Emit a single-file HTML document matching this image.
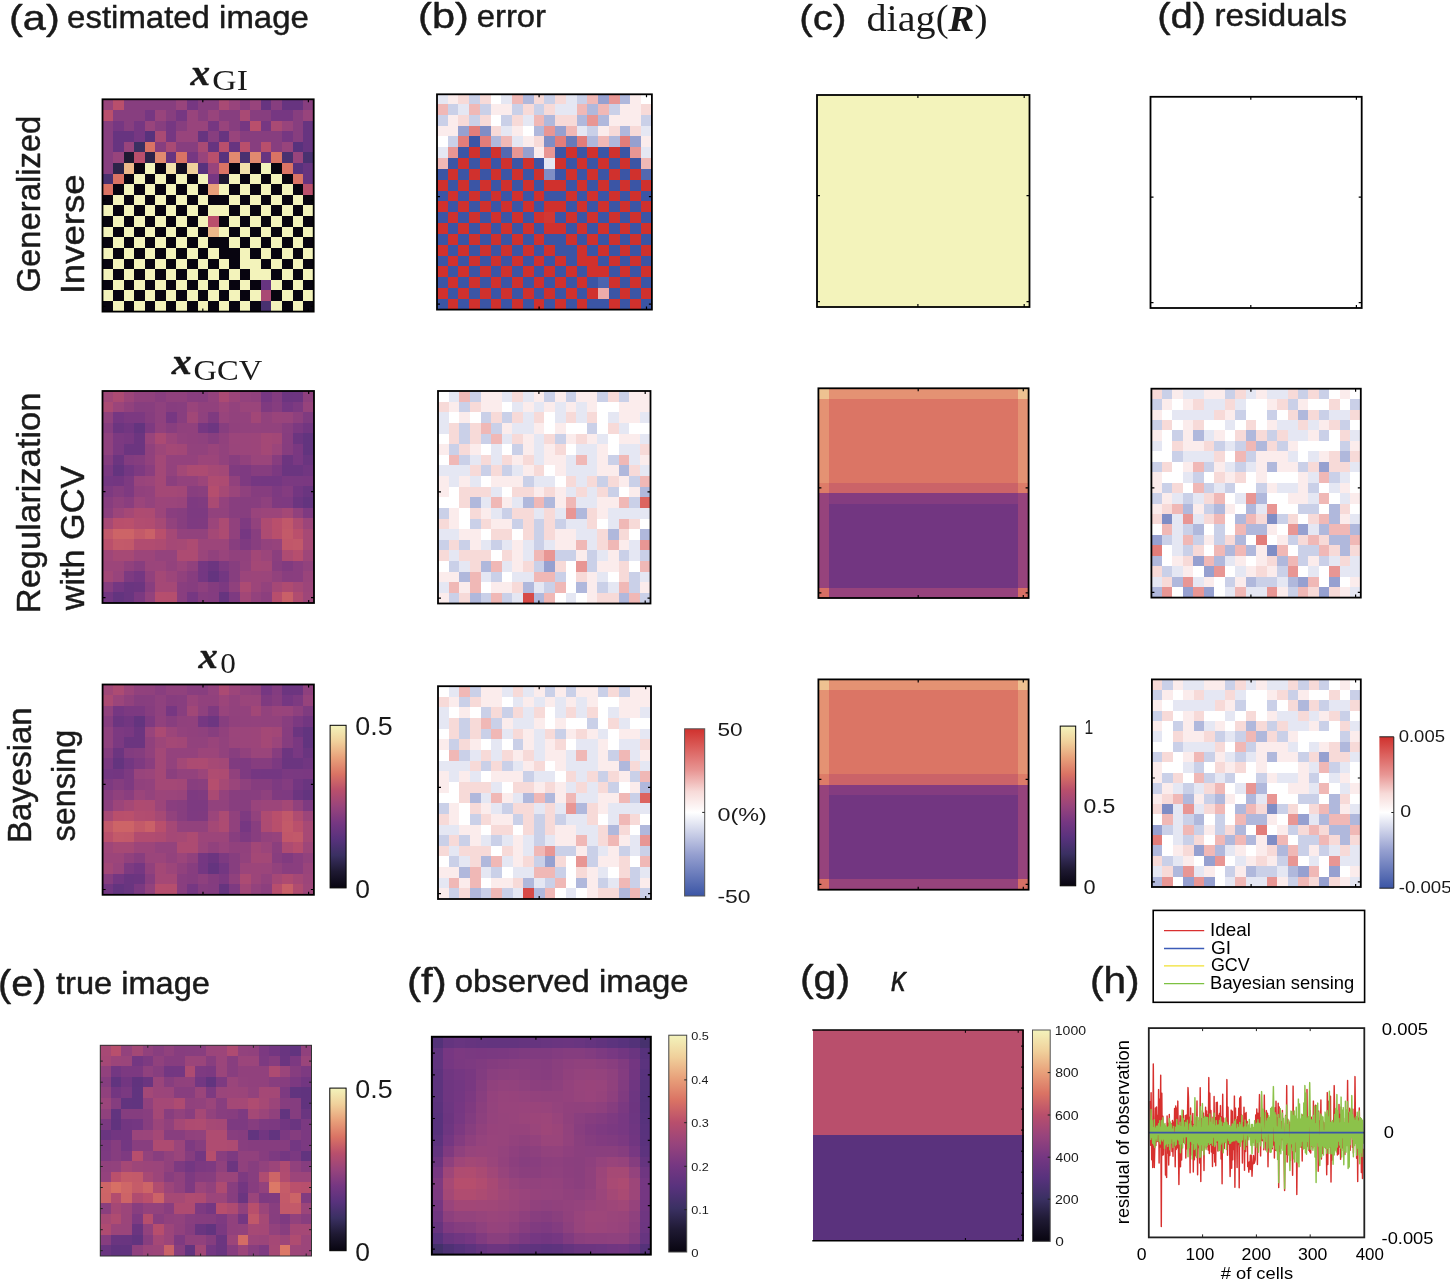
<!DOCTYPE html>
<html lang="en"><head><meta charset="utf-8"><title>Figure</title>
<style>html,body{margin:0;padding:0;background:#fff}svg{display:block}</style></head><body>
<svg width="1450" height="1285" viewBox="0 0 1450 1285">
<rect width="1450" height="1285" fill="#fff"/>
<text transform="translate(9.01 29.80) scale(1.1519 1.0000)" font-family="&quot;Liberation Sans&quot;,Arial,Helvetica,sans-serif" font-size="36.00" stroke="#1a1a1a" stroke-width="0.45" stroke-linejoin="round" fill="#1a1a1a">(a)</text>
<text transform="translate(67.11 28.40) scale(1.0299 1.0000)" font-family="&quot;Liberation Sans&quot;,Arial,Helvetica,sans-serif" font-size="32.00" stroke="#1a1a1a" stroke-width="0.45" stroke-linejoin="round" fill="#1a1a1a">estimated image</text>
<text transform="translate(418.11 27.60) scale(1.1519 1.0000)" font-family="&quot;Liberation Sans&quot;,Arial,Helvetica,sans-serif" font-size="36.00" stroke="#1a1a1a" stroke-width="0.45" stroke-linejoin="round" fill="#1a1a1a">(b)</text>
<text transform="translate(476.72 26.80) scale(1.0258 1.0000)" font-family="&quot;Liberation Sans&quot;,Arial,Helvetica,sans-serif" font-size="32.00" stroke="#1a1a1a" stroke-width="0.45" stroke-linejoin="round" fill="#1a1a1a">error</text>
<text transform="translate(799.27 29.60) scale(1.1227 1.0000)" font-family="&quot;Liberation Sans&quot;,Arial,Helvetica,sans-serif" font-size="36.00" stroke="#1a1a1a" stroke-width="0.45" stroke-linejoin="round" fill="#1a1a1a">(c)</text>
<text transform="translate(866.55 30.70) scale(1.0834 1.0000)" font-family="&quot;Liberation Serif&quot;,&quot;Times New Roman&quot;,serif" font-size="37.00" fill="#1a1a1a">diag</text>
<text transform="translate(935.63 30.70) scale(1.0462 1.0000)" font-family="&quot;Liberation Serif&quot;,&quot;Times New Roman&quot;,serif" font-size="37.00" fill="#1a1a1a">(</text>
<text transform="translate(948.30 30.70) scale(1.0739 1.0000)" font-family="&quot;Liberation Serif&quot;,&quot;Times New Roman&quot;,serif" font-size="36.50" font-weight="bold" font-style="italic" fill="#1a1a1a">R</text>
<text transform="translate(974.57 30.70) scale(1.0632 1.0000)" font-family="&quot;Liberation Serif&quot;,&quot;Times New Roman&quot;,serif" font-size="37.00" fill="#1a1a1a">)</text>
<text transform="translate(1157.19 28.00) scale(1.1139 1.0000)" font-family="&quot;Liberation Sans&quot;,Arial,Helvetica,sans-serif" font-size="36.00" stroke="#1a1a1a" stroke-width="0.45" stroke-linejoin="round" fill="#1a1a1a">(d)</text>
<text transform="translate(1214.53 25.80) scale(1.0341 1.0000)" font-family="&quot;Liberation Sans&quot;,Arial,Helvetica,sans-serif" font-size="32.00" stroke="#1a1a1a" stroke-width="0.45" stroke-linejoin="round" fill="#1a1a1a">residuals</text>
<text transform="translate(-1.98 995.50) scale(1.1013 1.0000)" font-family="&quot;Liberation Sans&quot;,Arial,Helvetica,sans-serif" font-size="36.00" stroke="#1a1a1a" stroke-width="0.45" stroke-linejoin="round" fill="#1a1a1a">(e)</text>
<text transform="translate(55.99 994.00) scale(1.0187 1.0000)" font-family="&quot;Liberation Sans&quot;,Arial,Helvetica,sans-serif" font-size="32.00" stroke="#1a1a1a" stroke-width="0.45" stroke-linejoin="round" fill="#1a1a1a">true image</text>
<text transform="translate(407.08 993.60) scale(1.1661 1.0000)" font-family="&quot;Liberation Sans&quot;,Arial,Helvetica,sans-serif" font-size="36.00" stroke="#1a1a1a" stroke-width="0.45" stroke-linejoin="round" fill="#1a1a1a">(f)</text>
<text transform="translate(454.72 992.00) scale(1.0273 1.0000)" font-family="&quot;Liberation Sans&quot;,Arial,Helvetica,sans-serif" font-size="32.00" stroke="#1a1a1a" stroke-width="0.45" stroke-linejoin="round" fill="#1a1a1a">observed image</text>
<text transform="translate(799.90 990.50) scale(1.1092 1.0000)" font-family="&quot;Liberation Sans&quot;,Arial,Helvetica,sans-serif" font-size="37.00" stroke="#1a1a1a" stroke-width="0.45" stroke-linejoin="round" fill="#1a1a1a">(g)</text>
<text transform="translate(890.88 991.00) scale(0.8438 1.0000)" font-family="&quot;Liberation Sans&quot;,Arial,Helvetica,sans-serif" font-size="35.00" font-style="italic" stroke="#1a1a1a" stroke-width="0.45" stroke-linejoin="round" fill="#1a1a1a">κ</text>
<text transform="translate(1089.93 992.70) scale(1.0969 1.0000)" font-family="&quot;Liberation Sans&quot;,Arial,Helvetica,sans-serif" font-size="37.00" stroke="#1a1a1a" stroke-width="0.45" stroke-linejoin="round" fill="#1a1a1a">(h)</text>
<text transform="translate(190.55 85.00) scale(1.1086 1.0000)" font-family="&quot;Liberation Serif&quot;,&quot;Times New Roman&quot;,serif" font-size="35.50" font-weight="bold" font-style="italic" stroke="#1a1a1a" stroke-width="0.30" stroke-linejoin="round" fill="#1a1a1a">x</text>
<text transform="translate(212.27 90.00) scale(1.1443 1.0000)" font-family="&quot;Liberation Serif&quot;,&quot;Times New Roman&quot;,serif" font-size="29.50" fill="#1a1a1a">GI</text>
<text transform="translate(171.77 374.10) scale(1.1314 1.0000)" font-family="&quot;Liberation Serif&quot;,&quot;Times New Roman&quot;,serif" font-size="35.50" font-weight="bold" font-style="italic" stroke="#1a1a1a" stroke-width="0.30" stroke-linejoin="round" fill="#1a1a1a">x</text>
<text transform="translate(193.52 379.60) scale(1.1045 1.0000)" font-family="&quot;Liberation Serif&quot;,&quot;Times New Roman&quot;,serif" font-size="29.50" fill="#1a1a1a">GCV</text>
<text transform="translate(198.55 667.80) scale(1.0914 1.0000)" font-family="&quot;Liberation Serif&quot;,&quot;Times New Roman&quot;,serif" font-size="35.50" font-weight="bold" font-style="italic" stroke="#1a1a1a" stroke-width="0.30" stroke-linejoin="round" fill="#1a1a1a">x</text>
<text transform="translate(220.24 673.00) scale(1.0588 1.0000)" font-family="&quot;Liberation Serif&quot;,&quot;Times New Roman&quot;,serif" font-size="29.50" fill="#1a1a1a">0</text>
<text transform="translate(40.40 292.50) rotate(-90) scale(1.0000 1.0000)" font-family="&quot;Liberation Sans&quot;,Arial,Helvetica,sans-serif" font-size="32.80" stroke="#1a1a1a" stroke-width="0.45" stroke-linejoin="round" fill="#1a1a1a">Generalized</text>
<text transform="translate(83.70 294.35) rotate(-90) scale(1.1165 1.0000)" font-family="&quot;Liberation Sans&quot;,Arial,Helvetica,sans-serif" font-size="32.80" stroke="#1a1a1a" stroke-width="0.45" stroke-linejoin="round" fill="#1a1a1a">Inverse</text>
<text transform="translate(40.40 613.30) rotate(-90) scale(1.0533 1.0000)" font-family="&quot;Liberation Sans&quot;,Arial,Helvetica,sans-serif" font-size="32.80" stroke="#1a1a1a" stroke-width="0.45" stroke-linejoin="round" fill="#1a1a1a">Regularization</text>
<text transform="translate(83.70 610.20) rotate(-90) scale(1.0430 1.0000)" font-family="&quot;Liberation Sans&quot;,Arial,Helvetica,sans-serif" font-size="32.80" stroke="#1a1a1a" stroke-width="0.45" stroke-linejoin="round" fill="#1a1a1a">with GCV</text>
<text transform="translate(31.30 842.96) rotate(-90) scale(1.0050 1.0000)" font-family="&quot;Liberation Sans&quot;,Arial,Helvetica,sans-serif" font-size="32.80" stroke="#1a1a1a" stroke-width="0.45" stroke-linejoin="round" fill="#1a1a1a">Bayesian</text>
<text transform="translate(74.80 841.59) rotate(-90) scale(0.9895 1.0000)" font-family="&quot;Liberation Sans&quot;,Arial,Helvetica,sans-serif" font-size="32.80" stroke="#1a1a1a" stroke-width="0.45" stroke-linejoin="round" fill="#1a1a1a">sensing</text>
<g shape-rendering="crispEdges">
<rect x="102.50" y="99.30" width="10.86" height="10.91" fill="#98447c"/>
<rect x="113.06" y="99.30" width="10.86" height="10.91" fill="#b94f6c"/>
<rect x="123.62" y="99.30" width="53.10" height="10.91" fill="#873e7f"/>
<rect x="176.42" y="99.30" width="10.86" height="10.91" fill="#98447c"/>
<rect x="186.98" y="99.30" width="10.86" height="10.91" fill="#763782"/>
<rect x="197.54" y="99.30" width="21.42" height="10.91" fill="#873e7f"/>
<rect x="218.66" y="99.30" width="10.86" height="10.91" fill="#a94a74"/>
<rect x="229.22" y="99.30" width="10.86" height="10.91" fill="#98447c"/>
<rect x="239.78" y="99.30" width="10.86" height="10.91" fill="#873e7f"/>
<rect x="250.34" y="99.30" width="10.86" height="10.91" fill="#98447c"/>
<rect x="260.90" y="99.30" width="10.86" height="10.91" fill="#673480"/>
<rect x="271.46" y="99.30" width="10.86" height="10.91" fill="#873e7f"/>
<rect x="282.02" y="99.30" width="21.42" height="10.91" fill="#673480"/>
<rect x="303.14" y="99.30" width="10.86" height="10.91" fill="#873e7f"/>
<rect x="102.50" y="109.91" width="10.86" height="10.92" fill="#b94f6c"/>
<rect x="113.06" y="109.91" width="31.98" height="10.92" fill="#873e7f"/>
<rect x="144.74" y="109.91" width="10.86" height="10.92" fill="#763782"/>
<rect x="155.30" y="109.91" width="10.86" height="10.92" fill="#98447c"/>
<rect x="165.86" y="109.91" width="10.86" height="10.92" fill="#873e7f"/>
<rect x="176.42" y="109.91" width="10.86" height="10.92" fill="#763782"/>
<rect x="186.98" y="109.91" width="10.86" height="10.92" fill="#98447c"/>
<rect x="197.54" y="109.91" width="10.86" height="10.92" fill="#873e7f"/>
<rect x="208.10" y="109.91" width="10.86" height="10.92" fill="#98447c"/>
<rect x="218.66" y="109.91" width="21.42" height="10.92" fill="#873e7f"/>
<rect x="239.78" y="109.91" width="10.86" height="10.92" fill="#a94a74"/>
<rect x="250.34" y="109.91" width="21.42" height="10.92" fill="#873e7f"/>
<rect x="271.46" y="109.91" width="21.42" height="10.92" fill="#763782"/>
<rect x="292.58" y="109.91" width="10.86" height="10.92" fill="#873e7f"/>
<rect x="303.14" y="109.91" width="10.86" height="10.92" fill="#98447c"/>
<rect x="102.50" y="120.53" width="10.86" height="10.91" fill="#873e7f"/>
<rect x="113.06" y="120.53" width="10.86" height="10.91" fill="#763782"/>
<rect x="123.62" y="120.53" width="10.86" height="10.91" fill="#873e7f"/>
<rect x="134.18" y="120.53" width="10.86" height="10.91" fill="#763782"/>
<rect x="144.74" y="120.53" width="10.86" height="10.91" fill="#98447c"/>
<rect x="155.30" y="120.53" width="10.86" height="10.91" fill="#873e7f"/>
<rect x="165.86" y="120.53" width="10.86" height="10.91" fill="#763782"/>
<rect x="176.42" y="120.53" width="10.86" height="10.91" fill="#873e7f"/>
<rect x="186.98" y="120.53" width="21.42" height="10.91" fill="#98447c"/>
<rect x="208.10" y="120.53" width="10.86" height="10.91" fill="#763782"/>
<rect x="218.66" y="120.53" width="10.86" height="10.91" fill="#98447c"/>
<rect x="229.22" y="120.53" width="10.86" height="10.91" fill="#873e7f"/>
<rect x="239.78" y="120.53" width="10.86" height="10.91" fill="#763782"/>
<rect x="250.34" y="120.53" width="10.86" height="10.91" fill="#b94f6c"/>
<rect x="260.90" y="120.53" width="10.86" height="10.91" fill="#763782"/>
<rect x="271.46" y="120.53" width="10.86" height="10.91" fill="#a94a74"/>
<rect x="282.02" y="120.53" width="10.86" height="10.91" fill="#98447c"/>
<rect x="292.58" y="120.53" width="10.86" height="10.91" fill="#873e7f"/>
<rect x="303.14" y="120.53" width="10.86" height="10.91" fill="#673480"/>
<rect x="102.50" y="131.14" width="10.86" height="10.92" fill="#873e7f"/>
<rect x="113.06" y="131.14" width="21.42" height="10.92" fill="#673480"/>
<rect x="134.18" y="131.14" width="10.86" height="10.92" fill="#763782"/>
<rect x="144.74" y="131.14" width="10.86" height="10.92" fill="#58327d"/>
<rect x="155.30" y="131.14" width="10.86" height="10.92" fill="#a94a74"/>
<rect x="165.86" y="131.14" width="10.86" height="10.92" fill="#763782"/>
<rect x="176.42" y="131.14" width="21.42" height="10.92" fill="#98447c"/>
<rect x="197.54" y="131.14" width="10.86" height="10.92" fill="#673480"/>
<rect x="208.10" y="131.14" width="10.86" height="10.92" fill="#873e7f"/>
<rect x="218.66" y="131.14" width="10.86" height="10.92" fill="#673480"/>
<rect x="229.22" y="131.14" width="10.86" height="10.92" fill="#98447c"/>
<rect x="239.78" y="131.14" width="42.54" height="10.92" fill="#873e7f"/>
<rect x="282.02" y="131.14" width="10.86" height="10.92" fill="#763782"/>
<rect x="292.58" y="131.14" width="10.86" height="10.92" fill="#873e7f"/>
<rect x="303.14" y="131.14" width="10.86" height="10.92" fill="#673480"/>
<rect x="102.50" y="141.76" width="10.86" height="10.92" fill="#873e7f"/>
<rect x="113.06" y="141.76" width="10.86" height="10.92" fill="#673480"/>
<rect x="123.62" y="141.76" width="10.86" height="10.92" fill="#98447c"/>
<rect x="134.18" y="141.76" width="10.86" height="10.92" fill="#3a3062"/>
<rect x="144.74" y="141.76" width="10.86" height="10.92" fill="#da7364"/>
<rect x="155.30" y="141.76" width="10.86" height="10.92" fill="#873e7f"/>
<rect x="165.86" y="141.76" width="10.86" height="10.92" fill="#a94a74"/>
<rect x="176.42" y="141.76" width="21.42" height="10.92" fill="#873e7f"/>
<rect x="197.54" y="141.76" width="10.86" height="10.92" fill="#a94a74"/>
<rect x="208.10" y="141.76" width="10.86" height="10.92" fill="#673480"/>
<rect x="218.66" y="141.76" width="10.86" height="10.92" fill="#b94f6c"/>
<rect x="229.22" y="141.76" width="10.86" height="10.92" fill="#673480"/>
<rect x="239.78" y="141.76" width="10.86" height="10.92" fill="#b94f6c"/>
<rect x="250.34" y="141.76" width="10.86" height="10.92" fill="#873e7f"/>
<rect x="260.90" y="141.76" width="10.86" height="10.92" fill="#b94f6c"/>
<rect x="271.46" y="141.76" width="10.86" height="10.92" fill="#873e7f"/>
<rect x="282.02" y="141.76" width="10.86" height="10.92" fill="#98447c"/>
<rect x="292.58" y="141.76" width="10.86" height="10.92" fill="#58327d"/>
<rect x="303.14" y="141.76" width="10.86" height="10.92" fill="#673480"/>
<rect x="102.50" y="152.38" width="10.86" height="10.92" fill="#873e7f"/>
<rect x="113.06" y="152.38" width="10.86" height="10.92" fill="#98447c"/>
<rect x="123.62" y="152.38" width="10.86" height="10.92" fill="#1e1932"/>
<rect x="134.18" y="152.38" width="10.86" height="10.92" fill="#b94f6c"/>
<rect x="144.74" y="152.38" width="10.86" height="10.92" fill="#2c244a"/>
<rect x="155.30" y="152.38" width="10.86" height="10.92" fill="#e18a6f"/>
<rect x="165.86" y="152.38" width="10.86" height="10.92" fill="#673480"/>
<rect x="176.42" y="152.38" width="10.86" height="10.92" fill="#da7364"/>
<rect x="186.98" y="152.38" width="10.86" height="10.92" fill="#763782"/>
<rect x="197.54" y="152.38" width="10.86" height="10.92" fill="#98447c"/>
<rect x="208.10" y="152.38" width="10.86" height="10.92" fill="#b94f6c"/>
<rect x="218.66" y="152.38" width="10.86" height="10.92" fill="#58327d"/>
<rect x="229.22" y="152.38" width="10.86" height="10.92" fill="#e18a6f"/>
<rect x="239.78" y="152.38" width="10.86" height="10.92" fill="#493170"/>
<rect x="250.34" y="152.38" width="10.86" height="10.92" fill="#e18a6f"/>
<rect x="260.90" y="152.38" width="10.86" height="10.92" fill="#673480"/>
<rect x="271.46" y="152.38" width="10.86" height="10.92" fill="#da7364"/>
<rect x="282.02" y="152.38" width="10.86" height="10.92" fill="#493170"/>
<rect x="292.58" y="152.38" width="10.86" height="10.92" fill="#98447c"/>
<rect x="303.14" y="152.38" width="10.86" height="10.92" fill="#493170"/>
<rect x="102.50" y="162.99" width="10.86" height="10.92" fill="#873e7f"/>
<rect x="113.06" y="162.99" width="10.86" height="10.92" fill="#2c244a"/>
<rect x="123.62" y="162.99" width="10.86" height="10.92" fill="#ecb88a"/>
<rect x="134.18" y="162.99" width="10.86" height="10.92" fill="#080510"/>
<rect x="144.74" y="162.99" width="10.86" height="10.92" fill="#f3f3bb"/>
<rect x="155.30" y="162.99" width="10.86" height="10.92" fill="#080510"/>
<rect x="165.86" y="162.99" width="10.86" height="10.92" fill="#f2e1ab"/>
<rect x="176.42" y="162.99" width="10.86" height="10.92" fill="#130f21"/>
<rect x="186.98" y="162.99" width="10.86" height="10.92" fill="#f0d09b"/>
<rect x="197.54" y="162.99" width="10.86" height="10.92" fill="#58327d"/>
<rect x="208.10" y="162.99" width="10.86" height="10.92" fill="#98447c"/>
<rect x="218.66" y="162.99" width="10.86" height="10.92" fill="#da7364"/>
<rect x="229.22" y="162.99" width="10.86" height="10.92" fill="#080510"/>
<rect x="239.78" y="162.99" width="10.86" height="10.92" fill="#f2e1ab"/>
<rect x="250.34" y="162.99" width="10.86" height="10.92" fill="#080510"/>
<rect x="260.90" y="162.99" width="10.86" height="10.92" fill="#f3f3bb"/>
<rect x="271.46" y="162.99" width="10.86" height="10.92" fill="#080510"/>
<rect x="282.02" y="162.99" width="10.86" height="10.92" fill="#da7364"/>
<rect x="292.58" y="162.99" width="10.86" height="10.92" fill="#58327d"/>
<rect x="303.14" y="162.99" width="10.86" height="10.92" fill="#673480"/>
<rect x="102.50" y="173.61" width="10.86" height="10.91" fill="#493170"/>
<rect x="113.06" y="173.61" width="10.86" height="10.91" fill="#da7364"/>
<rect x="123.62" y="173.61" width="10.86" height="10.91" fill="#080510"/>
<rect x="134.18" y="173.61" width="10.86" height="10.91" fill="#f3f3bb"/>
<rect x="144.74" y="173.61" width="10.86" height="10.91" fill="#080510"/>
<rect x="155.30" y="173.61" width="10.86" height="10.91" fill="#f3f3bb"/>
<rect x="165.86" y="173.61" width="10.86" height="10.91" fill="#080510"/>
<rect x="176.42" y="173.61" width="10.86" height="10.91" fill="#f3f3bb"/>
<rect x="186.98" y="173.61" width="10.86" height="10.91" fill="#080510"/>
<rect x="197.54" y="173.61" width="10.86" height="10.91" fill="#f3f3bb"/>
<rect x="208.10" y="173.61" width="10.86" height="10.91" fill="#763782"/>
<rect x="218.66" y="173.61" width="10.86" height="10.91" fill="#1e1932"/>
<rect x="229.22" y="173.61" width="10.86" height="10.91" fill="#f3f3bb"/>
<rect x="239.78" y="173.61" width="10.86" height="10.91" fill="#080510"/>
<rect x="250.34" y="173.61" width="10.86" height="10.91" fill="#f3f3bb"/>
<rect x="260.90" y="173.61" width="10.86" height="10.91" fill="#080510"/>
<rect x="271.46" y="173.61" width="10.86" height="10.91" fill="#f3f3bb"/>
<rect x="282.02" y="173.61" width="10.86" height="10.91" fill="#080510"/>
<rect x="292.58" y="173.61" width="10.86" height="10.91" fill="#da7364"/>
<rect x="303.14" y="173.61" width="10.86" height="10.91" fill="#673480"/>
<rect x="102.50" y="184.22" width="10.86" height="10.91" fill="#da7364"/>
<rect x="113.06" y="184.22" width="10.86" height="10.91" fill="#080510"/>
<rect x="123.62" y="184.22" width="10.86" height="10.91" fill="#f3f3bb"/>
<rect x="134.18" y="184.22" width="10.86" height="10.91" fill="#080510"/>
<rect x="144.74" y="184.22" width="10.86" height="10.91" fill="#f3f3bb"/>
<rect x="155.30" y="184.22" width="10.86" height="10.91" fill="#080510"/>
<rect x="165.86" y="184.22" width="10.86" height="10.91" fill="#f3f3bb"/>
<rect x="176.42" y="184.22" width="10.86" height="10.91" fill="#080510"/>
<rect x="186.98" y="184.22" width="10.86" height="10.91" fill="#f3f3bb"/>
<rect x="197.54" y="184.22" width="10.86" height="10.91" fill="#080510"/>
<rect x="208.10" y="184.22" width="10.86" height="10.91" fill="#e8a07a"/>
<rect x="218.66" y="184.22" width="10.86" height="10.91" fill="#f3f3bb"/>
<rect x="229.22" y="184.22" width="10.86" height="10.91" fill="#080510"/>
<rect x="239.78" y="184.22" width="10.86" height="10.91" fill="#f3f3bb"/>
<rect x="250.34" y="184.22" width="10.86" height="10.91" fill="#080510"/>
<rect x="260.90" y="184.22" width="10.86" height="10.91" fill="#f3f3bb"/>
<rect x="271.46" y="184.22" width="10.86" height="10.91" fill="#080510"/>
<rect x="282.02" y="184.22" width="10.86" height="10.91" fill="#f3f3bb"/>
<rect x="292.58" y="184.22" width="10.86" height="10.91" fill="#080510"/>
<rect x="303.14" y="184.22" width="10.86" height="10.91" fill="#b94f6c"/>
<rect x="102.50" y="194.83" width="10.86" height="10.92" fill="#080510"/>
<rect x="113.06" y="194.83" width="10.86" height="10.92" fill="#f3f3bb"/>
<rect x="123.62" y="194.83" width="10.86" height="10.92" fill="#080510"/>
<rect x="134.18" y="194.83" width="10.86" height="10.92" fill="#f3f3bb"/>
<rect x="144.74" y="194.83" width="10.86" height="10.92" fill="#080510"/>
<rect x="155.30" y="194.83" width="10.86" height="10.92" fill="#f3f3bb"/>
<rect x="165.86" y="194.83" width="10.86" height="10.92" fill="#080510"/>
<rect x="176.42" y="194.83" width="10.86" height="10.92" fill="#f3f3bb"/>
<rect x="186.98" y="194.83" width="10.86" height="10.92" fill="#080510"/>
<rect x="197.54" y="194.83" width="10.86" height="10.92" fill="#f3f3bb"/>
<rect x="208.10" y="194.83" width="21.42" height="10.92" fill="#080510"/>
<rect x="229.22" y="194.83" width="10.86" height="10.92" fill="#f3f3bb"/>
<rect x="239.78" y="194.83" width="10.86" height="10.92" fill="#080510"/>
<rect x="250.34" y="194.83" width="10.86" height="10.92" fill="#f3f3bb"/>
<rect x="260.90" y="194.83" width="10.86" height="10.92" fill="#080510"/>
<rect x="271.46" y="194.83" width="10.86" height="10.92" fill="#f3f3bb"/>
<rect x="282.02" y="194.83" width="10.86" height="10.92" fill="#080510"/>
<rect x="292.58" y="194.83" width="10.86" height="10.92" fill="#f3f3bb"/>
<rect x="303.14" y="194.83" width="10.86" height="10.92" fill="#080510"/>
<rect x="102.50" y="205.45" width="10.86" height="10.92" fill="#f3f3bb"/>
<rect x="113.06" y="205.45" width="10.86" height="10.92" fill="#080510"/>
<rect x="123.62" y="205.45" width="10.86" height="10.92" fill="#f3f3bb"/>
<rect x="134.18" y="205.45" width="10.86" height="10.92" fill="#080510"/>
<rect x="144.74" y="205.45" width="10.86" height="10.92" fill="#f3f3bb"/>
<rect x="155.30" y="205.45" width="10.86" height="10.92" fill="#080510"/>
<rect x="165.86" y="205.45" width="10.86" height="10.92" fill="#f3f3bb"/>
<rect x="176.42" y="205.45" width="10.86" height="10.92" fill="#080510"/>
<rect x="186.98" y="205.45" width="10.86" height="10.92" fill="#f3f3bb"/>
<rect x="197.54" y="205.45" width="10.86" height="10.92" fill="#080510"/>
<rect x="208.10" y="205.45" width="21.42" height="10.92" fill="#f3f3bb"/>
<rect x="229.22" y="205.45" width="10.86" height="10.92" fill="#080510"/>
<rect x="239.78" y="205.45" width="10.86" height="10.92" fill="#f3f3bb"/>
<rect x="250.34" y="205.45" width="10.86" height="10.92" fill="#080510"/>
<rect x="260.90" y="205.45" width="10.86" height="10.92" fill="#f3f3bb"/>
<rect x="271.46" y="205.45" width="10.86" height="10.92" fill="#080510"/>
<rect x="282.02" y="205.45" width="10.86" height="10.92" fill="#f3f3bb"/>
<rect x="292.58" y="205.45" width="10.86" height="10.92" fill="#080510"/>
<rect x="303.14" y="205.45" width="10.86" height="10.92" fill="#f3f3bb"/>
<rect x="102.50" y="216.06" width="10.86" height="10.92" fill="#080510"/>
<rect x="113.06" y="216.06" width="10.86" height="10.92" fill="#f3f3bb"/>
<rect x="123.62" y="216.06" width="10.86" height="10.92" fill="#080510"/>
<rect x="134.18" y="216.06" width="10.86" height="10.92" fill="#f3f3bb"/>
<rect x="144.74" y="216.06" width="10.86" height="10.92" fill="#080510"/>
<rect x="155.30" y="216.06" width="10.86" height="10.92" fill="#f3f3bb"/>
<rect x="165.86" y="216.06" width="10.86" height="10.92" fill="#080510"/>
<rect x="176.42" y="216.06" width="10.86" height="10.92" fill="#f3f3bb"/>
<rect x="186.98" y="216.06" width="10.86" height="10.92" fill="#080510"/>
<rect x="197.54" y="216.06" width="10.86" height="10.92" fill="#f3f3bb"/>
<rect x="208.10" y="216.06" width="10.86" height="10.92" fill="#b94f6c"/>
<rect x="218.66" y="216.06" width="10.86" height="10.92" fill="#080510"/>
<rect x="229.22" y="216.06" width="10.86" height="10.92" fill="#f3f3bb"/>
<rect x="239.78" y="216.06" width="10.86" height="10.92" fill="#080510"/>
<rect x="250.34" y="216.06" width="10.86" height="10.92" fill="#f3f3bb"/>
<rect x="260.90" y="216.06" width="10.86" height="10.92" fill="#080510"/>
<rect x="271.46" y="216.06" width="10.86" height="10.92" fill="#f3f3bb"/>
<rect x="282.02" y="216.06" width="10.86" height="10.92" fill="#080510"/>
<rect x="292.58" y="216.06" width="10.86" height="10.92" fill="#f3f3bb"/>
<rect x="303.14" y="216.06" width="10.86" height="10.92" fill="#080510"/>
<rect x="102.50" y="226.68" width="10.86" height="10.92" fill="#f3f3bb"/>
<rect x="113.06" y="226.68" width="10.86" height="10.92" fill="#080510"/>
<rect x="123.62" y="226.68" width="10.86" height="10.92" fill="#f3f3bb"/>
<rect x="134.18" y="226.68" width="10.86" height="10.92" fill="#080510"/>
<rect x="144.74" y="226.68" width="10.86" height="10.92" fill="#f3f3bb"/>
<rect x="155.30" y="226.68" width="10.86" height="10.92" fill="#080510"/>
<rect x="165.86" y="226.68" width="10.86" height="10.92" fill="#f3f3bb"/>
<rect x="176.42" y="226.68" width="10.86" height="10.92" fill="#080510"/>
<rect x="186.98" y="226.68" width="10.86" height="10.92" fill="#f3f3bb"/>
<rect x="197.54" y="226.68" width="10.86" height="10.92" fill="#080510"/>
<rect x="208.10" y="226.68" width="10.86" height="10.92" fill="#ecb88a"/>
<rect x="218.66" y="226.68" width="10.86" height="10.92" fill="#f3f3bb"/>
<rect x="229.22" y="226.68" width="10.86" height="10.92" fill="#080510"/>
<rect x="239.78" y="226.68" width="10.86" height="10.92" fill="#f3f3bb"/>
<rect x="250.34" y="226.68" width="10.86" height="10.92" fill="#080510"/>
<rect x="260.90" y="226.68" width="10.86" height="10.92" fill="#f3f3bb"/>
<rect x="271.46" y="226.68" width="10.86" height="10.92" fill="#080510"/>
<rect x="282.02" y="226.68" width="10.86" height="10.92" fill="#f3f3bb"/>
<rect x="292.58" y="226.68" width="10.86" height="10.92" fill="#080510"/>
<rect x="303.14" y="226.68" width="10.86" height="10.92" fill="#f3f3bb"/>
<rect x="102.50" y="237.30" width="10.86" height="10.92" fill="#080510"/>
<rect x="113.06" y="237.30" width="10.86" height="10.92" fill="#f3f3bb"/>
<rect x="123.62" y="237.30" width="10.86" height="10.92" fill="#080510"/>
<rect x="134.18" y="237.30" width="10.86" height="10.92" fill="#f3f3bb"/>
<rect x="144.74" y="237.30" width="10.86" height="10.92" fill="#080510"/>
<rect x="155.30" y="237.30" width="10.86" height="10.92" fill="#f3f3bb"/>
<rect x="165.86" y="237.30" width="10.86" height="10.92" fill="#080510"/>
<rect x="176.42" y="237.30" width="10.86" height="10.92" fill="#f3f3bb"/>
<rect x="186.98" y="237.30" width="10.86" height="10.92" fill="#080510"/>
<rect x="197.54" y="237.30" width="10.86" height="10.92" fill="#f3f3bb"/>
<rect x="208.10" y="237.30" width="21.42" height="10.92" fill="#080510"/>
<rect x="229.22" y="237.30" width="10.86" height="10.92" fill="#f3f3bb"/>
<rect x="239.78" y="237.30" width="10.86" height="10.92" fill="#080510"/>
<rect x="250.34" y="237.30" width="10.86" height="10.92" fill="#f3f3bb"/>
<rect x="260.90" y="237.30" width="10.86" height="10.92" fill="#080510"/>
<rect x="271.46" y="237.30" width="10.86" height="10.92" fill="#f3f3bb"/>
<rect x="282.02" y="237.30" width="10.86" height="10.92" fill="#080510"/>
<rect x="292.58" y="237.30" width="10.86" height="10.92" fill="#f3f3bb"/>
<rect x="303.14" y="237.30" width="10.86" height="10.92" fill="#080510"/>
<rect x="102.50" y="247.91" width="10.86" height="10.91" fill="#f3f3bb"/>
<rect x="113.06" y="247.91" width="10.86" height="10.91" fill="#080510"/>
<rect x="123.62" y="247.91" width="10.86" height="10.91" fill="#f3f3bb"/>
<rect x="134.18" y="247.91" width="10.86" height="10.91" fill="#080510"/>
<rect x="144.74" y="247.91" width="10.86" height="10.91" fill="#f3f3bb"/>
<rect x="155.30" y="247.91" width="10.86" height="10.91" fill="#080510"/>
<rect x="165.86" y="247.91" width="10.86" height="10.91" fill="#f3f3bb"/>
<rect x="176.42" y="247.91" width="10.86" height="10.91" fill="#080510"/>
<rect x="186.98" y="247.91" width="10.86" height="10.91" fill="#f3f3bb"/>
<rect x="197.54" y="247.91" width="10.86" height="10.91" fill="#080510"/>
<rect x="208.10" y="247.91" width="10.86" height="10.91" fill="#f3f3bb"/>
<rect x="218.66" y="247.91" width="21.42" height="10.91" fill="#080510"/>
<rect x="239.78" y="247.91" width="10.86" height="10.91" fill="#f3f3bb"/>
<rect x="250.34" y="247.91" width="10.86" height="10.91" fill="#080510"/>
<rect x="260.90" y="247.91" width="10.86" height="10.91" fill="#f3f3bb"/>
<rect x="271.46" y="247.91" width="10.86" height="10.91" fill="#080510"/>
<rect x="282.02" y="247.91" width="10.86" height="10.91" fill="#f3f3bb"/>
<rect x="292.58" y="247.91" width="10.86" height="10.91" fill="#080510"/>
<rect x="303.14" y="247.91" width="10.86" height="10.91" fill="#f3f3bb"/>
<rect x="102.50" y="258.52" width="10.86" height="10.92" fill="#080510"/>
<rect x="113.06" y="258.52" width="10.86" height="10.92" fill="#f3f3bb"/>
<rect x="123.62" y="258.52" width="10.86" height="10.92" fill="#080510"/>
<rect x="134.18" y="258.52" width="10.86" height="10.92" fill="#f3f3bb"/>
<rect x="144.74" y="258.52" width="10.86" height="10.92" fill="#080510"/>
<rect x="155.30" y="258.52" width="10.86" height="10.92" fill="#f3f3bb"/>
<rect x="165.86" y="258.52" width="10.86" height="10.92" fill="#080510"/>
<rect x="176.42" y="258.52" width="10.86" height="10.92" fill="#f3f3bb"/>
<rect x="186.98" y="258.52" width="10.86" height="10.92" fill="#080510"/>
<rect x="197.54" y="258.52" width="10.86" height="10.92" fill="#f3f3bb"/>
<rect x="208.10" y="258.52" width="10.86" height="10.92" fill="#080510"/>
<rect x="218.66" y="258.52" width="10.86" height="10.92" fill="#f3f3bb"/>
<rect x="229.22" y="258.52" width="10.86" height="10.92" fill="#080510"/>
<rect x="239.78" y="258.52" width="21.42" height="10.92" fill="#f3f3bb"/>
<rect x="260.90" y="258.52" width="10.86" height="10.92" fill="#080510"/>
<rect x="271.46" y="258.52" width="10.86" height="10.92" fill="#f3f3bb"/>
<rect x="282.02" y="258.52" width="10.86" height="10.92" fill="#080510"/>
<rect x="292.58" y="258.52" width="10.86" height="10.92" fill="#f3f3bb"/>
<rect x="303.14" y="258.52" width="10.86" height="10.92" fill="#080510"/>
<rect x="102.50" y="269.14" width="10.86" height="10.92" fill="#f3f3bb"/>
<rect x="113.06" y="269.14" width="10.86" height="10.92" fill="#080510"/>
<rect x="123.62" y="269.14" width="10.86" height="10.92" fill="#f3f3bb"/>
<rect x="134.18" y="269.14" width="10.86" height="10.92" fill="#080510"/>
<rect x="144.74" y="269.14" width="10.86" height="10.92" fill="#f3f3bb"/>
<rect x="155.30" y="269.14" width="10.86" height="10.92" fill="#080510"/>
<rect x="165.86" y="269.14" width="10.86" height="10.92" fill="#f3f3bb"/>
<rect x="176.42" y="269.14" width="10.86" height="10.92" fill="#080510"/>
<rect x="186.98" y="269.14" width="10.86" height="10.92" fill="#f3f3bb"/>
<rect x="197.54" y="269.14" width="10.86" height="10.92" fill="#080510"/>
<rect x="208.10" y="269.14" width="10.86" height="10.92" fill="#f3f3bb"/>
<rect x="218.66" y="269.14" width="10.86" height="10.92" fill="#080510"/>
<rect x="229.22" y="269.14" width="10.86" height="10.92" fill="#f3f3bb"/>
<rect x="239.78" y="269.14" width="10.86" height="10.92" fill="#080510"/>
<rect x="250.34" y="269.14" width="21.42" height="10.92" fill="#f3f3bb"/>
<rect x="271.46" y="269.14" width="10.86" height="10.92" fill="#080510"/>
<rect x="282.02" y="269.14" width="10.86" height="10.92" fill="#f3f3bb"/>
<rect x="292.58" y="269.14" width="10.86" height="10.92" fill="#080510"/>
<rect x="303.14" y="269.14" width="10.86" height="10.92" fill="#f3f3bb"/>
<rect x="102.50" y="279.75" width="10.86" height="10.92" fill="#080510"/>
<rect x="113.06" y="279.75" width="10.86" height="10.92" fill="#f3f3bb"/>
<rect x="123.62" y="279.75" width="10.86" height="10.92" fill="#080510"/>
<rect x="134.18" y="279.75" width="10.86" height="10.92" fill="#f3f3bb"/>
<rect x="144.74" y="279.75" width="10.86" height="10.92" fill="#080510"/>
<rect x="155.30" y="279.75" width="10.86" height="10.92" fill="#f3f3bb"/>
<rect x="165.86" y="279.75" width="10.86" height="10.92" fill="#080510"/>
<rect x="176.42" y="279.75" width="10.86" height="10.92" fill="#f3f3bb"/>
<rect x="186.98" y="279.75" width="10.86" height="10.92" fill="#080510"/>
<rect x="197.54" y="279.75" width="10.86" height="10.92" fill="#f3f3bb"/>
<rect x="208.10" y="279.75" width="10.86" height="10.92" fill="#080510"/>
<rect x="218.66" y="279.75" width="10.86" height="10.92" fill="#f3f3bb"/>
<rect x="229.22" y="279.75" width="10.86" height="10.92" fill="#080510"/>
<rect x="239.78" y="279.75" width="10.86" height="10.92" fill="#f3f3bb"/>
<rect x="250.34" y="279.75" width="10.86" height="10.92" fill="#080510"/>
<rect x="260.90" y="279.75" width="10.86" height="10.92" fill="#673480"/>
<rect x="271.46" y="279.75" width="10.86" height="10.92" fill="#f3f3bb"/>
<rect x="282.02" y="279.75" width="10.86" height="10.92" fill="#080510"/>
<rect x="292.58" y="279.75" width="10.86" height="10.92" fill="#f3f3bb"/>
<rect x="303.14" y="279.75" width="10.86" height="10.92" fill="#080510"/>
<rect x="102.50" y="290.37" width="10.86" height="10.92" fill="#f3f3bb"/>
<rect x="113.06" y="290.37" width="10.86" height="10.92" fill="#080510"/>
<rect x="123.62" y="290.37" width="10.86" height="10.92" fill="#f3f3bb"/>
<rect x="134.18" y="290.37" width="10.86" height="10.92" fill="#080510"/>
<rect x="144.74" y="290.37" width="10.86" height="10.92" fill="#f3f3bb"/>
<rect x="155.30" y="290.37" width="10.86" height="10.92" fill="#080510"/>
<rect x="165.86" y="290.37" width="10.86" height="10.92" fill="#f3f3bb"/>
<rect x="176.42" y="290.37" width="10.86" height="10.92" fill="#080510"/>
<rect x="186.98" y="290.37" width="10.86" height="10.92" fill="#f3f3bb"/>
<rect x="197.54" y="290.37" width="10.86" height="10.92" fill="#080510"/>
<rect x="208.10" y="290.37" width="10.86" height="10.92" fill="#f3f3bb"/>
<rect x="218.66" y="290.37" width="10.86" height="10.92" fill="#080510"/>
<rect x="229.22" y="290.37" width="10.86" height="10.92" fill="#f3f3bb"/>
<rect x="239.78" y="290.37" width="10.86" height="10.92" fill="#080510"/>
<rect x="250.34" y="290.37" width="10.86" height="10.92" fill="#f3f3bb"/>
<rect x="260.90" y="290.37" width="10.86" height="10.92" fill="#a94a74"/>
<rect x="271.46" y="290.37" width="10.86" height="10.92" fill="#080510"/>
<rect x="282.02" y="290.37" width="10.86" height="10.92" fill="#f3f3bb"/>
<rect x="292.58" y="290.37" width="10.86" height="10.92" fill="#080510"/>
<rect x="303.14" y="290.37" width="10.86" height="10.92" fill="#f3f3bb"/>
<rect x="102.50" y="300.99" width="10.86" height="10.92" fill="#080510"/>
<rect x="113.06" y="300.99" width="10.86" height="10.92" fill="#f3f3bb"/>
<rect x="123.62" y="300.99" width="10.86" height="10.92" fill="#080510"/>
<rect x="134.18" y="300.99" width="10.86" height="10.92" fill="#f3f3bb"/>
<rect x="144.74" y="300.99" width="10.86" height="10.92" fill="#080510"/>
<rect x="155.30" y="300.99" width="10.86" height="10.92" fill="#f3f3bb"/>
<rect x="165.86" y="300.99" width="10.86" height="10.92" fill="#080510"/>
<rect x="176.42" y="300.99" width="10.86" height="10.92" fill="#f3f3bb"/>
<rect x="186.98" y="300.99" width="10.86" height="10.92" fill="#080510"/>
<rect x="197.54" y="300.99" width="10.86" height="10.92" fill="#f3f3bb"/>
<rect x="208.10" y="300.99" width="10.86" height="10.92" fill="#080510"/>
<rect x="218.66" y="300.99" width="10.86" height="10.92" fill="#f3f3bb"/>
<rect x="229.22" y="300.99" width="10.86" height="10.92" fill="#080510"/>
<rect x="239.78" y="300.99" width="10.86" height="10.92" fill="#f3f3bb"/>
<rect x="250.34" y="300.99" width="10.86" height="10.92" fill="#080510"/>
<rect x="260.90" y="300.99" width="10.86" height="10.92" fill="#493170"/>
<rect x="271.46" y="300.99" width="10.86" height="10.92" fill="#f3f3bb"/>
<rect x="282.02" y="300.99" width="10.86" height="10.92" fill="#080510"/>
<rect x="292.58" y="300.99" width="10.86" height="10.92" fill="#f3f3bb"/>
<rect x="303.14" y="300.99" width="10.86" height="10.92" fill="#080510"/>
</g>
<rect x="102.50" y="99.30" width="211.20" height="212.30" fill="none" stroke="#000" stroke-width="1.80"/>
<g shape-rendering="crispEdges">
<rect x="437.00" y="94.30" width="11.05" height="10.02" fill="#e5e7f3"/>
<rect x="447.75" y="94.30" width="11.05" height="10.02" fill="#fbecec"/>
<rect x="458.49" y="94.30" width="11.05" height="10.02" fill="#f7dad8"/>
<rect x="469.24" y="94.30" width="11.05" height="10.02" fill="#cad0e8"/>
<rect x="479.98" y="94.30" width="11.05" height="10.02" fill="#f7dad8"/>
<rect x="490.73" y="94.30" width="11.05" height="10.02" fill="#ffffff"/>
<rect x="501.47" y="94.30" width="11.05" height="10.02" fill="#e5e7f3"/>
<rect x="512.22" y="94.30" width="11.05" height="10.02" fill="#f0b8b6"/>
<rect x="522.96" y="94.30" width="11.05" height="10.02" fill="#b0b8dc"/>
<rect x="533.71" y="94.30" width="11.05" height="10.02" fill="#f7dad8"/>
<rect x="544.45" y="94.30" width="11.04" height="10.02" fill="#cad0e8"/>
<rect x="555.19" y="94.30" width="11.05" height="10.02" fill="#f7dad8"/>
<rect x="565.94" y="94.30" width="11.04" height="10.02" fill="#e5e7f3"/>
<rect x="576.68" y="94.30" width="11.05" height="10.02" fill="#cad0e8"/>
<rect x="587.43" y="94.30" width="11.05" height="10.02" fill="#f0b8b6"/>
<rect x="598.17" y="94.30" width="11.05" height="10.02" fill="#96a0d0"/>
<rect x="608.92" y="94.30" width="11.05" height="10.02" fill="#e89694"/>
<rect x="619.66" y="94.30" width="11.05" height="10.02" fill="#b0b8dc"/>
<rect x="630.41" y="94.30" width="11.05" height="10.02" fill="#fbecec"/>
<rect x="641.15" y="94.30" width="11.05" height="10.02" fill="#ffffff"/>
<rect x="437.00" y="104.02" width="11.05" height="11.12" fill="#f0b8b6"/>
<rect x="447.75" y="104.02" width="11.05" height="11.12" fill="#cad0e8"/>
<rect x="458.49" y="104.02" width="11.05" height="11.12" fill="#e5e7f3"/>
<rect x="469.24" y="104.02" width="11.05" height="11.12" fill="#f0b8b6"/>
<rect x="479.98" y="104.02" width="11.05" height="11.12" fill="#cad0e8"/>
<rect x="490.73" y="104.02" width="21.79" height="11.12" fill="#fbecec"/>
<rect x="512.22" y="104.02" width="11.05" height="11.12" fill="#cad0e8"/>
<rect x="522.96" y="104.02" width="11.05" height="11.12" fill="#f7dad8"/>
<rect x="533.71" y="104.02" width="11.05" height="11.12" fill="#cad0e8"/>
<rect x="544.45" y="104.02" width="11.04" height="11.12" fill="#f7dad8"/>
<rect x="555.19" y="104.02" width="21.79" height="11.12" fill="#e5e7f3"/>
<rect x="576.68" y="104.02" width="11.05" height="11.12" fill="#f0b8b6"/>
<rect x="587.43" y="104.02" width="11.05" height="11.12" fill="#b0b8dc"/>
<rect x="598.17" y="104.02" width="11.05" height="11.12" fill="#f0b8b6"/>
<rect x="608.92" y="104.02" width="11.05" height="11.12" fill="#cad0e8"/>
<rect x="619.66" y="104.02" width="21.79" height="11.12" fill="#fbecec"/>
<rect x="641.15" y="104.02" width="11.05" height="11.12" fill="#f7dad8"/>
<rect x="437.00" y="114.84" width="11.05" height="11.12" fill="#cad0e8"/>
<rect x="447.75" y="114.84" width="11.05" height="11.12" fill="#fbecec"/>
<rect x="458.49" y="114.84" width="11.05" height="11.12" fill="#f7dad8"/>
<rect x="469.24" y="114.84" width="11.05" height="11.12" fill="#cad0e8"/>
<rect x="479.98" y="114.84" width="11.05" height="11.12" fill="#f7dad8"/>
<rect x="490.73" y="114.84" width="11.05" height="11.12" fill="#ffffff"/>
<rect x="501.47" y="114.84" width="11.05" height="11.12" fill="#cad0e8"/>
<rect x="512.22" y="114.84" width="11.05" height="11.12" fill="#f7dad8"/>
<rect x="522.96" y="114.84" width="11.05" height="11.12" fill="#e5e7f3"/>
<rect x="533.71" y="114.84" width="11.05" height="11.12" fill="#f0b8b6"/>
<rect x="544.45" y="114.84" width="11.04" height="11.12" fill="#b0b8dc"/>
<rect x="555.19" y="114.84" width="21.79" height="11.12" fill="#f7dad8"/>
<rect x="576.68" y="114.84" width="11.05" height="11.12" fill="#b0b8dc"/>
<rect x="587.43" y="114.84" width="11.05" height="11.12" fill="#e89694"/>
<rect x="598.17" y="114.84" width="11.05" height="11.12" fill="#b0b8dc"/>
<rect x="608.92" y="114.84" width="32.54" height="11.12" fill="#fbecec"/>
<rect x="641.15" y="114.84" width="11.05" height="11.12" fill="#cad0e8"/>
<rect x="437.00" y="125.66" width="21.79" height="11.12" fill="#fbecec"/>
<rect x="458.49" y="125.66" width="11.05" height="11.12" fill="#96a0d0"/>
<rect x="469.24" y="125.66" width="11.05" height="11.12" fill="#e27d7a"/>
<rect x="479.98" y="125.66" width="11.05" height="11.12" fill="#7f8dc5"/>
<rect x="490.73" y="125.66" width="11.05" height="11.12" fill="#f7dad8"/>
<rect x="501.47" y="125.66" width="11.05" height="11.12" fill="#e5e7f3"/>
<rect x="512.22" y="125.66" width="11.05" height="11.12" fill="#fbecec"/>
<rect x="522.96" y="125.66" width="11.05" height="11.12" fill="#ffffff"/>
<rect x="533.71" y="125.66" width="11.05" height="11.12" fill="#b0b8dc"/>
<rect x="544.45" y="125.66" width="11.04" height="11.12" fill="#e89694"/>
<rect x="555.19" y="125.66" width="11.05" height="11.12" fill="#96a0d0"/>
<rect x="565.94" y="125.66" width="11.04" height="11.12" fill="#f0b8b6"/>
<rect x="576.68" y="125.66" width="11.05" height="11.12" fill="#e5e7f3"/>
<rect x="587.43" y="125.66" width="11.05" height="11.12" fill="#cad0e8"/>
<rect x="598.17" y="125.66" width="11.05" height="11.12" fill="#fbecec"/>
<rect x="608.92" y="125.66" width="11.05" height="11.12" fill="#f7dad8"/>
<rect x="619.66" y="125.66" width="11.05" height="11.12" fill="#b0b8dc"/>
<rect x="630.41" y="125.66" width="11.05" height="11.12" fill="#f7dad8"/>
<rect x="641.15" y="125.66" width="11.05" height="11.12" fill="#e5e7f3"/>
<rect x="437.00" y="136.48" width="11.05" height="11.12" fill="#ffffff"/>
<rect x="447.75" y="136.48" width="11.05" height="11.12" fill="#cad0e8"/>
<rect x="458.49" y="136.48" width="11.05" height="11.12" fill="#e27d7a"/>
<rect x="469.24" y="136.48" width="11.05" height="11.12" fill="#3b55a5"/>
<rect x="479.98" y="136.48" width="11.05" height="11.12" fill="#e27d7a"/>
<rect x="490.73" y="136.48" width="11.05" height="11.12" fill="#b0b8dc"/>
<rect x="501.47" y="136.48" width="11.05" height="11.12" fill="#f0b8b6"/>
<rect x="512.22" y="136.48" width="11.05" height="11.12" fill="#e5e7f3"/>
<rect x="522.96" y="136.48" width="11.05" height="11.12" fill="#fbecec"/>
<rect x="533.71" y="136.48" width="11.05" height="11.12" fill="#f7dad8"/>
<rect x="544.45" y="136.48" width="11.04" height="11.12" fill="#7f8dc5"/>
<rect x="555.19" y="136.48" width="11.05" height="11.12" fill="#e27d7a"/>
<rect x="565.94" y="136.48" width="11.04" height="11.12" fill="#687aba"/>
<rect x="576.68" y="136.48" width="11.05" height="11.12" fill="#e27d7a"/>
<rect x="587.43" y="136.48" width="11.05" height="11.12" fill="#b0b8dc"/>
<rect x="598.17" y="136.48" width="11.05" height="11.12" fill="#f0b8b6"/>
<rect x="608.92" y="136.48" width="11.05" height="11.12" fill="#b0b8dc"/>
<rect x="619.66" y="136.48" width="11.05" height="11.12" fill="#e27d7a"/>
<rect x="630.41" y="136.48" width="11.05" height="11.12" fill="#96a0d0"/>
<rect x="641.15" y="136.48" width="11.05" height="11.12" fill="#fbecec"/>
<rect x="437.00" y="147.30" width="11.05" height="11.12" fill="#e5e7f3"/>
<rect x="447.75" y="147.30" width="11.05" height="11.12" fill="#e89694"/>
<rect x="458.49" y="147.30" width="11.05" height="11.12" fill="#3b55a5"/>
<rect x="469.24" y="147.30" width="11.05" height="11.12" fill="#d0312d"/>
<rect x="479.98" y="147.30" width="11.05" height="11.12" fill="#3b55a5"/>
<rect x="490.73" y="147.30" width="11.05" height="11.12" fill="#d0312d"/>
<rect x="501.47" y="147.30" width="11.05" height="11.12" fill="#5268b0"/>
<rect x="512.22" y="147.30" width="11.05" height="11.12" fill="#e89694"/>
<rect x="522.96" y="147.30" width="11.05" height="11.12" fill="#96a0d0"/>
<rect x="533.71" y="147.30" width="11.05" height="11.12" fill="#fbecec"/>
<rect x="544.45" y="147.30" width="11.04" height="11.12" fill="#e89694"/>
<rect x="555.19" y="147.30" width="11.05" height="11.12" fill="#3b55a5"/>
<rect x="565.94" y="147.30" width="11.04" height="11.12" fill="#d0312d"/>
<rect x="576.68" y="147.30" width="11.05" height="11.12" fill="#3b55a5"/>
<rect x="587.43" y="147.30" width="11.05" height="11.12" fill="#d0312d"/>
<rect x="598.17" y="147.30" width="11.05" height="11.12" fill="#3b55a5"/>
<rect x="608.92" y="147.30" width="11.05" height="11.12" fill="#d0312d"/>
<rect x="619.66" y="147.30" width="11.05" height="11.12" fill="#3b55a5"/>
<rect x="630.41" y="147.30" width="11.05" height="11.12" fill="#e89694"/>
<rect x="641.15" y="147.30" width="11.05" height="11.12" fill="#e5e7f3"/>
<rect x="437.00" y="158.12" width="11.05" height="11.12" fill="#f0b8b6"/>
<rect x="447.75" y="158.12" width="11.05" height="11.12" fill="#3b55a5"/>
<rect x="458.49" y="158.12" width="11.05" height="11.12" fill="#d0312d"/>
<rect x="469.24" y="158.12" width="11.05" height="11.12" fill="#3b55a5"/>
<rect x="479.98" y="158.12" width="11.05" height="11.12" fill="#d0312d"/>
<rect x="490.73" y="158.12" width="11.05" height="11.12" fill="#3b55a5"/>
<rect x="501.47" y="158.12" width="11.05" height="11.12" fill="#d0312d"/>
<rect x="512.22" y="158.12" width="11.05" height="11.12" fill="#3b55a5"/>
<rect x="522.96" y="158.12" width="11.05" height="11.12" fill="#d0312d"/>
<rect x="533.71" y="158.12" width="11.05" height="11.12" fill="#3b55a5"/>
<rect x="544.45" y="158.12" width="11.04" height="11.12" fill="#e5e7f3"/>
<rect x="555.19" y="158.12" width="11.05" height="11.12" fill="#d0312d"/>
<rect x="565.94" y="158.12" width="11.04" height="11.12" fill="#3b55a5"/>
<rect x="576.68" y="158.12" width="11.05" height="11.12" fill="#d0312d"/>
<rect x="587.43" y="158.12" width="11.05" height="11.12" fill="#3b55a5"/>
<rect x="598.17" y="158.12" width="11.05" height="11.12" fill="#d0312d"/>
<rect x="608.92" y="158.12" width="11.05" height="11.12" fill="#3b55a5"/>
<rect x="619.66" y="158.12" width="11.05" height="11.12" fill="#d0312d"/>
<rect x="630.41" y="158.12" width="11.05" height="11.12" fill="#3b55a5"/>
<rect x="641.15" y="158.12" width="11.05" height="11.12" fill="#f0b8b6"/>
<rect x="437.00" y="168.94" width="11.05" height="11.12" fill="#3b55a5"/>
<rect x="447.75" y="168.94" width="11.05" height="11.12" fill="#d0312d"/>
<rect x="458.49" y="168.94" width="11.05" height="11.12" fill="#3b55a5"/>
<rect x="469.24" y="168.94" width="11.05" height="11.12" fill="#d0312d"/>
<rect x="479.98" y="168.94" width="11.05" height="11.12" fill="#3b55a5"/>
<rect x="490.73" y="168.94" width="11.05" height="11.12" fill="#d0312d"/>
<rect x="501.47" y="168.94" width="11.05" height="11.12" fill="#3b55a5"/>
<rect x="512.22" y="168.94" width="11.05" height="11.12" fill="#d0312d"/>
<rect x="522.96" y="168.94" width="11.05" height="11.12" fill="#3b55a5"/>
<rect x="533.71" y="168.94" width="11.05" height="11.12" fill="#d0312d"/>
<rect x="544.45" y="168.94" width="11.04" height="11.12" fill="#7f8dc5"/>
<rect x="555.19" y="168.94" width="11.05" height="11.12" fill="#3b55a5"/>
<rect x="565.94" y="168.94" width="11.04" height="11.12" fill="#d0312d"/>
<rect x="576.68" y="168.94" width="11.05" height="11.12" fill="#3b55a5"/>
<rect x="587.43" y="168.94" width="11.05" height="11.12" fill="#d0312d"/>
<rect x="598.17" y="168.94" width="11.05" height="11.12" fill="#3b55a5"/>
<rect x="608.92" y="168.94" width="11.05" height="11.12" fill="#d0312d"/>
<rect x="619.66" y="168.94" width="11.05" height="11.12" fill="#3b55a5"/>
<rect x="630.41" y="168.94" width="11.05" height="11.12" fill="#d0312d"/>
<rect x="641.15" y="168.94" width="11.05" height="11.12" fill="#5268b0"/>
<rect x="437.00" y="179.76" width="11.05" height="11.12" fill="#d0312d"/>
<rect x="447.75" y="179.76" width="11.05" height="11.12" fill="#3b55a5"/>
<rect x="458.49" y="179.76" width="11.05" height="11.12" fill="#d0312d"/>
<rect x="469.24" y="179.76" width="11.05" height="11.12" fill="#3b55a5"/>
<rect x="479.98" y="179.76" width="11.05" height="11.12" fill="#d0312d"/>
<rect x="490.73" y="179.76" width="11.05" height="11.12" fill="#3b55a5"/>
<rect x="501.47" y="179.76" width="11.05" height="11.12" fill="#d0312d"/>
<rect x="512.22" y="179.76" width="11.05" height="11.12" fill="#3b55a5"/>
<rect x="522.96" y="179.76" width="11.05" height="11.12" fill="#d0312d"/>
<rect x="533.71" y="179.76" width="11.05" height="11.12" fill="#3b55a5"/>
<rect x="544.45" y="179.76" width="21.79" height="11.12" fill="#d0312d"/>
<rect x="565.94" y="179.76" width="11.04" height="11.12" fill="#3b55a5"/>
<rect x="576.68" y="179.76" width="11.05" height="11.12" fill="#d0312d"/>
<rect x="587.43" y="179.76" width="11.05" height="11.12" fill="#3b55a5"/>
<rect x="598.17" y="179.76" width="11.05" height="11.12" fill="#d0312d"/>
<rect x="608.92" y="179.76" width="11.05" height="11.12" fill="#3b55a5"/>
<rect x="619.66" y="179.76" width="11.05" height="11.12" fill="#d0312d"/>
<rect x="630.41" y="179.76" width="11.05" height="11.12" fill="#3b55a5"/>
<rect x="641.15" y="179.76" width="11.05" height="11.12" fill="#d0312d"/>
<rect x="437.00" y="190.58" width="11.05" height="11.12" fill="#3b55a5"/>
<rect x="447.75" y="190.58" width="11.05" height="11.12" fill="#d0312d"/>
<rect x="458.49" y="190.58" width="11.05" height="11.12" fill="#3b55a5"/>
<rect x="469.24" y="190.58" width="11.05" height="11.12" fill="#d0312d"/>
<rect x="479.98" y="190.58" width="11.05" height="11.12" fill="#3b55a5"/>
<rect x="490.73" y="190.58" width="11.05" height="11.12" fill="#d0312d"/>
<rect x="501.47" y="190.58" width="11.05" height="11.12" fill="#3b55a5"/>
<rect x="512.22" y="190.58" width="11.05" height="11.12" fill="#d0312d"/>
<rect x="522.96" y="190.58" width="11.05" height="11.12" fill="#3b55a5"/>
<rect x="533.71" y="190.58" width="11.05" height="11.12" fill="#d0312d"/>
<rect x="544.45" y="190.58" width="21.79" height="11.12" fill="#3b55a5"/>
<rect x="565.94" y="190.58" width="11.04" height="11.12" fill="#d0312d"/>
<rect x="576.68" y="190.58" width="11.05" height="11.12" fill="#3b55a5"/>
<rect x="587.43" y="190.58" width="11.05" height="11.12" fill="#d0312d"/>
<rect x="598.17" y="190.58" width="11.05" height="11.12" fill="#3b55a5"/>
<rect x="608.92" y="190.58" width="11.05" height="11.12" fill="#d0312d"/>
<rect x="619.66" y="190.58" width="11.05" height="11.12" fill="#3b55a5"/>
<rect x="630.41" y="190.58" width="11.05" height="11.12" fill="#d0312d"/>
<rect x="641.15" y="190.58" width="11.05" height="11.12" fill="#3b55a5"/>
<rect x="437.00" y="201.40" width="11.05" height="11.12" fill="#d0312d"/>
<rect x="447.75" y="201.40" width="11.05" height="11.12" fill="#3b55a5"/>
<rect x="458.49" y="201.40" width="11.05" height="11.12" fill="#d0312d"/>
<rect x="469.24" y="201.40" width="11.05" height="11.12" fill="#3b55a5"/>
<rect x="479.98" y="201.40" width="11.05" height="11.12" fill="#d0312d"/>
<rect x="490.73" y="201.40" width="11.05" height="11.12" fill="#3b55a5"/>
<rect x="501.47" y="201.40" width="11.05" height="11.12" fill="#d0312d"/>
<rect x="512.22" y="201.40" width="11.05" height="11.12" fill="#3b55a5"/>
<rect x="522.96" y="201.40" width="11.05" height="11.12" fill="#d0312d"/>
<rect x="533.71" y="201.40" width="11.05" height="11.12" fill="#3b55a5"/>
<rect x="544.45" y="201.40" width="21.79" height="11.12" fill="#d0312d"/>
<rect x="565.94" y="201.40" width="11.04" height="11.12" fill="#3b55a5"/>
<rect x="576.68" y="201.40" width="11.05" height="11.12" fill="#d0312d"/>
<rect x="587.43" y="201.40" width="11.05" height="11.12" fill="#3b55a5"/>
<rect x="598.17" y="201.40" width="11.05" height="11.12" fill="#d0312d"/>
<rect x="608.92" y="201.40" width="11.05" height="11.12" fill="#3b55a5"/>
<rect x="619.66" y="201.40" width="11.05" height="11.12" fill="#d0312d"/>
<rect x="630.41" y="201.40" width="11.05" height="11.12" fill="#3b55a5"/>
<rect x="641.15" y="201.40" width="11.05" height="11.12" fill="#d0312d"/>
<rect x="437.00" y="212.22" width="11.05" height="11.12" fill="#3b55a5"/>
<rect x="447.75" y="212.22" width="11.05" height="11.12" fill="#d0312d"/>
<rect x="458.49" y="212.22" width="11.05" height="11.12" fill="#3b55a5"/>
<rect x="469.24" y="212.22" width="11.05" height="11.12" fill="#d0312d"/>
<rect x="479.98" y="212.22" width="11.05" height="11.12" fill="#3b55a5"/>
<rect x="490.73" y="212.22" width="11.05" height="11.12" fill="#d0312d"/>
<rect x="501.47" y="212.22" width="11.05" height="11.12" fill="#3b55a5"/>
<rect x="512.22" y="212.22" width="11.05" height="11.12" fill="#d0312d"/>
<rect x="522.96" y="212.22" width="11.05" height="11.12" fill="#3b55a5"/>
<rect x="533.71" y="212.22" width="11.05" height="11.12" fill="#d0312d"/>
<rect x="544.45" y="212.22" width="11.04" height="11.12" fill="#d13733"/>
<rect x="555.19" y="212.22" width="11.05" height="11.12" fill="#3b55a5"/>
<rect x="565.94" y="212.22" width="11.04" height="11.12" fill="#d0312d"/>
<rect x="576.68" y="212.22" width="11.05" height="11.12" fill="#3b55a5"/>
<rect x="587.43" y="212.22" width="11.05" height="11.12" fill="#d0312d"/>
<rect x="598.17" y="212.22" width="11.05" height="11.12" fill="#3b55a5"/>
<rect x="608.92" y="212.22" width="11.05" height="11.12" fill="#d0312d"/>
<rect x="619.66" y="212.22" width="11.05" height="11.12" fill="#3b55a5"/>
<rect x="630.41" y="212.22" width="11.05" height="11.12" fill="#d0312d"/>
<rect x="641.15" y="212.22" width="11.05" height="11.12" fill="#3b55a5"/>
<rect x="437.00" y="223.04" width="11.05" height="11.12" fill="#d0312d"/>
<rect x="447.75" y="223.04" width="11.05" height="11.12" fill="#3b55a5"/>
<rect x="458.49" y="223.04" width="11.05" height="11.12" fill="#d0312d"/>
<rect x="469.24" y="223.04" width="11.05" height="11.12" fill="#3b55a5"/>
<rect x="479.98" y="223.04" width="11.05" height="11.12" fill="#d0312d"/>
<rect x="490.73" y="223.04" width="11.05" height="11.12" fill="#3b55a5"/>
<rect x="501.47" y="223.04" width="11.05" height="11.12" fill="#d0312d"/>
<rect x="512.22" y="223.04" width="11.05" height="11.12" fill="#3b55a5"/>
<rect x="522.96" y="223.04" width="11.05" height="11.12" fill="#d0312d"/>
<rect x="533.71" y="223.04" width="11.05" height="11.12" fill="#3b55a5"/>
<rect x="544.45" y="223.04" width="21.79" height="11.12" fill="#d0312d"/>
<rect x="565.94" y="223.04" width="11.04" height="11.12" fill="#3b55a5"/>
<rect x="576.68" y="223.04" width="11.05" height="11.12" fill="#d0312d"/>
<rect x="587.43" y="223.04" width="11.05" height="11.12" fill="#3b55a5"/>
<rect x="598.17" y="223.04" width="11.05" height="11.12" fill="#d0312d"/>
<rect x="608.92" y="223.04" width="11.05" height="11.12" fill="#3b55a5"/>
<rect x="619.66" y="223.04" width="11.05" height="11.12" fill="#d0312d"/>
<rect x="630.41" y="223.04" width="11.05" height="11.12" fill="#3b55a5"/>
<rect x="641.15" y="223.04" width="11.05" height="11.12" fill="#d0312d"/>
<rect x="437.00" y="233.86" width="11.05" height="11.12" fill="#3b55a5"/>
<rect x="447.75" y="233.86" width="11.05" height="11.12" fill="#d0312d"/>
<rect x="458.49" y="233.86" width="11.05" height="11.12" fill="#3b55a5"/>
<rect x="469.24" y="233.86" width="11.05" height="11.12" fill="#d0312d"/>
<rect x="479.98" y="233.86" width="11.05" height="11.12" fill="#3b55a5"/>
<rect x="490.73" y="233.86" width="11.05" height="11.12" fill="#d0312d"/>
<rect x="501.47" y="233.86" width="11.05" height="11.12" fill="#3b55a5"/>
<rect x="512.22" y="233.86" width="11.05" height="11.12" fill="#d0312d"/>
<rect x="522.96" y="233.86" width="11.05" height="11.12" fill="#3b55a5"/>
<rect x="533.71" y="233.86" width="11.05" height="11.12" fill="#d0312d"/>
<rect x="544.45" y="233.86" width="21.79" height="11.12" fill="#3b55a5"/>
<rect x="565.94" y="233.86" width="11.04" height="11.12" fill="#d0312d"/>
<rect x="576.68" y="233.86" width="11.05" height="11.12" fill="#3b55a5"/>
<rect x="587.43" y="233.86" width="11.05" height="11.12" fill="#d0312d"/>
<rect x="598.17" y="233.86" width="11.05" height="11.12" fill="#3b55a5"/>
<rect x="608.92" y="233.86" width="11.05" height="11.12" fill="#d0312d"/>
<rect x="619.66" y="233.86" width="11.05" height="11.12" fill="#3b55a5"/>
<rect x="630.41" y="233.86" width="11.05" height="11.12" fill="#d0312d"/>
<rect x="641.15" y="233.86" width="11.05" height="11.12" fill="#3b55a5"/>
<rect x="437.00" y="244.68" width="11.05" height="11.12" fill="#d0312d"/>
<rect x="447.75" y="244.68" width="11.05" height="11.12" fill="#3b55a5"/>
<rect x="458.49" y="244.68" width="11.05" height="11.12" fill="#d0312d"/>
<rect x="469.24" y="244.68" width="11.05" height="11.12" fill="#3b55a5"/>
<rect x="479.98" y="244.68" width="11.05" height="11.12" fill="#d0312d"/>
<rect x="490.73" y="244.68" width="11.05" height="11.12" fill="#3b55a5"/>
<rect x="501.47" y="244.68" width="11.05" height="11.12" fill="#d0312d"/>
<rect x="512.22" y="244.68" width="11.05" height="11.12" fill="#3b55a5"/>
<rect x="522.96" y="244.68" width="11.05" height="11.12" fill="#d0312d"/>
<rect x="533.71" y="244.68" width="11.05" height="11.12" fill="#3b55a5"/>
<rect x="544.45" y="244.68" width="11.04" height="11.12" fill="#d0312d"/>
<rect x="555.19" y="244.68" width="21.79" height="11.12" fill="#3b55a5"/>
<rect x="576.68" y="244.68" width="11.05" height="11.12" fill="#d0312d"/>
<rect x="587.43" y="244.68" width="11.05" height="11.12" fill="#3b55a5"/>
<rect x="598.17" y="244.68" width="11.05" height="11.12" fill="#d0312d"/>
<rect x="608.92" y="244.68" width="11.05" height="11.12" fill="#3b55a5"/>
<rect x="619.66" y="244.68" width="11.05" height="11.12" fill="#d0312d"/>
<rect x="630.41" y="244.68" width="11.05" height="11.12" fill="#3b55a5"/>
<rect x="641.15" y="244.68" width="11.05" height="11.12" fill="#d0312d"/>
<rect x="437.00" y="255.50" width="11.05" height="11.12" fill="#3b55a5"/>
<rect x="447.75" y="255.50" width="11.05" height="11.12" fill="#d0312d"/>
<rect x="458.49" y="255.50" width="11.05" height="11.12" fill="#3b55a5"/>
<rect x="469.24" y="255.50" width="11.05" height="11.12" fill="#d0312d"/>
<rect x="479.98" y="255.50" width="11.05" height="11.12" fill="#3b55a5"/>
<rect x="490.73" y="255.50" width="11.05" height="11.12" fill="#d0312d"/>
<rect x="501.47" y="255.50" width="11.05" height="11.12" fill="#3b55a5"/>
<rect x="512.22" y="255.50" width="11.05" height="11.12" fill="#d0312d"/>
<rect x="522.96" y="255.50" width="11.05" height="11.12" fill="#3b55a5"/>
<rect x="533.71" y="255.50" width="11.05" height="11.12" fill="#d0312d"/>
<rect x="544.45" y="255.50" width="11.04" height="11.12" fill="#3b55a5"/>
<rect x="555.19" y="255.50" width="11.05" height="11.12" fill="#d0312d"/>
<rect x="565.94" y="255.50" width="11.04" height="11.12" fill="#3b55a5"/>
<rect x="576.68" y="255.50" width="21.79" height="11.12" fill="#d0312d"/>
<rect x="598.17" y="255.50" width="11.05" height="11.12" fill="#3b55a5"/>
<rect x="608.92" y="255.50" width="11.05" height="11.12" fill="#d0312d"/>
<rect x="619.66" y="255.50" width="11.05" height="11.12" fill="#3b55a5"/>
<rect x="630.41" y="255.50" width="11.05" height="11.12" fill="#d0312d"/>
<rect x="641.15" y="255.50" width="11.05" height="11.12" fill="#3b55a5"/>
<rect x="437.00" y="266.32" width="11.05" height="11.12" fill="#d0312d"/>
<rect x="447.75" y="266.32" width="11.05" height="11.12" fill="#3b55a5"/>
<rect x="458.49" y="266.32" width="11.05" height="11.12" fill="#d0312d"/>
<rect x="469.24" y="266.32" width="11.05" height="11.12" fill="#3b55a5"/>
<rect x="479.98" y="266.32" width="11.05" height="11.12" fill="#d0312d"/>
<rect x="490.73" y="266.32" width="11.05" height="11.12" fill="#3b55a5"/>
<rect x="501.47" y="266.32" width="11.05" height="11.12" fill="#d0312d"/>
<rect x="512.22" y="266.32" width="11.05" height="11.12" fill="#3b55a5"/>
<rect x="522.96" y="266.32" width="11.05" height="11.12" fill="#d0312d"/>
<rect x="533.71" y="266.32" width="11.05" height="11.12" fill="#3b55a5"/>
<rect x="544.45" y="266.32" width="11.04" height="11.12" fill="#d0312d"/>
<rect x="555.19" y="266.32" width="11.05" height="11.12" fill="#3b55a5"/>
<rect x="565.94" y="266.32" width="11.04" height="11.12" fill="#d0312d"/>
<rect x="576.68" y="266.32" width="11.05" height="11.12" fill="#3b55a5"/>
<rect x="587.43" y="266.32" width="21.79" height="11.12" fill="#d0312d"/>
<rect x="608.92" y="266.32" width="11.05" height="11.12" fill="#3b55a5"/>
<rect x="619.66" y="266.32" width="11.05" height="11.12" fill="#d0312d"/>
<rect x="630.41" y="266.32" width="11.05" height="11.12" fill="#3b55a5"/>
<rect x="641.15" y="266.32" width="11.05" height="11.12" fill="#d0312d"/>
<rect x="437.00" y="277.14" width="11.05" height="11.12" fill="#3b55a5"/>
<rect x="447.75" y="277.14" width="11.05" height="11.12" fill="#d0312d"/>
<rect x="458.49" y="277.14" width="11.05" height="11.12" fill="#3b55a5"/>
<rect x="469.24" y="277.14" width="11.05" height="11.12" fill="#d0312d"/>
<rect x="479.98" y="277.14" width="11.05" height="11.12" fill="#3b55a5"/>
<rect x="490.73" y="277.14" width="11.05" height="11.12" fill="#d0312d"/>
<rect x="501.47" y="277.14" width="11.05" height="11.12" fill="#3b55a5"/>
<rect x="512.22" y="277.14" width="11.05" height="11.12" fill="#d0312d"/>
<rect x="522.96" y="277.14" width="11.05" height="11.12" fill="#3b55a5"/>
<rect x="533.71" y="277.14" width="11.05" height="11.12" fill="#d0312d"/>
<rect x="544.45" y="277.14" width="11.04" height="11.12" fill="#3b55a5"/>
<rect x="555.19" y="277.14" width="11.05" height="11.12" fill="#d0312d"/>
<rect x="565.94" y="277.14" width="11.04" height="11.12" fill="#3b55a5"/>
<rect x="576.68" y="277.14" width="11.05" height="11.12" fill="#d0312d"/>
<rect x="587.43" y="277.14" width="11.05" height="11.12" fill="#3b55a5"/>
<rect x="598.17" y="277.14" width="11.05" height="11.12" fill="#4d64ae"/>
<rect x="608.92" y="277.14" width="11.05" height="11.12" fill="#d0312d"/>
<rect x="619.66" y="277.14" width="11.05" height="11.12" fill="#3b55a5"/>
<rect x="630.41" y="277.14" width="11.05" height="11.12" fill="#d0312d"/>
<rect x="641.15" y="277.14" width="11.05" height="11.12" fill="#3b55a5"/>
<rect x="437.00" y="287.96" width="11.05" height="11.12" fill="#d0312d"/>
<rect x="447.75" y="287.96" width="11.05" height="11.12" fill="#3b55a5"/>
<rect x="458.49" y="287.96" width="11.05" height="11.12" fill="#d0312d"/>
<rect x="469.24" y="287.96" width="11.05" height="11.12" fill="#3b55a5"/>
<rect x="479.98" y="287.96" width="11.05" height="11.12" fill="#d0312d"/>
<rect x="490.73" y="287.96" width="11.05" height="11.12" fill="#3b55a5"/>
<rect x="501.47" y="287.96" width="11.05" height="11.12" fill="#d0312d"/>
<rect x="512.22" y="287.96" width="11.05" height="11.12" fill="#3b55a5"/>
<rect x="522.96" y="287.96" width="11.05" height="11.12" fill="#d0312d"/>
<rect x="533.71" y="287.96" width="11.05" height="11.12" fill="#3b55a5"/>
<rect x="544.45" y="287.96" width="11.04" height="11.12" fill="#d0312d"/>
<rect x="555.19" y="287.96" width="11.05" height="11.12" fill="#3b55a5"/>
<rect x="565.94" y="287.96" width="11.04" height="11.12" fill="#d0312d"/>
<rect x="576.68" y="287.96" width="11.05" height="11.12" fill="#3b55a5"/>
<rect x="587.43" y="287.96" width="11.05" height="11.12" fill="#d0312d"/>
<rect x="598.17" y="287.96" width="11.05" height="11.12" fill="#edacaa"/>
<rect x="608.92" y="287.96" width="11.05" height="11.12" fill="#3b55a5"/>
<rect x="619.66" y="287.96" width="11.05" height="11.12" fill="#d0312d"/>
<rect x="630.41" y="287.96" width="11.05" height="11.12" fill="#3b55a5"/>
<rect x="641.15" y="287.96" width="11.05" height="11.12" fill="#d0312d"/>
<rect x="437.00" y="298.78" width="11.05" height="11.12" fill="#3b55a5"/>
<rect x="447.75" y="298.78" width="11.05" height="11.12" fill="#d0312d"/>
<rect x="458.49" y="298.78" width="11.05" height="11.12" fill="#3b55a5"/>
<rect x="469.24" y="298.78" width="11.05" height="11.12" fill="#d0312d"/>
<rect x="479.98" y="298.78" width="11.05" height="11.12" fill="#3b55a5"/>
<rect x="490.73" y="298.78" width="11.05" height="11.12" fill="#d0312d"/>
<rect x="501.47" y="298.78" width="11.05" height="11.12" fill="#3b55a5"/>
<rect x="512.22" y="298.78" width="11.05" height="11.12" fill="#d0312d"/>
<rect x="522.96" y="298.78" width="11.05" height="11.12" fill="#3b55a5"/>
<rect x="533.71" y="298.78" width="11.05" height="11.12" fill="#d0312d"/>
<rect x="544.45" y="298.78" width="11.04" height="11.12" fill="#3b55a5"/>
<rect x="555.19" y="298.78" width="11.05" height="11.12" fill="#d0312d"/>
<rect x="565.94" y="298.78" width="11.04" height="11.12" fill="#3b55a5"/>
<rect x="576.68" y="298.78" width="11.05" height="11.12" fill="#d0312d"/>
<rect x="587.43" y="298.78" width="21.79" height="11.12" fill="#3b55a5"/>
<rect x="608.92" y="298.78" width="11.05" height="11.12" fill="#d0312d"/>
<rect x="619.66" y="298.78" width="11.05" height="11.12" fill="#3b55a5"/>
<rect x="630.41" y="298.78" width="11.05" height="11.12" fill="#d0312d"/>
<rect x="641.15" y="298.78" width="11.05" height="11.12" fill="#3b55a5"/>
</g>
<rect x="437.00" y="94.30" width="214.90" height="215.30" fill="none" stroke="#000" stroke-width="1.80"/>
<g shape-rendering="crispEdges">
<rect x="817.00" y="95.00" width="212.80" height="212.30" fill="#f3f3bb"/>
</g>
<rect x="817.00" y="95.00" width="212.50" height="212.00" fill="none" stroke="#000" stroke-width="1.80"/>
<g shape-rendering="crispEdges">
<rect x="1150.50" y="96.80" width="211.50" height="211.50" fill="#ffffff"/>
</g>
<rect x="1150.50" y="96.80" width="211.20" height="211.20" fill="none" stroke="#000" stroke-width="1.80"/>
<g shape-rendering="crispEdges">
<rect x="102.50" y="391.00" width="10.88" height="10.90" fill="#a04778"/>
<rect x="113.08" y="391.00" width="10.88" height="10.90" fill="#ac4b73"/>
<rect x="123.65" y="391.00" width="10.87" height="10.90" fill="#9c457a"/>
<rect x="134.22" y="391.00" width="10.88" height="10.90" fill="#91417d"/>
<rect x="144.80" y="391.00" width="10.87" height="10.90" fill="#90417d"/>
<rect x="155.38" y="391.00" width="10.87" height="10.90" fill="#893e7f"/>
<rect x="165.95" y="391.00" width="21.45" height="10.90" fill="#90417d"/>
<rect x="187.10" y="391.00" width="10.88" height="10.90" fill="#893e7f"/>
<rect x="197.68" y="391.00" width="10.87" height="10.90" fill="#883e7f"/>
<rect x="208.25" y="391.00" width="10.87" height="10.90" fill="#93427d"/>
<rect x="218.82" y="391.00" width="10.87" height="10.90" fill="#ab4a73"/>
<rect x="229.40" y="391.00" width="10.88" height="10.90" fill="#9c457a"/>
<rect x="239.97" y="391.00" width="10.87" height="10.90" fill="#93427d"/>
<rect x="250.55" y="391.00" width="10.88" height="10.90" fill="#90417d"/>
<rect x="261.12" y="391.00" width="10.87" height="10.90" fill="#763782"/>
<rect x="271.70" y="391.00" width="10.87" height="10.90" fill="#833c80"/>
<rect x="282.27" y="391.00" width="10.88" height="10.90" fill="#6c3580"/>
<rect x="292.85" y="391.00" width="10.87" height="10.90" fill="#6d3580"/>
<rect x="303.42" y="391.00" width="10.88" height="10.90" fill="#8e407e"/>
<rect x="102.50" y="401.60" width="10.88" height="10.90" fill="#ab4a73"/>
<rect x="113.08" y="401.60" width="10.88" height="10.90" fill="#9b457b"/>
<rect x="123.65" y="401.60" width="10.87" height="10.90" fill="#91417d"/>
<rect x="134.22" y="401.60" width="10.88" height="10.90" fill="#873e7f"/>
<rect x="144.80" y="401.60" width="10.87" height="10.90" fill="#883e7f"/>
<rect x="155.38" y="401.60" width="10.87" height="10.90" fill="#8f417e"/>
<rect x="165.95" y="401.60" width="10.87" height="10.90" fill="#873d7f"/>
<rect x="176.52" y="401.60" width="10.88" height="10.90" fill="#883e7f"/>
<rect x="187.10" y="401.60" width="10.88" height="10.90" fill="#99447b"/>
<rect x="197.68" y="401.60" width="21.45" height="10.90" fill="#91417d"/>
<rect x="218.82" y="401.60" width="10.87" height="10.90" fill="#9c457a"/>
<rect x="229.40" y="401.60" width="10.88" height="10.90" fill="#93427d"/>
<rect x="239.97" y="401.60" width="21.45" height="10.90" fill="#9a457b"/>
<rect x="261.12" y="401.60" width="10.87" height="10.90" fill="#7f3a80"/>
<rect x="271.70" y="401.60" width="10.87" height="10.90" fill="#863d7f"/>
<rect x="282.27" y="401.60" width="10.88" height="10.90" fill="#753782"/>
<rect x="292.85" y="401.60" width="10.87" height="10.90" fill="#7d3a81"/>
<rect x="303.42" y="401.60" width="10.88" height="10.90" fill="#96437c"/>
<rect x="102.50" y="412.20" width="10.88" height="10.90" fill="#90417d"/>
<rect x="113.08" y="412.20" width="10.88" height="10.90" fill="#763782"/>
<rect x="123.65" y="412.20" width="21.45" height="10.90" fill="#7c3981"/>
<rect x="144.80" y="412.20" width="10.87" height="10.90" fill="#863d7f"/>
<rect x="155.38" y="412.20" width="10.87" height="10.90" fill="#8f417e"/>
<rect x="165.95" y="412.20" width="10.87" height="10.90" fill="#773782"/>
<rect x="176.52" y="412.20" width="10.88" height="10.90" fill="#883e7f"/>
<rect x="187.10" y="412.20" width="10.88" height="10.90" fill="#a14777"/>
<rect x="197.68" y="412.20" width="10.87" height="10.90" fill="#8f417e"/>
<rect x="208.25" y="412.20" width="10.87" height="10.90" fill="#7f3a80"/>
<rect x="218.82" y="412.20" width="10.87" height="10.90" fill="#98447c"/>
<rect x="229.40" y="412.20" width="10.88" height="10.90" fill="#92427d"/>
<rect x="239.97" y="412.20" width="10.87" height="10.90" fill="#93427d"/>
<rect x="250.55" y="412.20" width="10.88" height="10.90" fill="#a24777"/>
<rect x="261.12" y="412.20" width="10.87" height="10.90" fill="#92427d"/>
<rect x="271.70" y="412.20" width="10.87" height="10.90" fill="#99447b"/>
<rect x="282.27" y="412.20" width="10.88" height="10.90" fill="#98447c"/>
<rect x="292.85" y="412.20" width="10.87" height="10.90" fill="#8e407e"/>
<rect x="303.42" y="412.20" width="10.88" height="10.90" fill="#7f3b80"/>
<rect x="102.50" y="422.80" width="10.88" height="10.90" fill="#863d7f"/>
<rect x="113.08" y="422.80" width="10.88" height="10.90" fill="#6c3580"/>
<rect x="123.65" y="422.80" width="10.87" height="10.90" fill="#723681"/>
<rect x="134.22" y="422.80" width="10.88" height="10.90" fill="#64347f"/>
<rect x="144.80" y="422.80" width="10.87" height="10.90" fill="#7e3a81"/>
<rect x="155.38" y="422.80" width="10.87" height="10.90" fill="#91417d"/>
<rect x="165.95" y="422.80" width="10.87" height="10.90" fill="#883e7f"/>
<rect x="176.52" y="422.80" width="10.88" height="10.90" fill="#90417d"/>
<rect x="187.10" y="422.80" width="10.88" height="10.90" fill="#91417d"/>
<rect x="197.68" y="422.80" width="10.87" height="10.90" fill="#763782"/>
<rect x="208.25" y="422.80" width="10.87" height="10.90" fill="#6d3681"/>
<rect x="218.82" y="422.80" width="10.87" height="10.90" fill="#873e7f"/>
<rect x="229.40" y="422.80" width="10.88" height="10.90" fill="#91417d"/>
<rect x="239.97" y="422.80" width="10.87" height="10.90" fill="#92427d"/>
<rect x="250.55" y="422.80" width="10.88" height="10.90" fill="#93427d"/>
<rect x="261.12" y="422.80" width="21.45" height="10.90" fill="#92427d"/>
<rect x="282.27" y="422.80" width="10.88" height="10.90" fill="#883e7f"/>
<rect x="292.85" y="422.80" width="10.87" height="10.90" fill="#7c3981"/>
<rect x="303.42" y="422.80" width="10.88" height="10.90" fill="#723681"/>
<rect x="102.50" y="433.40" width="10.88" height="10.90" fill="#8f417e"/>
<rect x="113.08" y="433.40" width="10.88" height="10.90" fill="#7c3981"/>
<rect x="123.65" y="433.40" width="10.87" height="10.90" fill="#793881"/>
<rect x="134.22" y="433.40" width="10.88" height="10.90" fill="#6c3580"/>
<rect x="144.80" y="433.40" width="10.87" height="10.90" fill="#98447c"/>
<rect x="155.38" y="433.40" width="10.87" height="10.90" fill="#ab4a73"/>
<rect x="165.95" y="433.40" width="10.87" height="10.90" fill="#9c457a"/>
<rect x="176.52" y="433.40" width="10.88" height="10.90" fill="#93427d"/>
<rect x="187.10" y="433.40" width="10.88" height="10.90" fill="#91417d"/>
<rect x="197.68" y="433.40" width="10.87" height="10.90" fill="#8f417e"/>
<rect x="208.25" y="433.40" width="10.87" height="10.90" fill="#873e7f"/>
<rect x="218.82" y="433.40" width="10.87" height="10.90" fill="#91417d"/>
<rect x="229.40" y="433.40" width="21.45" height="10.90" fill="#9b457b"/>
<rect x="250.55" y="433.40" width="10.88" height="10.90" fill="#9c457a"/>
<rect x="261.12" y="433.40" width="10.87" height="10.90" fill="#a44876"/>
<rect x="271.70" y="433.40" width="10.87" height="10.90" fill="#a24777"/>
<rect x="282.27" y="433.40" width="10.88" height="10.90" fill="#873d7f"/>
<rect x="292.85" y="433.40" width="10.87" height="10.90" fill="#6c3580"/>
<rect x="303.42" y="433.40" width="10.88" height="10.90" fill="#62347f"/>
<rect x="102.50" y="444.00" width="10.88" height="10.90" fill="#8f417e"/>
<rect x="113.08" y="444.00" width="10.88" height="10.90" fill="#7b3981"/>
<rect x="123.65" y="444.00" width="21.45" height="10.90" fill="#6c3580"/>
<rect x="144.80" y="444.00" width="10.87" height="10.90" fill="#90417d"/>
<rect x="155.38" y="444.00" width="10.87" height="10.90" fill="#9d4679"/>
<rect x="165.95" y="444.00" width="10.87" height="10.90" fill="#a44876"/>
<rect x="176.52" y="444.00" width="10.88" height="10.90" fill="#a24777"/>
<rect x="187.10" y="444.00" width="21.45" height="10.90" fill="#92427d"/>
<rect x="208.25" y="444.00" width="10.87" height="10.90" fill="#99447b"/>
<rect x="218.82" y="444.00" width="10.87" height="10.90" fill="#92427d"/>
<rect x="229.40" y="444.00" width="10.88" height="10.90" fill="#9a457b"/>
<rect x="239.97" y="444.00" width="10.87" height="10.90" fill="#9b457b"/>
<rect x="250.55" y="444.00" width="10.88" height="10.90" fill="#9c457a"/>
<rect x="261.12" y="444.00" width="10.87" height="10.90" fill="#a44876"/>
<rect x="271.70" y="444.00" width="10.87" height="10.90" fill="#9b457b"/>
<rect x="282.27" y="444.00" width="10.88" height="10.90" fill="#863d7f"/>
<rect x="292.85" y="444.00" width="10.87" height="10.90" fill="#7a3881"/>
<rect x="303.42" y="444.00" width="10.88" height="10.90" fill="#62347f"/>
<rect x="102.50" y="454.60" width="10.88" height="10.90" fill="#843c7f"/>
<rect x="113.08" y="454.60" width="10.88" height="10.90" fill="#6c3580"/>
<rect x="123.65" y="454.60" width="10.87" height="10.90" fill="#823c80"/>
<rect x="134.22" y="454.60" width="10.88" height="10.90" fill="#853d7f"/>
<rect x="144.80" y="454.60" width="10.87" height="10.90" fill="#91417d"/>
<rect x="155.38" y="454.60" width="10.87" height="10.90" fill="#a34877"/>
<rect x="165.95" y="454.60" width="32.03" height="10.90" fill="#94427d"/>
<rect x="197.68" y="454.60" width="21.45" height="10.90" fill="#9c457a"/>
<rect x="218.82" y="454.60" width="10.87" height="10.90" fill="#92427d"/>
<rect x="229.40" y="454.60" width="10.88" height="10.90" fill="#883e7f"/>
<rect x="239.97" y="454.60" width="10.87" height="10.90" fill="#91417d"/>
<rect x="250.55" y="454.60" width="21.45" height="10.90" fill="#9a457b"/>
<rect x="271.70" y="454.60" width="10.87" height="10.90" fill="#873d7f"/>
<rect x="282.27" y="454.60" width="10.88" height="10.90" fill="#6d3580"/>
<rect x="292.85" y="454.60" width="10.87" height="10.90" fill="#793882"/>
<rect x="303.42" y="454.60" width="10.88" height="10.90" fill="#6a3580"/>
<rect x="102.50" y="465.20" width="10.88" height="10.90" fill="#7a3881"/>
<rect x="113.08" y="465.20" width="10.88" height="10.90" fill="#64347f"/>
<rect x="123.65" y="465.20" width="10.87" height="10.90" fill="#733782"/>
<rect x="134.22" y="465.20" width="10.88" height="10.90" fill="#7e3a81"/>
<rect x="144.80" y="465.20" width="10.87" height="10.90" fill="#8a3e7f"/>
<rect x="155.38" y="465.20" width="10.87" height="10.90" fill="#a34877"/>
<rect x="165.95" y="465.20" width="10.87" height="10.90" fill="#93427d"/>
<rect x="176.52" y="465.20" width="10.88" height="10.90" fill="#a34877"/>
<rect x="187.10" y="465.20" width="10.88" height="10.90" fill="#ac4b72"/>
<rect x="197.68" y="465.20" width="10.87" height="10.90" fill="#ad4b72"/>
<rect x="208.25" y="465.20" width="10.87" height="10.90" fill="#a64975"/>
<rect x="218.82" y="465.20" width="10.87" height="10.90" fill="#a34877"/>
<rect x="229.40" y="465.20" width="10.88" height="10.90" fill="#803b80"/>
<rect x="239.97" y="465.20" width="10.87" height="10.90" fill="#7e3a81"/>
<rect x="250.55" y="465.20" width="21.45" height="10.90" fill="#863d7f"/>
<rect x="271.70" y="465.20" width="10.87" height="10.90" fill="#7c3981"/>
<rect x="282.27" y="465.20" width="21.45" height="10.90" fill="#6b3580"/>
<rect x="303.42" y="465.20" width="10.88" height="10.90" fill="#713681"/>
<rect x="102.50" y="475.80" width="10.88" height="10.90" fill="#733782"/>
<rect x="113.08" y="475.80" width="10.88" height="10.90" fill="#733681"/>
<rect x="123.65" y="475.80" width="10.87" height="10.90" fill="#7d3a81"/>
<rect x="134.22" y="475.80" width="10.88" height="10.90" fill="#98447c"/>
<rect x="144.80" y="475.80" width="10.87" height="10.90" fill="#9b457b"/>
<rect x="155.38" y="475.80" width="10.87" height="10.90" fill="#a44876"/>
<rect x="165.95" y="475.80" width="10.87" height="10.90" fill="#8b3f7e"/>
<rect x="176.52" y="475.80" width="21.45" height="10.90" fill="#93427d"/>
<rect x="197.68" y="475.80" width="10.87" height="10.90" fill="#9c457a"/>
<rect x="208.25" y="475.80" width="10.87" height="10.90" fill="#af4c71"/>
<rect x="218.82" y="475.80" width="10.87" height="10.90" fill="#ad4b72"/>
<rect x="229.40" y="475.80" width="10.88" height="10.90" fill="#91417d"/>
<rect x="239.97" y="475.80" width="10.87" height="10.90" fill="#7e3a81"/>
<rect x="250.55" y="475.80" width="10.88" height="10.90" fill="#753782"/>
<rect x="261.12" y="475.80" width="21.45" height="10.90" fill="#743782"/>
<rect x="282.27" y="475.80" width="10.88" height="10.90" fill="#7b3981"/>
<rect x="292.85" y="475.80" width="10.87" height="10.90" fill="#7a3981"/>
<rect x="303.42" y="475.80" width="10.88" height="10.90" fill="#7a3881"/>
<rect x="102.50" y="486.40" width="10.88" height="10.90" fill="#7d3a81"/>
<rect x="113.08" y="486.40" width="10.88" height="10.90" fill="#853d7f"/>
<rect x="123.65" y="486.40" width="10.87" height="10.90" fill="#7e3a81"/>
<rect x="134.22" y="486.40" width="10.88" height="10.90" fill="#91417d"/>
<rect x="144.80" y="486.40" width="10.87" height="10.90" fill="#93427d"/>
<rect x="155.38" y="486.40" width="21.45" height="10.90" fill="#a44876"/>
<rect x="176.52" y="486.40" width="10.88" height="10.90" fill="#a24777"/>
<rect x="187.10" y="486.40" width="10.88" height="10.90" fill="#883e7f"/>
<rect x="197.68" y="486.40" width="10.87" height="10.90" fill="#8a3f7e"/>
<rect x="208.25" y="486.40" width="10.87" height="10.90" fill="#b54e6e"/>
<rect x="218.82" y="486.40" width="10.87" height="10.90" fill="#a64975"/>
<rect x="229.40" y="486.40" width="10.88" height="10.90" fill="#9a457b"/>
<rect x="239.97" y="486.40" width="10.87" height="10.90" fill="#8f417e"/>
<rect x="250.55" y="486.40" width="21.45" height="10.90" fill="#863d7f"/>
<rect x="271.70" y="486.40" width="10.87" height="10.90" fill="#7d3a81"/>
<rect x="282.27" y="486.40" width="10.88" height="10.90" fill="#843c80"/>
<rect x="292.85" y="486.40" width="10.87" height="10.90" fill="#733681"/>
<rect x="303.42" y="486.40" width="10.88" height="10.90" fill="#6a3580"/>
<rect x="102.50" y="497.00" width="10.88" height="10.90" fill="#873d7f"/>
<rect x="113.08" y="497.00" width="10.88" height="10.90" fill="#90417d"/>
<rect x="123.65" y="497.00" width="10.87" height="10.90" fill="#8a3e7f"/>
<rect x="134.22" y="497.00" width="10.88" height="10.90" fill="#9b457b"/>
<rect x="144.80" y="497.00" width="10.87" height="10.90" fill="#94437d"/>
<rect x="155.38" y="497.00" width="10.87" height="10.90" fill="#9c457a"/>
<rect x="165.95" y="497.00" width="10.87" height="10.90" fill="#9b457b"/>
<rect x="176.52" y="497.00" width="10.88" height="10.90" fill="#99447b"/>
<rect x="187.10" y="497.00" width="10.88" height="10.90" fill="#7e3a81"/>
<rect x="197.68" y="497.00" width="10.87" height="10.90" fill="#803b80"/>
<rect x="208.25" y="497.00" width="10.87" height="10.90" fill="#aa4a73"/>
<rect x="218.82" y="497.00" width="10.87" height="10.90" fill="#94427d"/>
<rect x="229.40" y="497.00" width="10.88" height="10.90" fill="#883e7f"/>
<rect x="239.97" y="497.00" width="10.87" height="10.90" fill="#873e7f"/>
<rect x="250.55" y="497.00" width="10.88" height="10.90" fill="#883e7f"/>
<rect x="261.12" y="497.00" width="10.87" height="10.90" fill="#8f417e"/>
<rect x="271.70" y="497.00" width="10.87" height="10.90" fill="#7f3a80"/>
<rect x="282.27" y="497.00" width="10.88" height="10.90" fill="#7e3a81"/>
<rect x="292.85" y="497.00" width="10.87" height="10.90" fill="#6c3580"/>
<rect x="303.42" y="497.00" width="10.88" height="10.90" fill="#63347f"/>
<rect x="102.50" y="507.60" width="10.88" height="10.90" fill="#8b3f7e"/>
<rect x="113.08" y="507.60" width="10.88" height="10.90" fill="#9c457a"/>
<rect x="123.65" y="507.60" width="10.87" height="10.90" fill="#a54876"/>
<rect x="134.22" y="507.60" width="10.88" height="10.90" fill="#ae4b71"/>
<rect x="144.80" y="507.60" width="10.87" height="10.90" fill="#ad4b72"/>
<rect x="155.38" y="507.60" width="10.87" height="10.90" fill="#9c457a"/>
<rect x="165.95" y="507.60" width="10.87" height="10.90" fill="#8a3e7f"/>
<rect x="176.52" y="507.60" width="10.88" height="10.90" fill="#873e7f"/>
<rect x="187.10" y="507.60" width="21.45" height="10.90" fill="#7d3a81"/>
<rect x="208.25" y="507.60" width="21.45" height="10.90" fill="#92427d"/>
<rect x="229.40" y="507.60" width="10.88" height="10.90" fill="#883e7f"/>
<rect x="239.97" y="507.60" width="10.87" height="10.90" fill="#873e7f"/>
<rect x="250.55" y="507.60" width="10.88" height="10.90" fill="#99447c"/>
<rect x="261.12" y="507.60" width="21.45" height="10.90" fill="#9c457a"/>
<rect x="282.27" y="507.60" width="10.88" height="10.90" fill="#a44876"/>
<rect x="292.85" y="507.60" width="10.87" height="10.90" fill="#91417d"/>
<rect x="303.42" y="507.60" width="10.88" height="10.90" fill="#7e3a81"/>
<rect x="102.50" y="518.20" width="10.88" height="10.90" fill="#a74975"/>
<rect x="113.08" y="518.20" width="10.88" height="10.90" fill="#b94f6c"/>
<rect x="123.65" y="518.20" width="10.87" height="10.90" fill="#ba506c"/>
<rect x="134.22" y="518.20" width="10.88" height="10.90" fill="#b24d70"/>
<rect x="144.80" y="518.20" width="10.87" height="10.90" fill="#b14c70"/>
<rect x="155.38" y="518.20" width="10.87" height="10.90" fill="#a64975"/>
<rect x="165.95" y="518.20" width="10.87" height="10.90" fill="#92427d"/>
<rect x="176.52" y="518.20" width="10.88" height="10.90" fill="#873e7f"/>
<rect x="187.10" y="518.20" width="10.88" height="10.90" fill="#7e3a81"/>
<rect x="197.68" y="518.20" width="10.87" height="10.90" fill="#7f3a80"/>
<rect x="208.25" y="518.20" width="10.87" height="10.90" fill="#9b457b"/>
<rect x="218.82" y="518.20" width="10.87" height="10.90" fill="#ac4b73"/>
<rect x="229.40" y="518.20" width="10.88" height="10.90" fill="#91417d"/>
<rect x="239.97" y="518.20" width="10.87" height="10.90" fill="#7e3a81"/>
<rect x="250.55" y="518.20" width="10.88" height="10.90" fill="#92427d"/>
<rect x="261.12" y="518.20" width="10.87" height="10.90" fill="#ae4b71"/>
<rect x="271.70" y="518.20" width="10.87" height="10.90" fill="#b94f6c"/>
<rect x="282.27" y="518.20" width="10.88" height="10.90" fill="#c1586a"/>
<rect x="292.85" y="518.20" width="10.87" height="10.90" fill="#af4c71"/>
<rect x="303.42" y="518.20" width="10.88" height="10.90" fill="#9c457a"/>
<rect x="102.50" y="528.80" width="10.88" height="10.90" fill="#c2596a"/>
<rect x="113.08" y="528.80" width="21.45" height="10.90" fill="#cd6467"/>
<rect x="134.22" y="528.80" width="10.88" height="10.90" fill="#c35a69"/>
<rect x="144.80" y="528.80" width="10.87" height="10.90" fill="#ca6168"/>
<rect x="155.38" y="528.80" width="10.87" height="10.90" fill="#b94f6c"/>
<rect x="165.95" y="528.80" width="10.87" height="10.90" fill="#a54876"/>
<rect x="176.52" y="528.80" width="10.88" height="10.90" fill="#93427d"/>
<rect x="187.10" y="528.80" width="21.45" height="10.90" fill="#92427d"/>
<rect x="208.25" y="528.80" width="10.87" height="10.90" fill="#a44876"/>
<rect x="218.82" y="528.80" width="10.87" height="10.90" fill="#ad4b72"/>
<rect x="229.40" y="528.80" width="10.88" height="10.90" fill="#91417d"/>
<rect x="239.97" y="528.80" width="10.87" height="10.90" fill="#763782"/>
<rect x="250.55" y="528.80" width="10.88" height="10.90" fill="#883e7f"/>
<rect x="261.12" y="528.80" width="10.87" height="10.90" fill="#ad4b72"/>
<rect x="271.70" y="528.80" width="10.87" height="10.90" fill="#b84f6c"/>
<rect x="282.27" y="528.80" width="10.88" height="10.90" fill="#c35a69"/>
<rect x="292.85" y="528.80" width="10.87" height="10.90" fill="#ba506c"/>
<rect x="303.42" y="528.80" width="10.88" height="10.90" fill="#a74975"/>
<rect x="102.50" y="539.40" width="10.88" height="10.90" fill="#ba506c"/>
<rect x="113.08" y="539.40" width="10.88" height="10.90" fill="#c35a6a"/>
<rect x="123.65" y="539.40" width="10.87" height="10.90" fill="#c2596a"/>
<rect x="134.22" y="539.40" width="21.45" height="10.90" fill="#b14c70"/>
<rect x="155.38" y="539.40" width="10.87" height="10.90" fill="#ae4b71"/>
<rect x="165.95" y="539.40" width="10.87" height="10.90" fill="#a54876"/>
<rect x="176.52" y="539.40" width="10.88" height="10.90" fill="#a64975"/>
<rect x="187.10" y="539.40" width="10.88" height="10.90" fill="#ad4b72"/>
<rect x="197.68" y="539.40" width="32.02" height="10.90" fill="#9c457a"/>
<rect x="229.40" y="539.40" width="10.88" height="10.90" fill="#883e7f"/>
<rect x="239.97" y="539.40" width="10.87" height="10.90" fill="#7e3a81"/>
<rect x="250.55" y="539.40" width="10.88" height="10.90" fill="#883e7f"/>
<rect x="261.12" y="539.40" width="10.87" height="10.90" fill="#93427d"/>
<rect x="271.70" y="539.40" width="10.87" height="10.90" fill="#96437c"/>
<rect x="282.27" y="539.40" width="10.88" height="10.90" fill="#c1576a"/>
<rect x="292.85" y="539.40" width="10.87" height="10.90" fill="#c2596a"/>
<rect x="303.42" y="539.40" width="10.88" height="10.90" fill="#a74975"/>
<rect x="102.50" y="550.00" width="10.88" height="10.90" fill="#9f4679"/>
<rect x="113.08" y="550.00" width="21.45" height="10.90" fill="#a64975"/>
<rect x="134.22" y="550.00" width="21.45" height="10.90" fill="#9c457a"/>
<rect x="155.38" y="550.00" width="21.45" height="10.90" fill="#94437d"/>
<rect x="176.52" y="550.00" width="21.45" height="10.90" fill="#ad4b72"/>
<rect x="197.68" y="550.00" width="10.87" height="10.90" fill="#9a457b"/>
<rect x="208.25" y="550.00" width="10.87" height="10.90" fill="#91417d"/>
<rect x="218.82" y="550.00" width="10.87" height="10.90" fill="#99447c"/>
<rect x="229.40" y="550.00" width="21.45" height="10.90" fill="#91417d"/>
<rect x="250.55" y="550.00" width="10.88" height="10.90" fill="#a24777"/>
<rect x="261.12" y="550.00" width="10.87" height="10.90" fill="#9b457b"/>
<rect x="271.70" y="550.00" width="10.87" height="10.90" fill="#8b3f7e"/>
<rect x="282.27" y="550.00" width="10.88" height="10.90" fill="#ad4b72"/>
<rect x="292.85" y="550.00" width="10.87" height="10.90" fill="#b64e6e"/>
<rect x="303.42" y="550.00" width="10.88" height="10.90" fill="#9e4679"/>
<rect x="102.50" y="560.60" width="21.45" height="10.90" fill="#9c457a"/>
<rect x="123.65" y="560.60" width="10.87" height="10.90" fill="#91417d"/>
<rect x="134.22" y="560.60" width="10.88" height="10.90" fill="#883e7f"/>
<rect x="144.80" y="560.60" width="10.87" height="10.90" fill="#9a457b"/>
<rect x="155.38" y="560.60" width="10.87" height="10.90" fill="#9b457b"/>
<rect x="165.95" y="560.60" width="10.87" height="10.90" fill="#93427d"/>
<rect x="176.52" y="560.60" width="10.88" height="10.90" fill="#9b457b"/>
<rect x="187.10" y="560.60" width="10.88" height="10.90" fill="#91417d"/>
<rect x="197.68" y="560.60" width="10.87" height="10.90" fill="#753782"/>
<rect x="208.25" y="560.60" width="10.87" height="10.90" fill="#6c3580"/>
<rect x="218.82" y="560.60" width="10.87" height="10.90" fill="#7d3a81"/>
<rect x="229.40" y="560.60" width="10.88" height="10.90" fill="#873e7f"/>
<rect x="239.97" y="560.60" width="10.87" height="10.90" fill="#92427d"/>
<rect x="250.55" y="560.60" width="10.88" height="10.90" fill="#a44876"/>
<rect x="261.12" y="560.60" width="10.87" height="10.90" fill="#a34877"/>
<rect x="271.70" y="560.60" width="10.87" height="10.90" fill="#883e7f"/>
<rect x="282.27" y="560.60" width="10.88" height="10.90" fill="#813b80"/>
<rect x="292.85" y="560.60" width="10.87" height="10.90" fill="#8a3e7f"/>
<rect x="303.42" y="560.60" width="10.88" height="10.90" fill="#92427d"/>
<rect x="102.50" y="571.20" width="10.88" height="10.90" fill="#a24777"/>
<rect x="113.08" y="571.20" width="10.88" height="10.90" fill="#98447c"/>
<rect x="123.65" y="571.20" width="10.87" height="10.90" fill="#7d3a81"/>
<rect x="134.22" y="571.20" width="10.88" height="10.90" fill="#753782"/>
<rect x="144.80" y="571.20" width="10.87" height="10.90" fill="#91417d"/>
<rect x="155.38" y="571.20" width="10.87" height="10.90" fill="#a44876"/>
<rect x="165.95" y="571.20" width="10.87" height="10.90" fill="#9c457a"/>
<rect x="176.52" y="571.20" width="10.88" height="10.90" fill="#91417d"/>
<rect x="187.10" y="571.20" width="10.88" height="10.90" fill="#873d7f"/>
<rect x="197.68" y="571.20" width="10.87" height="10.90" fill="#743782"/>
<rect x="208.25" y="571.20" width="10.87" height="10.90" fill="#64347f"/>
<rect x="218.82" y="571.20" width="10.87" height="10.90" fill="#733782"/>
<rect x="229.40" y="571.20" width="10.88" height="10.90" fill="#873e7f"/>
<rect x="239.97" y="571.20" width="10.87" height="10.90" fill="#9b457b"/>
<rect x="250.55" y="571.20" width="10.88" height="10.90" fill="#9c457a"/>
<rect x="261.12" y="571.20" width="10.87" height="10.90" fill="#9b457b"/>
<rect x="271.70" y="571.20" width="10.87" height="10.90" fill="#92427d"/>
<rect x="282.27" y="571.20" width="10.88" height="10.90" fill="#893e7f"/>
<rect x="292.85" y="571.20" width="10.87" height="10.90" fill="#8a3e7f"/>
<rect x="303.42" y="571.20" width="10.88" height="10.90" fill="#99447b"/>
<rect x="102.50" y="581.80" width="10.88" height="10.90" fill="#863d7f"/>
<rect x="113.08" y="581.80" width="10.88" height="10.90" fill="#743782"/>
<rect x="123.65" y="581.80" width="10.87" height="10.90" fill="#6a3580"/>
<rect x="134.22" y="581.80" width="10.88" height="10.90" fill="#6c3580"/>
<rect x="144.80" y="581.80" width="10.87" height="10.90" fill="#883e7f"/>
<rect x="155.38" y="581.80" width="21.45" height="10.90" fill="#a54876"/>
<rect x="176.52" y="581.80" width="10.88" height="10.90" fill="#893e7f"/>
<rect x="187.10" y="581.80" width="10.88" height="10.90" fill="#863d7f"/>
<rect x="197.68" y="581.80" width="10.87" height="10.90" fill="#8e407e"/>
<rect x="208.25" y="581.80" width="10.87" height="10.90" fill="#843c7f"/>
<rect x="218.82" y="581.80" width="10.87" height="10.90" fill="#7c3981"/>
<rect x="229.40" y="581.80" width="10.88" height="10.90" fill="#90417d"/>
<rect x="239.97" y="581.80" width="10.87" height="10.90" fill="#ac4b73"/>
<rect x="250.55" y="581.80" width="10.88" height="10.90" fill="#9c457a"/>
<rect x="261.12" y="581.80" width="10.87" height="10.90" fill="#93427d"/>
<rect x="271.70" y="581.80" width="10.87" height="10.90" fill="#a54876"/>
<rect x="282.27" y="581.80" width="10.88" height="10.90" fill="#ae4b71"/>
<rect x="292.85" y="581.80" width="10.87" height="10.90" fill="#a54876"/>
<rect x="303.42" y="581.80" width="10.88" height="10.90" fill="#9c457a"/>
<rect x="102.50" y="592.40" width="10.88" height="10.90" fill="#723681"/>
<rect x="113.08" y="592.40" width="10.88" height="10.90" fill="#63347f"/>
<rect x="123.65" y="592.40" width="10.87" height="10.90" fill="#693580"/>
<rect x="134.22" y="592.40" width="10.88" height="10.90" fill="#7b3981"/>
<rect x="144.80" y="592.40" width="10.87" height="10.90" fill="#92427d"/>
<rect x="155.38" y="592.40" width="10.87" height="10.90" fill="#b64e6e"/>
<rect x="165.95" y="592.40" width="10.87" height="10.90" fill="#b54e6e"/>
<rect x="176.52" y="592.40" width="10.88" height="10.90" fill="#893e7f"/>
<rect x="187.10" y="592.40" width="10.88" height="10.90" fill="#763782"/>
<rect x="197.68" y="592.40" width="10.87" height="10.90" fill="#863d7f"/>
<rect x="208.25" y="592.40" width="10.87" height="10.90" fill="#843c80"/>
<rect x="218.82" y="592.40" width="10.87" height="10.90" fill="#66347f"/>
<rect x="229.40" y="592.40" width="10.88" height="10.90" fill="#7e3a81"/>
<rect x="239.97" y="592.40" width="10.87" height="10.90" fill="#a24777"/>
<rect x="250.55" y="592.40" width="10.88" height="10.90" fill="#93427d"/>
<rect x="261.12" y="592.40" width="10.87" height="10.90" fill="#8c3f7e"/>
<rect x="271.70" y="592.40" width="10.87" height="10.90" fill="#b74e6d"/>
<rect x="282.27" y="592.40" width="10.88" height="10.90" fill="#c96068"/>
<rect x="292.85" y="592.40" width="10.87" height="10.90" fill="#b04c70"/>
<rect x="303.42" y="592.40" width="10.88" height="10.90" fill="#9e4679"/>
</g>
<rect x="102.50" y="391.00" width="211.50" height="212.00" fill="none" stroke="#000" stroke-width="1.80"/>
<g shape-rendering="crispEdges">
<rect x="438.00" y="391.00" width="10.93" height="10.93" fill="#ffffff"/>
<rect x="448.62" y="391.00" width="10.93" height="10.93" fill="#e5e7f3"/>
<rect x="459.25" y="391.00" width="10.93" height="10.93" fill="#f0b8b6"/>
<rect x="469.88" y="391.00" width="10.93" height="10.93" fill="#cad0e8"/>
<rect x="480.50" y="391.00" width="21.55" height="10.93" fill="#fbecec"/>
<rect x="501.75" y="391.00" width="10.93" height="10.93" fill="#e5e7f3"/>
<rect x="512.38" y="391.00" width="10.93" height="10.93" fill="#f7dad8"/>
<rect x="523.00" y="391.00" width="10.93" height="10.93" fill="#e5e7f3"/>
<rect x="533.62" y="391.00" width="10.93" height="10.93" fill="#fbecec"/>
<rect x="544.25" y="391.00" width="10.93" height="10.93" fill="#cad0e8"/>
<rect x="554.88" y="391.00" width="10.93" height="10.93" fill="#fbecec"/>
<rect x="565.50" y="391.00" width="10.93" height="10.93" fill="#cad0e8"/>
<rect x="576.12" y="391.00" width="21.55" height="10.93" fill="#fbecec"/>
<rect x="597.38" y="391.00" width="10.93" height="10.93" fill="#cad0e8"/>
<rect x="608.00" y="391.00" width="10.93" height="10.93" fill="#f7dad8"/>
<rect x="618.62" y="391.00" width="10.93" height="10.93" fill="#cad0e8"/>
<rect x="629.25" y="391.00" width="21.55" height="10.93" fill="#fbecec"/>
<rect x="438.00" y="401.62" width="10.93" height="10.93" fill="#f7dad8"/>
<rect x="448.62" y="401.62" width="10.93" height="10.93" fill="#fbecec"/>
<rect x="459.25" y="401.62" width="10.93" height="10.93" fill="#cad0e8"/>
<rect x="469.88" y="401.62" width="10.93" height="10.93" fill="#f7dad8"/>
<rect x="480.50" y="401.62" width="21.55" height="10.93" fill="#fbecec"/>
<rect x="501.75" y="401.62" width="10.93" height="10.93" fill="#ffffff"/>
<rect x="512.38" y="401.62" width="10.93" height="10.93" fill="#e5e7f3"/>
<rect x="523.00" y="401.62" width="10.93" height="10.93" fill="#fbecec"/>
<rect x="533.62" y="401.62" width="10.93" height="10.93" fill="#e5e7f3"/>
<rect x="544.25" y="401.62" width="10.93" height="10.93" fill="#fbecec"/>
<rect x="554.88" y="401.62" width="10.93" height="10.93" fill="#e5e7f3"/>
<rect x="565.50" y="401.62" width="10.93" height="10.93" fill="#fbecec"/>
<rect x="576.12" y="401.62" width="10.93" height="10.93" fill="#e5e7f3"/>
<rect x="586.75" y="401.62" width="10.93" height="10.93" fill="#fbecec"/>
<rect x="597.38" y="401.62" width="21.55" height="10.93" fill="#ffffff"/>
<rect x="618.62" y="401.62" width="32.17" height="10.93" fill="#fbecec"/>
<rect x="438.00" y="412.25" width="10.93" height="10.93" fill="#e5e7f3"/>
<rect x="448.62" y="412.25" width="10.93" height="10.93" fill="#ffffff"/>
<rect x="459.25" y="412.25" width="10.93" height="10.93" fill="#fbecec"/>
<rect x="469.88" y="412.25" width="10.93" height="10.93" fill="#ffffff"/>
<rect x="480.50" y="412.25" width="10.93" height="10.93" fill="#cad0e8"/>
<rect x="491.12" y="412.25" width="10.93" height="10.93" fill="#f7dad8"/>
<rect x="501.75" y="412.25" width="10.93" height="10.93" fill="#cad0e8"/>
<rect x="512.38" y="412.25" width="10.93" height="10.93" fill="#f7dad8"/>
<rect x="523.00" y="412.25" width="10.93" height="10.93" fill="#e5e7f3"/>
<rect x="533.62" y="412.25" width="10.93" height="10.93" fill="#f7dad8"/>
<rect x="544.25" y="412.25" width="10.93" height="10.93" fill="#ffffff"/>
<rect x="554.88" y="412.25" width="10.93" height="10.93" fill="#e5e7f3"/>
<rect x="565.50" y="412.25" width="10.93" height="10.93" fill="#f7dad8"/>
<rect x="576.12" y="412.25" width="10.93" height="10.93" fill="#e5e7f3"/>
<rect x="586.75" y="412.25" width="10.93" height="10.93" fill="#f7dad8"/>
<rect x="597.38" y="412.25" width="10.93" height="10.93" fill="#ffffff"/>
<rect x="608.00" y="412.25" width="10.93" height="10.93" fill="#e5e7f3"/>
<rect x="618.62" y="412.25" width="21.55" height="10.93" fill="#fbecec"/>
<rect x="639.88" y="412.25" width="10.93" height="10.93" fill="#e5e7f3"/>
<rect x="438.00" y="422.88" width="10.93" height="10.93" fill="#e5e7f3"/>
<rect x="448.62" y="422.88" width="10.93" height="10.93" fill="#f7dad8"/>
<rect x="459.25" y="422.88" width="10.93" height="10.93" fill="#cad0e8"/>
<rect x="469.88" y="422.88" width="10.93" height="10.93" fill="#f7dad8"/>
<rect x="480.50" y="422.88" width="10.93" height="10.93" fill="#f0b8b6"/>
<rect x="491.12" y="422.88" width="10.93" height="10.93" fill="#cad0e8"/>
<rect x="501.75" y="422.88" width="10.93" height="10.93" fill="#fbecec"/>
<rect x="512.38" y="422.88" width="21.55" height="10.93" fill="#e5e7f3"/>
<rect x="533.62" y="422.88" width="10.93" height="10.93" fill="#fbecec"/>
<rect x="544.25" y="422.88" width="10.93" height="10.93" fill="#ffffff"/>
<rect x="554.88" y="422.88" width="10.93" height="10.93" fill="#fbecec"/>
<rect x="565.50" y="422.88" width="21.55" height="10.93" fill="#ffffff"/>
<rect x="586.75" y="422.88" width="10.93" height="10.93" fill="#cad0e8"/>
<rect x="597.38" y="422.88" width="10.93" height="10.93" fill="#ffffff"/>
<rect x="608.00" y="422.88" width="10.93" height="10.93" fill="#f7dad8"/>
<rect x="618.62" y="422.88" width="10.93" height="10.93" fill="#e5e7f3"/>
<rect x="629.25" y="422.88" width="21.55" height="10.93" fill="#ffffff"/>
<rect x="438.00" y="433.50" width="10.93" height="10.93" fill="#ffffff"/>
<rect x="448.62" y="433.50" width="10.93" height="10.93" fill="#f7dad8"/>
<rect x="459.25" y="433.50" width="10.93" height="10.93" fill="#cad0e8"/>
<rect x="469.88" y="433.50" width="10.93" height="10.93" fill="#f7dad8"/>
<rect x="480.50" y="433.50" width="10.93" height="10.93" fill="#cad0e8"/>
<rect x="491.12" y="433.50" width="10.93" height="10.93" fill="#f0b8b6"/>
<rect x="501.75" y="433.50" width="10.93" height="10.93" fill="#e5e7f3"/>
<rect x="512.38" y="433.50" width="10.93" height="10.93" fill="#f7dad8"/>
<rect x="523.00" y="433.50" width="10.93" height="10.93" fill="#fbecec"/>
<rect x="533.62" y="433.50" width="10.93" height="10.93" fill="#e5e7f3"/>
<rect x="544.25" y="433.50" width="10.93" height="10.93" fill="#f7dad8"/>
<rect x="554.88" y="433.50" width="10.93" height="10.93" fill="#cad0e8"/>
<rect x="565.50" y="433.50" width="10.93" height="10.93" fill="#fbecec"/>
<rect x="576.12" y="433.50" width="10.93" height="10.93" fill="#f7dad8"/>
<rect x="586.75" y="433.50" width="10.93" height="10.93" fill="#fbecec"/>
<rect x="597.38" y="433.50" width="10.93" height="10.93" fill="#e5e7f3"/>
<rect x="608.00" y="433.50" width="10.93" height="10.93" fill="#ffffff"/>
<rect x="618.62" y="433.50" width="21.55" height="10.93" fill="#fbecec"/>
<rect x="639.88" y="433.50" width="10.93" height="10.93" fill="#e5e7f3"/>
<rect x="438.00" y="444.12" width="10.93" height="10.93" fill="#fbecec"/>
<rect x="448.62" y="444.12" width="10.93" height="10.93" fill="#cad0e8"/>
<rect x="459.25" y="444.12" width="10.93" height="10.93" fill="#f7dad8"/>
<rect x="469.88" y="444.12" width="10.93" height="10.93" fill="#fbecec"/>
<rect x="480.50" y="444.12" width="10.93" height="10.93" fill="#ffffff"/>
<rect x="491.12" y="444.12" width="10.93" height="10.93" fill="#e5e7f3"/>
<rect x="501.75" y="444.12" width="10.93" height="10.93" fill="#ffffff"/>
<rect x="512.38" y="444.12" width="10.93" height="10.93" fill="#cad0e8"/>
<rect x="523.00" y="444.12" width="10.93" height="10.93" fill="#fbecec"/>
<rect x="533.62" y="444.12" width="10.93" height="10.93" fill="#e5e7f3"/>
<rect x="544.25" y="444.12" width="10.93" height="10.93" fill="#fbecec"/>
<rect x="554.88" y="444.12" width="10.93" height="10.93" fill="#f7dad8"/>
<rect x="565.50" y="444.12" width="10.93" height="10.93" fill="#ffffff"/>
<rect x="576.12" y="444.12" width="21.55" height="10.93" fill="#e5e7f3"/>
<rect x="597.38" y="444.12" width="10.93" height="10.93" fill="#fbecec"/>
<rect x="608.00" y="444.12" width="10.93" height="10.93" fill="#ffffff"/>
<rect x="618.62" y="444.12" width="21.55" height="10.93" fill="#e5e7f3"/>
<rect x="639.88" y="444.12" width="10.93" height="10.93" fill="#f7dad8"/>
<rect x="438.00" y="454.75" width="10.93" height="10.93" fill="#ffffff"/>
<rect x="448.62" y="454.75" width="10.93" height="10.93" fill="#f0b8b6"/>
<rect x="459.25" y="454.75" width="10.93" height="10.93" fill="#cad0e8"/>
<rect x="469.88" y="454.75" width="10.93" height="10.93" fill="#e5e7f3"/>
<rect x="480.50" y="454.75" width="10.93" height="10.93" fill="#f7dad8"/>
<rect x="491.12" y="454.75" width="10.93" height="10.93" fill="#e5e7f3"/>
<rect x="501.75" y="454.75" width="10.93" height="10.93" fill="#f7dad8"/>
<rect x="512.38" y="454.75" width="10.93" height="10.93" fill="#fbecec"/>
<rect x="523.00" y="454.75" width="10.93" height="10.93" fill="#f7dad8"/>
<rect x="533.62" y="454.75" width="10.93" height="10.93" fill="#e5e7f3"/>
<rect x="544.25" y="454.75" width="21.55" height="10.93" fill="#fbecec"/>
<rect x="565.50" y="454.75" width="10.93" height="10.93" fill="#e5e7f3"/>
<rect x="576.12" y="454.75" width="10.93" height="10.93" fill="#f0b8b6"/>
<rect x="586.75" y="454.75" width="10.93" height="10.93" fill="#e5e7f3"/>
<rect x="597.38" y="454.75" width="10.93" height="10.93" fill="#fbecec"/>
<rect x="608.00" y="454.75" width="10.93" height="10.93" fill="#cad0e8"/>
<rect x="618.62" y="454.75" width="10.93" height="10.93" fill="#f0b8b6"/>
<rect x="629.25" y="454.75" width="10.93" height="10.93" fill="#e5e7f3"/>
<rect x="639.88" y="454.75" width="10.93" height="10.93" fill="#fbecec"/>
<rect x="438.00" y="465.38" width="32.17" height="10.93" fill="#e5e7f3"/>
<rect x="469.88" y="465.38" width="10.93" height="10.93" fill="#f7dad8"/>
<rect x="480.50" y="465.38" width="10.93" height="10.93" fill="#cad0e8"/>
<rect x="491.12" y="465.38" width="10.93" height="10.93" fill="#f7dad8"/>
<rect x="501.75" y="465.38" width="10.93" height="10.93" fill="#cad0e8"/>
<rect x="512.38" y="465.38" width="10.93" height="10.93" fill="#e5e7f3"/>
<rect x="523.00" y="465.38" width="10.93" height="10.93" fill="#fbecec"/>
<rect x="533.62" y="465.38" width="10.93" height="10.93" fill="#f7dad8"/>
<rect x="544.25" y="465.38" width="10.93" height="10.93" fill="#ffffff"/>
<rect x="554.88" y="465.38" width="10.93" height="10.93" fill="#fbecec"/>
<rect x="565.50" y="465.38" width="32.17" height="10.93" fill="#e5e7f3"/>
<rect x="597.38" y="465.38" width="21.55" height="10.93" fill="#fbecec"/>
<rect x="618.62" y="465.38" width="10.93" height="10.93" fill="#b0b8dc"/>
<rect x="629.25" y="465.38" width="10.93" height="10.93" fill="#f7dad8"/>
<rect x="639.88" y="465.38" width="10.93" height="10.93" fill="#e5e7f3"/>
<rect x="438.00" y="476.00" width="10.93" height="10.93" fill="#fbecec"/>
<rect x="448.62" y="476.00" width="10.93" height="10.93" fill="#e5e7f3"/>
<rect x="459.25" y="476.00" width="10.93" height="10.93" fill="#fbecec"/>
<rect x="469.88" y="476.00" width="10.93" height="10.93" fill="#e5e7f3"/>
<rect x="480.50" y="476.00" width="10.93" height="10.93" fill="#ffffff"/>
<rect x="491.12" y="476.00" width="32.17" height="10.93" fill="#fbecec"/>
<rect x="523.00" y="476.00" width="10.93" height="10.93" fill="#cad0e8"/>
<rect x="533.62" y="476.00" width="21.55" height="10.93" fill="#e5e7f3"/>
<rect x="554.88" y="476.00" width="10.93" height="10.93" fill="#ffffff"/>
<rect x="565.50" y="476.00" width="10.93" height="10.93" fill="#f7dad8"/>
<rect x="576.12" y="476.00" width="10.93" height="10.93" fill="#e5e7f3"/>
<rect x="586.75" y="476.00" width="10.93" height="10.93" fill="#f7dad8"/>
<rect x="597.38" y="476.00" width="10.93" height="10.93" fill="#cad0e8"/>
<rect x="608.00" y="476.00" width="10.93" height="10.93" fill="#f7dad8"/>
<rect x="618.62" y="476.00" width="10.93" height="10.93" fill="#fbecec"/>
<rect x="629.25" y="476.00" width="10.93" height="10.93" fill="#cad0e8"/>
<rect x="639.88" y="476.00" width="10.93" height="10.93" fill="#f0b8b6"/>
<rect x="438.00" y="486.62" width="10.93" height="10.93" fill="#fbecec"/>
<rect x="448.62" y="486.62" width="10.93" height="10.93" fill="#ffffff"/>
<rect x="459.25" y="486.62" width="32.17" height="10.93" fill="#f7dad8"/>
<rect x="491.12" y="486.62" width="10.93" height="10.93" fill="#e5e7f3"/>
<rect x="501.75" y="486.62" width="10.93" height="10.93" fill="#ffffff"/>
<rect x="512.38" y="486.62" width="21.55" height="10.93" fill="#f7dad8"/>
<rect x="533.62" y="486.62" width="10.93" height="10.93" fill="#fbecec"/>
<rect x="544.25" y="486.62" width="10.93" height="10.93" fill="#f7dad8"/>
<rect x="554.88" y="486.62" width="10.93" height="10.93" fill="#fbecec"/>
<rect x="565.50" y="486.62" width="10.93" height="10.93" fill="#e5e7f3"/>
<rect x="576.12" y="486.62" width="10.93" height="10.93" fill="#f7dad8"/>
<rect x="586.75" y="486.62" width="10.93" height="10.93" fill="#e5e7f3"/>
<rect x="597.38" y="486.62" width="10.93" height="10.93" fill="#f7dad8"/>
<rect x="608.00" y="486.62" width="10.93" height="10.93" fill="#cad0e8"/>
<rect x="618.62" y="486.62" width="10.93" height="10.93" fill="#ffffff"/>
<rect x="629.25" y="486.62" width="10.93" height="10.93" fill="#fbecec"/>
<rect x="639.88" y="486.62" width="10.93" height="10.93" fill="#b0b8dc"/>
<rect x="438.00" y="497.25" width="21.55" height="10.93" fill="#ffffff"/>
<rect x="459.25" y="497.25" width="10.93" height="10.93" fill="#f7dad8"/>
<rect x="469.88" y="497.25" width="10.93" height="10.93" fill="#b0b8dc"/>
<rect x="480.50" y="497.25" width="10.93" height="10.93" fill="#e5e7f3"/>
<rect x="491.12" y="497.25" width="10.93" height="10.93" fill="#f0b8b6"/>
<rect x="501.75" y="497.25" width="10.93" height="10.93" fill="#fbecec"/>
<rect x="512.38" y="497.25" width="10.93" height="10.93" fill="#e5e7f3"/>
<rect x="523.00" y="497.25" width="10.93" height="10.93" fill="#b0b8dc"/>
<rect x="533.62" y="497.25" width="10.93" height="10.93" fill="#f0b8b6"/>
<rect x="544.25" y="497.25" width="10.93" height="10.93" fill="#b0b8dc"/>
<rect x="554.88" y="497.25" width="10.93" height="10.93" fill="#fbecec"/>
<rect x="565.50" y="497.25" width="10.93" height="10.93" fill="#f0b8b6"/>
<rect x="576.12" y="497.25" width="21.55" height="10.93" fill="#e5e7f3"/>
<rect x="597.38" y="497.25" width="21.55" height="10.93" fill="#fbecec"/>
<rect x="618.62" y="497.25" width="10.93" height="10.93" fill="#f0b8b6"/>
<rect x="629.25" y="497.25" width="10.93" height="10.93" fill="#cad0e8"/>
<rect x="639.88" y="497.25" width="10.93" height="10.93" fill="#dc6460"/>
<rect x="438.00" y="507.88" width="10.93" height="10.93" fill="#cad0e8"/>
<rect x="448.62" y="507.88" width="10.93" height="10.93" fill="#fbecec"/>
<rect x="459.25" y="507.88" width="10.93" height="10.93" fill="#ffffff"/>
<rect x="469.88" y="507.88" width="10.93" height="10.93" fill="#f7dad8"/>
<rect x="480.50" y="507.88" width="10.93" height="10.93" fill="#fbecec"/>
<rect x="491.12" y="507.88" width="10.93" height="10.93" fill="#e5e7f3"/>
<rect x="501.75" y="507.88" width="10.93" height="10.93" fill="#cad0e8"/>
<rect x="512.38" y="507.88" width="21.55" height="10.93" fill="#f7dad8"/>
<rect x="533.62" y="507.88" width="10.93" height="10.93" fill="#e5e7f3"/>
<rect x="544.25" y="507.88" width="10.93" height="10.93" fill="#f7dad8"/>
<rect x="554.88" y="507.88" width="10.93" height="10.93" fill="#e5e7f3"/>
<rect x="565.50" y="507.88" width="10.93" height="10.93" fill="#e89694"/>
<rect x="576.12" y="507.88" width="10.93" height="10.93" fill="#b0b8dc"/>
<rect x="586.75" y="507.88" width="10.93" height="10.93" fill="#f7dad8"/>
<rect x="597.38" y="507.88" width="10.93" height="10.93" fill="#fbecec"/>
<rect x="608.00" y="507.88" width="42.80" height="10.93" fill="#e5e7f3"/>
<rect x="438.00" y="518.50" width="10.93" height="10.93" fill="#f7dad8"/>
<rect x="448.62" y="518.50" width="10.93" height="10.93" fill="#fbecec"/>
<rect x="459.25" y="518.50" width="10.93" height="10.93" fill="#ffffff"/>
<rect x="469.88" y="518.50" width="10.93" height="10.93" fill="#cad0e8"/>
<rect x="480.50" y="518.50" width="10.93" height="10.93" fill="#f7dad8"/>
<rect x="491.12" y="518.50" width="21.55" height="10.93" fill="#fbecec"/>
<rect x="512.38" y="518.50" width="10.93" height="10.93" fill="#cad0e8"/>
<rect x="523.00" y="518.50" width="10.93" height="10.93" fill="#f7dad8"/>
<rect x="533.62" y="518.50" width="10.93" height="10.93" fill="#cad0e8"/>
<rect x="544.25" y="518.50" width="10.93" height="10.93" fill="#f7dad8"/>
<rect x="554.88" y="518.50" width="10.93" height="10.93" fill="#cad0e8"/>
<rect x="565.50" y="518.50" width="21.55" height="10.93" fill="#e5e7f3"/>
<rect x="586.75" y="518.50" width="10.93" height="10.93" fill="#f7dad8"/>
<rect x="597.38" y="518.50" width="10.93" height="10.93" fill="#ffffff"/>
<rect x="608.00" y="518.50" width="10.93" height="10.93" fill="#e5e7f3"/>
<rect x="618.62" y="518.50" width="10.93" height="10.93" fill="#f0b8b6"/>
<rect x="629.25" y="518.50" width="10.93" height="10.93" fill="#f7dad8"/>
<rect x="639.88" y="518.50" width="10.93" height="10.93" fill="#ffffff"/>
<rect x="438.00" y="529.12" width="21.55" height="10.93" fill="#e5e7f3"/>
<rect x="459.25" y="529.12" width="21.55" height="10.93" fill="#fbecec"/>
<rect x="480.50" y="529.12" width="10.93" height="10.93" fill="#ffffff"/>
<rect x="491.12" y="529.12" width="21.55" height="10.93" fill="#f7dad8"/>
<rect x="512.38" y="529.12" width="10.93" height="10.93" fill="#ffffff"/>
<rect x="523.00" y="529.12" width="10.93" height="10.93" fill="#f7dad8"/>
<rect x="533.62" y="529.12" width="10.93" height="10.93" fill="#cad0e8"/>
<rect x="544.25" y="529.12" width="10.93" height="10.93" fill="#f7dad8"/>
<rect x="554.88" y="529.12" width="21.55" height="10.93" fill="#fbecec"/>
<rect x="576.12" y="529.12" width="21.55" height="10.93" fill="#e5e7f3"/>
<rect x="597.38" y="529.12" width="10.93" height="10.93" fill="#f7dad8"/>
<rect x="608.00" y="529.12" width="10.93" height="10.93" fill="#b0b8dc"/>
<rect x="618.62" y="529.12" width="10.93" height="10.93" fill="#f7dad8"/>
<rect x="629.25" y="529.12" width="10.93" height="10.93" fill="#ffffff"/>
<rect x="639.88" y="529.12" width="10.93" height="10.93" fill="#b0b8dc"/>
<rect x="438.00" y="539.75" width="10.93" height="10.93" fill="#cad0e8"/>
<rect x="448.62" y="539.75" width="10.93" height="10.93" fill="#f7dad8"/>
<rect x="459.25" y="539.75" width="10.93" height="10.93" fill="#cad0e8"/>
<rect x="469.88" y="539.75" width="10.93" height="10.93" fill="#fbecec"/>
<rect x="480.50" y="539.75" width="10.93" height="10.93" fill="#e5e7f3"/>
<rect x="491.12" y="539.75" width="10.93" height="10.93" fill="#cad0e8"/>
<rect x="501.75" y="539.75" width="10.93" height="10.93" fill="#e5e7f3"/>
<rect x="512.38" y="539.75" width="10.93" height="10.93" fill="#fbecec"/>
<rect x="523.00" y="539.75" width="10.93" height="10.93" fill="#e5e7f3"/>
<rect x="533.62" y="539.75" width="10.93" height="10.93" fill="#cad0e8"/>
<rect x="544.25" y="539.75" width="10.93" height="10.93" fill="#e5e7f3"/>
<rect x="554.88" y="539.75" width="21.55" height="10.93" fill="#fbecec"/>
<rect x="576.12" y="539.75" width="10.93" height="10.93" fill="#f0b8b6"/>
<rect x="586.75" y="539.75" width="10.93" height="10.93" fill="#e5e7f3"/>
<rect x="597.38" y="539.75" width="10.93" height="10.93" fill="#f7dad8"/>
<rect x="608.00" y="539.75" width="10.93" height="10.93" fill="#f0b8b6"/>
<rect x="618.62" y="539.75" width="10.93" height="10.93" fill="#fbecec"/>
<rect x="629.25" y="539.75" width="10.93" height="10.93" fill="#e5e7f3"/>
<rect x="639.88" y="539.75" width="10.93" height="10.93" fill="#e89694"/>
<rect x="438.00" y="550.38" width="10.93" height="10.93" fill="#f7dad8"/>
<rect x="448.62" y="550.38" width="10.93" height="10.93" fill="#e5e7f3"/>
<rect x="459.25" y="550.38" width="32.17" height="10.93" fill="#f7dad8"/>
<rect x="491.12" y="550.38" width="10.93" height="10.93" fill="#ffffff"/>
<rect x="501.75" y="550.38" width="10.93" height="10.93" fill="#f7dad8"/>
<rect x="512.38" y="550.38" width="10.93" height="10.93" fill="#fbecec"/>
<rect x="523.00" y="550.38" width="10.93" height="10.93" fill="#e5e7f3"/>
<rect x="533.62" y="550.38" width="10.93" height="10.93" fill="#f0b8b6"/>
<rect x="544.25" y="550.38" width="10.93" height="10.93" fill="#e89694"/>
<rect x="554.88" y="550.38" width="21.55" height="10.93" fill="#cad0e8"/>
<rect x="576.12" y="550.38" width="10.93" height="10.93" fill="#fbecec"/>
<rect x="586.75" y="550.38" width="10.93" height="10.93" fill="#cad0e8"/>
<rect x="597.38" y="550.38" width="10.93" height="10.93" fill="#e5e7f3"/>
<rect x="608.00" y="550.38" width="10.93" height="10.93" fill="#fbecec"/>
<rect x="618.62" y="550.38" width="10.93" height="10.93" fill="#cad0e8"/>
<rect x="629.25" y="550.38" width="10.93" height="10.93" fill="#e5e7f3"/>
<rect x="639.88" y="550.38" width="10.93" height="10.93" fill="#cad0e8"/>
<rect x="438.00" y="561.00" width="10.93" height="10.93" fill="#ffffff"/>
<rect x="448.62" y="561.00" width="10.93" height="10.93" fill="#cad0e8"/>
<rect x="459.25" y="561.00" width="10.93" height="10.93" fill="#e5e7f3"/>
<rect x="469.88" y="561.00" width="10.93" height="10.93" fill="#f7dad8"/>
<rect x="480.50" y="561.00" width="10.93" height="10.93" fill="#b0b8dc"/>
<rect x="491.12" y="561.00" width="10.93" height="10.93" fill="#f0b8b6"/>
<rect x="501.75" y="561.00" width="10.93" height="10.93" fill="#e5e7f3"/>
<rect x="512.38" y="561.00" width="10.93" height="10.93" fill="#fbecec"/>
<rect x="523.00" y="561.00" width="10.93" height="10.93" fill="#f7dad8"/>
<rect x="533.62" y="561.00" width="10.93" height="10.93" fill="#cad0e8"/>
<rect x="544.25" y="561.00" width="10.93" height="10.93" fill="#96a0d0"/>
<rect x="554.88" y="561.00" width="10.93" height="10.93" fill="#f7dad8"/>
<rect x="565.50" y="561.00" width="10.93" height="10.93" fill="#ffffff"/>
<rect x="576.12" y="561.00" width="10.93" height="10.93" fill="#e89694"/>
<rect x="586.75" y="561.00" width="10.93" height="10.93" fill="#cad0e8"/>
<rect x="597.38" y="561.00" width="21.55" height="10.93" fill="#fbecec"/>
<rect x="618.62" y="561.00" width="10.93" height="10.93" fill="#f7dad8"/>
<rect x="629.25" y="561.00" width="10.93" height="10.93" fill="#ffffff"/>
<rect x="639.88" y="561.00" width="10.93" height="10.93" fill="#f0b8b6"/>
<rect x="438.00" y="571.62" width="21.55" height="10.93" fill="#fbecec"/>
<rect x="459.25" y="571.62" width="10.93" height="10.93" fill="#b0b8dc"/>
<rect x="469.88" y="571.62" width="10.93" height="10.93" fill="#f0b8b6"/>
<rect x="480.50" y="571.62" width="10.93" height="10.93" fill="#e5e7f3"/>
<rect x="491.12" y="571.62" width="10.93" height="10.93" fill="#cad0e8"/>
<rect x="501.75" y="571.62" width="10.93" height="10.93" fill="#ffffff"/>
<rect x="512.38" y="571.62" width="21.55" height="10.93" fill="#e5e7f3"/>
<rect x="533.62" y="571.62" width="21.55" height="10.93" fill="#f0b8b6"/>
<rect x="554.88" y="571.62" width="10.93" height="10.93" fill="#cad0e8"/>
<rect x="565.50" y="571.62" width="10.93" height="10.93" fill="#ffffff"/>
<rect x="576.12" y="571.62" width="10.93" height="10.93" fill="#f7dad8"/>
<rect x="586.75" y="571.62" width="10.93" height="10.93" fill="#fbecec"/>
<rect x="597.38" y="571.62" width="10.93" height="10.93" fill="#e5e7f3"/>
<rect x="608.00" y="571.62" width="10.93" height="10.93" fill="#ffffff"/>
<rect x="618.62" y="571.62" width="10.93" height="10.93" fill="#f7dad8"/>
<rect x="629.25" y="571.62" width="10.93" height="10.93" fill="#cad0e8"/>
<rect x="639.88" y="571.62" width="10.93" height="10.93" fill="#e5e7f3"/>
<rect x="438.00" y="582.25" width="10.93" height="10.93" fill="#e5e7f3"/>
<rect x="448.62" y="582.25" width="10.93" height="10.93" fill="#f0b8b6"/>
<rect x="459.25" y="582.25" width="10.93" height="10.93" fill="#fbecec"/>
<rect x="469.88" y="582.25" width="10.93" height="10.93" fill="#f0b8b6"/>
<rect x="480.50" y="582.25" width="10.93" height="10.93" fill="#ffffff"/>
<rect x="491.12" y="582.25" width="21.55" height="10.93" fill="#fbecec"/>
<rect x="512.38" y="582.25" width="10.93" height="10.93" fill="#f7dad8"/>
<rect x="523.00" y="582.25" width="10.93" height="10.93" fill="#b0b8dc"/>
<rect x="533.62" y="582.25" width="10.93" height="10.93" fill="#e5e7f3"/>
<rect x="544.25" y="582.25" width="10.93" height="10.93" fill="#cad0e8"/>
<rect x="554.88" y="582.25" width="10.93" height="10.93" fill="#f0b8b6"/>
<rect x="565.50" y="582.25" width="10.93" height="10.93" fill="#ffffff"/>
<rect x="576.12" y="582.25" width="10.93" height="10.93" fill="#b0b8dc"/>
<rect x="586.75" y="582.25" width="10.93" height="10.93" fill="#fbecec"/>
<rect x="597.38" y="582.25" width="10.93" height="10.93" fill="#cad0e8"/>
<rect x="608.00" y="582.25" width="10.93" height="10.93" fill="#e5e7f3"/>
<rect x="618.62" y="582.25" width="10.93" height="10.93" fill="#f0b8b6"/>
<rect x="629.25" y="582.25" width="10.93" height="10.93" fill="#cad0e8"/>
<rect x="639.88" y="582.25" width="10.93" height="10.93" fill="#fbecec"/>
<rect x="438.00" y="592.88" width="10.93" height="10.93" fill="#fbecec"/>
<rect x="448.62" y="592.88" width="10.93" height="10.93" fill="#cad0e8"/>
<rect x="459.25" y="592.88" width="10.93" height="10.93" fill="#f7dad8"/>
<rect x="469.88" y="592.88" width="10.93" height="10.93" fill="#b0b8dc"/>
<rect x="480.50" y="592.88" width="10.93" height="10.93" fill="#cad0e8"/>
<rect x="491.12" y="592.88" width="10.93" height="10.93" fill="#f0b8b6"/>
<rect x="501.75" y="592.88" width="10.93" height="10.93" fill="#cad0e8"/>
<rect x="512.38" y="592.88" width="10.93" height="10.93" fill="#e5e7f3"/>
<rect x="523.00" y="592.88" width="10.93" height="10.93" fill="#d64a47"/>
<rect x="533.62" y="592.88" width="10.93" height="10.93" fill="#b0b8dc"/>
<rect x="544.25" y="592.88" width="10.93" height="10.93" fill="#f0b8b6"/>
<rect x="554.88" y="592.88" width="10.93" height="10.93" fill="#ffffff"/>
<rect x="565.50" y="592.88" width="10.93" height="10.93" fill="#e5e7f3"/>
<rect x="576.12" y="592.88" width="10.93" height="10.93" fill="#ffffff"/>
<rect x="586.75" y="592.88" width="10.93" height="10.93" fill="#fbecec"/>
<rect x="597.38" y="592.88" width="21.55" height="10.93" fill="#f7dad8"/>
<rect x="618.62" y="592.88" width="10.93" height="10.93" fill="#b0b8dc"/>
<rect x="629.25" y="592.88" width="10.93" height="10.93" fill="#f0b8b6"/>
<rect x="639.88" y="592.88" width="10.93" height="10.93" fill="#cad0e8"/>
</g>
<rect x="438.00" y="391.00" width="212.50" height="212.50" fill="none" stroke="#000" stroke-width="1.80"/>
<g shape-rendering="crispEdges">
<rect x="1151.40" y="388.70" width="10.77" height="10.74" fill="#f7dad8"/>
<rect x="1161.87" y="388.70" width="10.77" height="10.74" fill="#cad0e8"/>
<rect x="1172.34" y="388.70" width="10.77" height="10.74" fill="#fbecec"/>
<rect x="1182.81" y="388.70" width="21.24" height="10.74" fill="#e5e7f3"/>
<rect x="1203.75" y="388.70" width="21.24" height="10.74" fill="#fbecec"/>
<rect x="1224.69" y="388.70" width="10.77" height="10.74" fill="#cad0e8"/>
<rect x="1235.16" y="388.70" width="10.77" height="10.74" fill="#f7dad8"/>
<rect x="1245.63" y="388.70" width="10.77" height="10.74" fill="#e5e7f3"/>
<rect x="1256.10" y="388.70" width="10.77" height="10.74" fill="#fbecec"/>
<rect x="1266.57" y="388.70" width="21.24" height="10.74" fill="#e5e7f3"/>
<rect x="1287.51" y="388.70" width="10.77" height="10.74" fill="#f7dad8"/>
<rect x="1297.98" y="388.70" width="10.77" height="10.74" fill="#cad0e8"/>
<rect x="1308.45" y="388.70" width="10.77" height="10.74" fill="#f7dad8"/>
<rect x="1318.92" y="388.70" width="10.77" height="10.74" fill="#cad0e8"/>
<rect x="1329.39" y="388.70" width="10.77" height="10.74" fill="#ffffff"/>
<rect x="1339.86" y="388.70" width="10.77" height="10.74" fill="#fbecec"/>
<rect x="1350.33" y="388.70" width="10.77" height="10.74" fill="#ffffff"/>
<rect x="1151.40" y="399.14" width="10.77" height="10.74" fill="#cad0e8"/>
<rect x="1161.87" y="399.14" width="10.77" height="10.74" fill="#fbecec"/>
<rect x="1172.34" y="399.14" width="10.77" height="10.74" fill="#ffffff"/>
<rect x="1182.81" y="399.14" width="10.77" height="10.74" fill="#fbecec"/>
<rect x="1193.28" y="399.14" width="10.77" height="10.74" fill="#f7dad8"/>
<rect x="1203.75" y="399.14" width="21.24" height="10.74" fill="#e5e7f3"/>
<rect x="1224.69" y="399.14" width="10.77" height="10.74" fill="#f7dad8"/>
<rect x="1235.16" y="399.14" width="10.77" height="10.74" fill="#e5e7f3"/>
<rect x="1245.63" y="399.14" width="21.24" height="10.74" fill="#ffffff"/>
<rect x="1266.57" y="399.14" width="10.77" height="10.74" fill="#fbecec"/>
<rect x="1277.04" y="399.14" width="10.77" height="10.74" fill="#f7dad8"/>
<rect x="1287.51" y="399.14" width="10.77" height="10.74" fill="#cad0e8"/>
<rect x="1297.98" y="399.14" width="10.77" height="10.74" fill="#fbecec"/>
<rect x="1308.45" y="399.14" width="21.24" height="10.74" fill="#ffffff"/>
<rect x="1329.39" y="399.14" width="10.77" height="10.74" fill="#f7dad8"/>
<rect x="1339.86" y="399.14" width="10.77" height="10.74" fill="#ffffff"/>
<rect x="1350.33" y="399.14" width="10.77" height="10.74" fill="#cad0e8"/>
<rect x="1151.40" y="409.59" width="10.77" height="10.74" fill="#fbecec"/>
<rect x="1161.87" y="409.59" width="10.77" height="10.74" fill="#ffffff"/>
<rect x="1172.34" y="409.59" width="42.18" height="10.74" fill="#e5e7f3"/>
<rect x="1214.22" y="409.59" width="10.77" height="10.74" fill="#f7dad8"/>
<rect x="1224.69" y="409.59" width="10.77" height="10.74" fill="#fbecec"/>
<rect x="1235.16" y="409.59" width="10.77" height="10.74" fill="#cad0e8"/>
<rect x="1245.63" y="409.59" width="21.24" height="10.74" fill="#ffffff"/>
<rect x="1266.57" y="409.59" width="10.77" height="10.74" fill="#cad0e8"/>
<rect x="1277.04" y="409.59" width="10.77" height="10.74" fill="#ffffff"/>
<rect x="1287.51" y="409.59" width="10.77" height="10.74" fill="#f7dad8"/>
<rect x="1297.98" y="409.59" width="10.77" height="10.74" fill="#b0b8dc"/>
<rect x="1308.45" y="409.59" width="10.77" height="10.74" fill="#f7dad8"/>
<rect x="1318.92" y="409.59" width="10.77" height="10.74" fill="#cad0e8"/>
<rect x="1329.39" y="409.59" width="21.24" height="10.74" fill="#e5e7f3"/>
<rect x="1350.33" y="409.59" width="10.77" height="10.74" fill="#f7dad8"/>
<rect x="1151.40" y="420.03" width="10.77" height="10.75" fill="#cad0e8"/>
<rect x="1161.87" y="420.03" width="10.77" height="10.75" fill="#f7dad8"/>
<rect x="1172.34" y="420.03" width="10.77" height="10.75" fill="#ffffff"/>
<rect x="1182.81" y="420.03" width="10.77" height="10.75" fill="#fbecec"/>
<rect x="1193.28" y="420.03" width="10.77" height="10.75" fill="#f7dad8"/>
<rect x="1203.75" y="420.03" width="21.24" height="10.75" fill="#ffffff"/>
<rect x="1224.69" y="420.03" width="10.77" height="10.75" fill="#e5e7f3"/>
<rect x="1235.16" y="420.03" width="10.77" height="10.75" fill="#ffffff"/>
<rect x="1245.63" y="420.03" width="10.77" height="10.75" fill="#f7dad8"/>
<rect x="1256.10" y="420.03" width="10.77" height="10.75" fill="#ffffff"/>
<rect x="1266.57" y="420.03" width="10.77" height="10.75" fill="#fbecec"/>
<rect x="1277.04" y="420.03" width="21.24" height="10.75" fill="#e5e7f3"/>
<rect x="1297.98" y="420.03" width="10.77" height="10.75" fill="#f7dad8"/>
<rect x="1308.45" y="420.03" width="10.77" height="10.75" fill="#e5e7f3"/>
<rect x="1318.92" y="420.03" width="10.77" height="10.75" fill="#fbecec"/>
<rect x="1329.39" y="420.03" width="10.77" height="10.75" fill="#f7dad8"/>
<rect x="1339.86" y="420.03" width="10.77" height="10.75" fill="#cad0e8"/>
<rect x="1350.33" y="420.03" width="10.77" height="10.75" fill="#ffffff"/>
<rect x="1151.40" y="430.48" width="10.77" height="10.74" fill="#fbecec"/>
<rect x="1161.87" y="430.48" width="10.77" height="10.74" fill="#ffffff"/>
<rect x="1172.34" y="430.48" width="10.77" height="10.74" fill="#cad0e8"/>
<rect x="1182.81" y="430.48" width="10.77" height="10.74" fill="#fbecec"/>
<rect x="1193.28" y="430.48" width="10.77" height="10.74" fill="#b0b8dc"/>
<rect x="1203.75" y="430.48" width="10.77" height="10.74" fill="#e5e7f3"/>
<rect x="1214.22" y="430.48" width="10.77" height="10.74" fill="#fbecec"/>
<rect x="1224.69" y="430.48" width="10.77" height="10.74" fill="#ffffff"/>
<rect x="1235.16" y="430.48" width="10.77" height="10.74" fill="#f7dad8"/>
<rect x="1245.63" y="430.48" width="10.77" height="10.74" fill="#b0b8dc"/>
<rect x="1256.10" y="430.48" width="10.77" height="10.74" fill="#f7dad8"/>
<rect x="1266.57" y="430.48" width="10.77" height="10.74" fill="#cad0e8"/>
<rect x="1277.04" y="430.48" width="10.77" height="10.74" fill="#f7dad8"/>
<rect x="1287.51" y="430.48" width="21.24" height="10.74" fill="#e5e7f3"/>
<rect x="1308.45" y="430.48" width="10.77" height="10.74" fill="#fbecec"/>
<rect x="1318.92" y="430.48" width="10.77" height="10.74" fill="#cad0e8"/>
<rect x="1329.39" y="430.48" width="10.77" height="10.74" fill="#ffffff"/>
<rect x="1339.86" y="430.48" width="10.77" height="10.74" fill="#f7dad8"/>
<rect x="1350.33" y="430.48" width="10.77" height="10.74" fill="#e5e7f3"/>
<rect x="1151.40" y="440.93" width="10.77" height="10.74" fill="#e5e7f3"/>
<rect x="1161.87" y="440.93" width="10.77" height="10.74" fill="#ffffff"/>
<rect x="1172.34" y="440.93" width="10.77" height="10.74" fill="#f7dad8"/>
<rect x="1182.81" y="440.93" width="21.24" height="10.74" fill="#fbecec"/>
<rect x="1203.75" y="440.93" width="10.77" height="10.74" fill="#f7dad8"/>
<rect x="1214.22" y="440.93" width="10.77" height="10.74" fill="#cad0e8"/>
<rect x="1224.69" y="440.93" width="10.77" height="10.74" fill="#e5e7f3"/>
<rect x="1235.16" y="440.93" width="10.77" height="10.74" fill="#cad0e8"/>
<rect x="1245.63" y="440.93" width="10.77" height="10.74" fill="#f0b8b6"/>
<rect x="1256.10" y="440.93" width="10.77" height="10.74" fill="#b0b8dc"/>
<rect x="1266.57" y="440.93" width="10.77" height="10.74" fill="#f7dad8"/>
<rect x="1277.04" y="440.93" width="10.77" height="10.74" fill="#cad0e8"/>
<rect x="1287.51" y="440.93" width="10.77" height="10.74" fill="#fbecec"/>
<rect x="1297.98" y="440.93" width="42.18" height="10.74" fill="#ffffff"/>
<rect x="1339.86" y="440.93" width="10.77" height="10.74" fill="#cad0e8"/>
<rect x="1350.33" y="440.93" width="10.77" height="10.74" fill="#fbecec"/>
<rect x="1151.40" y="451.37" width="21.24" height="10.74" fill="#ffffff"/>
<rect x="1172.34" y="451.37" width="10.77" height="10.74" fill="#cad0e8"/>
<rect x="1182.81" y="451.37" width="31.71" height="10.74" fill="#e5e7f3"/>
<rect x="1214.22" y="451.37" width="10.77" height="10.74" fill="#f7dad8"/>
<rect x="1224.69" y="451.37" width="10.77" height="10.74" fill="#ffffff"/>
<rect x="1235.16" y="451.37" width="10.77" height="10.74" fill="#f0b8b6"/>
<rect x="1245.63" y="451.37" width="10.77" height="10.74" fill="#cad0e8"/>
<rect x="1256.10" y="451.37" width="31.71" height="10.74" fill="#fbecec"/>
<rect x="1287.51" y="451.37" width="10.77" height="10.74" fill="#e5e7f3"/>
<rect x="1297.98" y="451.37" width="10.77" height="10.74" fill="#ffffff"/>
<rect x="1308.45" y="451.37" width="10.77" height="10.74" fill="#e5e7f3"/>
<rect x="1318.92" y="451.37" width="10.77" height="10.74" fill="#fbecec"/>
<rect x="1329.39" y="451.37" width="10.77" height="10.74" fill="#f7dad8"/>
<rect x="1339.86" y="451.37" width="10.77" height="10.74" fill="#b0b8dc"/>
<rect x="1350.33" y="451.37" width="10.77" height="10.74" fill="#f7dad8"/>
<rect x="1151.40" y="461.81" width="10.77" height="10.74" fill="#cad0e8"/>
<rect x="1161.87" y="461.81" width="10.77" height="10.74" fill="#f7dad8"/>
<rect x="1172.34" y="461.81" width="10.77" height="10.74" fill="#ffffff"/>
<rect x="1182.81" y="461.81" width="10.77" height="10.74" fill="#fbecec"/>
<rect x="1193.28" y="461.81" width="10.77" height="10.74" fill="#f0b8b6"/>
<rect x="1203.75" y="461.81" width="10.77" height="10.74" fill="#cad0e8"/>
<rect x="1214.22" y="461.81" width="10.77" height="10.74" fill="#fbecec"/>
<rect x="1224.69" y="461.81" width="10.77" height="10.74" fill="#e5e7f3"/>
<rect x="1235.16" y="461.81" width="10.77" height="10.74" fill="#cad0e8"/>
<rect x="1245.63" y="461.81" width="10.77" height="10.74" fill="#e5e7f3"/>
<rect x="1256.10" y="461.81" width="10.77" height="10.74" fill="#fbecec"/>
<rect x="1266.57" y="461.81" width="10.77" height="10.74" fill="#b0b8dc"/>
<rect x="1277.04" y="461.81" width="21.24" height="10.74" fill="#fbecec"/>
<rect x="1297.98" y="461.81" width="10.77" height="10.74" fill="#cad0e8"/>
<rect x="1308.45" y="461.81" width="10.77" height="10.74" fill="#f7dad8"/>
<rect x="1318.92" y="461.81" width="10.77" height="10.74" fill="#96a0d0"/>
<rect x="1329.39" y="461.81" width="21.24" height="10.74" fill="#f7dad8"/>
<rect x="1350.33" y="461.81" width="10.77" height="10.74" fill="#e5e7f3"/>
<rect x="1151.40" y="472.26" width="10.77" height="10.75" fill="#fbecec"/>
<rect x="1161.87" y="472.26" width="21.24" height="10.75" fill="#ffffff"/>
<rect x="1182.81" y="472.26" width="10.77" height="10.75" fill="#e5e7f3"/>
<rect x="1193.28" y="472.26" width="10.77" height="10.75" fill="#cad0e8"/>
<rect x="1203.75" y="472.26" width="10.77" height="10.75" fill="#ffffff"/>
<rect x="1214.22" y="472.26" width="10.77" height="10.75" fill="#f7dad8"/>
<rect x="1224.69" y="472.26" width="10.77" height="10.75" fill="#fbecec"/>
<rect x="1235.16" y="472.26" width="10.77" height="10.75" fill="#f7dad8"/>
<rect x="1245.63" y="472.26" width="10.77" height="10.75" fill="#ffffff"/>
<rect x="1256.10" y="472.26" width="10.77" height="10.75" fill="#fbecec"/>
<rect x="1266.57" y="472.26" width="31.71" height="10.75" fill="#ffffff"/>
<rect x="1297.98" y="472.26" width="10.77" height="10.75" fill="#fbecec"/>
<rect x="1308.45" y="472.26" width="10.77" height="10.75" fill="#e5e7f3"/>
<rect x="1318.92" y="472.26" width="10.77" height="10.75" fill="#f0b8b6"/>
<rect x="1329.39" y="472.26" width="10.77" height="10.75" fill="#cad0e8"/>
<rect x="1339.86" y="472.26" width="10.77" height="10.75" fill="#e5e7f3"/>
<rect x="1350.33" y="472.26" width="10.77" height="10.75" fill="#ffffff"/>
<rect x="1151.40" y="482.71" width="10.77" height="10.74" fill="#fbecec"/>
<rect x="1161.87" y="482.71" width="10.77" height="10.74" fill="#cad0e8"/>
<rect x="1172.34" y="482.71" width="10.77" height="10.74" fill="#f7dad8"/>
<rect x="1182.81" y="482.71" width="10.77" height="10.74" fill="#ffffff"/>
<rect x="1193.28" y="482.71" width="10.77" height="10.74" fill="#f0b8b6"/>
<rect x="1203.75" y="482.71" width="10.77" height="10.74" fill="#cad0e8"/>
<rect x="1214.22" y="482.71" width="10.77" height="10.74" fill="#e5e7f3"/>
<rect x="1224.69" y="482.71" width="10.77" height="10.74" fill="#cad0e8"/>
<rect x="1235.16" y="482.71" width="21.24" height="10.74" fill="#ffffff"/>
<rect x="1256.10" y="482.71" width="10.77" height="10.74" fill="#cad0e8"/>
<rect x="1266.57" y="482.71" width="10.77" height="10.74" fill="#fbecec"/>
<rect x="1277.04" y="482.71" width="21.24" height="10.74" fill="#e5e7f3"/>
<rect x="1297.98" y="482.71" width="10.77" height="10.74" fill="#fbecec"/>
<rect x="1308.45" y="482.71" width="10.77" height="10.74" fill="#cad0e8"/>
<rect x="1318.92" y="482.71" width="10.77" height="10.74" fill="#ffffff"/>
<rect x="1329.39" y="482.71" width="10.77" height="10.74" fill="#e5e7f3"/>
<rect x="1339.86" y="482.71" width="10.77" height="10.74" fill="#fbecec"/>
<rect x="1350.33" y="482.71" width="10.77" height="10.74" fill="#ffffff"/>
<rect x="1151.40" y="493.15" width="10.77" height="10.75" fill="#cad0e8"/>
<rect x="1161.87" y="493.15" width="10.77" height="10.75" fill="#fbecec"/>
<rect x="1172.34" y="493.15" width="10.77" height="10.75" fill="#e5e7f3"/>
<rect x="1182.81" y="493.15" width="10.77" height="10.75" fill="#cad0e8"/>
<rect x="1193.28" y="493.15" width="10.77" height="10.75" fill="#e5e7f3"/>
<rect x="1203.75" y="493.15" width="10.77" height="10.75" fill="#f7dad8"/>
<rect x="1214.22" y="493.15" width="10.77" height="10.75" fill="#f0b8b6"/>
<rect x="1224.69" y="493.15" width="10.77" height="10.75" fill="#ffffff"/>
<rect x="1235.16" y="493.15" width="10.77" height="10.75" fill="#e5e7f3"/>
<rect x="1245.63" y="493.15" width="10.77" height="10.75" fill="#e89694"/>
<rect x="1256.10" y="493.15" width="10.77" height="10.75" fill="#b0b8dc"/>
<rect x="1266.57" y="493.15" width="21.24" height="10.75" fill="#ffffff"/>
<rect x="1287.51" y="493.15" width="21.24" height="10.75" fill="#fbecec"/>
<rect x="1308.45" y="493.15" width="10.77" height="10.75" fill="#e5e7f3"/>
<rect x="1318.92" y="493.15" width="10.77" height="10.75" fill="#f0b8b6"/>
<rect x="1329.39" y="493.15" width="10.77" height="10.75" fill="#ffffff"/>
<rect x="1339.86" y="493.15" width="10.77" height="10.75" fill="#e5e7f3"/>
<rect x="1350.33" y="493.15" width="10.77" height="10.75" fill="#fbecec"/>
<rect x="1151.40" y="503.60" width="10.77" height="10.74" fill="#fbecec"/>
<rect x="1161.87" y="503.60" width="10.77" height="10.74" fill="#f7dad8"/>
<rect x="1172.34" y="503.60" width="10.77" height="10.74" fill="#f0b8b6"/>
<rect x="1182.81" y="503.60" width="10.77" height="10.74" fill="#b0b8dc"/>
<rect x="1193.28" y="503.60" width="10.77" height="10.74" fill="#fbecec"/>
<rect x="1203.75" y="503.60" width="10.77" height="10.74" fill="#cad0e8"/>
<rect x="1214.22" y="503.60" width="10.77" height="10.74" fill="#b0b8dc"/>
<rect x="1224.69" y="503.60" width="10.77" height="10.74" fill="#fbecec"/>
<rect x="1235.16" y="503.60" width="10.77" height="10.74" fill="#ffffff"/>
<rect x="1245.63" y="503.60" width="10.77" height="10.74" fill="#b0b8dc"/>
<rect x="1256.10" y="503.60" width="10.77" height="10.74" fill="#e5e7f3"/>
<rect x="1266.57" y="503.60" width="10.77" height="10.74" fill="#e89694"/>
<rect x="1277.04" y="503.60" width="21.24" height="10.74" fill="#ffffff"/>
<rect x="1297.98" y="503.60" width="21.24" height="10.74" fill="#cad0e8"/>
<rect x="1318.92" y="503.60" width="10.77" height="10.74" fill="#ffffff"/>
<rect x="1329.39" y="503.60" width="10.77" height="10.74" fill="#b0b8dc"/>
<rect x="1339.86" y="503.60" width="10.77" height="10.74" fill="#f7dad8"/>
<rect x="1350.33" y="503.60" width="10.77" height="10.74" fill="#ffffff"/>
<rect x="1151.40" y="514.04" width="10.77" height="10.75" fill="#f7dad8"/>
<rect x="1161.87" y="514.04" width="10.77" height="10.75" fill="#7f8dc5"/>
<rect x="1172.34" y="514.04" width="10.77" height="10.75" fill="#e5e7f3"/>
<rect x="1182.81" y="514.04" width="10.77" height="10.75" fill="#e89694"/>
<rect x="1193.28" y="514.04" width="10.77" height="10.75" fill="#e5e7f3"/>
<rect x="1203.75" y="514.04" width="10.77" height="10.75" fill="#f7dad8"/>
<rect x="1214.22" y="514.04" width="10.77" height="10.75" fill="#f0b8b6"/>
<rect x="1224.69" y="514.04" width="10.77" height="10.75" fill="#ffffff"/>
<rect x="1235.16" y="514.04" width="10.77" height="10.75" fill="#b0b8dc"/>
<rect x="1245.63" y="514.04" width="10.77" height="10.75" fill="#f0b8b6"/>
<rect x="1256.10" y="514.04" width="10.77" height="10.75" fill="#f7dad8"/>
<rect x="1266.57" y="514.04" width="10.77" height="10.75" fill="#7f8dc5"/>
<rect x="1277.04" y="514.04" width="10.77" height="10.75" fill="#cad0e8"/>
<rect x="1287.51" y="514.04" width="10.77" height="10.75" fill="#f7dad8"/>
<rect x="1297.98" y="514.04" width="10.77" height="10.75" fill="#ffffff"/>
<rect x="1308.45" y="514.04" width="10.77" height="10.75" fill="#f7dad8"/>
<rect x="1318.92" y="514.04" width="10.77" height="10.75" fill="#f0b8b6"/>
<rect x="1329.39" y="514.04" width="10.77" height="10.75" fill="#b0b8dc"/>
<rect x="1339.86" y="514.04" width="10.77" height="10.75" fill="#fbecec"/>
<rect x="1350.33" y="514.04" width="10.77" height="10.75" fill="#e5e7f3"/>
<rect x="1151.40" y="524.49" width="10.77" height="10.75" fill="#ffffff"/>
<rect x="1161.87" y="524.49" width="10.77" height="10.75" fill="#f0b8b6"/>
<rect x="1172.34" y="524.49" width="10.77" height="10.75" fill="#e5e7f3"/>
<rect x="1182.81" y="524.49" width="10.77" height="10.75" fill="#cad0e8"/>
<rect x="1193.28" y="524.49" width="10.77" height="10.75" fill="#b0b8dc"/>
<rect x="1203.75" y="524.49" width="10.77" height="10.75" fill="#ffffff"/>
<rect x="1214.22" y="524.49" width="10.77" height="10.75" fill="#cad0e8"/>
<rect x="1224.69" y="524.49" width="10.77" height="10.75" fill="#ffffff"/>
<rect x="1235.16" y="524.49" width="10.77" height="10.75" fill="#f0b8b6"/>
<rect x="1245.63" y="524.49" width="21.24" height="10.75" fill="#b0b8dc"/>
<rect x="1266.57" y="524.49" width="10.77" height="10.75" fill="#fbecec"/>
<rect x="1277.04" y="524.49" width="10.77" height="10.75" fill="#ffffff"/>
<rect x="1287.51" y="524.49" width="10.77" height="10.75" fill="#e89694"/>
<rect x="1297.98" y="524.49" width="10.77" height="10.75" fill="#96a0d0"/>
<rect x="1308.45" y="524.49" width="10.77" height="10.75" fill="#e5e7f3"/>
<rect x="1318.92" y="524.49" width="10.77" height="10.75" fill="#b0b8dc"/>
<rect x="1329.39" y="524.49" width="21.24" height="10.75" fill="#f0b8b6"/>
<rect x="1350.33" y="524.49" width="10.77" height="10.75" fill="#b0b8dc"/>
<rect x="1151.40" y="534.93" width="10.77" height="10.74" fill="#96a0d0"/>
<rect x="1161.87" y="534.93" width="10.77" height="10.74" fill="#cad0e8"/>
<rect x="1172.34" y="534.93" width="10.77" height="10.74" fill="#e5e7f3"/>
<rect x="1182.81" y="534.93" width="10.77" height="10.74" fill="#f0b8b6"/>
<rect x="1193.28" y="534.93" width="10.77" height="10.74" fill="#cad0e8"/>
<rect x="1203.75" y="534.93" width="10.77" height="10.74" fill="#fbecec"/>
<rect x="1214.22" y="534.93" width="10.77" height="10.74" fill="#cad0e8"/>
<rect x="1224.69" y="534.93" width="10.77" height="10.74" fill="#f7dad8"/>
<rect x="1235.16" y="534.93" width="10.77" height="10.74" fill="#b0b8dc"/>
<rect x="1245.63" y="534.93" width="10.77" height="10.74" fill="#ffffff"/>
<rect x="1256.10" y="534.93" width="10.77" height="10.74" fill="#e27d7a"/>
<rect x="1266.57" y="534.93" width="10.77" height="10.74" fill="#ffffff"/>
<rect x="1277.04" y="534.93" width="10.77" height="10.74" fill="#fbecec"/>
<rect x="1287.51" y="534.93" width="10.77" height="10.74" fill="#cad0e8"/>
<rect x="1297.98" y="534.93" width="10.77" height="10.74" fill="#f7dad8"/>
<rect x="1308.45" y="534.93" width="10.77" height="10.74" fill="#f0b8b6"/>
<rect x="1318.92" y="534.93" width="10.77" height="10.74" fill="#f7dad8"/>
<rect x="1329.39" y="534.93" width="21.24" height="10.74" fill="#b0b8dc"/>
<rect x="1350.33" y="534.93" width="10.77" height="10.74" fill="#f0b8b6"/>
<rect x="1151.40" y="545.38" width="10.77" height="10.75" fill="#e27d7a"/>
<rect x="1161.87" y="545.38" width="10.77" height="10.75" fill="#ffffff"/>
<rect x="1172.34" y="545.38" width="10.77" height="10.75" fill="#e5e7f3"/>
<rect x="1182.81" y="545.38" width="10.77" height="10.75" fill="#cad0e8"/>
<rect x="1193.28" y="545.38" width="10.77" height="10.75" fill="#f7dad8"/>
<rect x="1203.75" y="545.38" width="10.77" height="10.75" fill="#ffffff"/>
<rect x="1214.22" y="545.38" width="10.77" height="10.75" fill="#f0b8b6"/>
<rect x="1224.69" y="545.38" width="10.77" height="10.75" fill="#b0b8dc"/>
<rect x="1235.16" y="545.38" width="10.77" height="10.75" fill="#f0b8b6"/>
<rect x="1245.63" y="545.38" width="10.77" height="10.75" fill="#b0b8dc"/>
<rect x="1256.10" y="545.38" width="10.77" height="10.75" fill="#fbecec"/>
<rect x="1266.57" y="545.38" width="10.77" height="10.75" fill="#7f8dc5"/>
<rect x="1277.04" y="545.38" width="10.77" height="10.75" fill="#f0b8b6"/>
<rect x="1287.51" y="545.38" width="10.77" height="10.75" fill="#ffffff"/>
<rect x="1297.98" y="545.38" width="21.24" height="10.75" fill="#cad0e8"/>
<rect x="1318.92" y="545.38" width="10.77" height="10.75" fill="#f0b8b6"/>
<rect x="1329.39" y="545.38" width="10.77" height="10.75" fill="#f7dad8"/>
<rect x="1339.86" y="545.38" width="10.77" height="10.75" fill="#b0b8dc"/>
<rect x="1350.33" y="545.38" width="10.77" height="10.75" fill="#f7dad8"/>
<rect x="1151.40" y="555.82" width="10.77" height="10.74" fill="#b0b8dc"/>
<rect x="1161.87" y="555.82" width="10.77" height="10.74" fill="#ffffff"/>
<rect x="1172.34" y="555.82" width="10.77" height="10.74" fill="#fbecec"/>
<rect x="1182.81" y="555.82" width="10.77" height="10.74" fill="#f7dad8"/>
<rect x="1193.28" y="555.82" width="10.77" height="10.74" fill="#96a0d0"/>
<rect x="1203.75" y="555.82" width="10.77" height="10.74" fill="#f0b8b6"/>
<rect x="1214.22" y="555.82" width="10.77" height="10.74" fill="#b0b8dc"/>
<rect x="1224.69" y="555.82" width="10.77" height="10.74" fill="#e5e7f3"/>
<rect x="1235.16" y="555.82" width="10.77" height="10.74" fill="#fbecec"/>
<rect x="1245.63" y="555.82" width="10.77" height="10.74" fill="#ffffff"/>
<rect x="1256.10" y="555.82" width="10.77" height="10.74" fill="#fbecec"/>
<rect x="1266.57" y="555.82" width="10.77" height="10.74" fill="#f7dad8"/>
<rect x="1277.04" y="555.82" width="10.77" height="10.74" fill="#b0b8dc"/>
<rect x="1287.51" y="555.82" width="10.77" height="10.74" fill="#f0b8b6"/>
<rect x="1297.98" y="555.82" width="10.77" height="10.74" fill="#cad0e8"/>
<rect x="1308.45" y="555.82" width="10.77" height="10.74" fill="#fbecec"/>
<rect x="1318.92" y="555.82" width="10.77" height="10.74" fill="#cad0e8"/>
<rect x="1329.39" y="555.82" width="10.77" height="10.74" fill="#e5e7f3"/>
<rect x="1339.86" y="555.82" width="10.77" height="10.74" fill="#f7dad8"/>
<rect x="1350.33" y="555.82" width="10.77" height="10.74" fill="#e5e7f3"/>
<rect x="1151.40" y="566.26" width="10.77" height="10.75" fill="#f7dad8"/>
<rect x="1161.87" y="566.26" width="10.77" height="10.75" fill="#cad0e8"/>
<rect x="1172.34" y="566.26" width="10.77" height="10.75" fill="#e5e7f3"/>
<rect x="1182.81" y="566.26" width="10.77" height="10.75" fill="#fbecec"/>
<rect x="1193.28" y="566.26" width="10.77" height="10.75" fill="#ffffff"/>
<rect x="1203.75" y="566.26" width="10.77" height="10.75" fill="#96a0d0"/>
<rect x="1214.22" y="566.26" width="10.77" height="10.75" fill="#e89694"/>
<rect x="1224.69" y="566.26" width="10.77" height="10.75" fill="#ffffff"/>
<rect x="1235.16" y="566.26" width="10.77" height="10.75" fill="#e5e7f3"/>
<rect x="1245.63" y="566.26" width="10.77" height="10.75" fill="#fbecec"/>
<rect x="1256.10" y="566.26" width="10.77" height="10.75" fill="#f7dad8"/>
<rect x="1266.57" y="566.26" width="10.77" height="10.75" fill="#fbecec"/>
<rect x="1277.04" y="566.26" width="10.77" height="10.75" fill="#cad0e8"/>
<rect x="1287.51" y="566.26" width="10.77" height="10.75" fill="#e89694"/>
<rect x="1297.98" y="566.26" width="10.77" height="10.75" fill="#ffffff"/>
<rect x="1308.45" y="566.26" width="10.77" height="10.75" fill="#e5e7f3"/>
<rect x="1318.92" y="566.26" width="10.77" height="10.75" fill="#ffffff"/>
<rect x="1329.39" y="566.26" width="10.77" height="10.75" fill="#e89694"/>
<rect x="1339.86" y="566.26" width="21.24" height="10.75" fill="#e5e7f3"/>
<rect x="1151.40" y="576.71" width="10.77" height="10.74" fill="#e5e7f3"/>
<rect x="1161.87" y="576.71" width="10.77" height="10.74" fill="#f7dad8"/>
<rect x="1172.34" y="576.71" width="10.77" height="10.74" fill="#b0b8dc"/>
<rect x="1182.81" y="576.71" width="10.77" height="10.74" fill="#e89694"/>
<rect x="1193.28" y="576.71" width="10.77" height="10.74" fill="#e5e7f3"/>
<rect x="1203.75" y="576.71" width="10.77" height="10.74" fill="#fbecec"/>
<rect x="1214.22" y="576.71" width="10.77" height="10.74" fill="#ffffff"/>
<rect x="1224.69" y="576.71" width="10.77" height="10.74" fill="#cad0e8"/>
<rect x="1235.16" y="576.71" width="10.77" height="10.74" fill="#fbecec"/>
<rect x="1245.63" y="576.71" width="10.77" height="10.74" fill="#b0b8dc"/>
<rect x="1256.10" y="576.71" width="21.24" height="10.74" fill="#cad0e8"/>
<rect x="1277.04" y="576.71" width="10.77" height="10.74" fill="#e5e7f3"/>
<rect x="1287.51" y="576.71" width="10.77" height="10.74" fill="#b0b8dc"/>
<rect x="1297.98" y="576.71" width="10.77" height="10.74" fill="#96a0d0"/>
<rect x="1308.45" y="576.71" width="10.77" height="10.74" fill="#f0b8b6"/>
<rect x="1318.92" y="576.71" width="10.77" height="10.74" fill="#ffffff"/>
<rect x="1329.39" y="576.71" width="10.77" height="10.74" fill="#96a0d0"/>
<rect x="1339.86" y="576.71" width="10.77" height="10.74" fill="#ffffff"/>
<rect x="1350.33" y="576.71" width="10.77" height="10.74" fill="#fbecec"/>
<rect x="1151.40" y="587.15" width="10.77" height="10.75" fill="#b0b8dc"/>
<rect x="1161.87" y="587.15" width="10.77" height="10.75" fill="#e89694"/>
<rect x="1172.34" y="587.15" width="10.77" height="10.75" fill="#ffffff"/>
<rect x="1182.81" y="587.15" width="10.77" height="10.75" fill="#96a0d0"/>
<rect x="1193.28" y="587.15" width="10.77" height="10.75" fill="#e89694"/>
<rect x="1203.75" y="587.15" width="10.77" height="10.75" fill="#96a0d0"/>
<rect x="1214.22" y="587.15" width="10.77" height="10.75" fill="#ffffff"/>
<rect x="1224.69" y="587.15" width="10.77" height="10.75" fill="#e5e7f3"/>
<rect x="1235.16" y="587.15" width="10.77" height="10.75" fill="#f0b8b6"/>
<rect x="1245.63" y="587.15" width="21.24" height="10.75" fill="#e5e7f3"/>
<rect x="1266.57" y="587.15" width="10.77" height="10.75" fill="#e89694"/>
<rect x="1277.04" y="587.15" width="10.77" height="10.75" fill="#fbecec"/>
<rect x="1287.51" y="587.15" width="10.77" height="10.75" fill="#cad0e8"/>
<rect x="1297.98" y="587.15" width="10.77" height="10.75" fill="#f0b8b6"/>
<rect x="1308.45" y="587.15" width="10.77" height="10.75" fill="#f7dad8"/>
<rect x="1318.92" y="587.15" width="10.77" height="10.75" fill="#96a0d0"/>
<rect x="1329.39" y="587.15" width="10.77" height="10.75" fill="#f7dad8"/>
<rect x="1339.86" y="587.15" width="10.77" height="10.75" fill="#fbecec"/>
<rect x="1350.33" y="587.15" width="10.77" height="10.75" fill="#e5e7f3"/>
</g>
<rect x="1151.40" y="388.70" width="209.40" height="208.90" fill="none" stroke="#000" stroke-width="1.80"/>
<g shape-rendering="crispEdges">
<rect x="102.60" y="684.50" width="10.86" height="10.81" fill="#a04778"/>
<rect x="113.16" y="684.50" width="10.86" height="10.81" fill="#ac4b73"/>
<rect x="123.73" y="684.50" width="10.86" height="10.81" fill="#9c457a"/>
<rect x="134.29" y="684.50" width="10.86" height="10.81" fill="#91417d"/>
<rect x="144.86" y="684.50" width="10.86" height="10.81" fill="#90417d"/>
<rect x="155.42" y="684.50" width="10.87" height="10.81" fill="#893e7f"/>
<rect x="165.99" y="684.50" width="21.43" height="10.81" fill="#90417d"/>
<rect x="187.12" y="684.50" width="10.86" height="10.81" fill="#893e7f"/>
<rect x="197.69" y="684.50" width="10.86" height="10.81" fill="#883e7f"/>
<rect x="208.25" y="684.50" width="10.86" height="10.81" fill="#93427d"/>
<rect x="218.81" y="684.50" width="10.86" height="10.81" fill="#ab4a73"/>
<rect x="229.38" y="684.50" width="10.86" height="10.81" fill="#9c457a"/>
<rect x="239.94" y="684.50" width="10.86" height="10.81" fill="#93427d"/>
<rect x="250.51" y="684.50" width="10.86" height="10.81" fill="#90417d"/>
<rect x="261.07" y="684.50" width="10.86" height="10.81" fill="#763782"/>
<rect x="271.64" y="684.50" width="10.86" height="10.81" fill="#833c80"/>
<rect x="282.20" y="684.50" width="10.86" height="10.81" fill="#6c3580"/>
<rect x="292.77" y="684.50" width="10.86" height="10.81" fill="#6d3580"/>
<rect x="303.33" y="684.50" width="10.86" height="10.81" fill="#8e407e"/>
<rect x="102.60" y="695.01" width="10.86" height="10.81" fill="#ab4a73"/>
<rect x="113.16" y="695.01" width="10.86" height="10.81" fill="#9b457b"/>
<rect x="123.73" y="695.01" width="10.86" height="10.81" fill="#91417d"/>
<rect x="134.29" y="695.01" width="10.86" height="10.81" fill="#873e7f"/>
<rect x="144.86" y="695.01" width="10.86" height="10.81" fill="#883e7f"/>
<rect x="155.42" y="695.01" width="10.87" height="10.81" fill="#8f417e"/>
<rect x="165.99" y="695.01" width="10.86" height="10.81" fill="#873d7f"/>
<rect x="176.56" y="695.01" width="10.86" height="10.81" fill="#883e7f"/>
<rect x="187.12" y="695.01" width="10.86" height="10.81" fill="#99447b"/>
<rect x="197.69" y="695.01" width="21.43" height="10.81" fill="#91417d"/>
<rect x="218.81" y="695.01" width="10.86" height="10.81" fill="#9c457a"/>
<rect x="229.38" y="695.01" width="10.86" height="10.81" fill="#93427d"/>
<rect x="239.94" y="695.01" width="21.43" height="10.81" fill="#9a457b"/>
<rect x="261.07" y="695.01" width="10.86" height="10.81" fill="#7f3a80"/>
<rect x="271.64" y="695.01" width="10.86" height="10.81" fill="#863d7f"/>
<rect x="282.20" y="695.01" width="10.86" height="10.81" fill="#753782"/>
<rect x="292.77" y="695.01" width="10.86" height="10.81" fill="#7d3a81"/>
<rect x="303.33" y="695.01" width="10.86" height="10.81" fill="#96437c"/>
<rect x="102.60" y="705.53" width="10.86" height="10.81" fill="#90417d"/>
<rect x="113.16" y="705.53" width="10.86" height="10.81" fill="#763782"/>
<rect x="123.73" y="705.53" width="21.43" height="10.81" fill="#7c3981"/>
<rect x="144.86" y="705.53" width="10.86" height="10.81" fill="#863d7f"/>
<rect x="155.42" y="705.53" width="10.87" height="10.81" fill="#8f417e"/>
<rect x="165.99" y="705.53" width="10.86" height="10.81" fill="#773782"/>
<rect x="176.56" y="705.53" width="10.86" height="10.81" fill="#883e7f"/>
<rect x="187.12" y="705.53" width="10.86" height="10.81" fill="#a14777"/>
<rect x="197.69" y="705.53" width="10.86" height="10.81" fill="#8f417e"/>
<rect x="208.25" y="705.53" width="10.86" height="10.81" fill="#7f3a80"/>
<rect x="218.81" y="705.53" width="10.86" height="10.81" fill="#98447c"/>
<rect x="229.38" y="705.53" width="10.86" height="10.81" fill="#92427d"/>
<rect x="239.94" y="705.53" width="10.86" height="10.81" fill="#93427d"/>
<rect x="250.51" y="705.53" width="10.86" height="10.81" fill="#a24777"/>
<rect x="261.07" y="705.53" width="10.86" height="10.81" fill="#92427d"/>
<rect x="271.64" y="705.53" width="10.86" height="10.81" fill="#99447b"/>
<rect x="282.20" y="705.53" width="10.86" height="10.81" fill="#98447c"/>
<rect x="292.77" y="705.53" width="10.86" height="10.81" fill="#8e407e"/>
<rect x="303.33" y="705.53" width="10.86" height="10.81" fill="#7f3b80"/>
<rect x="102.60" y="716.04" width="10.86" height="10.81" fill="#863d7f"/>
<rect x="113.16" y="716.04" width="10.86" height="10.81" fill="#6c3580"/>
<rect x="123.73" y="716.04" width="10.86" height="10.81" fill="#723681"/>
<rect x="134.29" y="716.04" width="10.86" height="10.81" fill="#64347f"/>
<rect x="144.86" y="716.04" width="10.86" height="10.81" fill="#7e3a81"/>
<rect x="155.42" y="716.04" width="10.87" height="10.81" fill="#91417d"/>
<rect x="165.99" y="716.04" width="10.86" height="10.81" fill="#883e7f"/>
<rect x="176.56" y="716.04" width="10.86" height="10.81" fill="#90417d"/>
<rect x="187.12" y="716.04" width="10.86" height="10.81" fill="#91417d"/>
<rect x="197.69" y="716.04" width="10.86" height="10.81" fill="#763782"/>
<rect x="208.25" y="716.04" width="10.86" height="10.81" fill="#6d3681"/>
<rect x="218.81" y="716.04" width="10.86" height="10.81" fill="#873e7f"/>
<rect x="229.38" y="716.04" width="10.86" height="10.81" fill="#91417d"/>
<rect x="239.94" y="716.04" width="10.86" height="10.81" fill="#92427d"/>
<rect x="250.51" y="716.04" width="10.86" height="10.81" fill="#93427d"/>
<rect x="261.07" y="716.04" width="21.43" height="10.81" fill="#92427d"/>
<rect x="282.20" y="716.04" width="10.86" height="10.81" fill="#883e7f"/>
<rect x="292.77" y="716.04" width="10.86" height="10.81" fill="#7c3981"/>
<rect x="303.33" y="716.04" width="10.86" height="10.81" fill="#723681"/>
<rect x="102.60" y="726.56" width="10.86" height="10.82" fill="#8f417e"/>
<rect x="113.16" y="726.56" width="10.86" height="10.82" fill="#7c3981"/>
<rect x="123.73" y="726.56" width="10.86" height="10.82" fill="#793881"/>
<rect x="134.29" y="726.56" width="10.86" height="10.82" fill="#6c3580"/>
<rect x="144.86" y="726.56" width="10.86" height="10.82" fill="#98447c"/>
<rect x="155.42" y="726.56" width="10.87" height="10.82" fill="#ab4a73"/>
<rect x="165.99" y="726.56" width="10.86" height="10.82" fill="#9c457a"/>
<rect x="176.56" y="726.56" width="10.86" height="10.82" fill="#93427d"/>
<rect x="187.12" y="726.56" width="10.86" height="10.82" fill="#91417d"/>
<rect x="197.69" y="726.56" width="10.86" height="10.82" fill="#8f417e"/>
<rect x="208.25" y="726.56" width="10.86" height="10.82" fill="#873e7f"/>
<rect x="218.81" y="726.56" width="10.86" height="10.82" fill="#91417d"/>
<rect x="229.38" y="726.56" width="21.43" height="10.82" fill="#9b457b"/>
<rect x="250.51" y="726.56" width="10.86" height="10.82" fill="#9c457a"/>
<rect x="261.07" y="726.56" width="10.86" height="10.82" fill="#a44876"/>
<rect x="271.64" y="726.56" width="10.86" height="10.82" fill="#a24777"/>
<rect x="282.20" y="726.56" width="10.86" height="10.82" fill="#873d7f"/>
<rect x="292.77" y="726.56" width="10.86" height="10.82" fill="#6c3580"/>
<rect x="303.33" y="726.56" width="10.86" height="10.82" fill="#62347f"/>
<rect x="102.60" y="737.08" width="10.86" height="10.81" fill="#8f417e"/>
<rect x="113.16" y="737.08" width="10.86" height="10.81" fill="#7b3981"/>
<rect x="123.73" y="737.08" width="21.43" height="10.81" fill="#6c3580"/>
<rect x="144.86" y="737.08" width="10.86" height="10.81" fill="#90417d"/>
<rect x="155.42" y="737.08" width="10.87" height="10.81" fill="#9d4679"/>
<rect x="165.99" y="737.08" width="10.86" height="10.81" fill="#a44876"/>
<rect x="176.56" y="737.08" width="10.86" height="10.81" fill="#a24777"/>
<rect x="187.12" y="737.08" width="21.43" height="10.81" fill="#92427d"/>
<rect x="208.25" y="737.08" width="10.86" height="10.81" fill="#99447b"/>
<rect x="218.81" y="737.08" width="10.86" height="10.81" fill="#92427d"/>
<rect x="229.38" y="737.08" width="10.86" height="10.81" fill="#9a457b"/>
<rect x="239.94" y="737.08" width="10.86" height="10.81" fill="#9b457b"/>
<rect x="250.51" y="737.08" width="10.86" height="10.81" fill="#9c457a"/>
<rect x="261.07" y="737.08" width="10.86" height="10.81" fill="#a44876"/>
<rect x="271.64" y="737.08" width="10.86" height="10.81" fill="#9b457b"/>
<rect x="282.20" y="737.08" width="10.86" height="10.81" fill="#863d7f"/>
<rect x="292.77" y="737.08" width="10.86" height="10.81" fill="#7a3881"/>
<rect x="303.33" y="737.08" width="10.86" height="10.81" fill="#62347f"/>
<rect x="102.60" y="747.59" width="10.86" height="10.81" fill="#843c7f"/>
<rect x="113.16" y="747.59" width="10.86" height="10.81" fill="#6c3580"/>
<rect x="123.73" y="747.59" width="10.86" height="10.81" fill="#823c80"/>
<rect x="134.29" y="747.59" width="10.86" height="10.81" fill="#853d7f"/>
<rect x="144.86" y="747.59" width="10.86" height="10.81" fill="#91417d"/>
<rect x="155.42" y="747.59" width="10.87" height="10.81" fill="#a34877"/>
<rect x="165.99" y="747.59" width="31.99" height="10.81" fill="#94427d"/>
<rect x="197.69" y="747.59" width="21.43" height="10.81" fill="#9c457a"/>
<rect x="218.81" y="747.59" width="10.86" height="10.81" fill="#92427d"/>
<rect x="229.38" y="747.59" width="10.86" height="10.81" fill="#883e7f"/>
<rect x="239.94" y="747.59" width="10.86" height="10.81" fill="#91417d"/>
<rect x="250.51" y="747.59" width="21.43" height="10.81" fill="#9a457b"/>
<rect x="271.64" y="747.59" width="10.86" height="10.81" fill="#873d7f"/>
<rect x="282.20" y="747.59" width="10.86" height="10.81" fill="#6d3580"/>
<rect x="292.77" y="747.59" width="10.86" height="10.81" fill="#793882"/>
<rect x="303.33" y="747.59" width="10.86" height="10.81" fill="#6a3580"/>
<rect x="102.60" y="758.11" width="10.86" height="10.81" fill="#7a3881"/>
<rect x="113.16" y="758.11" width="10.86" height="10.81" fill="#64347f"/>
<rect x="123.73" y="758.11" width="10.86" height="10.81" fill="#733782"/>
<rect x="134.29" y="758.11" width="10.86" height="10.81" fill="#7e3a81"/>
<rect x="144.86" y="758.11" width="10.86" height="10.81" fill="#8a3e7f"/>
<rect x="155.42" y="758.11" width="10.87" height="10.81" fill="#a34877"/>
<rect x="165.99" y="758.11" width="10.86" height="10.81" fill="#93427d"/>
<rect x="176.56" y="758.11" width="10.86" height="10.81" fill="#a34877"/>
<rect x="187.12" y="758.11" width="10.86" height="10.81" fill="#ac4b72"/>
<rect x="197.69" y="758.11" width="10.86" height="10.81" fill="#ad4b72"/>
<rect x="208.25" y="758.11" width="10.86" height="10.81" fill="#a64975"/>
<rect x="218.81" y="758.11" width="10.86" height="10.81" fill="#a34877"/>
<rect x="229.38" y="758.11" width="10.86" height="10.81" fill="#803b80"/>
<rect x="239.94" y="758.11" width="10.86" height="10.81" fill="#7e3a81"/>
<rect x="250.51" y="758.11" width="21.43" height="10.81" fill="#863d7f"/>
<rect x="271.64" y="758.11" width="10.86" height="10.81" fill="#7c3981"/>
<rect x="282.20" y="758.11" width="21.43" height="10.81" fill="#6b3580"/>
<rect x="303.33" y="758.11" width="10.86" height="10.81" fill="#713681"/>
<rect x="102.60" y="768.62" width="10.86" height="10.81" fill="#733782"/>
<rect x="113.16" y="768.62" width="10.86" height="10.81" fill="#733681"/>
<rect x="123.73" y="768.62" width="10.86" height="10.81" fill="#7d3a81"/>
<rect x="134.29" y="768.62" width="10.86" height="10.81" fill="#98447c"/>
<rect x="144.86" y="768.62" width="10.86" height="10.81" fill="#9b457b"/>
<rect x="155.42" y="768.62" width="10.87" height="10.81" fill="#a44876"/>
<rect x="165.99" y="768.62" width="10.86" height="10.81" fill="#8b3f7e"/>
<rect x="176.56" y="768.62" width="21.43" height="10.81" fill="#93427d"/>
<rect x="197.69" y="768.62" width="10.86" height="10.81" fill="#9c457a"/>
<rect x="208.25" y="768.62" width="10.86" height="10.81" fill="#af4c71"/>
<rect x="218.81" y="768.62" width="10.86" height="10.81" fill="#ad4b72"/>
<rect x="229.38" y="768.62" width="10.86" height="10.81" fill="#91417d"/>
<rect x="239.94" y="768.62" width="10.86" height="10.81" fill="#7e3a81"/>
<rect x="250.51" y="768.62" width="10.86" height="10.81" fill="#753782"/>
<rect x="261.07" y="768.62" width="21.43" height="10.81" fill="#743782"/>
<rect x="282.20" y="768.62" width="10.86" height="10.81" fill="#7b3981"/>
<rect x="292.77" y="768.62" width="10.86" height="10.81" fill="#7a3981"/>
<rect x="303.33" y="768.62" width="10.86" height="10.81" fill="#7a3881"/>
<rect x="102.60" y="779.13" width="10.86" height="10.81" fill="#7d3a81"/>
<rect x="113.16" y="779.13" width="10.86" height="10.81" fill="#853d7f"/>
<rect x="123.73" y="779.13" width="10.86" height="10.81" fill="#7e3a81"/>
<rect x="134.29" y="779.13" width="10.86" height="10.81" fill="#91417d"/>
<rect x="144.86" y="779.13" width="10.86" height="10.81" fill="#93427d"/>
<rect x="155.42" y="779.13" width="21.43" height="10.81" fill="#a44876"/>
<rect x="176.56" y="779.13" width="10.86" height="10.81" fill="#a24777"/>
<rect x="187.12" y="779.13" width="10.86" height="10.81" fill="#883e7f"/>
<rect x="197.69" y="779.13" width="10.86" height="10.81" fill="#8a3f7e"/>
<rect x="208.25" y="779.13" width="10.86" height="10.81" fill="#b54e6e"/>
<rect x="218.81" y="779.13" width="10.86" height="10.81" fill="#a64975"/>
<rect x="229.38" y="779.13" width="10.86" height="10.81" fill="#9a457b"/>
<rect x="239.94" y="779.13" width="10.86" height="10.81" fill="#8f417e"/>
<rect x="250.51" y="779.13" width="21.43" height="10.81" fill="#863d7f"/>
<rect x="271.64" y="779.13" width="10.86" height="10.81" fill="#7d3a81"/>
<rect x="282.20" y="779.13" width="10.86" height="10.81" fill="#843c80"/>
<rect x="292.77" y="779.13" width="10.86" height="10.81" fill="#733681"/>
<rect x="303.33" y="779.13" width="10.86" height="10.81" fill="#6a3580"/>
<rect x="102.60" y="789.65" width="10.86" height="10.81" fill="#873d7f"/>
<rect x="113.16" y="789.65" width="10.86" height="10.81" fill="#90417d"/>
<rect x="123.73" y="789.65" width="10.86" height="10.81" fill="#8a3e7f"/>
<rect x="134.29" y="789.65" width="10.86" height="10.81" fill="#9b457b"/>
<rect x="144.86" y="789.65" width="10.86" height="10.81" fill="#94437d"/>
<rect x="155.42" y="789.65" width="10.87" height="10.81" fill="#9c457a"/>
<rect x="165.99" y="789.65" width="10.86" height="10.81" fill="#9b457b"/>
<rect x="176.56" y="789.65" width="10.86" height="10.81" fill="#99447b"/>
<rect x="187.12" y="789.65" width="10.86" height="10.81" fill="#7e3a81"/>
<rect x="197.69" y="789.65" width="10.86" height="10.81" fill="#803b80"/>
<rect x="208.25" y="789.65" width="10.86" height="10.81" fill="#aa4a73"/>
<rect x="218.81" y="789.65" width="10.86" height="10.81" fill="#94427d"/>
<rect x="229.38" y="789.65" width="10.86" height="10.81" fill="#883e7f"/>
<rect x="239.94" y="789.65" width="10.86" height="10.81" fill="#873e7f"/>
<rect x="250.51" y="789.65" width="10.86" height="10.81" fill="#883e7f"/>
<rect x="261.07" y="789.65" width="10.86" height="10.81" fill="#8f417e"/>
<rect x="271.64" y="789.65" width="10.86" height="10.81" fill="#7f3a80"/>
<rect x="282.20" y="789.65" width="10.86" height="10.81" fill="#7e3a81"/>
<rect x="292.77" y="789.65" width="10.86" height="10.81" fill="#6c3580"/>
<rect x="303.33" y="789.65" width="10.86" height="10.81" fill="#63347f"/>
<rect x="102.60" y="800.16" width="10.86" height="10.81" fill="#8b3f7e"/>
<rect x="113.16" y="800.16" width="10.86" height="10.81" fill="#9c457a"/>
<rect x="123.73" y="800.16" width="10.86" height="10.81" fill="#a54876"/>
<rect x="134.29" y="800.16" width="10.86" height="10.81" fill="#ae4b71"/>
<rect x="144.86" y="800.16" width="10.86" height="10.81" fill="#ad4b72"/>
<rect x="155.42" y="800.16" width="10.87" height="10.81" fill="#9c457a"/>
<rect x="165.99" y="800.16" width="10.86" height="10.81" fill="#8a3e7f"/>
<rect x="176.56" y="800.16" width="10.86" height="10.81" fill="#873e7f"/>
<rect x="187.12" y="800.16" width="21.43" height="10.81" fill="#7d3a81"/>
<rect x="208.25" y="800.16" width="21.43" height="10.81" fill="#92427d"/>
<rect x="229.38" y="800.16" width="10.86" height="10.81" fill="#883e7f"/>
<rect x="239.94" y="800.16" width="10.86" height="10.81" fill="#873e7f"/>
<rect x="250.51" y="800.16" width="10.86" height="10.81" fill="#99447c"/>
<rect x="261.07" y="800.16" width="21.43" height="10.81" fill="#9c457a"/>
<rect x="282.20" y="800.16" width="10.86" height="10.81" fill="#a44876"/>
<rect x="292.77" y="800.16" width="10.86" height="10.81" fill="#91417d"/>
<rect x="303.33" y="800.16" width="10.86" height="10.81" fill="#7e3a81"/>
<rect x="102.60" y="810.68" width="10.86" height="10.81" fill="#a74975"/>
<rect x="113.16" y="810.68" width="10.86" height="10.81" fill="#b94f6c"/>
<rect x="123.73" y="810.68" width="10.86" height="10.81" fill="#ba506c"/>
<rect x="134.29" y="810.68" width="10.86" height="10.81" fill="#b24d70"/>
<rect x="144.86" y="810.68" width="10.86" height="10.81" fill="#b14c70"/>
<rect x="155.42" y="810.68" width="10.87" height="10.81" fill="#a64975"/>
<rect x="165.99" y="810.68" width="10.86" height="10.81" fill="#92427d"/>
<rect x="176.56" y="810.68" width="10.86" height="10.81" fill="#873e7f"/>
<rect x="187.12" y="810.68" width="10.86" height="10.81" fill="#7e3a81"/>
<rect x="197.69" y="810.68" width="10.86" height="10.81" fill="#7f3a80"/>
<rect x="208.25" y="810.68" width="10.86" height="10.81" fill="#9b457b"/>
<rect x="218.81" y="810.68" width="10.86" height="10.81" fill="#ac4b73"/>
<rect x="229.38" y="810.68" width="10.86" height="10.81" fill="#91417d"/>
<rect x="239.94" y="810.68" width="10.86" height="10.81" fill="#7e3a81"/>
<rect x="250.51" y="810.68" width="10.86" height="10.81" fill="#92427d"/>
<rect x="261.07" y="810.68" width="10.86" height="10.81" fill="#ae4b71"/>
<rect x="271.64" y="810.68" width="10.86" height="10.81" fill="#b94f6c"/>
<rect x="282.20" y="810.68" width="10.86" height="10.81" fill="#c1586a"/>
<rect x="292.77" y="810.68" width="10.86" height="10.81" fill="#af4c71"/>
<rect x="303.33" y="810.68" width="10.86" height="10.81" fill="#9c457a"/>
<rect x="102.60" y="821.19" width="10.86" height="10.81" fill="#c2596a"/>
<rect x="113.16" y="821.19" width="21.43" height="10.81" fill="#cd6467"/>
<rect x="134.29" y="821.19" width="10.86" height="10.81" fill="#c35a69"/>
<rect x="144.86" y="821.19" width="10.86" height="10.81" fill="#ca6168"/>
<rect x="155.42" y="821.19" width="10.87" height="10.81" fill="#b94f6c"/>
<rect x="165.99" y="821.19" width="10.86" height="10.81" fill="#a54876"/>
<rect x="176.56" y="821.19" width="10.86" height="10.81" fill="#93427d"/>
<rect x="187.12" y="821.19" width="21.43" height="10.81" fill="#92427d"/>
<rect x="208.25" y="821.19" width="10.86" height="10.81" fill="#a44876"/>
<rect x="218.81" y="821.19" width="10.86" height="10.81" fill="#ad4b72"/>
<rect x="229.38" y="821.19" width="10.86" height="10.81" fill="#91417d"/>
<rect x="239.94" y="821.19" width="10.86" height="10.81" fill="#763782"/>
<rect x="250.51" y="821.19" width="10.86" height="10.81" fill="#883e7f"/>
<rect x="261.07" y="821.19" width="10.86" height="10.81" fill="#ad4b72"/>
<rect x="271.64" y="821.19" width="10.86" height="10.81" fill="#b84f6c"/>
<rect x="282.20" y="821.19" width="10.86" height="10.81" fill="#c35a69"/>
<rect x="292.77" y="821.19" width="10.86" height="10.81" fill="#ba506c"/>
<rect x="303.33" y="821.19" width="10.86" height="10.81" fill="#a74975"/>
<rect x="102.60" y="831.71" width="10.86" height="10.81" fill="#ba506c"/>
<rect x="113.16" y="831.71" width="10.86" height="10.81" fill="#c35a6a"/>
<rect x="123.73" y="831.71" width="10.86" height="10.81" fill="#c2596a"/>
<rect x="134.29" y="831.71" width="21.43" height="10.81" fill="#b14c70"/>
<rect x="155.42" y="831.71" width="10.87" height="10.81" fill="#ae4b71"/>
<rect x="165.99" y="831.71" width="10.86" height="10.81" fill="#a54876"/>
<rect x="176.56" y="831.71" width="10.86" height="10.81" fill="#a64975"/>
<rect x="187.12" y="831.71" width="10.86" height="10.81" fill="#ad4b72"/>
<rect x="197.69" y="831.71" width="31.99" height="10.81" fill="#9c457a"/>
<rect x="229.38" y="831.71" width="10.86" height="10.81" fill="#883e7f"/>
<rect x="239.94" y="831.71" width="10.86" height="10.81" fill="#7e3a81"/>
<rect x="250.51" y="831.71" width="10.86" height="10.81" fill="#883e7f"/>
<rect x="261.07" y="831.71" width="10.86" height="10.81" fill="#93427d"/>
<rect x="271.64" y="831.71" width="10.86" height="10.81" fill="#96437c"/>
<rect x="282.20" y="831.71" width="10.86" height="10.81" fill="#c1576a"/>
<rect x="292.77" y="831.71" width="10.86" height="10.81" fill="#c2596a"/>
<rect x="303.33" y="831.71" width="10.86" height="10.81" fill="#a74975"/>
<rect x="102.60" y="842.22" width="10.86" height="10.82" fill="#9f4679"/>
<rect x="113.16" y="842.22" width="21.43" height="10.82" fill="#a64975"/>
<rect x="134.29" y="842.22" width="21.43" height="10.82" fill="#9c457a"/>
<rect x="155.42" y="842.22" width="21.43" height="10.82" fill="#94437d"/>
<rect x="176.56" y="842.22" width="21.43" height="10.82" fill="#ad4b72"/>
<rect x="197.69" y="842.22" width="10.86" height="10.82" fill="#9a457b"/>
<rect x="208.25" y="842.22" width="10.86" height="10.82" fill="#91417d"/>
<rect x="218.81" y="842.22" width="10.86" height="10.82" fill="#99447c"/>
<rect x="229.38" y="842.22" width="21.43" height="10.82" fill="#91417d"/>
<rect x="250.51" y="842.22" width="10.86" height="10.82" fill="#a24777"/>
<rect x="261.07" y="842.22" width="10.86" height="10.82" fill="#9b457b"/>
<rect x="271.64" y="842.22" width="10.86" height="10.82" fill="#8b3f7e"/>
<rect x="282.20" y="842.22" width="10.86" height="10.82" fill="#ad4b72"/>
<rect x="292.77" y="842.22" width="10.86" height="10.82" fill="#b64e6e"/>
<rect x="303.33" y="842.22" width="10.86" height="10.82" fill="#9e4679"/>
<rect x="102.60" y="852.74" width="21.43" height="10.81" fill="#9c457a"/>
<rect x="123.73" y="852.74" width="10.86" height="10.81" fill="#91417d"/>
<rect x="134.29" y="852.74" width="10.86" height="10.81" fill="#883e7f"/>
<rect x="144.86" y="852.74" width="10.86" height="10.81" fill="#9a457b"/>
<rect x="155.42" y="852.74" width="10.87" height="10.81" fill="#9b457b"/>
<rect x="165.99" y="852.74" width="10.86" height="10.81" fill="#93427d"/>
<rect x="176.56" y="852.74" width="10.86" height="10.81" fill="#9b457b"/>
<rect x="187.12" y="852.74" width="10.86" height="10.81" fill="#91417d"/>
<rect x="197.69" y="852.74" width="10.86" height="10.81" fill="#753782"/>
<rect x="208.25" y="852.74" width="10.86" height="10.81" fill="#6c3580"/>
<rect x="218.81" y="852.74" width="10.86" height="10.81" fill="#7d3a81"/>
<rect x="229.38" y="852.74" width="10.86" height="10.81" fill="#873e7f"/>
<rect x="239.94" y="852.74" width="10.86" height="10.81" fill="#92427d"/>
<rect x="250.51" y="852.74" width="10.86" height="10.81" fill="#a44876"/>
<rect x="261.07" y="852.74" width="10.86" height="10.81" fill="#a34877"/>
<rect x="271.64" y="852.74" width="10.86" height="10.81" fill="#883e7f"/>
<rect x="282.20" y="852.74" width="10.86" height="10.81" fill="#813b80"/>
<rect x="292.77" y="852.74" width="10.86" height="10.81" fill="#8a3e7f"/>
<rect x="303.33" y="852.74" width="10.86" height="10.81" fill="#92427d"/>
<rect x="102.60" y="863.25" width="10.86" height="10.82" fill="#a24777"/>
<rect x="113.16" y="863.25" width="10.86" height="10.82" fill="#98447c"/>
<rect x="123.73" y="863.25" width="10.86" height="10.82" fill="#7d3a81"/>
<rect x="134.29" y="863.25" width="10.86" height="10.82" fill="#753782"/>
<rect x="144.86" y="863.25" width="10.86" height="10.82" fill="#91417d"/>
<rect x="155.42" y="863.25" width="10.87" height="10.82" fill="#a44876"/>
<rect x="165.99" y="863.25" width="10.86" height="10.82" fill="#9c457a"/>
<rect x="176.56" y="863.25" width="10.86" height="10.82" fill="#91417d"/>
<rect x="187.12" y="863.25" width="10.86" height="10.82" fill="#873d7f"/>
<rect x="197.69" y="863.25" width="10.86" height="10.82" fill="#743782"/>
<rect x="208.25" y="863.25" width="10.86" height="10.82" fill="#64347f"/>
<rect x="218.81" y="863.25" width="10.86" height="10.82" fill="#733782"/>
<rect x="229.38" y="863.25" width="10.86" height="10.82" fill="#873e7f"/>
<rect x="239.94" y="863.25" width="10.86" height="10.82" fill="#9b457b"/>
<rect x="250.51" y="863.25" width="10.86" height="10.82" fill="#9c457a"/>
<rect x="261.07" y="863.25" width="10.86" height="10.82" fill="#9b457b"/>
<rect x="271.64" y="863.25" width="10.86" height="10.82" fill="#92427d"/>
<rect x="282.20" y="863.25" width="10.86" height="10.82" fill="#893e7f"/>
<rect x="292.77" y="863.25" width="10.86" height="10.82" fill="#8a3e7f"/>
<rect x="303.33" y="863.25" width="10.86" height="10.82" fill="#99447b"/>
<rect x="102.60" y="873.77" width="10.86" height="10.81" fill="#863d7f"/>
<rect x="113.16" y="873.77" width="10.86" height="10.81" fill="#743782"/>
<rect x="123.73" y="873.77" width="10.86" height="10.81" fill="#6a3580"/>
<rect x="134.29" y="873.77" width="10.86" height="10.81" fill="#6c3580"/>
<rect x="144.86" y="873.77" width="10.86" height="10.81" fill="#883e7f"/>
<rect x="155.42" y="873.77" width="21.43" height="10.81" fill="#a54876"/>
<rect x="176.56" y="873.77" width="10.86" height="10.81" fill="#893e7f"/>
<rect x="187.12" y="873.77" width="10.86" height="10.81" fill="#863d7f"/>
<rect x="197.69" y="873.77" width="10.86" height="10.81" fill="#8e407e"/>
<rect x="208.25" y="873.77" width="10.86" height="10.81" fill="#843c7f"/>
<rect x="218.81" y="873.77" width="10.86" height="10.81" fill="#7c3981"/>
<rect x="229.38" y="873.77" width="10.86" height="10.81" fill="#90417d"/>
<rect x="239.94" y="873.77" width="10.86" height="10.81" fill="#ac4b73"/>
<rect x="250.51" y="873.77" width="10.86" height="10.81" fill="#9c457a"/>
<rect x="261.07" y="873.77" width="10.86" height="10.81" fill="#93427d"/>
<rect x="271.64" y="873.77" width="10.86" height="10.81" fill="#a54876"/>
<rect x="282.20" y="873.77" width="10.86" height="10.81" fill="#ae4b71"/>
<rect x="292.77" y="873.77" width="10.86" height="10.81" fill="#a54876"/>
<rect x="303.33" y="873.77" width="10.86" height="10.81" fill="#9c457a"/>
<rect x="102.60" y="884.28" width="10.86" height="10.81" fill="#723681"/>
<rect x="113.16" y="884.28" width="10.86" height="10.81" fill="#63347f"/>
<rect x="123.73" y="884.28" width="10.86" height="10.81" fill="#693580"/>
<rect x="134.29" y="884.28" width="10.86" height="10.81" fill="#7b3981"/>
<rect x="144.86" y="884.28" width="10.86" height="10.81" fill="#92427d"/>
<rect x="155.42" y="884.28" width="10.87" height="10.81" fill="#b64e6e"/>
<rect x="165.99" y="884.28" width="10.86" height="10.81" fill="#b54e6e"/>
<rect x="176.56" y="884.28" width="10.86" height="10.81" fill="#893e7f"/>
<rect x="187.12" y="884.28" width="10.86" height="10.81" fill="#763782"/>
<rect x="197.69" y="884.28" width="10.86" height="10.81" fill="#863d7f"/>
<rect x="208.25" y="884.28" width="10.86" height="10.81" fill="#843c80"/>
<rect x="218.81" y="884.28" width="10.86" height="10.81" fill="#66347f"/>
<rect x="229.38" y="884.28" width="10.86" height="10.81" fill="#7e3a81"/>
<rect x="239.94" y="884.28" width="10.86" height="10.81" fill="#a24777"/>
<rect x="250.51" y="884.28" width="10.86" height="10.81" fill="#93427d"/>
<rect x="261.07" y="884.28" width="10.86" height="10.81" fill="#8c3f7e"/>
<rect x="271.64" y="884.28" width="10.86" height="10.81" fill="#b74e6d"/>
<rect x="282.20" y="884.28" width="10.86" height="10.81" fill="#c96068"/>
<rect x="292.77" y="884.28" width="10.86" height="10.81" fill="#b04c70"/>
<rect x="303.33" y="884.28" width="10.86" height="10.81" fill="#9e4679"/>
</g>
<rect x="102.60" y="684.50" width="211.30" height="210.30" fill="none" stroke="#000" stroke-width="1.80"/>
<g shape-rendering="crispEdges">
<rect x="438.00" y="686.20" width="10.95" height="10.94" fill="#ffffff"/>
<rect x="448.65" y="686.20" width="10.95" height="10.94" fill="#e5e7f3"/>
<rect x="459.30" y="686.20" width="10.95" height="10.94" fill="#f0b8b6"/>
<rect x="469.95" y="686.20" width="10.95" height="10.94" fill="#cad0e8"/>
<rect x="480.60" y="686.20" width="21.60" height="10.94" fill="#fbecec"/>
<rect x="501.90" y="686.20" width="10.95" height="10.94" fill="#e5e7f3"/>
<rect x="512.55" y="686.20" width="10.95" height="10.94" fill="#f7dad8"/>
<rect x="523.20" y="686.20" width="10.95" height="10.94" fill="#e5e7f3"/>
<rect x="533.85" y="686.20" width="10.95" height="10.94" fill="#fbecec"/>
<rect x="544.50" y="686.20" width="10.95" height="10.94" fill="#cad0e8"/>
<rect x="555.15" y="686.20" width="10.95" height="10.94" fill="#fbecec"/>
<rect x="565.80" y="686.20" width="10.95" height="10.94" fill="#cad0e8"/>
<rect x="576.45" y="686.20" width="21.60" height="10.94" fill="#fbecec"/>
<rect x="597.75" y="686.20" width="10.95" height="10.94" fill="#cad0e8"/>
<rect x="608.40" y="686.20" width="10.95" height="10.94" fill="#f7dad8"/>
<rect x="619.05" y="686.20" width="10.95" height="10.94" fill="#cad0e8"/>
<rect x="629.70" y="686.20" width="21.60" height="10.94" fill="#fbecec"/>
<rect x="438.00" y="696.84" width="10.95" height="10.94" fill="#f7dad8"/>
<rect x="448.65" y="696.84" width="10.95" height="10.94" fill="#fbecec"/>
<rect x="459.30" y="696.84" width="10.95" height="10.94" fill="#cad0e8"/>
<rect x="469.95" y="696.84" width="10.95" height="10.94" fill="#f7dad8"/>
<rect x="480.60" y="696.84" width="21.60" height="10.94" fill="#fbecec"/>
<rect x="501.90" y="696.84" width="10.95" height="10.94" fill="#ffffff"/>
<rect x="512.55" y="696.84" width="10.95" height="10.94" fill="#e5e7f3"/>
<rect x="523.20" y="696.84" width="10.95" height="10.94" fill="#fbecec"/>
<rect x="533.85" y="696.84" width="10.95" height="10.94" fill="#e5e7f3"/>
<rect x="544.50" y="696.84" width="10.95" height="10.94" fill="#fbecec"/>
<rect x="555.15" y="696.84" width="10.95" height="10.94" fill="#e5e7f3"/>
<rect x="565.80" y="696.84" width="10.95" height="10.94" fill="#fbecec"/>
<rect x="576.45" y="696.84" width="10.95" height="10.94" fill="#e5e7f3"/>
<rect x="587.10" y="696.84" width="10.95" height="10.94" fill="#fbecec"/>
<rect x="597.75" y="696.84" width="21.60" height="10.94" fill="#ffffff"/>
<rect x="619.05" y="696.84" width="32.25" height="10.94" fill="#fbecec"/>
<rect x="438.00" y="707.48" width="10.95" height="10.94" fill="#e5e7f3"/>
<rect x="448.65" y="707.48" width="10.95" height="10.94" fill="#ffffff"/>
<rect x="459.30" y="707.48" width="10.95" height="10.94" fill="#fbecec"/>
<rect x="469.95" y="707.48" width="10.95" height="10.94" fill="#ffffff"/>
<rect x="480.60" y="707.48" width="10.95" height="10.94" fill="#cad0e8"/>
<rect x="491.25" y="707.48" width="10.95" height="10.94" fill="#f7dad8"/>
<rect x="501.90" y="707.48" width="10.95" height="10.94" fill="#cad0e8"/>
<rect x="512.55" y="707.48" width="10.95" height="10.94" fill="#f7dad8"/>
<rect x="523.20" y="707.48" width="10.95" height="10.94" fill="#e5e7f3"/>
<rect x="533.85" y="707.48" width="10.95" height="10.94" fill="#f7dad8"/>
<rect x="544.50" y="707.48" width="10.95" height="10.94" fill="#ffffff"/>
<rect x="555.15" y="707.48" width="10.95" height="10.94" fill="#e5e7f3"/>
<rect x="565.80" y="707.48" width="10.95" height="10.94" fill="#f7dad8"/>
<rect x="576.45" y="707.48" width="10.95" height="10.94" fill="#e5e7f3"/>
<rect x="587.10" y="707.48" width="10.95" height="10.94" fill="#f7dad8"/>
<rect x="597.75" y="707.48" width="10.95" height="10.94" fill="#ffffff"/>
<rect x="608.40" y="707.48" width="10.95" height="10.94" fill="#e5e7f3"/>
<rect x="619.05" y="707.48" width="21.60" height="10.94" fill="#fbecec"/>
<rect x="640.35" y="707.48" width="10.95" height="10.94" fill="#e5e7f3"/>
<rect x="438.00" y="718.12" width="10.95" height="10.94" fill="#e5e7f3"/>
<rect x="448.65" y="718.12" width="10.95" height="10.94" fill="#f7dad8"/>
<rect x="459.30" y="718.12" width="10.95" height="10.94" fill="#cad0e8"/>
<rect x="469.95" y="718.12" width="10.95" height="10.94" fill="#f7dad8"/>
<rect x="480.60" y="718.12" width="10.95" height="10.94" fill="#f0b8b6"/>
<rect x="491.25" y="718.12" width="10.95" height="10.94" fill="#cad0e8"/>
<rect x="501.90" y="718.12" width="10.95" height="10.94" fill="#fbecec"/>
<rect x="512.55" y="718.12" width="21.60" height="10.94" fill="#e5e7f3"/>
<rect x="533.85" y="718.12" width="10.95" height="10.94" fill="#fbecec"/>
<rect x="544.50" y="718.12" width="10.95" height="10.94" fill="#ffffff"/>
<rect x="555.15" y="718.12" width="10.95" height="10.94" fill="#fbecec"/>
<rect x="565.80" y="718.12" width="21.60" height="10.94" fill="#ffffff"/>
<rect x="587.10" y="718.12" width="10.95" height="10.94" fill="#cad0e8"/>
<rect x="597.75" y="718.12" width="10.95" height="10.94" fill="#ffffff"/>
<rect x="608.40" y="718.12" width="10.95" height="10.94" fill="#f7dad8"/>
<rect x="619.05" y="718.12" width="10.95" height="10.94" fill="#e5e7f3"/>
<rect x="629.70" y="718.12" width="21.60" height="10.94" fill="#ffffff"/>
<rect x="438.00" y="728.76" width="10.95" height="10.94" fill="#ffffff"/>
<rect x="448.65" y="728.76" width="10.95" height="10.94" fill="#f7dad8"/>
<rect x="459.30" y="728.76" width="10.95" height="10.94" fill="#cad0e8"/>
<rect x="469.95" y="728.76" width="10.95" height="10.94" fill="#f7dad8"/>
<rect x="480.60" y="728.76" width="10.95" height="10.94" fill="#cad0e8"/>
<rect x="491.25" y="728.76" width="10.95" height="10.94" fill="#f0b8b6"/>
<rect x="501.90" y="728.76" width="10.95" height="10.94" fill="#e5e7f3"/>
<rect x="512.55" y="728.76" width="10.95" height="10.94" fill="#f7dad8"/>
<rect x="523.20" y="728.76" width="10.95" height="10.94" fill="#fbecec"/>
<rect x="533.85" y="728.76" width="10.95" height="10.94" fill="#e5e7f3"/>
<rect x="544.50" y="728.76" width="10.95" height="10.94" fill="#f7dad8"/>
<rect x="555.15" y="728.76" width="10.95" height="10.94" fill="#cad0e8"/>
<rect x="565.80" y="728.76" width="10.95" height="10.94" fill="#fbecec"/>
<rect x="576.45" y="728.76" width="10.95" height="10.94" fill="#f7dad8"/>
<rect x="587.10" y="728.76" width="10.95" height="10.94" fill="#fbecec"/>
<rect x="597.75" y="728.76" width="10.95" height="10.94" fill="#e5e7f3"/>
<rect x="608.40" y="728.76" width="10.95" height="10.94" fill="#ffffff"/>
<rect x="619.05" y="728.76" width="21.60" height="10.94" fill="#fbecec"/>
<rect x="640.35" y="728.76" width="10.95" height="10.94" fill="#e5e7f3"/>
<rect x="438.00" y="739.40" width="10.95" height="10.94" fill="#fbecec"/>
<rect x="448.65" y="739.40" width="10.95" height="10.94" fill="#cad0e8"/>
<rect x="459.30" y="739.40" width="10.95" height="10.94" fill="#f7dad8"/>
<rect x="469.95" y="739.40" width="10.95" height="10.94" fill="#fbecec"/>
<rect x="480.60" y="739.40" width="10.95" height="10.94" fill="#ffffff"/>
<rect x="491.25" y="739.40" width="10.95" height="10.94" fill="#e5e7f3"/>
<rect x="501.90" y="739.40" width="10.95" height="10.94" fill="#ffffff"/>
<rect x="512.55" y="739.40" width="10.95" height="10.94" fill="#cad0e8"/>
<rect x="523.20" y="739.40" width="10.95" height="10.94" fill="#fbecec"/>
<rect x="533.85" y="739.40" width="10.95" height="10.94" fill="#e5e7f3"/>
<rect x="544.50" y="739.40" width="10.95" height="10.94" fill="#fbecec"/>
<rect x="555.15" y="739.40" width="10.95" height="10.94" fill="#f7dad8"/>
<rect x="565.80" y="739.40" width="10.95" height="10.94" fill="#ffffff"/>
<rect x="576.45" y="739.40" width="21.60" height="10.94" fill="#e5e7f3"/>
<rect x="597.75" y="739.40" width="10.95" height="10.94" fill="#fbecec"/>
<rect x="608.40" y="739.40" width="10.95" height="10.94" fill="#ffffff"/>
<rect x="619.05" y="739.40" width="21.60" height="10.94" fill="#e5e7f3"/>
<rect x="640.35" y="739.40" width="10.95" height="10.94" fill="#f7dad8"/>
<rect x="438.00" y="750.04" width="10.95" height="10.94" fill="#ffffff"/>
<rect x="448.65" y="750.04" width="10.95" height="10.94" fill="#f0b8b6"/>
<rect x="459.30" y="750.04" width="10.95" height="10.94" fill="#cad0e8"/>
<rect x="469.95" y="750.04" width="10.95" height="10.94" fill="#e5e7f3"/>
<rect x="480.60" y="750.04" width="10.95" height="10.94" fill="#f7dad8"/>
<rect x="491.25" y="750.04" width="10.95" height="10.94" fill="#e5e7f3"/>
<rect x="501.90" y="750.04" width="10.95" height="10.94" fill="#f7dad8"/>
<rect x="512.55" y="750.04" width="10.95" height="10.94" fill="#fbecec"/>
<rect x="523.20" y="750.04" width="10.95" height="10.94" fill="#f7dad8"/>
<rect x="533.85" y="750.04" width="10.95" height="10.94" fill="#e5e7f3"/>
<rect x="544.50" y="750.04" width="21.60" height="10.94" fill="#fbecec"/>
<rect x="565.80" y="750.04" width="10.95" height="10.94" fill="#e5e7f3"/>
<rect x="576.45" y="750.04" width="10.95" height="10.94" fill="#f0b8b6"/>
<rect x="587.10" y="750.04" width="10.95" height="10.94" fill="#e5e7f3"/>
<rect x="597.75" y="750.04" width="10.95" height="10.94" fill="#fbecec"/>
<rect x="608.40" y="750.04" width="10.95" height="10.94" fill="#cad0e8"/>
<rect x="619.05" y="750.04" width="10.95" height="10.94" fill="#f0b8b6"/>
<rect x="629.70" y="750.04" width="10.95" height="10.94" fill="#e5e7f3"/>
<rect x="640.35" y="750.04" width="10.95" height="10.94" fill="#fbecec"/>
<rect x="438.00" y="760.68" width="32.25" height="10.94" fill="#e5e7f3"/>
<rect x="469.95" y="760.68" width="10.95" height="10.94" fill="#f7dad8"/>
<rect x="480.60" y="760.68" width="10.95" height="10.94" fill="#cad0e8"/>
<rect x="491.25" y="760.68" width="10.95" height="10.94" fill="#f7dad8"/>
<rect x="501.90" y="760.68" width="10.95" height="10.94" fill="#cad0e8"/>
<rect x="512.55" y="760.68" width="10.95" height="10.94" fill="#e5e7f3"/>
<rect x="523.20" y="760.68" width="10.95" height="10.94" fill="#fbecec"/>
<rect x="533.85" y="760.68" width="10.95" height="10.94" fill="#f7dad8"/>
<rect x="544.50" y="760.68" width="10.95" height="10.94" fill="#ffffff"/>
<rect x="555.15" y="760.68" width="10.95" height="10.94" fill="#fbecec"/>
<rect x="565.80" y="760.68" width="32.25" height="10.94" fill="#e5e7f3"/>
<rect x="597.75" y="760.68" width="21.60" height="10.94" fill="#fbecec"/>
<rect x="619.05" y="760.68" width="10.95" height="10.94" fill="#b0b8dc"/>
<rect x="629.70" y="760.68" width="10.95" height="10.94" fill="#f7dad8"/>
<rect x="640.35" y="760.68" width="10.95" height="10.94" fill="#e5e7f3"/>
<rect x="438.00" y="771.32" width="10.95" height="10.94" fill="#fbecec"/>
<rect x="448.65" y="771.32" width="10.95" height="10.94" fill="#e5e7f3"/>
<rect x="459.30" y="771.32" width="10.95" height="10.94" fill="#fbecec"/>
<rect x="469.95" y="771.32" width="10.95" height="10.94" fill="#e5e7f3"/>
<rect x="480.60" y="771.32" width="10.95" height="10.94" fill="#ffffff"/>
<rect x="491.25" y="771.32" width="32.25" height="10.94" fill="#fbecec"/>
<rect x="523.20" y="771.32" width="10.95" height="10.94" fill="#cad0e8"/>
<rect x="533.85" y="771.32" width="21.60" height="10.94" fill="#e5e7f3"/>
<rect x="555.15" y="771.32" width="10.95" height="10.94" fill="#ffffff"/>
<rect x="565.80" y="771.32" width="10.95" height="10.94" fill="#f7dad8"/>
<rect x="576.45" y="771.32" width="10.95" height="10.94" fill="#e5e7f3"/>
<rect x="587.10" y="771.32" width="10.95" height="10.94" fill="#f7dad8"/>
<rect x="597.75" y="771.32" width="10.95" height="10.94" fill="#cad0e8"/>
<rect x="608.40" y="771.32" width="10.95" height="10.94" fill="#f7dad8"/>
<rect x="619.05" y="771.32" width="10.95" height="10.94" fill="#fbecec"/>
<rect x="629.70" y="771.32" width="10.95" height="10.94" fill="#cad0e8"/>
<rect x="640.35" y="771.32" width="10.95" height="10.94" fill="#f0b8b6"/>
<rect x="438.00" y="781.96" width="10.95" height="10.94" fill="#fbecec"/>
<rect x="448.65" y="781.96" width="10.95" height="10.94" fill="#ffffff"/>
<rect x="459.30" y="781.96" width="32.25" height="10.94" fill="#f7dad8"/>
<rect x="491.25" y="781.96" width="10.95" height="10.94" fill="#e5e7f3"/>
<rect x="501.90" y="781.96" width="10.95" height="10.94" fill="#ffffff"/>
<rect x="512.55" y="781.96" width="21.60" height="10.94" fill="#f7dad8"/>
<rect x="533.85" y="781.96" width="10.95" height="10.94" fill="#fbecec"/>
<rect x="544.50" y="781.96" width="10.95" height="10.94" fill="#f7dad8"/>
<rect x="555.15" y="781.96" width="10.95" height="10.94" fill="#fbecec"/>
<rect x="565.80" y="781.96" width="10.95" height="10.94" fill="#e5e7f3"/>
<rect x="576.45" y="781.96" width="10.95" height="10.94" fill="#f7dad8"/>
<rect x="587.10" y="781.96" width="10.95" height="10.94" fill="#e5e7f3"/>
<rect x="597.75" y="781.96" width="10.95" height="10.94" fill="#f7dad8"/>
<rect x="608.40" y="781.96" width="10.95" height="10.94" fill="#cad0e8"/>
<rect x="619.05" y="781.96" width="10.95" height="10.94" fill="#ffffff"/>
<rect x="629.70" y="781.96" width="10.95" height="10.94" fill="#fbecec"/>
<rect x="640.35" y="781.96" width="10.95" height="10.94" fill="#b0b8dc"/>
<rect x="438.00" y="792.60" width="21.60" height="10.94" fill="#ffffff"/>
<rect x="459.30" y="792.60" width="10.95" height="10.94" fill="#f7dad8"/>
<rect x="469.95" y="792.60" width="10.95" height="10.94" fill="#b0b8dc"/>
<rect x="480.60" y="792.60" width="10.95" height="10.94" fill="#e5e7f3"/>
<rect x="491.25" y="792.60" width="10.95" height="10.94" fill="#f0b8b6"/>
<rect x="501.90" y="792.60" width="10.95" height="10.94" fill="#fbecec"/>
<rect x="512.55" y="792.60" width="10.95" height="10.94" fill="#e5e7f3"/>
<rect x="523.20" y="792.60" width="10.95" height="10.94" fill="#b0b8dc"/>
<rect x="533.85" y="792.60" width="10.95" height="10.94" fill="#f0b8b6"/>
<rect x="544.50" y="792.60" width="10.95" height="10.94" fill="#b0b8dc"/>
<rect x="555.15" y="792.60" width="10.95" height="10.94" fill="#fbecec"/>
<rect x="565.80" y="792.60" width="10.95" height="10.94" fill="#f0b8b6"/>
<rect x="576.45" y="792.60" width="21.60" height="10.94" fill="#e5e7f3"/>
<rect x="597.75" y="792.60" width="21.60" height="10.94" fill="#fbecec"/>
<rect x="619.05" y="792.60" width="10.95" height="10.94" fill="#f0b8b6"/>
<rect x="629.70" y="792.60" width="10.95" height="10.94" fill="#cad0e8"/>
<rect x="640.35" y="792.60" width="10.95" height="10.94" fill="#dc6460"/>
<rect x="438.00" y="803.24" width="10.95" height="10.94" fill="#cad0e8"/>
<rect x="448.65" y="803.24" width="10.95" height="10.94" fill="#fbecec"/>
<rect x="459.30" y="803.24" width="10.95" height="10.94" fill="#ffffff"/>
<rect x="469.95" y="803.24" width="10.95" height="10.94" fill="#f7dad8"/>
<rect x="480.60" y="803.24" width="10.95" height="10.94" fill="#fbecec"/>
<rect x="491.25" y="803.24" width="10.95" height="10.94" fill="#e5e7f3"/>
<rect x="501.90" y="803.24" width="10.95" height="10.94" fill="#cad0e8"/>
<rect x="512.55" y="803.24" width="21.60" height="10.94" fill="#f7dad8"/>
<rect x="533.85" y="803.24" width="10.95" height="10.94" fill="#e5e7f3"/>
<rect x="544.50" y="803.24" width="10.95" height="10.94" fill="#f7dad8"/>
<rect x="555.15" y="803.24" width="10.95" height="10.94" fill="#e5e7f3"/>
<rect x="565.80" y="803.24" width="10.95" height="10.94" fill="#e89694"/>
<rect x="576.45" y="803.24" width="10.95" height="10.94" fill="#b0b8dc"/>
<rect x="587.10" y="803.24" width="10.95" height="10.94" fill="#f7dad8"/>
<rect x="597.75" y="803.24" width="10.95" height="10.94" fill="#fbecec"/>
<rect x="608.40" y="803.24" width="42.90" height="10.94" fill="#e5e7f3"/>
<rect x="438.00" y="813.88" width="10.95" height="10.94" fill="#f7dad8"/>
<rect x="448.65" y="813.88" width="10.95" height="10.94" fill="#fbecec"/>
<rect x="459.30" y="813.88" width="10.95" height="10.94" fill="#ffffff"/>
<rect x="469.95" y="813.88" width="10.95" height="10.94" fill="#cad0e8"/>
<rect x="480.60" y="813.88" width="10.95" height="10.94" fill="#f7dad8"/>
<rect x="491.25" y="813.88" width="21.60" height="10.94" fill="#fbecec"/>
<rect x="512.55" y="813.88" width="10.95" height="10.94" fill="#cad0e8"/>
<rect x="523.20" y="813.88" width="10.95" height="10.94" fill="#f7dad8"/>
<rect x="533.85" y="813.88" width="10.95" height="10.94" fill="#cad0e8"/>
<rect x="544.50" y="813.88" width="10.95" height="10.94" fill="#f7dad8"/>
<rect x="555.15" y="813.88" width="10.95" height="10.94" fill="#cad0e8"/>
<rect x="565.80" y="813.88" width="21.60" height="10.94" fill="#e5e7f3"/>
<rect x="587.10" y="813.88" width="10.95" height="10.94" fill="#f7dad8"/>
<rect x="597.75" y="813.88" width="10.95" height="10.94" fill="#ffffff"/>
<rect x="608.40" y="813.88" width="10.95" height="10.94" fill="#e5e7f3"/>
<rect x="619.05" y="813.88" width="10.95" height="10.94" fill="#f0b8b6"/>
<rect x="629.70" y="813.88" width="10.95" height="10.94" fill="#f7dad8"/>
<rect x="640.35" y="813.88" width="10.95" height="10.94" fill="#ffffff"/>
<rect x="438.00" y="824.52" width="21.60" height="10.94" fill="#e5e7f3"/>
<rect x="459.30" y="824.52" width="21.60" height="10.94" fill="#fbecec"/>
<rect x="480.60" y="824.52" width="10.95" height="10.94" fill="#ffffff"/>
<rect x="491.25" y="824.52" width="21.60" height="10.94" fill="#f7dad8"/>
<rect x="512.55" y="824.52" width="10.95" height="10.94" fill="#ffffff"/>
<rect x="523.20" y="824.52" width="10.95" height="10.94" fill="#f7dad8"/>
<rect x="533.85" y="824.52" width="10.95" height="10.94" fill="#cad0e8"/>
<rect x="544.50" y="824.52" width="10.95" height="10.94" fill="#f7dad8"/>
<rect x="555.15" y="824.52" width="21.60" height="10.94" fill="#fbecec"/>
<rect x="576.45" y="824.52" width="21.60" height="10.94" fill="#e5e7f3"/>
<rect x="597.75" y="824.52" width="10.95" height="10.94" fill="#f7dad8"/>
<rect x="608.40" y="824.52" width="10.95" height="10.94" fill="#b0b8dc"/>
<rect x="619.05" y="824.52" width="10.95" height="10.94" fill="#f7dad8"/>
<rect x="629.70" y="824.52" width="10.95" height="10.94" fill="#ffffff"/>
<rect x="640.35" y="824.52" width="10.95" height="10.94" fill="#b0b8dc"/>
<rect x="438.00" y="835.16" width="10.95" height="10.94" fill="#cad0e8"/>
<rect x="448.65" y="835.16" width="10.95" height="10.94" fill="#f7dad8"/>
<rect x="459.30" y="835.16" width="10.95" height="10.94" fill="#cad0e8"/>
<rect x="469.95" y="835.16" width="10.95" height="10.94" fill="#fbecec"/>
<rect x="480.60" y="835.16" width="10.95" height="10.94" fill="#e5e7f3"/>
<rect x="491.25" y="835.16" width="10.95" height="10.94" fill="#cad0e8"/>
<rect x="501.90" y="835.16" width="10.95" height="10.94" fill="#e5e7f3"/>
<rect x="512.55" y="835.16" width="10.95" height="10.94" fill="#fbecec"/>
<rect x="523.20" y="835.16" width="10.95" height="10.94" fill="#e5e7f3"/>
<rect x="533.85" y="835.16" width="10.95" height="10.94" fill="#cad0e8"/>
<rect x="544.50" y="835.16" width="10.95" height="10.94" fill="#e5e7f3"/>
<rect x="555.15" y="835.16" width="21.60" height="10.94" fill="#fbecec"/>
<rect x="576.45" y="835.16" width="10.95" height="10.94" fill="#f0b8b6"/>
<rect x="587.10" y="835.16" width="10.95" height="10.94" fill="#e5e7f3"/>
<rect x="597.75" y="835.16" width="10.95" height="10.94" fill="#f7dad8"/>
<rect x="608.40" y="835.16" width="10.95" height="10.94" fill="#f0b8b6"/>
<rect x="619.05" y="835.16" width="10.95" height="10.94" fill="#fbecec"/>
<rect x="629.70" y="835.16" width="10.95" height="10.94" fill="#e5e7f3"/>
<rect x="640.35" y="835.16" width="10.95" height="10.94" fill="#e89694"/>
<rect x="438.00" y="845.80" width="10.95" height="10.94" fill="#f7dad8"/>
<rect x="448.65" y="845.80" width="10.95" height="10.94" fill="#e5e7f3"/>
<rect x="459.30" y="845.80" width="32.25" height="10.94" fill="#f7dad8"/>
<rect x="491.25" y="845.80" width="10.95" height="10.94" fill="#ffffff"/>
<rect x="501.90" y="845.80" width="10.95" height="10.94" fill="#f7dad8"/>
<rect x="512.55" y="845.80" width="10.95" height="10.94" fill="#fbecec"/>
<rect x="523.20" y="845.80" width="10.95" height="10.94" fill="#e5e7f3"/>
<rect x="533.85" y="845.80" width="10.95" height="10.94" fill="#f0b8b6"/>
<rect x="544.50" y="845.80" width="10.95" height="10.94" fill="#e89694"/>
<rect x="555.15" y="845.80" width="21.60" height="10.94" fill="#cad0e8"/>
<rect x="576.45" y="845.80" width="10.95" height="10.94" fill="#fbecec"/>
<rect x="587.10" y="845.80" width="10.95" height="10.94" fill="#cad0e8"/>
<rect x="597.75" y="845.80" width="10.95" height="10.94" fill="#e5e7f3"/>
<rect x="608.40" y="845.80" width="10.95" height="10.94" fill="#fbecec"/>
<rect x="619.05" y="845.80" width="10.95" height="10.94" fill="#cad0e8"/>
<rect x="629.70" y="845.80" width="10.95" height="10.94" fill="#e5e7f3"/>
<rect x="640.35" y="845.80" width="10.95" height="10.94" fill="#cad0e8"/>
<rect x="438.00" y="856.44" width="10.95" height="10.94" fill="#ffffff"/>
<rect x="448.65" y="856.44" width="10.95" height="10.94" fill="#cad0e8"/>
<rect x="459.30" y="856.44" width="10.95" height="10.94" fill="#e5e7f3"/>
<rect x="469.95" y="856.44" width="10.95" height="10.94" fill="#f7dad8"/>
<rect x="480.60" y="856.44" width="10.95" height="10.94" fill="#b0b8dc"/>
<rect x="491.25" y="856.44" width="10.95" height="10.94" fill="#f0b8b6"/>
<rect x="501.90" y="856.44" width="10.95" height="10.94" fill="#e5e7f3"/>
<rect x="512.55" y="856.44" width="10.95" height="10.94" fill="#fbecec"/>
<rect x="523.20" y="856.44" width="10.95" height="10.94" fill="#f7dad8"/>
<rect x="533.85" y="856.44" width="10.95" height="10.94" fill="#cad0e8"/>
<rect x="544.50" y="856.44" width="10.95" height="10.94" fill="#96a0d0"/>
<rect x="555.15" y="856.44" width="10.95" height="10.94" fill="#f7dad8"/>
<rect x="565.80" y="856.44" width="10.95" height="10.94" fill="#ffffff"/>
<rect x="576.45" y="856.44" width="10.95" height="10.94" fill="#e89694"/>
<rect x="587.10" y="856.44" width="10.95" height="10.94" fill="#cad0e8"/>
<rect x="597.75" y="856.44" width="21.60" height="10.94" fill="#fbecec"/>
<rect x="619.05" y="856.44" width="10.95" height="10.94" fill="#f7dad8"/>
<rect x="629.70" y="856.44" width="10.95" height="10.94" fill="#ffffff"/>
<rect x="640.35" y="856.44" width="10.95" height="10.94" fill="#f0b8b6"/>
<rect x="438.00" y="867.08" width="21.60" height="10.94" fill="#fbecec"/>
<rect x="459.30" y="867.08" width="10.95" height="10.94" fill="#b0b8dc"/>
<rect x="469.95" y="867.08" width="10.95" height="10.94" fill="#f0b8b6"/>
<rect x="480.60" y="867.08" width="10.95" height="10.94" fill="#e5e7f3"/>
<rect x="491.25" y="867.08" width="10.95" height="10.94" fill="#cad0e8"/>
<rect x="501.90" y="867.08" width="10.95" height="10.94" fill="#ffffff"/>
<rect x="512.55" y="867.08" width="21.60" height="10.94" fill="#e5e7f3"/>
<rect x="533.85" y="867.08" width="21.60" height="10.94" fill="#f0b8b6"/>
<rect x="555.15" y="867.08" width="10.95" height="10.94" fill="#cad0e8"/>
<rect x="565.80" y="867.08" width="10.95" height="10.94" fill="#ffffff"/>
<rect x="576.45" y="867.08" width="10.95" height="10.94" fill="#f7dad8"/>
<rect x="587.10" y="867.08" width="10.95" height="10.94" fill="#fbecec"/>
<rect x="597.75" y="867.08" width="10.95" height="10.94" fill="#e5e7f3"/>
<rect x="608.40" y="867.08" width="10.95" height="10.94" fill="#ffffff"/>
<rect x="619.05" y="867.08" width="10.95" height="10.94" fill="#f7dad8"/>
<rect x="629.70" y="867.08" width="10.95" height="10.94" fill="#cad0e8"/>
<rect x="640.35" y="867.08" width="10.95" height="10.94" fill="#e5e7f3"/>
<rect x="438.00" y="877.72" width="10.95" height="10.94" fill="#e5e7f3"/>
<rect x="448.65" y="877.72" width="10.95" height="10.94" fill="#f0b8b6"/>
<rect x="459.30" y="877.72" width="10.95" height="10.94" fill="#fbecec"/>
<rect x="469.95" y="877.72" width="10.95" height="10.94" fill="#f0b8b6"/>
<rect x="480.60" y="877.72" width="10.95" height="10.94" fill="#ffffff"/>
<rect x="491.25" y="877.72" width="21.60" height="10.94" fill="#fbecec"/>
<rect x="512.55" y="877.72" width="10.95" height="10.94" fill="#f7dad8"/>
<rect x="523.20" y="877.72" width="10.95" height="10.94" fill="#b0b8dc"/>
<rect x="533.85" y="877.72" width="10.95" height="10.94" fill="#e5e7f3"/>
<rect x="544.50" y="877.72" width="10.95" height="10.94" fill="#cad0e8"/>
<rect x="555.15" y="877.72" width="10.95" height="10.94" fill="#f0b8b6"/>
<rect x="565.80" y="877.72" width="10.95" height="10.94" fill="#ffffff"/>
<rect x="576.45" y="877.72" width="10.95" height="10.94" fill="#b0b8dc"/>
<rect x="587.10" y="877.72" width="10.95" height="10.94" fill="#fbecec"/>
<rect x="597.75" y="877.72" width="10.95" height="10.94" fill="#cad0e8"/>
<rect x="608.40" y="877.72" width="10.95" height="10.94" fill="#e5e7f3"/>
<rect x="619.05" y="877.72" width="10.95" height="10.94" fill="#f0b8b6"/>
<rect x="629.70" y="877.72" width="10.95" height="10.94" fill="#cad0e8"/>
<rect x="640.35" y="877.72" width="10.95" height="10.94" fill="#fbecec"/>
<rect x="438.00" y="888.36" width="10.95" height="10.94" fill="#fbecec"/>
<rect x="448.65" y="888.36" width="10.95" height="10.94" fill="#cad0e8"/>
<rect x="459.30" y="888.36" width="10.95" height="10.94" fill="#f7dad8"/>
<rect x="469.95" y="888.36" width="10.95" height="10.94" fill="#b0b8dc"/>
<rect x="480.60" y="888.36" width="10.95" height="10.94" fill="#cad0e8"/>
<rect x="491.25" y="888.36" width="10.95" height="10.94" fill="#f0b8b6"/>
<rect x="501.90" y="888.36" width="10.95" height="10.94" fill="#cad0e8"/>
<rect x="512.55" y="888.36" width="10.95" height="10.94" fill="#e5e7f3"/>
<rect x="523.20" y="888.36" width="10.95" height="10.94" fill="#d64a47"/>
<rect x="533.85" y="888.36" width="10.95" height="10.94" fill="#b0b8dc"/>
<rect x="544.50" y="888.36" width="10.95" height="10.94" fill="#f0b8b6"/>
<rect x="555.15" y="888.36" width="10.95" height="10.94" fill="#ffffff"/>
<rect x="565.80" y="888.36" width="10.95" height="10.94" fill="#e5e7f3"/>
<rect x="576.45" y="888.36" width="10.95" height="10.94" fill="#ffffff"/>
<rect x="587.10" y="888.36" width="10.95" height="10.94" fill="#fbecec"/>
<rect x="597.75" y="888.36" width="21.60" height="10.94" fill="#f7dad8"/>
<rect x="619.05" y="888.36" width="10.95" height="10.94" fill="#b0b8dc"/>
<rect x="629.70" y="888.36" width="10.95" height="10.94" fill="#f0b8b6"/>
<rect x="640.35" y="888.36" width="10.95" height="10.94" fill="#cad0e8"/>
</g>
<rect x="438.00" y="686.20" width="213.00" height="212.80" fill="none" stroke="#000" stroke-width="1.80"/>
<g shape-rendering="crispEdges">
<rect x="1151.90" y="679.40" width="10.74" height="10.68" fill="#f7dad8"/>
<rect x="1162.35" y="679.40" width="10.74" height="10.68" fill="#cad0e8"/>
<rect x="1172.79" y="679.40" width="10.75" height="10.68" fill="#fbecec"/>
<rect x="1183.24" y="679.40" width="21.19" height="10.68" fill="#e5e7f3"/>
<rect x="1204.12" y="679.40" width="21.19" height="10.68" fill="#fbecec"/>
<rect x="1225.02" y="679.40" width="10.74" height="10.68" fill="#cad0e8"/>
<rect x="1235.46" y="679.40" width="10.74" height="10.68" fill="#f7dad8"/>
<rect x="1245.90" y="679.40" width="10.74" height="10.68" fill="#e5e7f3"/>
<rect x="1256.35" y="679.40" width="10.75" height="10.68" fill="#fbecec"/>
<rect x="1266.80" y="679.40" width="21.19" height="10.68" fill="#e5e7f3"/>
<rect x="1287.68" y="679.40" width="10.75" height="10.68" fill="#f7dad8"/>
<rect x="1298.13" y="679.40" width="10.74" height="10.68" fill="#cad0e8"/>
<rect x="1308.58" y="679.40" width="10.74" height="10.68" fill="#f7dad8"/>
<rect x="1319.02" y="679.40" width="10.74" height="10.68" fill="#cad0e8"/>
<rect x="1329.46" y="679.40" width="10.74" height="10.68" fill="#ffffff"/>
<rect x="1339.91" y="679.40" width="10.75" height="10.68" fill="#fbecec"/>
<rect x="1350.36" y="679.40" width="10.74" height="10.68" fill="#ffffff"/>
<rect x="1151.90" y="689.78" width="10.74" height="10.68" fill="#cad0e8"/>
<rect x="1162.35" y="689.78" width="10.74" height="10.68" fill="#fbecec"/>
<rect x="1172.79" y="689.78" width="10.75" height="10.68" fill="#ffffff"/>
<rect x="1183.24" y="689.78" width="10.74" height="10.68" fill="#fbecec"/>
<rect x="1193.68" y="689.78" width="10.74" height="10.68" fill="#f7dad8"/>
<rect x="1204.12" y="689.78" width="21.19" height="10.68" fill="#e5e7f3"/>
<rect x="1225.02" y="689.78" width="10.74" height="10.68" fill="#f7dad8"/>
<rect x="1235.46" y="689.78" width="10.74" height="10.68" fill="#e5e7f3"/>
<rect x="1245.90" y="689.78" width="21.19" height="10.68" fill="#ffffff"/>
<rect x="1266.80" y="689.78" width="10.74" height="10.68" fill="#fbecec"/>
<rect x="1277.24" y="689.78" width="10.74" height="10.68" fill="#f7dad8"/>
<rect x="1287.68" y="689.78" width="10.75" height="10.68" fill="#cad0e8"/>
<rect x="1298.13" y="689.78" width="10.74" height="10.68" fill="#fbecec"/>
<rect x="1308.58" y="689.78" width="21.19" height="10.68" fill="#ffffff"/>
<rect x="1329.46" y="689.78" width="10.74" height="10.68" fill="#f7dad8"/>
<rect x="1339.91" y="689.78" width="10.75" height="10.68" fill="#ffffff"/>
<rect x="1350.36" y="689.78" width="10.74" height="10.68" fill="#cad0e8"/>
<rect x="1151.90" y="700.16" width="10.74" height="10.68" fill="#fbecec"/>
<rect x="1162.35" y="700.16" width="10.74" height="10.68" fill="#ffffff"/>
<rect x="1172.79" y="700.16" width="42.08" height="10.68" fill="#e5e7f3"/>
<rect x="1214.57" y="700.16" width="10.74" height="10.68" fill="#f7dad8"/>
<rect x="1225.02" y="700.16" width="10.74" height="10.68" fill="#fbecec"/>
<rect x="1235.46" y="700.16" width="10.74" height="10.68" fill="#cad0e8"/>
<rect x="1245.90" y="700.16" width="21.19" height="10.68" fill="#ffffff"/>
<rect x="1266.80" y="700.16" width="10.74" height="10.68" fill="#cad0e8"/>
<rect x="1277.24" y="700.16" width="10.74" height="10.68" fill="#ffffff"/>
<rect x="1287.68" y="700.16" width="10.75" height="10.68" fill="#f7dad8"/>
<rect x="1298.13" y="700.16" width="10.74" height="10.68" fill="#b0b8dc"/>
<rect x="1308.58" y="700.16" width="10.74" height="10.68" fill="#f7dad8"/>
<rect x="1319.02" y="700.16" width="10.74" height="10.68" fill="#cad0e8"/>
<rect x="1329.46" y="700.16" width="21.19" height="10.68" fill="#e5e7f3"/>
<rect x="1350.36" y="700.16" width="10.74" height="10.68" fill="#f7dad8"/>
<rect x="1151.90" y="710.54" width="10.74" height="10.68" fill="#cad0e8"/>
<rect x="1162.35" y="710.54" width="10.74" height="10.68" fill="#f7dad8"/>
<rect x="1172.79" y="710.54" width="10.75" height="10.68" fill="#ffffff"/>
<rect x="1183.24" y="710.54" width="10.74" height="10.68" fill="#fbecec"/>
<rect x="1193.68" y="710.54" width="10.74" height="10.68" fill="#f7dad8"/>
<rect x="1204.12" y="710.54" width="21.19" height="10.68" fill="#ffffff"/>
<rect x="1225.02" y="710.54" width="10.74" height="10.68" fill="#e5e7f3"/>
<rect x="1235.46" y="710.54" width="10.74" height="10.68" fill="#ffffff"/>
<rect x="1245.90" y="710.54" width="10.74" height="10.68" fill="#f7dad8"/>
<rect x="1256.35" y="710.54" width="10.75" height="10.68" fill="#ffffff"/>
<rect x="1266.80" y="710.54" width="10.74" height="10.68" fill="#fbecec"/>
<rect x="1277.24" y="710.54" width="21.19" height="10.68" fill="#e5e7f3"/>
<rect x="1298.13" y="710.54" width="10.74" height="10.68" fill="#f7dad8"/>
<rect x="1308.58" y="710.54" width="10.74" height="10.68" fill="#e5e7f3"/>
<rect x="1319.02" y="710.54" width="10.74" height="10.68" fill="#fbecec"/>
<rect x="1329.46" y="710.54" width="10.74" height="10.68" fill="#f7dad8"/>
<rect x="1339.91" y="710.54" width="10.75" height="10.68" fill="#cad0e8"/>
<rect x="1350.36" y="710.54" width="10.74" height="10.68" fill="#ffffff"/>
<rect x="1151.90" y="720.92" width="10.74" height="10.68" fill="#fbecec"/>
<rect x="1162.35" y="720.92" width="10.74" height="10.68" fill="#ffffff"/>
<rect x="1172.79" y="720.92" width="10.75" height="10.68" fill="#cad0e8"/>
<rect x="1183.24" y="720.92" width="10.74" height="10.68" fill="#fbecec"/>
<rect x="1193.68" y="720.92" width="10.74" height="10.68" fill="#b0b8dc"/>
<rect x="1204.12" y="720.92" width="10.75" height="10.68" fill="#e5e7f3"/>
<rect x="1214.57" y="720.92" width="10.74" height="10.68" fill="#fbecec"/>
<rect x="1225.02" y="720.92" width="10.74" height="10.68" fill="#ffffff"/>
<rect x="1235.46" y="720.92" width="10.74" height="10.68" fill="#f7dad8"/>
<rect x="1245.90" y="720.92" width="10.74" height="10.68" fill="#b0b8dc"/>
<rect x="1256.35" y="720.92" width="10.75" height="10.68" fill="#f7dad8"/>
<rect x="1266.80" y="720.92" width="10.74" height="10.68" fill="#cad0e8"/>
<rect x="1277.24" y="720.92" width="10.74" height="10.68" fill="#f7dad8"/>
<rect x="1287.68" y="720.92" width="21.19" height="10.68" fill="#e5e7f3"/>
<rect x="1308.58" y="720.92" width="10.74" height="10.68" fill="#fbecec"/>
<rect x="1319.02" y="720.92" width="10.74" height="10.68" fill="#cad0e8"/>
<rect x="1329.46" y="720.92" width="10.74" height="10.68" fill="#ffffff"/>
<rect x="1339.91" y="720.92" width="10.75" height="10.68" fill="#f7dad8"/>
<rect x="1350.36" y="720.92" width="10.74" height="10.68" fill="#e5e7f3"/>
<rect x="1151.90" y="731.30" width="10.74" height="10.68" fill="#e5e7f3"/>
<rect x="1162.35" y="731.30" width="10.74" height="10.68" fill="#ffffff"/>
<rect x="1172.79" y="731.30" width="10.75" height="10.68" fill="#f7dad8"/>
<rect x="1183.24" y="731.30" width="21.19" height="10.68" fill="#fbecec"/>
<rect x="1204.12" y="731.30" width="10.75" height="10.68" fill="#f7dad8"/>
<rect x="1214.57" y="731.30" width="10.74" height="10.68" fill="#cad0e8"/>
<rect x="1225.02" y="731.30" width="10.74" height="10.68" fill="#e5e7f3"/>
<rect x="1235.46" y="731.30" width="10.74" height="10.68" fill="#cad0e8"/>
<rect x="1245.90" y="731.30" width="10.74" height="10.68" fill="#f0b8b6"/>
<rect x="1256.35" y="731.30" width="10.75" height="10.68" fill="#b0b8dc"/>
<rect x="1266.80" y="731.30" width="10.74" height="10.68" fill="#f7dad8"/>
<rect x="1277.24" y="731.30" width="10.74" height="10.68" fill="#cad0e8"/>
<rect x="1287.68" y="731.30" width="10.75" height="10.68" fill="#fbecec"/>
<rect x="1298.13" y="731.30" width="42.08" height="10.68" fill="#ffffff"/>
<rect x="1339.91" y="731.30" width="10.75" height="10.68" fill="#cad0e8"/>
<rect x="1350.36" y="731.30" width="10.74" height="10.68" fill="#fbecec"/>
<rect x="1151.90" y="741.68" width="21.19" height="10.68" fill="#ffffff"/>
<rect x="1172.79" y="741.68" width="10.75" height="10.68" fill="#cad0e8"/>
<rect x="1183.24" y="741.68" width="31.64" height="10.68" fill="#e5e7f3"/>
<rect x="1214.57" y="741.68" width="10.74" height="10.68" fill="#f7dad8"/>
<rect x="1225.02" y="741.68" width="10.74" height="10.68" fill="#ffffff"/>
<rect x="1235.46" y="741.68" width="10.74" height="10.68" fill="#f0b8b6"/>
<rect x="1245.90" y="741.68" width="10.74" height="10.68" fill="#cad0e8"/>
<rect x="1256.35" y="741.68" width="31.64" height="10.68" fill="#fbecec"/>
<rect x="1287.68" y="741.68" width="10.75" height="10.68" fill="#e5e7f3"/>
<rect x="1298.13" y="741.68" width="10.74" height="10.68" fill="#ffffff"/>
<rect x="1308.58" y="741.68" width="10.74" height="10.68" fill="#e5e7f3"/>
<rect x="1319.02" y="741.68" width="10.74" height="10.68" fill="#fbecec"/>
<rect x="1329.46" y="741.68" width="10.74" height="10.68" fill="#f7dad8"/>
<rect x="1339.91" y="741.68" width="10.75" height="10.68" fill="#b0b8dc"/>
<rect x="1350.36" y="741.68" width="10.74" height="10.68" fill="#f7dad8"/>
<rect x="1151.90" y="752.06" width="10.74" height="10.68" fill="#cad0e8"/>
<rect x="1162.35" y="752.06" width="10.74" height="10.68" fill="#f7dad8"/>
<rect x="1172.79" y="752.06" width="10.75" height="10.68" fill="#ffffff"/>
<rect x="1183.24" y="752.06" width="10.74" height="10.68" fill="#fbecec"/>
<rect x="1193.68" y="752.06" width="10.74" height="10.68" fill="#f0b8b6"/>
<rect x="1204.12" y="752.06" width="10.75" height="10.68" fill="#cad0e8"/>
<rect x="1214.57" y="752.06" width="10.74" height="10.68" fill="#fbecec"/>
<rect x="1225.02" y="752.06" width="10.74" height="10.68" fill="#e5e7f3"/>
<rect x="1235.46" y="752.06" width="10.74" height="10.68" fill="#cad0e8"/>
<rect x="1245.90" y="752.06" width="10.74" height="10.68" fill="#e5e7f3"/>
<rect x="1256.35" y="752.06" width="10.75" height="10.68" fill="#fbecec"/>
<rect x="1266.80" y="752.06" width="10.74" height="10.68" fill="#b0b8dc"/>
<rect x="1277.24" y="752.06" width="21.19" height="10.68" fill="#fbecec"/>
<rect x="1298.13" y="752.06" width="10.74" height="10.68" fill="#cad0e8"/>
<rect x="1308.58" y="752.06" width="10.74" height="10.68" fill="#f7dad8"/>
<rect x="1319.02" y="752.06" width="10.74" height="10.68" fill="#96a0d0"/>
<rect x="1329.46" y="752.06" width="21.19" height="10.68" fill="#f7dad8"/>
<rect x="1350.36" y="752.06" width="10.74" height="10.68" fill="#e5e7f3"/>
<rect x="1151.90" y="762.44" width="10.74" height="10.68" fill="#fbecec"/>
<rect x="1162.35" y="762.44" width="21.19" height="10.68" fill="#ffffff"/>
<rect x="1183.24" y="762.44" width="10.74" height="10.68" fill="#e5e7f3"/>
<rect x="1193.68" y="762.44" width="10.74" height="10.68" fill="#cad0e8"/>
<rect x="1204.12" y="762.44" width="10.75" height="10.68" fill="#ffffff"/>
<rect x="1214.57" y="762.44" width="10.74" height="10.68" fill="#f7dad8"/>
<rect x="1225.02" y="762.44" width="10.74" height="10.68" fill="#fbecec"/>
<rect x="1235.46" y="762.44" width="10.74" height="10.68" fill="#f7dad8"/>
<rect x="1245.90" y="762.44" width="10.74" height="10.68" fill="#ffffff"/>
<rect x="1256.35" y="762.44" width="10.75" height="10.68" fill="#fbecec"/>
<rect x="1266.80" y="762.44" width="31.64" height="10.68" fill="#ffffff"/>
<rect x="1298.13" y="762.44" width="10.74" height="10.68" fill="#fbecec"/>
<rect x="1308.58" y="762.44" width="10.74" height="10.68" fill="#e5e7f3"/>
<rect x="1319.02" y="762.44" width="10.74" height="10.68" fill="#f0b8b6"/>
<rect x="1329.46" y="762.44" width="10.74" height="10.68" fill="#cad0e8"/>
<rect x="1339.91" y="762.44" width="10.75" height="10.68" fill="#e5e7f3"/>
<rect x="1350.36" y="762.44" width="10.74" height="10.68" fill="#ffffff"/>
<rect x="1151.90" y="772.82" width="10.74" height="10.68" fill="#fbecec"/>
<rect x="1162.35" y="772.82" width="10.74" height="10.68" fill="#cad0e8"/>
<rect x="1172.79" y="772.82" width="10.75" height="10.68" fill="#f7dad8"/>
<rect x="1183.24" y="772.82" width="10.74" height="10.68" fill="#ffffff"/>
<rect x="1193.68" y="772.82" width="10.74" height="10.68" fill="#f0b8b6"/>
<rect x="1204.12" y="772.82" width="10.75" height="10.68" fill="#cad0e8"/>
<rect x="1214.57" y="772.82" width="10.74" height="10.68" fill="#e5e7f3"/>
<rect x="1225.02" y="772.82" width="10.74" height="10.68" fill="#cad0e8"/>
<rect x="1235.46" y="772.82" width="21.19" height="10.68" fill="#ffffff"/>
<rect x="1256.35" y="772.82" width="10.75" height="10.68" fill="#cad0e8"/>
<rect x="1266.80" y="772.82" width="10.74" height="10.68" fill="#fbecec"/>
<rect x="1277.24" y="772.82" width="21.19" height="10.68" fill="#e5e7f3"/>
<rect x="1298.13" y="772.82" width="10.74" height="10.68" fill="#fbecec"/>
<rect x="1308.58" y="772.82" width="10.74" height="10.68" fill="#cad0e8"/>
<rect x="1319.02" y="772.82" width="10.74" height="10.68" fill="#ffffff"/>
<rect x="1329.46" y="772.82" width="10.74" height="10.68" fill="#e5e7f3"/>
<rect x="1339.91" y="772.82" width="10.75" height="10.68" fill="#fbecec"/>
<rect x="1350.36" y="772.82" width="10.74" height="10.68" fill="#ffffff"/>
<rect x="1151.90" y="783.20" width="10.74" height="10.68" fill="#cad0e8"/>
<rect x="1162.35" y="783.20" width="10.74" height="10.68" fill="#fbecec"/>
<rect x="1172.79" y="783.20" width="10.75" height="10.68" fill="#e5e7f3"/>
<rect x="1183.24" y="783.20" width="10.74" height="10.68" fill="#cad0e8"/>
<rect x="1193.68" y="783.20" width="10.74" height="10.68" fill="#e5e7f3"/>
<rect x="1204.12" y="783.20" width="10.75" height="10.68" fill="#f7dad8"/>
<rect x="1214.57" y="783.20" width="10.74" height="10.68" fill="#f0b8b6"/>
<rect x="1225.02" y="783.20" width="10.74" height="10.68" fill="#ffffff"/>
<rect x="1235.46" y="783.20" width="10.74" height="10.68" fill="#e5e7f3"/>
<rect x="1245.90" y="783.20" width="10.74" height="10.68" fill="#e89694"/>
<rect x="1256.35" y="783.20" width="10.75" height="10.68" fill="#b0b8dc"/>
<rect x="1266.80" y="783.20" width="21.19" height="10.68" fill="#ffffff"/>
<rect x="1287.68" y="783.20" width="21.19" height="10.68" fill="#fbecec"/>
<rect x="1308.58" y="783.20" width="10.74" height="10.68" fill="#e5e7f3"/>
<rect x="1319.02" y="783.20" width="10.74" height="10.68" fill="#f0b8b6"/>
<rect x="1329.46" y="783.20" width="10.74" height="10.68" fill="#ffffff"/>
<rect x="1339.91" y="783.20" width="10.75" height="10.68" fill="#e5e7f3"/>
<rect x="1350.36" y="783.20" width="10.74" height="10.68" fill="#fbecec"/>
<rect x="1151.90" y="793.58" width="10.74" height="10.68" fill="#fbecec"/>
<rect x="1162.35" y="793.58" width="10.74" height="10.68" fill="#f7dad8"/>
<rect x="1172.79" y="793.58" width="10.75" height="10.68" fill="#f0b8b6"/>
<rect x="1183.24" y="793.58" width="10.74" height="10.68" fill="#b0b8dc"/>
<rect x="1193.68" y="793.58" width="10.74" height="10.68" fill="#fbecec"/>
<rect x="1204.12" y="793.58" width="10.75" height="10.68" fill="#cad0e8"/>
<rect x="1214.57" y="793.58" width="10.74" height="10.68" fill="#b0b8dc"/>
<rect x="1225.02" y="793.58" width="10.74" height="10.68" fill="#fbecec"/>
<rect x="1235.46" y="793.58" width="10.74" height="10.68" fill="#ffffff"/>
<rect x="1245.90" y="793.58" width="10.74" height="10.68" fill="#b0b8dc"/>
<rect x="1256.35" y="793.58" width="10.75" height="10.68" fill="#e5e7f3"/>
<rect x="1266.80" y="793.58" width="10.74" height="10.68" fill="#e89694"/>
<rect x="1277.24" y="793.58" width="21.19" height="10.68" fill="#ffffff"/>
<rect x="1298.13" y="793.58" width="21.19" height="10.68" fill="#cad0e8"/>
<rect x="1319.02" y="793.58" width="10.74" height="10.68" fill="#ffffff"/>
<rect x="1329.46" y="793.58" width="10.74" height="10.68" fill="#b0b8dc"/>
<rect x="1339.91" y="793.58" width="10.75" height="10.68" fill="#f7dad8"/>
<rect x="1350.36" y="793.58" width="10.74" height="10.68" fill="#ffffff"/>
<rect x="1151.90" y="803.96" width="10.74" height="10.68" fill="#f7dad8"/>
<rect x="1162.35" y="803.96" width="10.74" height="10.68" fill="#7f8dc5"/>
<rect x="1172.79" y="803.96" width="10.75" height="10.68" fill="#e5e7f3"/>
<rect x="1183.24" y="803.96" width="10.74" height="10.68" fill="#e89694"/>
<rect x="1193.68" y="803.96" width="10.74" height="10.68" fill="#e5e7f3"/>
<rect x="1204.12" y="803.96" width="10.75" height="10.68" fill="#f7dad8"/>
<rect x="1214.57" y="803.96" width="10.74" height="10.68" fill="#f0b8b6"/>
<rect x="1225.02" y="803.96" width="10.74" height="10.68" fill="#ffffff"/>
<rect x="1235.46" y="803.96" width="10.74" height="10.68" fill="#b0b8dc"/>
<rect x="1245.90" y="803.96" width="10.74" height="10.68" fill="#f0b8b6"/>
<rect x="1256.35" y="803.96" width="10.75" height="10.68" fill="#f7dad8"/>
<rect x="1266.80" y="803.96" width="10.74" height="10.68" fill="#7f8dc5"/>
<rect x="1277.24" y="803.96" width="10.74" height="10.68" fill="#cad0e8"/>
<rect x="1287.68" y="803.96" width="10.75" height="10.68" fill="#f7dad8"/>
<rect x="1298.13" y="803.96" width="10.74" height="10.68" fill="#ffffff"/>
<rect x="1308.58" y="803.96" width="10.74" height="10.68" fill="#f7dad8"/>
<rect x="1319.02" y="803.96" width="10.74" height="10.68" fill="#f0b8b6"/>
<rect x="1329.46" y="803.96" width="10.74" height="10.68" fill="#b0b8dc"/>
<rect x="1339.91" y="803.96" width="10.75" height="10.68" fill="#fbecec"/>
<rect x="1350.36" y="803.96" width="10.74" height="10.68" fill="#e5e7f3"/>
<rect x="1151.90" y="814.34" width="10.74" height="10.68" fill="#ffffff"/>
<rect x="1162.35" y="814.34" width="10.74" height="10.68" fill="#f0b8b6"/>
<rect x="1172.79" y="814.34" width="10.75" height="10.68" fill="#e5e7f3"/>
<rect x="1183.24" y="814.34" width="10.74" height="10.68" fill="#cad0e8"/>
<rect x="1193.68" y="814.34" width="10.74" height="10.68" fill="#b0b8dc"/>
<rect x="1204.12" y="814.34" width="10.75" height="10.68" fill="#ffffff"/>
<rect x="1214.57" y="814.34" width="10.74" height="10.68" fill="#cad0e8"/>
<rect x="1225.02" y="814.34" width="10.74" height="10.68" fill="#ffffff"/>
<rect x="1235.46" y="814.34" width="10.74" height="10.68" fill="#f0b8b6"/>
<rect x="1245.90" y="814.34" width="21.19" height="10.68" fill="#b0b8dc"/>
<rect x="1266.80" y="814.34" width="10.74" height="10.68" fill="#fbecec"/>
<rect x="1277.24" y="814.34" width="10.74" height="10.68" fill="#ffffff"/>
<rect x="1287.68" y="814.34" width="10.75" height="10.68" fill="#e89694"/>
<rect x="1298.13" y="814.34" width="10.74" height="10.68" fill="#96a0d0"/>
<rect x="1308.58" y="814.34" width="10.74" height="10.68" fill="#e5e7f3"/>
<rect x="1319.02" y="814.34" width="10.74" height="10.68" fill="#b0b8dc"/>
<rect x="1329.46" y="814.34" width="21.19" height="10.68" fill="#f0b8b6"/>
<rect x="1350.36" y="814.34" width="10.74" height="10.68" fill="#b0b8dc"/>
<rect x="1151.90" y="824.72" width="10.74" height="10.68" fill="#96a0d0"/>
<rect x="1162.35" y="824.72" width="10.74" height="10.68" fill="#cad0e8"/>
<rect x="1172.79" y="824.72" width="10.75" height="10.68" fill="#e5e7f3"/>
<rect x="1183.24" y="824.72" width="10.74" height="10.68" fill="#f0b8b6"/>
<rect x="1193.68" y="824.72" width="10.74" height="10.68" fill="#cad0e8"/>
<rect x="1204.12" y="824.72" width="10.75" height="10.68" fill="#fbecec"/>
<rect x="1214.57" y="824.72" width="10.74" height="10.68" fill="#cad0e8"/>
<rect x="1225.02" y="824.72" width="10.74" height="10.68" fill="#f7dad8"/>
<rect x="1235.46" y="824.72" width="10.74" height="10.68" fill="#b0b8dc"/>
<rect x="1245.90" y="824.72" width="10.74" height="10.68" fill="#ffffff"/>
<rect x="1256.35" y="824.72" width="10.75" height="10.68" fill="#e27d7a"/>
<rect x="1266.80" y="824.72" width="10.74" height="10.68" fill="#ffffff"/>
<rect x="1277.24" y="824.72" width="10.74" height="10.68" fill="#fbecec"/>
<rect x="1287.68" y="824.72" width="10.75" height="10.68" fill="#cad0e8"/>
<rect x="1298.13" y="824.72" width="10.74" height="10.68" fill="#f7dad8"/>
<rect x="1308.58" y="824.72" width="10.74" height="10.68" fill="#f0b8b6"/>
<rect x="1319.02" y="824.72" width="10.74" height="10.68" fill="#f7dad8"/>
<rect x="1329.46" y="824.72" width="21.19" height="10.68" fill="#b0b8dc"/>
<rect x="1350.36" y="824.72" width="10.74" height="10.68" fill="#f0b8b6"/>
<rect x="1151.90" y="835.10" width="10.74" height="10.68" fill="#e27d7a"/>
<rect x="1162.35" y="835.10" width="10.74" height="10.68" fill="#ffffff"/>
<rect x="1172.79" y="835.10" width="10.75" height="10.68" fill="#e5e7f3"/>
<rect x="1183.24" y="835.10" width="10.74" height="10.68" fill="#cad0e8"/>
<rect x="1193.68" y="835.10" width="10.74" height="10.68" fill="#f7dad8"/>
<rect x="1204.12" y="835.10" width="10.75" height="10.68" fill="#ffffff"/>
<rect x="1214.57" y="835.10" width="10.74" height="10.68" fill="#f0b8b6"/>
<rect x="1225.02" y="835.10" width="10.74" height="10.68" fill="#b0b8dc"/>
<rect x="1235.46" y="835.10" width="10.74" height="10.68" fill="#f0b8b6"/>
<rect x="1245.90" y="835.10" width="10.74" height="10.68" fill="#b0b8dc"/>
<rect x="1256.35" y="835.10" width="10.75" height="10.68" fill="#fbecec"/>
<rect x="1266.80" y="835.10" width="10.74" height="10.68" fill="#7f8dc5"/>
<rect x="1277.24" y="835.10" width="10.74" height="10.68" fill="#f0b8b6"/>
<rect x="1287.68" y="835.10" width="10.75" height="10.68" fill="#ffffff"/>
<rect x="1298.13" y="835.10" width="21.19" height="10.68" fill="#cad0e8"/>
<rect x="1319.02" y="835.10" width="10.74" height="10.68" fill="#f0b8b6"/>
<rect x="1329.46" y="835.10" width="10.74" height="10.68" fill="#f7dad8"/>
<rect x="1339.91" y="835.10" width="10.75" height="10.68" fill="#b0b8dc"/>
<rect x="1350.36" y="835.10" width="10.74" height="10.68" fill="#f7dad8"/>
<rect x="1151.90" y="845.48" width="10.74" height="10.68" fill="#b0b8dc"/>
<rect x="1162.35" y="845.48" width="10.74" height="10.68" fill="#ffffff"/>
<rect x="1172.79" y="845.48" width="10.75" height="10.68" fill="#fbecec"/>
<rect x="1183.24" y="845.48" width="10.74" height="10.68" fill="#f7dad8"/>
<rect x="1193.68" y="845.48" width="10.74" height="10.68" fill="#96a0d0"/>
<rect x="1204.12" y="845.48" width="10.75" height="10.68" fill="#f0b8b6"/>
<rect x="1214.57" y="845.48" width="10.74" height="10.68" fill="#b0b8dc"/>
<rect x="1225.02" y="845.48" width="10.74" height="10.68" fill="#e5e7f3"/>
<rect x="1235.46" y="845.48" width="10.74" height="10.68" fill="#fbecec"/>
<rect x="1245.90" y="845.48" width="10.74" height="10.68" fill="#ffffff"/>
<rect x="1256.35" y="845.48" width="10.75" height="10.68" fill="#fbecec"/>
<rect x="1266.80" y="845.48" width="10.74" height="10.68" fill="#f7dad8"/>
<rect x="1277.24" y="845.48" width="10.74" height="10.68" fill="#b0b8dc"/>
<rect x="1287.68" y="845.48" width="10.75" height="10.68" fill="#f0b8b6"/>
<rect x="1298.13" y="845.48" width="10.74" height="10.68" fill="#cad0e8"/>
<rect x="1308.58" y="845.48" width="10.74" height="10.68" fill="#fbecec"/>
<rect x="1319.02" y="845.48" width="10.74" height="10.68" fill="#cad0e8"/>
<rect x="1329.46" y="845.48" width="10.74" height="10.68" fill="#e5e7f3"/>
<rect x="1339.91" y="845.48" width="10.75" height="10.68" fill="#f7dad8"/>
<rect x="1350.36" y="845.48" width="10.74" height="10.68" fill="#e5e7f3"/>
<rect x="1151.90" y="855.86" width="10.74" height="10.68" fill="#f7dad8"/>
<rect x="1162.35" y="855.86" width="10.74" height="10.68" fill="#cad0e8"/>
<rect x="1172.79" y="855.86" width="10.75" height="10.68" fill="#e5e7f3"/>
<rect x="1183.24" y="855.86" width="10.74" height="10.68" fill="#fbecec"/>
<rect x="1193.68" y="855.86" width="10.74" height="10.68" fill="#ffffff"/>
<rect x="1204.12" y="855.86" width="10.75" height="10.68" fill="#96a0d0"/>
<rect x="1214.57" y="855.86" width="10.74" height="10.68" fill="#e89694"/>
<rect x="1225.02" y="855.86" width="10.74" height="10.68" fill="#ffffff"/>
<rect x="1235.46" y="855.86" width="10.74" height="10.68" fill="#e5e7f3"/>
<rect x="1245.90" y="855.86" width="10.74" height="10.68" fill="#fbecec"/>
<rect x="1256.35" y="855.86" width="10.75" height="10.68" fill="#f7dad8"/>
<rect x="1266.80" y="855.86" width="10.74" height="10.68" fill="#fbecec"/>
<rect x="1277.24" y="855.86" width="10.74" height="10.68" fill="#cad0e8"/>
<rect x="1287.68" y="855.86" width="10.75" height="10.68" fill="#e89694"/>
<rect x="1298.13" y="855.86" width="10.74" height="10.68" fill="#ffffff"/>
<rect x="1308.58" y="855.86" width="10.74" height="10.68" fill="#e5e7f3"/>
<rect x="1319.02" y="855.86" width="10.74" height="10.68" fill="#ffffff"/>
<rect x="1329.46" y="855.86" width="10.74" height="10.68" fill="#e89694"/>
<rect x="1339.91" y="855.86" width="21.19" height="10.68" fill="#e5e7f3"/>
<rect x="1151.90" y="866.24" width="10.74" height="10.68" fill="#e5e7f3"/>
<rect x="1162.35" y="866.24" width="10.74" height="10.68" fill="#f7dad8"/>
<rect x="1172.79" y="866.24" width="10.75" height="10.68" fill="#b0b8dc"/>
<rect x="1183.24" y="866.24" width="10.74" height="10.68" fill="#e89694"/>
<rect x="1193.68" y="866.24" width="10.74" height="10.68" fill="#e5e7f3"/>
<rect x="1204.12" y="866.24" width="10.75" height="10.68" fill="#fbecec"/>
<rect x="1214.57" y="866.24" width="10.74" height="10.68" fill="#ffffff"/>
<rect x="1225.02" y="866.24" width="10.74" height="10.68" fill="#cad0e8"/>
<rect x="1235.46" y="866.24" width="10.74" height="10.68" fill="#fbecec"/>
<rect x="1245.90" y="866.24" width="10.74" height="10.68" fill="#b0b8dc"/>
<rect x="1256.35" y="866.24" width="21.19" height="10.68" fill="#cad0e8"/>
<rect x="1277.24" y="866.24" width="10.74" height="10.68" fill="#e5e7f3"/>
<rect x="1287.68" y="866.24" width="10.75" height="10.68" fill="#b0b8dc"/>
<rect x="1298.13" y="866.24" width="10.74" height="10.68" fill="#96a0d0"/>
<rect x="1308.58" y="866.24" width="10.74" height="10.68" fill="#f0b8b6"/>
<rect x="1319.02" y="866.24" width="10.74" height="10.68" fill="#ffffff"/>
<rect x="1329.46" y="866.24" width="10.74" height="10.68" fill="#96a0d0"/>
<rect x="1339.91" y="866.24" width="10.75" height="10.68" fill="#ffffff"/>
<rect x="1350.36" y="866.24" width="10.74" height="10.68" fill="#fbecec"/>
<rect x="1151.90" y="876.62" width="10.74" height="10.68" fill="#b0b8dc"/>
<rect x="1162.35" y="876.62" width="10.74" height="10.68" fill="#e89694"/>
<rect x="1172.79" y="876.62" width="10.75" height="10.68" fill="#ffffff"/>
<rect x="1183.24" y="876.62" width="10.74" height="10.68" fill="#96a0d0"/>
<rect x="1193.68" y="876.62" width="10.74" height="10.68" fill="#e89694"/>
<rect x="1204.12" y="876.62" width="10.75" height="10.68" fill="#96a0d0"/>
<rect x="1214.57" y="876.62" width="10.74" height="10.68" fill="#ffffff"/>
<rect x="1225.02" y="876.62" width="10.74" height="10.68" fill="#e5e7f3"/>
<rect x="1235.46" y="876.62" width="10.74" height="10.68" fill="#f0b8b6"/>
<rect x="1245.90" y="876.62" width="21.19" height="10.68" fill="#e5e7f3"/>
<rect x="1266.80" y="876.62" width="10.74" height="10.68" fill="#e89694"/>
<rect x="1277.24" y="876.62" width="10.74" height="10.68" fill="#fbecec"/>
<rect x="1287.68" y="876.62" width="10.75" height="10.68" fill="#cad0e8"/>
<rect x="1298.13" y="876.62" width="10.74" height="10.68" fill="#f0b8b6"/>
<rect x="1308.58" y="876.62" width="10.74" height="10.68" fill="#f7dad8"/>
<rect x="1319.02" y="876.62" width="10.74" height="10.68" fill="#96a0d0"/>
<rect x="1329.46" y="876.62" width="10.74" height="10.68" fill="#f7dad8"/>
<rect x="1339.91" y="876.62" width="10.75" height="10.68" fill="#fbecec"/>
<rect x="1350.36" y="876.62" width="10.74" height="10.68" fill="#e5e7f3"/>
</g>
<rect x="1151.90" y="679.40" width="208.90" height="207.60" fill="none" stroke="#000" stroke-width="1.80"/>
<g shape-rendering="crispEdges">
<rect x="100.30" y="1045.30" width="10.86" height="10.84" fill="#a74975"/>
<rect x="110.86" y="1045.30" width="10.86" height="10.84" fill="#b84f6d"/>
<rect x="121.42" y="1045.30" width="10.86" height="10.84" fill="#93427d"/>
<rect x="131.98" y="1045.30" width="10.86" height="10.84" fill="#a34876"/>
<rect x="142.54" y="1045.30" width="10.86" height="10.84" fill="#91417d"/>
<rect x="153.10" y="1045.30" width="10.86" height="10.84" fill="#883e7f"/>
<rect x="163.66" y="1045.30" width="10.86" height="10.84" fill="#90417d"/>
<rect x="174.22" y="1045.30" width="10.86" height="10.84" fill="#873d7f"/>
<rect x="184.78" y="1045.30" width="10.86" height="10.84" fill="#873e7f"/>
<rect x="195.34" y="1045.30" width="10.86" height="10.84" fill="#883e7f"/>
<rect x="205.90" y="1045.30" width="10.86" height="10.84" fill="#9b457b"/>
<rect x="216.46" y="1045.30" width="10.86" height="10.84" fill="#9c457a"/>
<rect x="227.02" y="1045.30" width="10.86" height="10.84" fill="#ae4b72"/>
<rect x="237.58" y="1045.30" width="10.86" height="10.84" fill="#92427d"/>
<rect x="248.14" y="1045.30" width="10.86" height="10.84" fill="#91417d"/>
<rect x="258.70" y="1045.30" width="10.86" height="10.84" fill="#7c3981"/>
<rect x="269.26" y="1045.30" width="10.86" height="10.84" fill="#733681"/>
<rect x="279.82" y="1045.30" width="10.86" height="10.84" fill="#693580"/>
<rect x="290.38" y="1045.30" width="10.86" height="10.84" fill="#62347f"/>
<rect x="300.94" y="1045.30" width="10.86" height="10.84" fill="#90417d"/>
<rect x="100.30" y="1055.84" width="10.86" height="10.83" fill="#a54876"/>
<rect x="110.86" y="1055.84" width="10.86" height="10.83" fill="#9c457a"/>
<rect x="121.42" y="1055.84" width="10.86" height="10.83" fill="#9a457b"/>
<rect x="131.98" y="1055.84" width="10.86" height="10.83" fill="#743782"/>
<rect x="142.54" y="1055.84" width="10.86" height="10.83" fill="#7d3a81"/>
<rect x="153.10" y="1055.84" width="10.86" height="10.83" fill="#90417d"/>
<rect x="163.66" y="1055.84" width="21.42" height="10.83" fill="#873d7f"/>
<rect x="184.78" y="1055.84" width="10.86" height="10.83" fill="#9b457a"/>
<rect x="195.34" y="1055.84" width="10.86" height="10.83" fill="#9a457b"/>
<rect x="205.90" y="1055.84" width="10.86" height="10.83" fill="#883e7f"/>
<rect x="216.46" y="1055.84" width="10.86" height="10.83" fill="#9b457b"/>
<rect x="227.02" y="1055.84" width="10.86" height="10.83" fill="#883e7f"/>
<rect x="237.58" y="1055.84" width="21.42" height="10.83" fill="#9b457b"/>
<rect x="258.70" y="1055.84" width="10.86" height="10.83" fill="#7d3a81"/>
<rect x="269.26" y="1055.84" width="10.86" height="10.83" fill="#863d7f"/>
<rect x="279.82" y="1055.84" width="10.86" height="10.83" fill="#6b3580"/>
<rect x="290.38" y="1055.84" width="10.86" height="10.83" fill="#7c3981"/>
<rect x="300.94" y="1055.84" width="10.86" height="10.83" fill="#9a457b"/>
<rect x="100.30" y="1066.37" width="10.86" height="10.84" fill="#91417d"/>
<rect x="110.86" y="1066.37" width="10.86" height="10.84" fill="#733782"/>
<rect x="121.42" y="1066.37" width="21.42" height="10.84" fill="#7c3981"/>
<rect x="142.54" y="1066.37" width="10.86" height="10.84" fill="#8f417e"/>
<rect x="153.10" y="1066.37" width="10.86" height="10.84" fill="#873e7f"/>
<rect x="163.66" y="1066.37" width="10.86" height="10.84" fill="#733782"/>
<rect x="174.22" y="1066.37" width="10.86" height="10.84" fill="#743782"/>
<rect x="184.78" y="1066.37" width="10.86" height="10.84" fill="#ad4b72"/>
<rect x="195.34" y="1066.37" width="10.86" height="10.84" fill="#7e3a81"/>
<rect x="205.90" y="1066.37" width="10.86" height="10.84" fill="#7c3981"/>
<rect x="216.46" y="1066.37" width="10.86" height="10.84" fill="#9a457b"/>
<rect x="227.02" y="1066.37" width="10.86" height="10.84" fill="#883e7f"/>
<rect x="237.58" y="1066.37" width="31.98" height="10.84" fill="#91417d"/>
<rect x="269.26" y="1066.37" width="10.86" height="10.84" fill="#ad4b72"/>
<rect x="279.82" y="1066.37" width="10.86" height="10.84" fill="#9a457b"/>
<rect x="290.38" y="1066.37" width="10.86" height="10.84" fill="#863d7f"/>
<rect x="300.94" y="1066.37" width="10.86" height="10.84" fill="#7d3a81"/>
<rect x="100.30" y="1076.90" width="10.86" height="10.84" fill="#863d7f"/>
<rect x="110.86" y="1076.90" width="10.86" height="10.84" fill="#61347f"/>
<rect x="121.42" y="1076.90" width="10.86" height="10.84" fill="#723681"/>
<rect x="131.98" y="1076.90" width="10.86" height="10.84" fill="#61337e"/>
<rect x="142.54" y="1076.90" width="10.86" height="10.84" fill="#6b3580"/>
<rect x="153.10" y="1076.90" width="10.86" height="10.84" fill="#9a457b"/>
<rect x="163.66" y="1076.90" width="10.86" height="10.84" fill="#873e7f"/>
<rect x="174.22" y="1076.90" width="10.86" height="10.84" fill="#90417d"/>
<rect x="184.78" y="1076.90" width="10.86" height="10.84" fill="#91417d"/>
<rect x="195.34" y="1076.90" width="10.86" height="10.84" fill="#733782"/>
<rect x="205.90" y="1076.90" width="10.86" height="10.84" fill="#62347f"/>
<rect x="216.46" y="1076.90" width="10.86" height="10.84" fill="#7d3a81"/>
<rect x="227.02" y="1076.90" width="10.86" height="10.84" fill="#9a457b"/>
<rect x="237.58" y="1076.90" width="10.86" height="10.84" fill="#92427d"/>
<rect x="248.14" y="1076.90" width="21.42" height="10.84" fill="#91417d"/>
<rect x="269.26" y="1076.90" width="10.86" height="10.84" fill="#883e7f"/>
<rect x="279.82" y="1076.90" width="10.86" height="10.84" fill="#873d7f"/>
<rect x="290.38" y="1076.90" width="10.86" height="10.84" fill="#7c3981"/>
<rect x="300.94" y="1076.90" width="10.86" height="10.84" fill="#723681"/>
<rect x="100.30" y="1087.44" width="10.86" height="10.83" fill="#90417d"/>
<rect x="110.86" y="1087.44" width="10.86" height="10.83" fill="#733681"/>
<rect x="121.42" y="1087.44" width="10.86" height="10.83" fill="#7a3981"/>
<rect x="131.98" y="1087.44" width="10.86" height="10.83" fill="#61347f"/>
<rect x="142.54" y="1087.44" width="10.86" height="10.83" fill="#a34877"/>
<rect x="153.10" y="1087.44" width="10.86" height="10.83" fill="#9c457a"/>
<rect x="163.66" y="1087.44" width="10.86" height="10.83" fill="#9b457b"/>
<rect x="174.22" y="1087.44" width="21.42" height="10.83" fill="#883e7f"/>
<rect x="195.34" y="1087.44" width="10.86" height="10.83" fill="#9a457b"/>
<rect x="205.90" y="1087.44" width="10.86" height="10.83" fill="#7d3a81"/>
<rect x="216.46" y="1087.44" width="10.86" height="10.83" fill="#9a457b"/>
<rect x="227.02" y="1087.44" width="10.86" height="10.83" fill="#9c457a"/>
<rect x="237.58" y="1087.44" width="10.86" height="10.83" fill="#9b457a"/>
<rect x="248.14" y="1087.44" width="10.86" height="10.83" fill="#92427d"/>
<rect x="258.70" y="1087.44" width="10.86" height="10.83" fill="#a54876"/>
<rect x="269.26" y="1087.44" width="10.86" height="10.83" fill="#a44876"/>
<rect x="279.82" y="1087.44" width="10.86" height="10.83" fill="#7d3a81"/>
<rect x="290.38" y="1087.44" width="10.86" height="10.83" fill="#61347f"/>
<rect x="300.94" y="1087.44" width="10.86" height="10.83" fill="#60337e"/>
<rect x="100.30" y="1097.97" width="10.86" height="10.84" fill="#9b457b"/>
<rect x="110.86" y="1097.97" width="10.86" height="10.84" fill="#853d7f"/>
<rect x="121.42" y="1097.97" width="10.86" height="10.84" fill="#62347f"/>
<rect x="131.98" y="1097.97" width="10.86" height="10.84" fill="#61347f"/>
<rect x="142.54" y="1097.97" width="10.86" height="10.84" fill="#91417d"/>
<rect x="153.10" y="1097.97" width="21.42" height="10.84" fill="#a54876"/>
<rect x="174.22" y="1097.97" width="10.86" height="10.84" fill="#ae4b71"/>
<rect x="184.78" y="1097.97" width="10.86" height="10.84" fill="#91417d"/>
<rect x="195.34" y="1097.97" width="10.86" height="10.84" fill="#92427d"/>
<rect x="205.90" y="1097.97" width="10.86" height="10.84" fill="#9a457b"/>
<rect x="216.46" y="1097.97" width="10.86" height="10.84" fill="#883e7f"/>
<rect x="227.02" y="1097.97" width="10.86" height="10.84" fill="#a44876"/>
<rect x="237.58" y="1097.97" width="10.86" height="10.84" fill="#a54876"/>
<rect x="248.14" y="1097.97" width="10.86" height="10.84" fill="#af4c71"/>
<rect x="258.70" y="1097.97" width="10.86" height="10.84" fill="#a64975"/>
<rect x="269.26" y="1097.97" width="10.86" height="10.84" fill="#9b457a"/>
<rect x="279.82" y="1097.97" width="10.86" height="10.84" fill="#863d7f"/>
<rect x="290.38" y="1097.97" width="10.86" height="10.84" fill="#853d7f"/>
<rect x="300.94" y="1097.97" width="10.86" height="10.84" fill="#61337e"/>
<rect x="100.30" y="1108.51" width="10.86" height="10.84" fill="#90417d"/>
<rect x="110.86" y="1108.51" width="10.86" height="10.84" fill="#62347f"/>
<rect x="121.42" y="1108.51" width="21.42" height="10.84" fill="#853d7f"/>
<rect x="142.54" y="1108.51" width="10.86" height="10.84" fill="#883e7f"/>
<rect x="153.10" y="1108.51" width="10.86" height="10.84" fill="#a44876"/>
<rect x="163.66" y="1108.51" width="10.86" height="10.84" fill="#883e7f"/>
<rect x="174.22" y="1108.51" width="10.86" height="10.84" fill="#92427d"/>
<rect x="184.78" y="1108.51" width="10.86" height="10.84" fill="#893e7f"/>
<rect x="195.34" y="1108.51" width="10.86" height="10.84" fill="#a54876"/>
<rect x="205.90" y="1108.51" width="10.86" height="10.84" fill="#92427d"/>
<rect x="216.46" y="1108.51" width="10.86" height="10.84" fill="#883e7f"/>
<rect x="227.02" y="1108.51" width="10.86" height="10.84" fill="#873d7f"/>
<rect x="237.58" y="1108.51" width="10.86" height="10.84" fill="#7e3a81"/>
<rect x="248.14" y="1108.51" width="10.86" height="10.84" fill="#a44876"/>
<rect x="258.70" y="1108.51" width="10.86" height="10.84" fill="#9b457a"/>
<rect x="269.26" y="1108.51" width="10.86" height="10.84" fill="#90417d"/>
<rect x="279.82" y="1108.51" width="10.86" height="10.84" fill="#62347f"/>
<rect x="290.38" y="1108.51" width="10.86" height="10.84" fill="#853d7f"/>
<rect x="300.94" y="1108.51" width="10.86" height="10.84" fill="#6a3580"/>
<rect x="100.30" y="1119.05" width="10.86" height="10.83" fill="#7b3981"/>
<rect x="110.86" y="1119.05" width="10.86" height="10.83" fill="#61337e"/>
<rect x="121.42" y="1119.05" width="10.86" height="10.83" fill="#723681"/>
<rect x="131.98" y="1119.05" width="10.86" height="10.83" fill="#743782"/>
<rect x="142.54" y="1119.05" width="10.86" height="10.83" fill="#873e7f"/>
<rect x="153.10" y="1119.05" width="10.86" height="10.83" fill="#9b457a"/>
<rect x="163.66" y="1119.05" width="10.86" height="10.83" fill="#91417d"/>
<rect x="174.22" y="1119.05" width="10.86" height="10.83" fill="#a54876"/>
<rect x="184.78" y="1119.05" width="10.86" height="10.83" fill="#ae4b71"/>
<rect x="195.34" y="1119.05" width="10.86" height="10.83" fill="#af4c71"/>
<rect x="205.90" y="1119.05" width="10.86" height="10.83" fill="#a64975"/>
<rect x="216.46" y="1119.05" width="10.86" height="10.83" fill="#a54876"/>
<rect x="227.02" y="1119.05" width="21.42" height="10.83" fill="#7d3a81"/>
<rect x="248.14" y="1119.05" width="10.86" height="10.83" fill="#863d7f"/>
<rect x="258.70" y="1119.05" width="10.86" height="10.83" fill="#7d3a81"/>
<rect x="269.26" y="1119.05" width="10.86" height="10.83" fill="#7c3981"/>
<rect x="279.82" y="1119.05" width="10.86" height="10.83" fill="#723681"/>
<rect x="290.38" y="1119.05" width="10.86" height="10.83" fill="#6a3580"/>
<rect x="300.94" y="1119.05" width="10.86" height="10.83" fill="#7b3981"/>
<rect x="100.30" y="1129.58" width="10.86" height="10.84" fill="#6a3580"/>
<rect x="110.86" y="1129.58" width="10.86" height="10.84" fill="#723681"/>
<rect x="121.42" y="1129.58" width="10.86" height="10.84" fill="#733681"/>
<rect x="131.98" y="1129.58" width="10.86" height="10.84" fill="#9a457b"/>
<rect x="142.54" y="1129.58" width="10.86" height="10.84" fill="#9b457b"/>
<rect x="153.10" y="1129.58" width="10.86" height="10.84" fill="#a54876"/>
<rect x="163.66" y="1129.58" width="21.42" height="10.84" fill="#883e7f"/>
<rect x="184.78" y="1129.58" width="10.86" height="10.84" fill="#91417d"/>
<rect x="195.34" y="1129.58" width="10.86" height="10.84" fill="#92427d"/>
<rect x="205.90" y="1129.58" width="21.42" height="10.84" fill="#af4c71"/>
<rect x="227.02" y="1129.58" width="10.86" height="10.84" fill="#883e7f"/>
<rect x="237.58" y="1129.58" width="10.86" height="10.84" fill="#863d7f"/>
<rect x="248.14" y="1129.58" width="10.86" height="10.84" fill="#62347f"/>
<rect x="258.70" y="1129.58" width="10.86" height="10.84" fill="#723681"/>
<rect x="269.26" y="1129.58" width="10.86" height="10.84" fill="#62347f"/>
<rect x="279.82" y="1129.58" width="10.86" height="10.84" fill="#7c3981"/>
<rect x="290.38" y="1129.58" width="10.86" height="10.84" fill="#853d7f"/>
<rect x="300.94" y="1129.58" width="10.86" height="10.84" fill="#7c3981"/>
<rect x="100.30" y="1140.12" width="10.86" height="10.84" fill="#7c3981"/>
<rect x="110.86" y="1140.12" width="10.86" height="10.84" fill="#863d7f"/>
<rect x="121.42" y="1140.12" width="10.86" height="10.84" fill="#733782"/>
<rect x="131.98" y="1140.12" width="21.42" height="10.84" fill="#883e7f"/>
<rect x="153.10" y="1140.12" width="21.42" height="10.84" fill="#ae4b71"/>
<rect x="174.22" y="1140.12" width="10.86" height="10.84" fill="#9b457b"/>
<rect x="184.78" y="1140.12" width="10.86" height="10.84" fill="#7e3a81"/>
<rect x="195.34" y="1140.12" width="10.86" height="10.84" fill="#873e7f"/>
<rect x="205.90" y="1140.12" width="21.42" height="10.84" fill="#af4c71"/>
<rect x="227.02" y="1140.12" width="10.86" height="10.84" fill="#ad4b72"/>
<rect x="237.58" y="1140.12" width="10.86" height="10.84" fill="#883e7f"/>
<rect x="248.14" y="1140.12" width="42.54" height="10.84" fill="#863d7f"/>
<rect x="290.38" y="1140.12" width="10.86" height="10.84" fill="#733782"/>
<rect x="300.94" y="1140.12" width="10.86" height="10.84" fill="#7b3981"/>
<rect x="100.30" y="1150.65" width="10.86" height="10.83" fill="#7d3a81"/>
<rect x="110.86" y="1150.65" width="10.86" height="10.83" fill="#863d7f"/>
<rect x="121.42" y="1150.65" width="10.86" height="10.83" fill="#7e3a81"/>
<rect x="131.98" y="1150.65" width="10.86" height="10.83" fill="#b74e6d"/>
<rect x="142.54" y="1150.65" width="10.86" height="10.83" fill="#92427d"/>
<rect x="153.10" y="1150.65" width="10.86" height="10.83" fill="#883e7f"/>
<rect x="163.66" y="1150.65" width="10.86" height="10.83" fill="#92427d"/>
<rect x="174.22" y="1150.65" width="10.86" height="10.83" fill="#9a457b"/>
<rect x="184.78" y="1150.65" width="10.86" height="10.83" fill="#863d7f"/>
<rect x="195.34" y="1150.65" width="10.86" height="10.83" fill="#743782"/>
<rect x="205.90" y="1150.65" width="10.86" height="10.83" fill="#b64e6d"/>
<rect x="216.46" y="1150.65" width="10.86" height="10.83" fill="#893e7f"/>
<rect x="227.02" y="1150.65" width="10.86" height="10.83" fill="#7d3a81"/>
<rect x="237.58" y="1150.65" width="21.42" height="10.83" fill="#91417d"/>
<rect x="258.70" y="1150.65" width="10.86" height="10.83" fill="#873d7f"/>
<rect x="269.26" y="1150.65" width="10.86" height="10.83" fill="#7d3a81"/>
<rect x="279.82" y="1150.65" width="10.86" height="10.83" fill="#743782"/>
<rect x="290.38" y="1150.65" width="10.86" height="10.83" fill="#7b3981"/>
<rect x="300.94" y="1150.65" width="10.86" height="10.83" fill="#62347f"/>
<rect x="100.30" y="1161.18" width="10.86" height="10.84" fill="#91417d"/>
<rect x="110.86" y="1161.18" width="10.86" height="10.84" fill="#92427d"/>
<rect x="121.42" y="1161.18" width="10.86" height="10.84" fill="#a54876"/>
<rect x="131.98" y="1161.18" width="10.86" height="10.84" fill="#9d4679"/>
<rect x="142.54" y="1161.18" width="10.86" height="10.84" fill="#9c457a"/>
<rect x="153.10" y="1161.18" width="10.86" height="10.84" fill="#9b457b"/>
<rect x="163.66" y="1161.18" width="10.86" height="10.84" fill="#91417d"/>
<rect x="174.22" y="1161.18" width="10.86" height="10.84" fill="#7d3a81"/>
<rect x="184.78" y="1161.18" width="10.86" height="10.84" fill="#733782"/>
<rect x="195.34" y="1161.18" width="10.86" height="10.84" fill="#7c3981"/>
<rect x="205.90" y="1161.18" width="10.86" height="10.84" fill="#7e3a81"/>
<rect x="216.46" y="1161.18" width="10.86" height="10.84" fill="#90417d"/>
<rect x="227.02" y="1161.18" width="10.86" height="10.84" fill="#6c3580"/>
<rect x="237.58" y="1161.18" width="10.86" height="10.84" fill="#90417d"/>
<rect x="248.14" y="1161.18" width="10.86" height="10.84" fill="#873e7f"/>
<rect x="258.70" y="1161.18" width="10.86" height="10.84" fill="#92427d"/>
<rect x="269.26" y="1161.18" width="10.86" height="10.84" fill="#9c457a"/>
<rect x="279.82" y="1161.18" width="10.86" height="10.84" fill="#ae4b71"/>
<rect x="290.38" y="1161.18" width="10.86" height="10.84" fill="#91417d"/>
<rect x="300.94" y="1161.18" width="10.86" height="10.84" fill="#863d7f"/>
<rect x="100.30" y="1171.72" width="10.86" height="10.83" fill="#94427d"/>
<rect x="110.86" y="1171.72" width="10.86" height="10.83" fill="#ba506c"/>
<rect x="121.42" y="1171.72" width="10.86" height="10.83" fill="#c45b69"/>
<rect x="131.98" y="1171.72" width="10.86" height="10.83" fill="#c35a6a"/>
<rect x="142.54" y="1171.72" width="10.86" height="10.83" fill="#a74975"/>
<rect x="153.10" y="1171.72" width="10.86" height="10.83" fill="#9c457a"/>
<rect x="163.66" y="1171.72" width="10.86" height="10.83" fill="#883e7f"/>
<rect x="174.22" y="1171.72" width="10.86" height="10.83" fill="#90417d"/>
<rect x="184.78" y="1171.72" width="10.86" height="10.83" fill="#7d3a81"/>
<rect x="195.34" y="1171.72" width="10.86" height="10.83" fill="#873d7f"/>
<rect x="205.90" y="1171.72" width="10.86" height="10.83" fill="#873e7f"/>
<rect x="216.46" y="1171.72" width="10.86" height="10.83" fill="#9b457a"/>
<rect x="227.02" y="1171.72" width="10.86" height="10.83" fill="#9a457b"/>
<rect x="237.58" y="1171.72" width="10.86" height="10.83" fill="#7d3a81"/>
<rect x="248.14" y="1171.72" width="10.86" height="10.83" fill="#873e7f"/>
<rect x="258.70" y="1171.72" width="10.86" height="10.83" fill="#af4c71"/>
<rect x="269.26" y="1171.72" width="10.86" height="10.83" fill="#cd6567"/>
<rect x="279.82" y="1171.72" width="10.86" height="10.83" fill="#b14c70"/>
<rect x="290.38" y="1171.72" width="21.42" height="10.83" fill="#9c457a"/>
<rect x="100.30" y="1182.25" width="10.86" height="10.84" fill="#cd6567"/>
<rect x="110.86" y="1182.25" width="10.86" height="10.84" fill="#d77065"/>
<rect x="121.42" y="1182.25" width="10.86" height="10.84" fill="#cf6767"/>
<rect x="131.98" y="1182.25" width="10.86" height="10.84" fill="#c55c69"/>
<rect x="142.54" y="1182.25" width="10.86" height="10.84" fill="#cd6567"/>
<rect x="153.10" y="1182.25" width="10.86" height="10.84" fill="#b04c70"/>
<rect x="163.66" y="1182.25" width="10.86" height="10.84" fill="#9c457a"/>
<rect x="174.22" y="1182.25" width="10.86" height="10.84" fill="#91417d"/>
<rect x="184.78" y="1182.25" width="10.86" height="10.84" fill="#7e3a81"/>
<rect x="195.34" y="1182.25" width="10.86" height="10.84" fill="#9b457b"/>
<rect x="205.90" y="1182.25" width="10.86" height="10.84" fill="#92427d"/>
<rect x="216.46" y="1182.25" width="10.86" height="10.84" fill="#ae4b71"/>
<rect x="227.02" y="1182.25" width="10.86" height="10.84" fill="#883e7f"/>
<rect x="237.58" y="1182.25" width="10.86" height="10.84" fill="#733681"/>
<rect x="248.14" y="1182.25" width="10.86" height="10.84" fill="#873d7f"/>
<rect x="258.70" y="1182.25" width="10.86" height="10.84" fill="#93427d"/>
<rect x="269.26" y="1182.25" width="10.86" height="10.84" fill="#dc7967"/>
<rect x="279.82" y="1182.25" width="10.86" height="10.84" fill="#c55c69"/>
<rect x="290.38" y="1182.25" width="10.86" height="10.84" fill="#ba506c"/>
<rect x="300.94" y="1182.25" width="10.86" height="10.84" fill="#b84f6d"/>
<rect x="100.30" y="1192.79" width="10.86" height="10.84" fill="#cc6467"/>
<rect x="110.86" y="1192.79" width="10.86" height="10.84" fill="#b24d6f"/>
<rect x="121.42" y="1192.79" width="10.86" height="10.84" fill="#cd6467"/>
<rect x="131.98" y="1192.79" width="10.86" height="10.84" fill="#b04c70"/>
<rect x="142.54" y="1192.79" width="10.86" height="10.84" fill="#ba506c"/>
<rect x="153.10" y="1192.79" width="10.86" height="10.84" fill="#cc6367"/>
<rect x="163.66" y="1192.79" width="21.42" height="10.84" fill="#a64975"/>
<rect x="184.78" y="1192.79" width="10.86" height="10.84" fill="#af4c71"/>
<rect x="195.34" y="1192.79" width="10.86" height="10.84" fill="#ae4b71"/>
<rect x="205.90" y="1192.79" width="10.86" height="10.84" fill="#9b457b"/>
<rect x="216.46" y="1192.79" width="10.86" height="10.84" fill="#9c457a"/>
<rect x="227.02" y="1192.79" width="10.86" height="10.84" fill="#873e7f"/>
<rect x="237.58" y="1192.79" width="10.86" height="10.84" fill="#6b3580"/>
<rect x="248.14" y="1192.79" width="10.86" height="10.84" fill="#9a457b"/>
<rect x="258.70" y="1192.79" width="10.86" height="10.84" fill="#7e3a81"/>
<rect x="269.26" y="1192.79" width="10.86" height="10.84" fill="#803b80"/>
<rect x="279.82" y="1192.79" width="10.86" height="10.84" fill="#c35a69"/>
<rect x="290.38" y="1192.79" width="10.86" height="10.84" fill="#cc6467"/>
<rect x="300.94" y="1192.79" width="10.86" height="10.84" fill="#813b80"/>
<rect x="100.30" y="1203.33" width="10.86" height="10.83" fill="#8a3f7e"/>
<rect x="110.86" y="1203.33" width="10.86" height="10.83" fill="#a54875"/>
<rect x="121.42" y="1203.33" width="10.86" height="10.83" fill="#9c457a"/>
<rect x="131.98" y="1203.33" width="10.86" height="10.83" fill="#883e7f"/>
<rect x="142.54" y="1203.33" width="10.86" height="10.83" fill="#93427d"/>
<rect x="153.10" y="1203.33" width="10.86" height="10.83" fill="#92427d"/>
<rect x="163.66" y="1203.33" width="10.86" height="10.83" fill="#893e7f"/>
<rect x="174.22" y="1203.33" width="21.42" height="10.83" fill="#ae4b71"/>
<rect x="195.34" y="1203.33" width="10.86" height="10.83" fill="#7e3a81"/>
<rect x="205.90" y="1203.33" width="10.86" height="10.83" fill="#753782"/>
<rect x="216.46" y="1203.33" width="10.86" height="10.83" fill="#b74e6d"/>
<rect x="227.02" y="1203.33" width="10.86" height="10.83" fill="#ae4b71"/>
<rect x="237.58" y="1203.33" width="10.86" height="10.83" fill="#91417d"/>
<rect x="248.14" y="1203.33" width="10.86" height="10.83" fill="#b84f6c"/>
<rect x="258.70" y="1203.33" width="10.86" height="10.83" fill="#9b457a"/>
<rect x="269.26" y="1203.33" width="10.86" height="10.83" fill="#883e7f"/>
<rect x="279.82" y="1203.33" width="10.86" height="10.83" fill="#c2596a"/>
<rect x="290.38" y="1203.33" width="10.86" height="10.83" fill="#c35a6a"/>
<rect x="300.94" y="1203.33" width="10.86" height="10.83" fill="#9b457a"/>
<rect x="100.30" y="1213.86" width="10.86" height="10.84" fill="#a64975"/>
<rect x="110.86" y="1213.86" width="10.86" height="10.84" fill="#af4c71"/>
<rect x="121.42" y="1213.86" width="10.86" height="10.84" fill="#9b457a"/>
<rect x="131.98" y="1213.86" width="10.86" height="10.84" fill="#7e3a81"/>
<rect x="142.54" y="1213.86" width="10.86" height="10.84" fill="#b64e6d"/>
<rect x="153.10" y="1213.86" width="10.86" height="10.84" fill="#893e7f"/>
<rect x="163.66" y="1213.86" width="10.86" height="10.84" fill="#91417d"/>
<rect x="174.22" y="1213.86" width="10.86" height="10.84" fill="#92427d"/>
<rect x="184.78" y="1213.86" width="10.86" height="10.84" fill="#883e7f"/>
<rect x="195.34" y="1213.86" width="10.86" height="10.84" fill="#863d7f"/>
<rect x="205.90" y="1213.86" width="10.86" height="10.84" fill="#853d7f"/>
<rect x="216.46" y="1213.86" width="10.86" height="10.84" fill="#7e3a81"/>
<rect x="227.02" y="1213.86" width="10.86" height="10.84" fill="#91417d"/>
<rect x="237.58" y="1213.86" width="10.86" height="10.84" fill="#753782"/>
<rect x="248.14" y="1213.86" width="10.86" height="10.84" fill="#c1586a"/>
<rect x="258.70" y="1213.86" width="10.86" height="10.84" fill="#a64975"/>
<rect x="269.26" y="1213.86" width="10.86" height="10.84" fill="#873e7f"/>
<rect x="279.82" y="1213.86" width="10.86" height="10.84" fill="#7e3a81"/>
<rect x="290.38" y="1213.86" width="10.86" height="10.84" fill="#92427d"/>
<rect x="300.94" y="1213.86" width="10.86" height="10.84" fill="#883e7f"/>
<rect x="100.30" y="1224.39" width="10.86" height="10.84" fill="#ae4b71"/>
<rect x="110.86" y="1224.39" width="10.86" height="10.84" fill="#9b457a"/>
<rect x="121.42" y="1224.39" width="10.86" height="10.84" fill="#9a457b"/>
<rect x="131.98" y="1224.39" width="10.86" height="10.84" fill="#6b3580"/>
<rect x="142.54" y="1224.39" width="10.86" height="10.84" fill="#92427d"/>
<rect x="153.10" y="1224.39" width="10.86" height="10.84" fill="#b74e6d"/>
<rect x="163.66" y="1224.39" width="10.86" height="10.84" fill="#9c457a"/>
<rect x="174.22" y="1224.39" width="10.86" height="10.84" fill="#91417d"/>
<rect x="184.78" y="1224.39" width="10.86" height="10.84" fill="#863d7f"/>
<rect x="195.34" y="1224.39" width="10.86" height="10.84" fill="#6a3580"/>
<rect x="205.90" y="1224.39" width="10.86" height="10.84" fill="#62347f"/>
<rect x="216.46" y="1224.39" width="10.86" height="10.84" fill="#7b3981"/>
<rect x="227.02" y="1224.39" width="10.86" height="10.84" fill="#91417d"/>
<rect x="237.58" y="1224.39" width="10.86" height="10.84" fill="#92427d"/>
<rect x="248.14" y="1224.39" width="10.86" height="10.84" fill="#a64975"/>
<rect x="258.70" y="1224.39" width="10.86" height="10.84" fill="#a54876"/>
<rect x="269.26" y="1224.39" width="10.86" height="10.84" fill="#92427d"/>
<rect x="279.82" y="1224.39" width="10.86" height="10.84" fill="#883e7f"/>
<rect x="290.38" y="1224.39" width="21.42" height="10.84" fill="#a54876"/>
<rect x="100.30" y="1234.93" width="10.86" height="10.83" fill="#863d7f"/>
<rect x="110.86" y="1234.93" width="10.86" height="10.83" fill="#6a3580"/>
<rect x="121.42" y="1234.93" width="10.86" height="10.83" fill="#693580"/>
<rect x="131.98" y="1234.93" width="10.86" height="10.83" fill="#62347f"/>
<rect x="142.54" y="1234.93" width="10.86" height="10.83" fill="#873e7f"/>
<rect x="153.10" y="1234.93" width="10.86" height="10.83" fill="#a54876"/>
<rect x="163.66" y="1234.93" width="10.86" height="10.83" fill="#9c457a"/>
<rect x="174.22" y="1234.93" width="10.86" height="10.83" fill="#7e3a81"/>
<rect x="184.78" y="1234.93" width="10.86" height="10.83" fill="#90417d"/>
<rect x="195.34" y="1234.93" width="10.86" height="10.83" fill="#91417d"/>
<rect x="205.90" y="1234.93" width="10.86" height="10.83" fill="#853d7f"/>
<rect x="216.46" y="1234.93" width="10.86" height="10.83" fill="#6b3580"/>
<rect x="227.02" y="1234.93" width="10.86" height="10.83" fill="#9b457a"/>
<rect x="237.58" y="1234.93" width="10.86" height="10.83" fill="#d46c65"/>
<rect x="248.14" y="1234.93" width="10.86" height="10.83" fill="#9d467a"/>
<rect x="258.70" y="1234.93" width="10.86" height="10.83" fill="#9b457a"/>
<rect x="269.26" y="1234.93" width="10.86" height="10.83" fill="#a54876"/>
<rect x="279.82" y="1234.93" width="10.86" height="10.83" fill="#9d4679"/>
<rect x="290.38" y="1234.93" width="10.86" height="10.83" fill="#af4c71"/>
<rect x="300.94" y="1234.93" width="10.86" height="10.83" fill="#9c457a"/>
<rect x="100.30" y="1245.46" width="10.86" height="10.84" fill="#6a3580"/>
<rect x="110.86" y="1245.46" width="10.86" height="10.84" fill="#60337e"/>
<rect x="121.42" y="1245.46" width="10.86" height="10.84" fill="#61337e"/>
<rect x="131.98" y="1245.46" width="10.86" height="10.84" fill="#8f407e"/>
<rect x="142.54" y="1245.46" width="10.86" height="10.84" fill="#9b457b"/>
<rect x="153.10" y="1245.46" width="10.86" height="10.84" fill="#9d4679"/>
<rect x="163.66" y="1245.46" width="10.86" height="10.84" fill="#ca6268"/>
<rect x="174.22" y="1245.46" width="10.86" height="10.84" fill="#873e7f"/>
<rect x="184.78" y="1245.46" width="10.86" height="10.84" fill="#63347f"/>
<rect x="195.34" y="1245.46" width="10.86" height="10.84" fill="#a24777"/>
<rect x="205.90" y="1245.46" width="10.86" height="10.84" fill="#743782"/>
<rect x="216.46" y="1245.46" width="10.86" height="10.84" fill="#6a3580"/>
<rect x="227.02" y="1245.46" width="10.86" height="10.84" fill="#873d7f"/>
<rect x="237.58" y="1245.46" width="10.86" height="10.84" fill="#9c457a"/>
<rect x="248.14" y="1245.46" width="10.86" height="10.84" fill="#883e7f"/>
<rect x="258.70" y="1245.46" width="10.86" height="10.84" fill="#7e3a81"/>
<rect x="269.26" y="1245.46" width="10.86" height="10.84" fill="#a64975"/>
<rect x="279.82" y="1245.46" width="10.86" height="10.84" fill="#dc7867"/>
<rect x="290.38" y="1245.46" width="10.86" height="10.84" fill="#9e4679"/>
<rect x="300.94" y="1245.46" width="10.86" height="10.84" fill="#9c457a"/>
</g>
<rect x="100.30" y="1045.30" width="211.20" height="210.70" fill="none" stroke="#333" stroke-width="1.00"/>
<g shape-rendering="crispEdges">
<rect x="431.90" y="1036.80" width="11.24" height="11.19" fill="#533279"/>
<rect x="442.84" y="1036.80" width="11.24" height="11.19" fill="#64347f"/>
<rect x="453.79" y="1036.80" width="11.24" height="11.19" fill="#683580"/>
<rect x="464.73" y="1036.80" width="11.24" height="11.19" fill="#66347f"/>
<rect x="475.68" y="1036.80" width="11.25" height="11.19" fill="#64347f"/>
<rect x="486.62" y="1036.80" width="33.13" height="11.19" fill="#63347f"/>
<rect x="519.46" y="1036.80" width="11.25" height="11.19" fill="#65347f"/>
<rect x="530.40" y="1036.80" width="11.24" height="11.19" fill="#66347f"/>
<rect x="541.35" y="1036.80" width="11.25" height="11.19" fill="#683580"/>
<rect x="552.29" y="1036.80" width="11.25" height="11.19" fill="#6a3580"/>
<rect x="563.24" y="1036.80" width="11.24" height="11.19" fill="#6b3580"/>
<rect x="574.18" y="1036.80" width="11.25" height="11.19" fill="#693580"/>
<rect x="585.13" y="1036.80" width="11.24" height="11.19" fill="#65347f"/>
<rect x="596.07" y="1036.80" width="11.25" height="11.19" fill="#61337e"/>
<rect x="607.02" y="1036.80" width="11.24" height="11.19" fill="#5c337e"/>
<rect x="617.96" y="1036.80" width="11.25" height="11.19" fill="#58327d"/>
<rect x="628.91" y="1036.80" width="11.25" height="11.19" fill="#533279"/>
<rect x="639.86" y="1036.80" width="11.24" height="11.19" fill="#47316e"/>
<rect x="431.90" y="1047.69" width="11.24" height="11.19" fill="#61347f"/>
<rect x="442.84" y="1047.69" width="11.24" height="11.19" fill="#773782"/>
<rect x="453.79" y="1047.69" width="11.24" height="11.19" fill="#7c3981"/>
<rect x="464.73" y="1047.69" width="11.24" height="11.19" fill="#7a3981"/>
<rect x="475.68" y="1047.69" width="11.25" height="11.19" fill="#7a3881"/>
<rect x="486.62" y="1047.69" width="11.24" height="11.19" fill="#7a3981"/>
<rect x="497.57" y="1047.69" width="11.25" height="11.19" fill="#7b3981"/>
<rect x="508.51" y="1047.69" width="11.24" height="11.19" fill="#7d3a81"/>
<rect x="519.46" y="1047.69" width="11.25" height="11.19" fill="#7f3b80"/>
<rect x="530.40" y="1047.69" width="22.19" height="11.19" fill="#803b80"/>
<rect x="552.29" y="1047.69" width="11.25" height="11.19" fill="#833c80"/>
<rect x="563.24" y="1047.69" width="22.19" height="11.19" fill="#853d7f"/>
<rect x="585.13" y="1047.69" width="11.24" height="11.19" fill="#823c80"/>
<rect x="596.07" y="1047.69" width="11.25" height="11.19" fill="#7d3a81"/>
<rect x="607.02" y="1047.69" width="11.24" height="11.19" fill="#783882"/>
<rect x="617.96" y="1047.69" width="11.25" height="11.19" fill="#723681"/>
<rect x="628.91" y="1047.69" width="11.25" height="11.19" fill="#6a3580"/>
<rect x="639.86" y="1047.69" width="11.24" height="11.19" fill="#57327c"/>
<rect x="431.90" y="1058.58" width="11.24" height="11.19" fill="#61347f"/>
<rect x="442.84" y="1058.58" width="11.24" height="11.19" fill="#763782"/>
<rect x="453.79" y="1058.58" width="11.24" height="11.19" fill="#7b3981"/>
<rect x="464.73" y="1058.58" width="11.24" height="11.19" fill="#7d3a81"/>
<rect x="475.68" y="1058.58" width="11.25" height="11.19" fill="#803b80"/>
<rect x="486.62" y="1058.58" width="11.24" height="11.19" fill="#843c7f"/>
<rect x="497.57" y="1058.58" width="11.25" height="11.19" fill="#863d7f"/>
<rect x="508.51" y="1058.58" width="11.24" height="11.19" fill="#883e7f"/>
<rect x="519.46" y="1058.58" width="11.25" height="11.19" fill="#893e7f"/>
<rect x="530.40" y="1058.58" width="11.24" height="11.19" fill="#873e7f"/>
<rect x="541.35" y="1058.58" width="11.25" height="11.19" fill="#863d7f"/>
<rect x="552.29" y="1058.58" width="11.25" height="11.19" fill="#8a3f7e"/>
<rect x="563.24" y="1058.58" width="11.24" height="11.19" fill="#8e407e"/>
<rect x="574.18" y="1058.58" width="22.19" height="11.19" fill="#90417d"/>
<rect x="596.07" y="1058.58" width="11.25" height="11.19" fill="#8d407e"/>
<rect x="607.02" y="1058.58" width="11.24" height="11.19" fill="#893e7f"/>
<rect x="617.96" y="1058.58" width="11.25" height="11.19" fill="#813b80"/>
<rect x="628.91" y="1058.58" width="11.25" height="11.19" fill="#733681"/>
<rect x="639.86" y="1058.58" width="11.24" height="11.19" fill="#5b337e"/>
<rect x="431.90" y="1069.47" width="11.24" height="11.19" fill="#5e337e"/>
<rect x="442.84" y="1069.47" width="11.24" height="11.19" fill="#703681"/>
<rect x="453.79" y="1069.47" width="11.24" height="11.19" fill="#753782"/>
<rect x="464.73" y="1069.47" width="11.24" height="11.19" fill="#793881"/>
<rect x="475.68" y="1069.47" width="11.25" height="11.19" fill="#823c80"/>
<rect x="486.62" y="1069.47" width="11.24" height="11.19" fill="#8a3f7f"/>
<rect x="497.57" y="1069.47" width="11.25" height="11.19" fill="#8c407e"/>
<rect x="508.51" y="1069.47" width="11.24" height="11.19" fill="#8d407e"/>
<rect x="519.46" y="1069.47" width="11.25" height="11.19" fill="#8b3f7e"/>
<rect x="530.40" y="1069.47" width="11.24" height="11.19" fill="#883e7f"/>
<rect x="541.35" y="1069.47" width="11.25" height="11.19" fill="#873d7f"/>
<rect x="552.29" y="1069.47" width="11.25" height="11.19" fill="#8b3f7e"/>
<rect x="563.24" y="1069.47" width="11.24" height="11.19" fill="#91417d"/>
<rect x="574.18" y="1069.47" width="11.25" height="11.19" fill="#94437d"/>
<rect x="585.13" y="1069.47" width="11.24" height="11.19" fill="#95437c"/>
<rect x="596.07" y="1069.47" width="11.25" height="11.19" fill="#94437d"/>
<rect x="607.02" y="1069.47" width="11.24" height="11.19" fill="#8f417e"/>
<rect x="617.96" y="1069.47" width="11.25" height="11.19" fill="#843c80"/>
<rect x="628.91" y="1069.47" width="11.25" height="11.19" fill="#723681"/>
<rect x="639.86" y="1069.47" width="11.24" height="11.19" fill="#58327d"/>
<rect x="431.90" y="1080.36" width="11.24" height="11.19" fill="#5d337e"/>
<rect x="442.84" y="1080.36" width="11.24" height="11.19" fill="#6f3681"/>
<rect x="453.79" y="1080.36" width="11.24" height="11.19" fill="#733782"/>
<rect x="464.73" y="1080.36" width="11.24" height="11.19" fill="#793881"/>
<rect x="475.68" y="1080.36" width="11.25" height="11.19" fill="#853d7f"/>
<rect x="486.62" y="1080.36" width="11.24" height="11.19" fill="#90417d"/>
<rect x="497.57" y="1080.36" width="11.25" height="11.19" fill="#93427d"/>
<rect x="508.51" y="1080.36" width="11.24" height="11.19" fill="#92427d"/>
<rect x="519.46" y="1080.36" width="11.25" height="11.19" fill="#8f417e"/>
<rect x="530.40" y="1080.36" width="11.24" height="11.19" fill="#8c3f7e"/>
<rect x="541.35" y="1080.36" width="11.25" height="11.19" fill="#8b3f7e"/>
<rect x="552.29" y="1080.36" width="11.25" height="11.19" fill="#8e407e"/>
<rect x="563.24" y="1080.36" width="11.24" height="11.19" fill="#94427d"/>
<rect x="574.18" y="1080.36" width="11.25" height="11.19" fill="#98447c"/>
<rect x="585.13" y="1080.36" width="11.24" height="11.19" fill="#99447b"/>
<rect x="596.07" y="1080.36" width="11.25" height="11.19" fill="#98447c"/>
<rect x="607.02" y="1080.36" width="11.24" height="11.19" fill="#90417d"/>
<rect x="617.96" y="1080.36" width="11.25" height="11.19" fill="#823c80"/>
<rect x="628.91" y="1080.36" width="11.25" height="11.19" fill="#6f3681"/>
<rect x="639.86" y="1080.36" width="11.24" height="11.19" fill="#55327a"/>
<rect x="431.90" y="1091.25" width="11.24" height="11.19" fill="#5d337e"/>
<rect x="442.84" y="1091.25" width="11.24" height="11.19" fill="#6f3681"/>
<rect x="453.79" y="1091.25" width="11.24" height="11.19" fill="#743782"/>
<rect x="464.73" y="1091.25" width="11.24" height="11.19" fill="#7c3981"/>
<rect x="475.68" y="1091.25" width="11.25" height="11.19" fill="#883e7f"/>
<rect x="486.62" y="1091.25" width="11.24" height="11.19" fill="#94427d"/>
<rect x="497.57" y="1091.25" width="11.25" height="11.19" fill="#97447c"/>
<rect x="508.51" y="1091.25" width="11.24" height="11.19" fill="#97437c"/>
<rect x="519.46" y="1091.25" width="11.25" height="11.19" fill="#95437d"/>
<rect x="530.40" y="1091.25" width="11.24" height="11.19" fill="#93427d"/>
<rect x="541.35" y="1091.25" width="22.19" height="11.19" fill="#92427d"/>
<rect x="563.24" y="1091.25" width="11.24" height="11.19" fill="#94427d"/>
<rect x="574.18" y="1091.25" width="11.25" height="11.19" fill="#97447c"/>
<rect x="585.13" y="1091.25" width="11.24" height="11.19" fill="#99447c"/>
<rect x="596.07" y="1091.25" width="11.25" height="11.19" fill="#96437c"/>
<rect x="607.02" y="1091.25" width="11.24" height="11.19" fill="#8e407e"/>
<rect x="617.96" y="1091.25" width="11.25" height="11.19" fill="#803b80"/>
<rect x="628.91" y="1091.25" width="11.25" height="11.19" fill="#6d3681"/>
<rect x="639.86" y="1091.25" width="11.24" height="11.19" fill="#54327a"/>
<rect x="431.90" y="1102.14" width="11.24" height="11.19" fill="#5b327d"/>
<rect x="442.84" y="1102.14" width="11.24" height="11.19" fill="#6d3681"/>
<rect x="453.79" y="1102.14" width="11.24" height="11.19" fill="#763782"/>
<rect x="464.73" y="1102.14" width="11.24" height="11.19" fill="#7f3a80"/>
<rect x="475.68" y="1102.14" width="11.25" height="11.19" fill="#8b3f7e"/>
<rect x="486.62" y="1102.14" width="11.24" height="11.19" fill="#94437d"/>
<rect x="497.57" y="1102.14" width="22.19" height="11.19" fill="#98447c"/>
<rect x="519.46" y="1102.14" width="11.25" height="11.19" fill="#99447c"/>
<rect x="530.40" y="1102.14" width="11.24" height="11.19" fill="#99447b"/>
<rect x="541.35" y="1102.14" width="11.25" height="11.19" fill="#98447c"/>
<rect x="552.29" y="1102.14" width="11.25" height="11.19" fill="#94437d"/>
<rect x="563.24" y="1102.14" width="11.24" height="11.19" fill="#91417d"/>
<rect x="574.18" y="1102.14" width="11.25" height="11.19" fill="#90417d"/>
<rect x="585.13" y="1102.14" width="11.24" height="11.19" fill="#91417d"/>
<rect x="596.07" y="1102.14" width="11.25" height="11.19" fill="#8e407e"/>
<rect x="607.02" y="1102.14" width="11.24" height="11.19" fill="#863d7f"/>
<rect x="617.96" y="1102.14" width="11.25" height="11.19" fill="#7b3981"/>
<rect x="628.91" y="1102.14" width="11.25" height="11.19" fill="#6d3580"/>
<rect x="639.86" y="1102.14" width="11.24" height="11.19" fill="#55327b"/>
<rect x="431.90" y="1113.03" width="11.24" height="11.19" fill="#58327d"/>
<rect x="442.84" y="1113.03" width="11.24" height="11.19" fill="#6c3580"/>
<rect x="453.79" y="1113.03" width="11.24" height="11.19" fill="#773882"/>
<rect x="464.73" y="1113.03" width="11.24" height="11.19" fill="#823c80"/>
<rect x="475.68" y="1113.03" width="11.25" height="11.19" fill="#8d407e"/>
<rect x="486.62" y="1113.03" width="11.24" height="11.19" fill="#95437d"/>
<rect x="497.57" y="1113.03" width="11.25" height="11.19" fill="#97447c"/>
<rect x="508.51" y="1113.03" width="11.24" height="11.19" fill="#98447c"/>
<rect x="519.46" y="1113.03" width="11.25" height="11.19" fill="#9a457b"/>
<rect x="530.40" y="1113.03" width="11.24" height="11.19" fill="#9c457a"/>
<rect x="541.35" y="1113.03" width="11.25" height="11.19" fill="#9d467a"/>
<rect x="552.29" y="1113.03" width="11.25" height="11.19" fill="#98447c"/>
<rect x="563.24" y="1113.03" width="11.24" height="11.19" fill="#90417d"/>
<rect x="574.18" y="1113.03" width="11.25" height="11.19" fill="#8a3f7f"/>
<rect x="585.13" y="1113.03" width="11.24" height="11.19" fill="#863d7f"/>
<rect x="596.07" y="1113.03" width="11.25" height="11.19" fill="#833c80"/>
<rect x="607.02" y="1113.03" width="11.24" height="11.19" fill="#7e3a81"/>
<rect x="617.96" y="1113.03" width="11.25" height="11.19" fill="#783882"/>
<rect x="628.91" y="1113.03" width="11.25" height="11.19" fill="#6d3681"/>
<rect x="639.86" y="1113.03" width="11.24" height="11.19" fill="#57327c"/>
<rect x="431.90" y="1123.92" width="11.24" height="11.19" fill="#58327d"/>
<rect x="442.84" y="1123.92" width="11.24" height="11.19" fill="#6e3681"/>
<rect x="453.79" y="1123.92" width="11.24" height="11.19" fill="#7c3981"/>
<rect x="464.73" y="1123.92" width="11.24" height="11.19" fill="#873e7f"/>
<rect x="475.68" y="1123.92" width="11.25" height="11.19" fill="#91417d"/>
<rect x="486.62" y="1123.92" width="11.24" height="11.19" fill="#97437c"/>
<rect x="497.57" y="1123.92" width="11.25" height="11.19" fill="#97447c"/>
<rect x="508.51" y="1123.92" width="22.19" height="11.19" fill="#96437c"/>
<rect x="530.40" y="1123.92" width="11.24" height="11.19" fill="#9a457b"/>
<rect x="541.35" y="1123.92" width="11.25" height="11.19" fill="#9e4679"/>
<rect x="552.29" y="1123.92" width="11.25" height="11.19" fill="#9b457a"/>
<rect x="563.24" y="1123.92" width="11.24" height="11.19" fill="#92427d"/>
<rect x="574.18" y="1123.92" width="11.25" height="11.19" fill="#883e7f"/>
<rect x="585.13" y="1123.92" width="11.24" height="11.19" fill="#823b80"/>
<rect x="596.07" y="1123.92" width="11.25" height="11.19" fill="#7e3a81"/>
<rect x="607.02" y="1123.92" width="11.24" height="11.19" fill="#7b3981"/>
<rect x="617.96" y="1123.92" width="11.25" height="11.19" fill="#783882"/>
<rect x="628.91" y="1123.92" width="11.25" height="11.19" fill="#6f3681"/>
<rect x="639.86" y="1123.92" width="11.24" height="11.19" fill="#59327d"/>
<rect x="431.90" y="1134.81" width="11.24" height="11.19" fill="#5c337e"/>
<rect x="442.84" y="1134.81" width="11.24" height="11.19" fill="#743782"/>
<rect x="453.79" y="1134.81" width="11.24" height="11.19" fill="#833c80"/>
<rect x="464.73" y="1134.81" width="11.24" height="11.19" fill="#8e407e"/>
<rect x="475.68" y="1134.81" width="11.25" height="11.19" fill="#95437d"/>
<rect x="486.62" y="1134.81" width="11.24" height="11.19" fill="#98447c"/>
<rect x="497.57" y="1134.81" width="11.25" height="11.19" fill="#97447c"/>
<rect x="508.51" y="1134.81" width="11.24" height="11.19" fill="#93427d"/>
<rect x="519.46" y="1134.81" width="11.25" height="11.19" fill="#90417d"/>
<rect x="530.40" y="1134.81" width="11.24" height="11.19" fill="#94427d"/>
<rect x="541.35" y="1134.81" width="22.19" height="11.19" fill="#9a457b"/>
<rect x="563.24" y="1134.81" width="11.24" height="11.19" fill="#93427d"/>
<rect x="574.18" y="1134.81" width="11.25" height="11.19" fill="#8a3f7e"/>
<rect x="585.13" y="1134.81" width="11.24" height="11.19" fill="#853d7f"/>
<rect x="596.07" y="1134.81" width="11.25" height="11.19" fill="#823b80"/>
<rect x="607.02" y="1134.81" width="11.24" height="11.19" fill="#803b80"/>
<rect x="617.96" y="1134.81" width="11.25" height="11.19" fill="#7c3981"/>
<rect x="628.91" y="1134.81" width="11.25" height="11.19" fill="#713681"/>
<rect x="639.86" y="1134.81" width="11.24" height="11.19" fill="#5a327d"/>
<rect x="431.90" y="1145.70" width="11.24" height="11.19" fill="#62347f"/>
<rect x="442.84" y="1145.70" width="11.24" height="11.19" fill="#7f3a80"/>
<rect x="453.79" y="1145.70" width="11.24" height="11.19" fill="#8f417e"/>
<rect x="464.73" y="1145.70" width="11.24" height="11.19" fill="#97447c"/>
<rect x="475.68" y="1145.70" width="11.25" height="11.19" fill="#99447b"/>
<rect x="486.62" y="1145.70" width="11.24" height="11.19" fill="#98447c"/>
<rect x="497.57" y="1145.70" width="11.25" height="11.19" fill="#94437d"/>
<rect x="508.51" y="1145.70" width="11.24" height="11.19" fill="#8f407e"/>
<rect x="519.46" y="1145.70" width="11.25" height="11.19" fill="#8a3f7e"/>
<rect x="530.40" y="1145.70" width="11.24" height="11.19" fill="#8d407e"/>
<rect x="541.35" y="1145.70" width="11.25" height="11.19" fill="#92427d"/>
<rect x="552.29" y="1145.70" width="11.25" height="11.19" fill="#93427d"/>
<rect x="563.24" y="1145.70" width="11.24" height="11.19" fill="#8f407e"/>
<rect x="574.18" y="1145.70" width="11.25" height="11.19" fill="#8b3f7e"/>
<rect x="585.13" y="1145.70" width="11.24" height="11.19" fill="#8a3f7f"/>
<rect x="596.07" y="1145.70" width="22.19" height="11.19" fill="#8a3f7e"/>
<rect x="617.96" y="1145.70" width="11.25" height="11.19" fill="#863d7f"/>
<rect x="628.91" y="1145.70" width="11.25" height="11.19" fill="#783882"/>
<rect x="639.86" y="1145.70" width="11.24" height="11.19" fill="#5d337e"/>
<rect x="431.90" y="1156.59" width="11.24" height="11.19" fill="#6c3580"/>
<rect x="442.84" y="1156.59" width="11.24" height="11.19" fill="#8e407e"/>
<rect x="453.79" y="1156.59" width="11.24" height="11.19" fill="#9f4679"/>
<rect x="464.73" y="1156.59" width="11.24" height="11.19" fill="#a34876"/>
<rect x="475.68" y="1156.59" width="11.25" height="11.19" fill="#a14778"/>
<rect x="486.62" y="1156.59" width="11.24" height="11.19" fill="#9a457b"/>
<rect x="497.57" y="1156.59" width="11.25" height="11.19" fill="#93427d"/>
<rect x="508.51" y="1156.59" width="11.24" height="11.19" fill="#8c3f7e"/>
<rect x="519.46" y="1156.59" width="11.25" height="11.19" fill="#873e7f"/>
<rect x="530.40" y="1156.59" width="11.24" height="11.19" fill="#893e7f"/>
<rect x="541.35" y="1156.59" width="11.25" height="11.19" fill="#8d407e"/>
<rect x="552.29" y="1156.59" width="11.25" height="11.19" fill="#8e407e"/>
<rect x="563.24" y="1156.59" width="11.24" height="11.19" fill="#8b3f7e"/>
<rect x="574.18" y="1156.59" width="11.25" height="11.19" fill="#8a3f7e"/>
<rect x="585.13" y="1156.59" width="11.24" height="11.19" fill="#8e407e"/>
<rect x="596.07" y="1156.59" width="11.25" height="11.19" fill="#95437d"/>
<rect x="607.02" y="1156.59" width="11.24" height="11.19" fill="#99447b"/>
<rect x="617.96" y="1156.59" width="11.25" height="11.19" fill="#96437c"/>
<rect x="628.91" y="1156.59" width="11.25" height="11.19" fill="#853d7f"/>
<rect x="639.86" y="1156.59" width="11.24" height="11.19" fill="#65347f"/>
<rect x="431.90" y="1167.48" width="11.24" height="11.19" fill="#773782"/>
<rect x="442.84" y="1167.48" width="11.24" height="11.19" fill="#9e4679"/>
<rect x="453.79" y="1167.48" width="11.24" height="11.19" fill="#af4c71"/>
<rect x="464.73" y="1167.48" width="11.24" height="11.19" fill="#b04c70"/>
<rect x="475.68" y="1167.48" width="11.25" height="11.19" fill="#aa4a73"/>
<rect x="486.62" y="1167.48" width="11.24" height="11.19" fill="#a14778"/>
<rect x="497.57" y="1167.48" width="11.25" height="11.19" fill="#97447c"/>
<rect x="508.51" y="1167.48" width="11.24" height="11.19" fill="#8f417e"/>
<rect x="519.46" y="1167.48" width="22.19" height="11.19" fill="#8b3f7e"/>
<rect x="541.35" y="1167.48" width="11.25" height="11.19" fill="#8f407e"/>
<rect x="552.29" y="1167.48" width="11.25" height="11.19" fill="#8f417e"/>
<rect x="563.24" y="1167.48" width="11.24" height="11.19" fill="#8c3f7e"/>
<rect x="574.18" y="1167.48" width="11.25" height="11.19" fill="#8a3f7e"/>
<rect x="585.13" y="1167.48" width="11.24" height="11.19" fill="#90417d"/>
<rect x="596.07" y="1167.48" width="11.25" height="11.19" fill="#9c457a"/>
<rect x="607.02" y="1167.48" width="22.19" height="11.19" fill="#a64975"/>
<rect x="628.91" y="1167.48" width="11.25" height="11.19" fill="#94437d"/>
<rect x="639.86" y="1167.48" width="11.24" height="11.19" fill="#6f3681"/>
<rect x="431.90" y="1178.37" width="11.24" height="11.19" fill="#7f3a80"/>
<rect x="442.84" y="1178.37" width="11.24" height="11.19" fill="#a74975"/>
<rect x="453.79" y="1178.37" width="22.19" height="11.19" fill="#b64e6d"/>
<rect x="475.68" y="1178.37" width="11.25" height="11.19" fill="#b14c70"/>
<rect x="486.62" y="1178.37" width="11.24" height="11.19" fill="#a84974"/>
<rect x="497.57" y="1178.37" width="11.25" height="11.19" fill="#9e4679"/>
<rect x="508.51" y="1178.37" width="11.24" height="11.19" fill="#97447c"/>
<rect x="519.46" y="1178.37" width="11.25" height="11.19" fill="#93427d"/>
<rect x="530.40" y="1178.37" width="11.24" height="11.19" fill="#92427d"/>
<rect x="541.35" y="1178.37" width="11.25" height="11.19" fill="#94427d"/>
<rect x="552.29" y="1178.37" width="11.25" height="11.19" fill="#93427d"/>
<rect x="563.24" y="1178.37" width="11.24" height="11.19" fill="#8e407e"/>
<rect x="574.18" y="1178.37" width="11.25" height="11.19" fill="#8b3f7e"/>
<rect x="585.13" y="1178.37" width="11.24" height="11.19" fill="#90417d"/>
<rect x="596.07" y="1178.37" width="11.25" height="11.19" fill="#9d467a"/>
<rect x="607.02" y="1178.37" width="11.24" height="11.19" fill="#a94a74"/>
<rect x="617.96" y="1178.37" width="11.25" height="11.19" fill="#ad4b72"/>
<rect x="628.91" y="1178.37" width="11.25" height="11.19" fill="#9d4679"/>
<rect x="639.86" y="1178.37" width="11.24" height="11.19" fill="#753782"/>
<rect x="431.90" y="1189.26" width="11.24" height="11.19" fill="#7d3a81"/>
<rect x="442.84" y="1189.26" width="11.24" height="11.19" fill="#a44876"/>
<rect x="453.79" y="1189.26" width="22.19" height="11.19" fill="#b04c70"/>
<rect x="475.68" y="1189.26" width="11.25" height="11.19" fill="#ac4b72"/>
<rect x="486.62" y="1189.26" width="11.24" height="11.19" fill="#a74975"/>
<rect x="497.57" y="1189.26" width="11.25" height="11.19" fill="#a14778"/>
<rect x="508.51" y="1189.26" width="11.24" height="11.19" fill="#9c457a"/>
<rect x="519.46" y="1189.26" width="11.25" height="11.19" fill="#99447c"/>
<rect x="530.40" y="1189.26" width="11.24" height="11.19" fill="#96437c"/>
<rect x="541.35" y="1189.26" width="11.25" height="11.19" fill="#95437d"/>
<rect x="552.29" y="1189.26" width="11.25" height="11.19" fill="#94437d"/>
<rect x="563.24" y="1189.26" width="11.24" height="11.19" fill="#91417d"/>
<rect x="574.18" y="1189.26" width="11.25" height="11.19" fill="#8f417e"/>
<rect x="585.13" y="1189.26" width="11.24" height="11.19" fill="#93427d"/>
<rect x="596.07" y="1189.26" width="11.25" height="11.19" fill="#9b457b"/>
<rect x="607.02" y="1189.26" width="11.24" height="11.19" fill="#a44876"/>
<rect x="617.96" y="1189.26" width="11.25" height="11.19" fill="#aa4a73"/>
<rect x="628.91" y="1189.26" width="11.25" height="11.19" fill="#9d4679"/>
<rect x="639.86" y="1189.26" width="11.24" height="11.19" fill="#753782"/>
<rect x="431.90" y="1200.15" width="11.24" height="11.19" fill="#763782"/>
<rect x="442.84" y="1200.15" width="11.24" height="11.19" fill="#99447c"/>
<rect x="453.79" y="1200.15" width="22.19" height="11.19" fill="#a24777"/>
<rect x="475.68" y="1200.15" width="11.25" height="11.19" fill="#a14778"/>
<rect x="486.62" y="1200.15" width="11.24" height="11.19" fill="#a04778"/>
<rect x="497.57" y="1200.15" width="11.25" height="11.19" fill="#9d4679"/>
<rect x="508.51" y="1200.15" width="11.24" height="11.19" fill="#9b457b"/>
<rect x="519.46" y="1200.15" width="11.25" height="11.19" fill="#97437c"/>
<rect x="530.40" y="1200.15" width="11.24" height="11.19" fill="#91417d"/>
<rect x="541.35" y="1200.15" width="11.25" height="11.19" fill="#8f417e"/>
<rect x="552.29" y="1200.15" width="11.25" height="11.19" fill="#91417d"/>
<rect x="563.24" y="1200.15" width="11.24" height="11.19" fill="#93427d"/>
<rect x="574.18" y="1200.15" width="11.25" height="11.19" fill="#95437d"/>
<rect x="585.13" y="1200.15" width="11.24" height="11.19" fill="#99447c"/>
<rect x="596.07" y="1200.15" width="11.25" height="11.19" fill="#9b457a"/>
<rect x="607.02" y="1200.15" width="11.24" height="11.19" fill="#9e4679"/>
<rect x="617.96" y="1200.15" width="11.25" height="11.19" fill="#a14778"/>
<rect x="628.91" y="1200.15" width="11.25" height="11.19" fill="#96437c"/>
<rect x="639.86" y="1200.15" width="11.24" height="11.19" fill="#723681"/>
<rect x="431.90" y="1211.04" width="11.24" height="11.19" fill="#703681"/>
<rect x="442.84" y="1211.04" width="11.24" height="11.19" fill="#8d407e"/>
<rect x="453.79" y="1211.04" width="22.19" height="11.19" fill="#94437d"/>
<rect x="475.68" y="1211.04" width="11.25" height="11.19" fill="#97447c"/>
<rect x="486.62" y="1211.04" width="11.24" height="11.19" fill="#9a457b"/>
<rect x="497.57" y="1211.04" width="11.25" height="11.19" fill="#99447c"/>
<rect x="508.51" y="1211.04" width="11.24" height="11.19" fill="#95437d"/>
<rect x="519.46" y="1211.04" width="11.25" height="11.19" fill="#8f407e"/>
<rect x="530.40" y="1211.04" width="11.24" height="11.19" fill="#883e7f"/>
<rect x="541.35" y="1211.04" width="11.25" height="11.19" fill="#863d7f"/>
<rect x="552.29" y="1211.04" width="11.25" height="11.19" fill="#8a3f7e"/>
<rect x="563.24" y="1211.04" width="11.24" height="11.19" fill="#91417d"/>
<rect x="574.18" y="1211.04" width="11.25" height="11.19" fill="#98447c"/>
<rect x="585.13" y="1211.04" width="22.19" height="11.19" fill="#9d467a"/>
<rect x="607.02" y="1211.04" width="11.24" height="11.19" fill="#9a457b"/>
<rect x="617.96" y="1211.04" width="11.25" height="11.19" fill="#99447b"/>
<rect x="628.91" y="1211.04" width="11.25" height="11.19" fill="#8f417e"/>
<rect x="639.86" y="1211.04" width="11.24" height="11.19" fill="#6f3681"/>
<rect x="431.90" y="1221.93" width="11.24" height="11.19" fill="#67347f"/>
<rect x="442.84" y="1221.93" width="11.24" height="11.19" fill="#7f3a80"/>
<rect x="453.79" y="1221.93" width="11.24" height="11.19" fill="#853d7f"/>
<rect x="464.73" y="1221.93" width="11.24" height="11.19" fill="#873e7f"/>
<rect x="475.68" y="1221.93" width="11.25" height="11.19" fill="#8f417e"/>
<rect x="486.62" y="1221.93" width="11.24" height="11.19" fill="#96437c"/>
<rect x="497.57" y="1221.93" width="11.25" height="11.19" fill="#95437d"/>
<rect x="508.51" y="1221.93" width="11.24" height="11.19" fill="#8f407e"/>
<rect x="519.46" y="1221.93" width="11.25" height="11.19" fill="#873d7f"/>
<rect x="530.40" y="1221.93" width="11.24" height="11.19" fill="#803b80"/>
<rect x="541.35" y="1221.93" width="11.25" height="11.19" fill="#7e3a81"/>
<rect x="552.29" y="1221.93" width="11.25" height="11.19" fill="#833c80"/>
<rect x="563.24" y="1221.93" width="11.24" height="11.19" fill="#8d407e"/>
<rect x="574.18" y="1221.93" width="11.25" height="11.19" fill="#97447c"/>
<rect x="585.13" y="1221.93" width="11.24" height="11.19" fill="#9c457a"/>
<rect x="596.07" y="1221.93" width="11.25" height="11.19" fill="#9b457b"/>
<rect x="607.02" y="1221.93" width="11.24" height="11.19" fill="#99447c"/>
<rect x="617.96" y="1221.93" width="11.25" height="11.19" fill="#97437c"/>
<rect x="628.91" y="1221.93" width="11.25" height="11.19" fill="#8c3f7e"/>
<rect x="639.86" y="1221.93" width="11.24" height="11.19" fill="#6d3681"/>
<rect x="431.90" y="1232.82" width="11.24" height="11.19" fill="#58327d"/>
<rect x="442.84" y="1232.82" width="11.24" height="11.19" fill="#6a3580"/>
<rect x="453.79" y="1232.82" width="11.24" height="11.19" fill="#703681"/>
<rect x="464.73" y="1232.82" width="11.24" height="11.19" fill="#763782"/>
<rect x="475.68" y="1232.82" width="11.25" height="11.19" fill="#813b80"/>
<rect x="486.62" y="1232.82" width="22.19" height="11.19" fill="#8a3f7e"/>
<rect x="508.51" y="1232.82" width="11.24" height="11.19" fill="#823c80"/>
<rect x="519.46" y="1232.82" width="11.25" height="11.19" fill="#7b3981"/>
<rect x="530.40" y="1232.82" width="11.24" height="11.19" fill="#753782"/>
<rect x="541.35" y="1232.82" width="11.25" height="11.19" fill="#733681"/>
<rect x="552.29" y="1232.82" width="11.25" height="11.19" fill="#763782"/>
<rect x="563.24" y="1232.82" width="11.24" height="11.19" fill="#813b80"/>
<rect x="574.18" y="1232.82" width="11.25" height="11.19" fill="#8b3f7e"/>
<rect x="585.13" y="1232.82" width="22.19" height="11.19" fill="#8e407e"/>
<rect x="607.02" y="1232.82" width="22.19" height="11.19" fill="#8f417e"/>
<rect x="628.91" y="1232.82" width="11.25" height="11.19" fill="#843d7f"/>
<rect x="639.86" y="1232.82" width="11.24" height="11.19" fill="#673580"/>
<rect x="431.90" y="1243.71" width="11.24" height="11.19" fill="#43316a"/>
<rect x="442.84" y="1243.71" width="11.24" height="11.19" fill="#4f3175"/>
<rect x="453.79" y="1243.71" width="11.24" height="11.19" fill="#56327b"/>
<rect x="464.73" y="1243.71" width="11.24" height="11.19" fill="#5d337e"/>
<rect x="475.68" y="1243.71" width="11.25" height="11.19" fill="#66347f"/>
<rect x="486.62" y="1243.71" width="22.19" height="11.19" fill="#6d3580"/>
<rect x="508.51" y="1243.71" width="11.24" height="11.19" fill="#67347f"/>
<rect x="519.46" y="1243.71" width="11.25" height="11.19" fill="#61347f"/>
<rect x="530.40" y="1243.71" width="11.24" height="11.19" fill="#5f337e"/>
<rect x="541.35" y="1243.71" width="11.25" height="11.19" fill="#5c337e"/>
<rect x="552.29" y="1243.71" width="11.25" height="11.19" fill="#5e337e"/>
<rect x="563.24" y="1243.71" width="11.24" height="11.19" fill="#65347f"/>
<rect x="574.18" y="1243.71" width="11.25" height="11.19" fill="#6b3580"/>
<rect x="585.13" y="1243.71" width="11.24" height="11.19" fill="#6c3580"/>
<rect x="596.07" y="1243.71" width="11.25" height="11.19" fill="#6d3681"/>
<rect x="607.02" y="1243.71" width="11.24" height="11.19" fill="#713681"/>
<rect x="617.96" y="1243.71" width="11.25" height="11.19" fill="#733681"/>
<rect x="628.91" y="1243.71" width="11.25" height="11.19" fill="#6b3580"/>
<rect x="639.86" y="1243.71" width="11.24" height="11.19" fill="#55327a"/>
</g>
<rect x="431.90" y="1036.80" width="218.90" height="217.80" fill="none" stroke="#000" stroke-width="2.00"/>
<g shape-rendering="crispEdges">
<rect x="812.80" y="1030.30" width="211.00" height="10.81" fill="#b94f6c"/>
<rect x="812.80" y="1040.81" width="211.00" height="10.81" fill="#b94f6c"/>
<rect x="812.80" y="1051.32" width="211.00" height="10.81" fill="#b94f6c"/>
<rect x="812.80" y="1061.83" width="211.00" height="10.81" fill="#b94f6c"/>
<rect x="812.80" y="1072.34" width="211.00" height="10.81" fill="#b94f6c"/>
<rect x="812.80" y="1082.85" width="211.00" height="10.81" fill="#b94f6c"/>
<rect x="812.80" y="1093.36" width="211.00" height="10.81" fill="#b94f6c"/>
<rect x="812.80" y="1103.87" width="211.00" height="10.81" fill="#b94f6c"/>
<rect x="812.80" y="1114.38" width="211.00" height="10.81" fill="#b94f6c"/>
<rect x="812.80" y="1124.89" width="211.00" height="10.81" fill="#b94f6c"/>
<rect x="812.80" y="1135.40" width="211.00" height="10.81" fill="#5a327d"/>
<rect x="812.80" y="1145.91" width="211.00" height="10.81" fill="#5a327d"/>
<rect x="812.80" y="1156.42" width="211.00" height="10.81" fill="#5a327d"/>
<rect x="812.80" y="1166.93" width="211.00" height="10.81" fill="#5a327d"/>
<rect x="812.80" y="1177.44" width="211.00" height="10.81" fill="#5a327d"/>
<rect x="812.80" y="1187.95" width="211.00" height="10.81" fill="#5a327d"/>
<rect x="812.80" y="1198.46" width="211.00" height="10.81" fill="#5a327d"/>
<rect x="812.80" y="1208.97" width="211.00" height="10.81" fill="#5a327d"/>
<rect x="812.80" y="1219.48" width="211.00" height="10.81" fill="#5a327d"/>
<rect x="812.80" y="1229.99" width="211.00" height="10.81" fill="#5a327d"/>
</g>
<path d="M812.3 1030H1023V1240.8H812.3" fill="none" stroke="#000" stroke-width="1.6"/>
<g shape-rendering="crispEdges">
<rect x="818.40" y="388.30" width="10.81" height="10.79" fill="#eec291"/>
<rect x="828.91" y="388.30" width="189.48" height="10.79" fill="#e49273"/>
<rect x="1018.09" y="388.30" width="10.81" height="10.79" fill="#eec291"/>
<rect x="818.40" y="398.79" width="10.81" height="10.78" fill="#e49273"/>
<rect x="828.91" y="398.79" width="189.48" height="10.78" fill="#db7565"/>
<rect x="1018.09" y="398.79" width="10.81" height="10.78" fill="#e49273"/>
<rect x="818.40" y="409.27" width="10.81" height="10.79" fill="#e49273"/>
<rect x="828.91" y="409.27" width="189.48" height="10.79" fill="#db7565"/>
<rect x="1018.09" y="409.27" width="10.81" height="10.79" fill="#e49273"/>
<rect x="818.40" y="419.75" width="10.81" height="10.79" fill="#e49273"/>
<rect x="828.91" y="419.75" width="189.48" height="10.79" fill="#db7565"/>
<rect x="1018.09" y="419.75" width="10.81" height="10.79" fill="#e49273"/>
<rect x="818.40" y="430.24" width="10.81" height="10.79" fill="#e49273"/>
<rect x="828.91" y="430.24" width="189.48" height="10.79" fill="#db7565"/>
<rect x="1018.09" y="430.24" width="10.81" height="10.79" fill="#e49273"/>
<rect x="818.40" y="440.73" width="10.81" height="10.79" fill="#e49273"/>
<rect x="828.91" y="440.73" width="189.48" height="10.79" fill="#db7565"/>
<rect x="1018.09" y="440.73" width="10.81" height="10.79" fill="#e49273"/>
<rect x="818.40" y="451.21" width="10.81" height="10.78" fill="#e49273"/>
<rect x="828.91" y="451.21" width="189.48" height="10.78" fill="#db7565"/>
<rect x="1018.09" y="451.21" width="10.81" height="10.78" fill="#e49273"/>
<rect x="818.40" y="461.69" width="10.81" height="10.79" fill="#e49273"/>
<rect x="828.91" y="461.69" width="189.48" height="10.79" fill="#db7565"/>
<rect x="1018.09" y="461.69" width="10.81" height="10.79" fill="#e49273"/>
<rect x="818.40" y="472.18" width="10.81" height="10.79" fill="#e49273"/>
<rect x="828.91" y="472.18" width="189.48" height="10.79" fill="#db7565"/>
<rect x="1018.09" y="472.18" width="10.81" height="10.79" fill="#e49273"/>
<rect x="818.40" y="482.67" width="10.81" height="10.78" fill="#dd7c68"/>
<rect x="828.91" y="482.67" width="189.48" height="10.78" fill="#cb6368"/>
<rect x="1018.09" y="482.67" width="10.81" height="10.78" fill="#dd7c68"/>
<rect x="818.40" y="493.15" width="10.81" height="10.79" fill="#96437c"/>
<rect x="828.91" y="493.15" width="189.48" height="10.79" fill="#843c80"/>
<rect x="1018.09" y="493.15" width="10.81" height="10.79" fill="#96437c"/>
<rect x="818.40" y="503.63" width="10.81" height="10.79" fill="#96437c"/>
<rect x="828.91" y="503.63" width="189.48" height="10.79" fill="#723681"/>
<rect x="1018.09" y="503.63" width="10.81" height="10.79" fill="#96437c"/>
<rect x="818.40" y="514.12" width="10.81" height="10.79" fill="#96437c"/>
<rect x="828.91" y="514.12" width="189.48" height="10.79" fill="#723681"/>
<rect x="1018.09" y="514.12" width="10.81" height="10.79" fill="#96437c"/>
<rect x="818.40" y="524.61" width="10.81" height="10.79" fill="#96437c"/>
<rect x="828.91" y="524.61" width="189.48" height="10.79" fill="#723681"/>
<rect x="1018.09" y="524.61" width="10.81" height="10.79" fill="#96437c"/>
<rect x="818.40" y="535.09" width="10.81" height="10.79" fill="#96437c"/>
<rect x="828.91" y="535.09" width="189.48" height="10.79" fill="#723681"/>
<rect x="1018.09" y="535.09" width="10.81" height="10.79" fill="#96437c"/>
<rect x="818.40" y="545.58" width="10.81" height="10.78" fill="#96437c"/>
<rect x="828.91" y="545.58" width="189.48" height="10.78" fill="#723681"/>
<rect x="1018.09" y="545.58" width="10.81" height="10.78" fill="#96437c"/>
<rect x="818.40" y="556.06" width="10.81" height="10.79" fill="#96437c"/>
<rect x="828.91" y="556.06" width="189.48" height="10.79" fill="#723681"/>
<rect x="1018.09" y="556.06" width="10.81" height="10.79" fill="#96437c"/>
<rect x="818.40" y="566.55" width="10.81" height="10.78" fill="#96437c"/>
<rect x="828.91" y="566.55" width="189.48" height="10.78" fill="#723681"/>
<rect x="1018.09" y="566.55" width="10.81" height="10.78" fill="#96437c"/>
<rect x="818.40" y="577.03" width="10.81" height="10.79" fill="#96437c"/>
<rect x="828.91" y="577.03" width="189.48" height="10.79" fill="#723681"/>
<rect x="1018.09" y="577.03" width="10.81" height="10.79" fill="#96437c"/>
<rect x="818.40" y="587.51" width="10.81" height="10.79" fill="#d76f65"/>
<rect x="828.91" y="587.51" width="189.48" height="10.79" fill="#96437c"/>
<rect x="1018.09" y="587.51" width="10.81" height="10.79" fill="#d76f65"/>
</g>
<rect x="818.40" y="388.30" width="210.20" height="209.70" fill="none" stroke="#000" stroke-width="1.80"/>
<g shape-rendering="crispEdges">
<rect x="818.40" y="679.40" width="10.81" height="10.81" fill="#eec291"/>
<rect x="828.91" y="679.40" width="189.48" height="10.81" fill="#e49273"/>
<rect x="1018.09" y="679.40" width="10.81" height="10.81" fill="#eec291"/>
<rect x="818.40" y="689.91" width="10.81" height="10.81" fill="#e49273"/>
<rect x="828.91" y="689.91" width="189.48" height="10.81" fill="#db7565"/>
<rect x="1018.09" y="689.91" width="10.81" height="10.81" fill="#e49273"/>
<rect x="818.40" y="700.43" width="10.81" height="10.81" fill="#e49273"/>
<rect x="828.91" y="700.43" width="189.48" height="10.81" fill="#db7565"/>
<rect x="1018.09" y="700.43" width="10.81" height="10.81" fill="#e49273"/>
<rect x="818.40" y="710.94" width="10.81" height="10.82" fill="#e49273"/>
<rect x="828.91" y="710.94" width="189.48" height="10.82" fill="#db7565"/>
<rect x="1018.09" y="710.94" width="10.81" height="10.82" fill="#e49273"/>
<rect x="818.40" y="721.46" width="10.81" height="10.81" fill="#e49273"/>
<rect x="828.91" y="721.46" width="189.48" height="10.81" fill="#db7565"/>
<rect x="1018.09" y="721.46" width="10.81" height="10.81" fill="#e49273"/>
<rect x="818.40" y="731.98" width="10.81" height="10.81" fill="#e49273"/>
<rect x="828.91" y="731.98" width="189.48" height="10.81" fill="#db7565"/>
<rect x="1018.09" y="731.98" width="10.81" height="10.81" fill="#e49273"/>
<rect x="818.40" y="742.49" width="10.81" height="10.81" fill="#e49273"/>
<rect x="828.91" y="742.49" width="189.48" height="10.81" fill="#db7565"/>
<rect x="1018.09" y="742.49" width="10.81" height="10.81" fill="#e49273"/>
<rect x="818.40" y="753.00" width="10.81" height="10.81" fill="#e49273"/>
<rect x="828.91" y="753.00" width="189.48" height="10.81" fill="#db7565"/>
<rect x="1018.09" y="753.00" width="10.81" height="10.81" fill="#e49273"/>
<rect x="818.40" y="763.52" width="10.81" height="10.81" fill="#e49273"/>
<rect x="828.91" y="763.52" width="189.48" height="10.81" fill="#db7565"/>
<rect x="1018.09" y="763.52" width="10.81" height="10.81" fill="#e49273"/>
<rect x="818.40" y="774.03" width="10.81" height="10.81" fill="#dd7c68"/>
<rect x="828.91" y="774.03" width="189.48" height="10.81" fill="#cb6368"/>
<rect x="1018.09" y="774.03" width="10.81" height="10.81" fill="#dd7c68"/>
<rect x="818.40" y="784.55" width="10.81" height="10.82" fill="#96437c"/>
<rect x="828.91" y="784.55" width="189.48" height="10.82" fill="#843c80"/>
<rect x="1018.09" y="784.55" width="10.81" height="10.82" fill="#96437c"/>
<rect x="818.40" y="795.07" width="10.81" height="10.81" fill="#96437c"/>
<rect x="828.91" y="795.07" width="189.48" height="10.81" fill="#723681"/>
<rect x="1018.09" y="795.07" width="10.81" height="10.81" fill="#96437c"/>
<rect x="818.40" y="805.58" width="10.81" height="10.81" fill="#96437c"/>
<rect x="828.91" y="805.58" width="189.48" height="10.81" fill="#723681"/>
<rect x="1018.09" y="805.58" width="10.81" height="10.81" fill="#96437c"/>
<rect x="818.40" y="816.10" width="10.81" height="10.81" fill="#96437c"/>
<rect x="828.91" y="816.10" width="189.48" height="10.81" fill="#723681"/>
<rect x="1018.09" y="816.10" width="10.81" height="10.81" fill="#96437c"/>
<rect x="818.40" y="826.61" width="10.81" height="10.81" fill="#96437c"/>
<rect x="828.91" y="826.61" width="189.48" height="10.81" fill="#723681"/>
<rect x="1018.09" y="826.61" width="10.81" height="10.81" fill="#96437c"/>
<rect x="818.40" y="837.12" width="10.81" height="10.82" fill="#96437c"/>
<rect x="828.91" y="837.12" width="189.48" height="10.82" fill="#723681"/>
<rect x="1018.09" y="837.12" width="10.81" height="10.82" fill="#96437c"/>
<rect x="818.40" y="847.64" width="10.81" height="10.81" fill="#96437c"/>
<rect x="828.91" y="847.64" width="189.48" height="10.81" fill="#723681"/>
<rect x="1018.09" y="847.64" width="10.81" height="10.81" fill="#96437c"/>
<rect x="818.40" y="858.16" width="10.81" height="10.81" fill="#96437c"/>
<rect x="828.91" y="858.16" width="189.48" height="10.81" fill="#723681"/>
<rect x="1018.09" y="858.16" width="10.81" height="10.81" fill="#96437c"/>
<rect x="818.40" y="868.67" width="10.81" height="10.81" fill="#96437c"/>
<rect x="828.91" y="868.67" width="189.48" height="10.81" fill="#723681"/>
<rect x="1018.09" y="868.67" width="10.81" height="10.81" fill="#96437c"/>
<rect x="818.40" y="879.19" width="10.81" height="10.81" fill="#d76f65"/>
<rect x="828.91" y="879.19" width="189.48" height="10.81" fill="#96437c"/>
<rect x="1018.09" y="879.19" width="10.81" height="10.81" fill="#d76f65"/>
</g>
<rect x="818.40" y="679.40" width="210.20" height="210.30" fill="none" stroke="#000" stroke-width="1.80"/>
<path d="M202.8 99.3v3.0M202.8 311.6v-3.0M308.4 99.3v3.0M308.4 311.6v-3.0M102.5 200.1h3.0M313.7 200.1h-3.0M102.5 306.3h3.0M313.7 306.3h-3.0" stroke="#000" stroke-width="1.2" fill="none"/>
<path d="M539.1 94.3v3.0M539.1 309.6v-3.0M646.5 94.3v3.0M646.5 309.6v-3.0M437.0 196.6h3.0M651.9 196.6h-3.0M437.0 304.2h3.0M651.9 304.2h-3.0" stroke="#000" stroke-width="1.2" fill="none"/>
<path d="M917.9 95.0v3.0M917.9 307.0v-3.0M1024.2 95.0v3.0M1024.2 307.0v-3.0M817.0 195.7h3.0M1029.5 195.7h-3.0M817.0 301.7h3.0M1029.5 301.7h-3.0" stroke="#000" stroke-width="1.2" fill="none"/>
<path d="M1250.8 96.8v3.0M1250.8 308.0v-3.0M1356.4 96.8v3.0M1356.4 308.0v-3.0M1150.5 197.1h3.0M1361.7 197.1h-3.0M1150.5 302.7h3.0M1361.7 302.7h-3.0" stroke="#000" stroke-width="1.2" fill="none"/>
<path d="M203.0 391.0v3.0M203.0 603.0v-3.0M308.7 391.0v3.0M308.7 603.0v-3.0M102.5 491.7h3.0M314.0 491.7h-3.0M102.5 597.7h3.0M314.0 597.7h-3.0" stroke="#000" stroke-width="1.2" fill="none"/>
<path d="M538.9 391.0v3.0M538.9 603.5v-3.0M645.2 391.0v3.0M645.2 603.5v-3.0M438.0 491.9h3.0M650.5 491.9h-3.0M438.0 598.2h3.0M650.5 598.2h-3.0" stroke="#000" stroke-width="1.2" fill="none"/>
<path d="M918.2 388.3v3.0M918.2 598.0v-3.0M1023.3 388.3v3.0M1023.3 598.0v-3.0M818.4 487.9h3.0M1028.6 487.9h-3.0M818.4 592.8h3.0M1028.6 592.8h-3.0" stroke="#000" stroke-width="1.2" fill="none"/>
<path d="M1250.9 388.7v3.0M1250.9 597.6v-3.0M1355.6 388.7v3.0M1355.6 597.6v-3.0M1151.4 487.9h3.0M1360.8 487.9h-3.0M1151.4 592.4h3.0M1360.8 592.4h-3.0" stroke="#000" stroke-width="1.2" fill="none"/>
<path d="M203.0 684.5v3.0M203.0 894.8v-3.0M308.6 684.5v3.0M308.6 894.8v-3.0M102.6 784.4h3.0M313.9 784.4h-3.0M102.6 889.5h3.0M313.9 889.5h-3.0" stroke="#000" stroke-width="1.2" fill="none"/>
<path d="M539.2 686.2v3.0M539.2 899.0v-3.0M645.7 686.2v3.0M645.7 899.0v-3.0M438.0 787.3h3.0M651.0 787.3h-3.0M438.0 893.7h3.0M651.0 893.7h-3.0" stroke="#000" stroke-width="1.2" fill="none"/>
<path d="M918.2 679.4v3.0M918.2 889.7v-3.0M1023.3 679.4v3.0M1023.3 889.7v-3.0M818.4 779.3h3.0M1028.6 779.3h-3.0M818.4 884.4h3.0M1028.6 884.4h-3.0" stroke="#000" stroke-width="1.2" fill="none"/>
<path d="M1251.1 679.4v3.0M1251.1 887.0v-3.0M1355.6 679.4v3.0M1355.6 887.0v-3.0M1151.9 778.0h3.0M1360.8 778.0h-3.0M1151.9 881.8h3.0M1360.8 881.8h-3.0" stroke="#000" stroke-width="1.2" fill="none"/>
<path d="M147.8 1045.3v2.5M147.8 1256.0v-2.5M200.6 1045.3v2.5M200.6 1256.0v-2.5M253.4 1045.3v2.5M253.4 1256.0v-2.5M306.2 1045.3v2.5M306.2 1256.0v-2.5M100.3 1061.1h2.5M311.5 1061.1h-2.5M100.3 1082.2h2.5M311.5 1082.2h-2.5M100.3 1103.2h2.5M311.5 1103.2h-2.5M100.3 1124.3h2.5M311.5 1124.3h-2.5M100.3 1145.4h2.5M311.5 1145.4h-2.5M100.3 1166.5h2.5M311.5 1166.5h-2.5M100.3 1187.5h2.5M311.5 1187.5h-2.5M100.3 1208.6h2.5M311.5 1208.6h-2.5M100.3 1229.7h2.5M311.5 1229.7h-2.5M100.3 1250.7h2.5M311.5 1250.7h-2.5" stroke="#222" stroke-width="1.0" fill="none"/>
<path d="M481.2 1036.8v3.0M481.2 1254.6v-3.0M535.9 1036.8v3.0M535.9 1254.6v-3.0M590.6 1036.8v3.0M590.6 1254.6v-3.0M645.3 1036.8v3.0M645.3 1254.6v-3.0M431.9 1053.1h3.0M650.8 1053.1h-3.0M431.9 1074.9h3.0M650.8 1074.9h-3.0M431.9 1096.7h3.0M650.8 1096.7h-3.0M431.9 1118.5h3.0M650.8 1118.5h-3.0M431.9 1140.3h3.0M650.8 1140.3h-3.0M431.9 1162.0h3.0M650.8 1162.0h-3.0M431.9 1183.8h3.0M650.8 1183.8h-3.0M431.9 1205.6h3.0M650.8 1205.6h-3.0M431.9 1227.4h3.0M650.8 1227.4h-3.0M431.9 1249.2h3.0M650.8 1249.2h-3.0" stroke="#000" stroke-width="1.2" fill="none"/>
<path d="M965.4 1030.3v2.5M965.4 1240.5v-2.5M1018.2 1030.3v2.5M1018.2 1240.5v-2.5M1023.5 1046.1h-2.5M1023.5 1067.1h-2.5M1023.5 1088.1h-2.5M1023.5 1109.1h-2.5M1023.5 1130.1h-2.5M1023.5 1151.2h-2.5M1023.5 1172.2h-2.5M1023.5 1193.2h-2.5M1023.5 1214.2h-2.5M1023.5 1235.2h-2.5" stroke="#000" stroke-width="1.0" fill="none"/>
<linearGradient id="cb1" x1="0" y1="1" x2="0" y2="0">
<stop offset="0.000" stop-color="#080510"/>
<stop offset="0.100" stop-color="#1e1932"/>
<stop offset="0.200" stop-color="#3a3062"/>
<stop offset="0.300" stop-color="#58327d"/>
<stop offset="0.400" stop-color="#763782"/>
<stop offset="0.500" stop-color="#98447c"/>
<stop offset="0.600" stop-color="#b94f6c"/>
<stop offset="0.700" stop-color="#da7364"/>
<stop offset="0.800" stop-color="#e8a07a"/>
<stop offset="0.900" stop-color="#f0d09b"/>
<stop offset="1.000" stop-color="#f3f3bb"/>
</linearGradient>
<rect x="330.10" y="725.30" width="16.00" height="162.60" fill="url(#cb1)" stroke="#000" stroke-width="1.00"/>
<text transform="translate(355.25 734.60) scale(1.0537 1.0000)" font-family="&quot;Liberation Sans&quot;,Arial,Helvetica,sans-serif" font-size="25.50" fill="#1a1a1a">0.5</text>
<text transform="translate(355.26 898.00) scale(1.0367 1.0000)" font-family="&quot;Liberation Sans&quot;,Arial,Helvetica,sans-serif" font-size="25.50" fill="#1a1a1a">0</text>
<linearGradient id="cb2" x1="0" y1="1" x2="0" y2="0">
<stop offset="0.000" stop-color="#3b55a5"/>
<stop offset="0.250" stop-color="#96a0d0"/>
<stop offset="0.500" stop-color="#ffffff"/>
<stop offset="0.625" stop-color="#f7dad8"/>
<stop offset="0.750" stop-color="#e89694"/>
<stop offset="1.000" stop-color="#d0312d"/>
</linearGradient>
<rect x="684.60" y="728.80" width="20.10" height="167.20" fill="url(#cb2)" stroke="#555" stroke-width="1.00"/>
<path d="M704.7 812.4h-2.5" stroke="#222" stroke-width="1"/>
<text transform="translate(717.45 736.30) scale(1.2712 1.0000)" font-family="&quot;Liberation Sans&quot;,Arial,Helvetica,sans-serif" font-size="17.80" fill="#1a1a1a">50</text>
<text transform="translate(717.42 820.70) scale(1.3127 1.0000)" font-family="&quot;Liberation Sans&quot;,Arial,Helvetica,sans-serif" font-size="17.80" fill="#1a1a1a">0(%)</text>
<text transform="translate(717.44 903.20) scale(1.2866 1.0000)" font-family="&quot;Liberation Sans&quot;,Arial,Helvetica,sans-serif" font-size="17.80" fill="#1a1a1a">-50</text>
<linearGradient id="cb3" x1="0" y1="1" x2="0" y2="0">
<stop offset="0.000" stop-color="#080510"/>
<stop offset="0.100" stop-color="#1e1932"/>
<stop offset="0.200" stop-color="#3a3062"/>
<stop offset="0.300" stop-color="#58327d"/>
<stop offset="0.400" stop-color="#763782"/>
<stop offset="0.500" stop-color="#98447c"/>
<stop offset="0.600" stop-color="#b94f6c"/>
<stop offset="0.700" stop-color="#da7364"/>
<stop offset="0.800" stop-color="#e8a07a"/>
<stop offset="0.900" stop-color="#f0d09b"/>
<stop offset="1.000" stop-color="#f3f3bb"/>
</linearGradient>
<rect x="1060.20" y="726.10" width="15.50" height="159.70" fill="url(#cb3)" stroke="#000" stroke-width="1.00"/>
<text transform="translate(1084.38 733.80) scale(0.7459 1.0000)" font-family="&quot;Liberation Sans&quot;,Arial,Helvetica,sans-serif" font-size="21.00" fill="#1a1a1a">1</text>
<text transform="translate(1083.38 813.20) scale(1.0982 1.0000)" font-family="&quot;Liberation Sans&quot;,Arial,Helvetica,sans-serif" font-size="21.00" fill="#1a1a1a">0.5</text>
<text transform="translate(1083.42 894.00) scale(1.0341 1.0000)" font-family="&quot;Liberation Sans&quot;,Arial,Helvetica,sans-serif" font-size="21.00" fill="#1a1a1a">0</text>
<linearGradient id="cb4" x1="0" y1="1" x2="0" y2="0">
<stop offset="0.000" stop-color="#3b55a5"/>
<stop offset="0.250" stop-color="#96a0d0"/>
<stop offset="0.500" stop-color="#ffffff"/>
<stop offset="0.625" stop-color="#f7dad8"/>
<stop offset="0.750" stop-color="#e89694"/>
<stop offset="1.000" stop-color="#d0312d"/>
</linearGradient>
<rect x="1379.40" y="736.80" width="14.40" height="151.40" fill="url(#cb4)" stroke="none" stroke-width="1.00"/>
<path d="M1379.4 736.8H1393.8V888.2H1379.4" fill="none" stroke="#222" stroke-width="1"/>
<path d="M1393.8 812.5h-2.5" stroke="#222" stroke-width="1"/>
<text transform="translate(1398.69 741.70) scale(1.0754 1.0000)" font-family="&quot;Liberation Sans&quot;,Arial,Helvetica,sans-serif" font-size="17.20" fill="#1a1a1a">0.005</text>
<text transform="translate(1400.25 817.30) scale(1.1394 1.0000)" font-family="&quot;Liberation Sans&quot;,Arial,Helvetica,sans-serif" font-size="17.20" fill="#1a1a1a">0</text>
<text transform="translate(1398.69 892.80) scale(1.0842 1.0000)" font-family="&quot;Liberation Sans&quot;,Arial,Helvetica,sans-serif" font-size="17.20" fill="#1a1a1a">-0.005</text>
<linearGradient id="cb5" x1="0" y1="1" x2="0" y2="0">
<stop offset="0.000" stop-color="#080510"/>
<stop offset="0.100" stop-color="#1e1932"/>
<stop offset="0.200" stop-color="#3a3062"/>
<stop offset="0.300" stop-color="#58327d"/>
<stop offset="0.400" stop-color="#763782"/>
<stop offset="0.500" stop-color="#98447c"/>
<stop offset="0.600" stop-color="#b94f6c"/>
<stop offset="0.700" stop-color="#da7364"/>
<stop offset="0.800" stop-color="#e8a07a"/>
<stop offset="0.900" stop-color="#f0d09b"/>
<stop offset="1.000" stop-color="#f3f3bb"/>
</linearGradient>
<rect x="329.80" y="1088.10" width="16.30" height="162.60" fill="url(#cb5)" stroke="#000" stroke-width="1.00"/>
<text transform="translate(355.25 1097.60) scale(1.0537 1.0000)" font-family="&quot;Liberation Sans&quot;,Arial,Helvetica,sans-serif" font-size="25.50" fill="#1a1a1a">0.5</text>
<text transform="translate(355.26 1260.70) scale(1.0367 1.0000)" font-family="&quot;Liberation Sans&quot;,Arial,Helvetica,sans-serif" font-size="25.50" fill="#1a1a1a">0</text>
<linearGradient id="cb6" x1="0" y1="1" x2="0" y2="0">
<stop offset="0.000" stop-color="#080510"/>
<stop offset="0.100" stop-color="#1e1932"/>
<stop offset="0.200" stop-color="#3a3062"/>
<stop offset="0.300" stop-color="#58327d"/>
<stop offset="0.400" stop-color="#763782"/>
<stop offset="0.500" stop-color="#98447c"/>
<stop offset="0.600" stop-color="#b94f6c"/>
<stop offset="0.700" stop-color="#da7364"/>
<stop offset="0.800" stop-color="#e8a07a"/>
<stop offset="0.900" stop-color="#f0d09b"/>
<stop offset="1.000" stop-color="#f3f3bb"/>
</linearGradient>
<rect x="668.80" y="1035.20" width="17.90" height="216.80" fill="url(#cb6)" stroke="#444" stroke-width="1.00"/>
<text transform="translate(691.16 1040.00) scale(1.0754 1.0000)" font-family="&quot;Liberation Sans&quot;,Arial,Helvetica,sans-serif" font-size="11.80" fill="#1a1a1a">0.5</text>
<text transform="translate(691.17 1084.10) scale(1.0581 1.0000)" font-family="&quot;Liberation Sans&quot;,Arial,Helvetica,sans-serif" font-size="11.80" fill="#1a1a1a">0.4</text>
<path d="M686.7 1079.9h-2.5" stroke="#222" stroke-width="1"/>
<text transform="translate(691.16 1126.90) scale(1.0754 1.0000)" font-family="&quot;Liberation Sans&quot;,Arial,Helvetica,sans-serif" font-size="11.80" fill="#1a1a1a">0.3</text>
<path d="M686.7 1122.7h-2.5" stroke="#222" stroke-width="1"/>
<text transform="translate(691.16 1170.50) scale(1.0754 1.0000)" font-family="&quot;Liberation Sans&quot;,Arial,Helvetica,sans-serif" font-size="11.80" fill="#1a1a1a">0.2</text>
<path d="M686.7 1166.3h-2.5" stroke="#222" stroke-width="1"/>
<text transform="translate(691.16 1213.90) scale(1.0754 1.0000)" font-family="&quot;Liberation Sans&quot;,Arial,Helvetica,sans-serif" font-size="11.80" fill="#1a1a1a">0.1</text>
<path d="M686.7 1209.7h-2.5" stroke="#222" stroke-width="1"/>
<text transform="translate(691.15 1257.10) scale(1.1091 1.0000)" font-family="&quot;Liberation Sans&quot;,Arial,Helvetica,sans-serif" font-size="11.80" fill="#1a1a1a">0</text>
<linearGradient id="cb7" x1="0" y1="1" x2="0" y2="0">
<stop offset="0.000" stop-color="#080510"/>
<stop offset="0.100" stop-color="#1e1932"/>
<stop offset="0.200" stop-color="#3a3062"/>
<stop offset="0.300" stop-color="#58327d"/>
<stop offset="0.400" stop-color="#763782"/>
<stop offset="0.500" stop-color="#98447c"/>
<stop offset="0.600" stop-color="#b94f6c"/>
<stop offset="0.700" stop-color="#da7364"/>
<stop offset="0.800" stop-color="#e8a07a"/>
<stop offset="0.900" stop-color="#f0d09b"/>
<stop offset="1.000" stop-color="#f3f3bb"/>
</linearGradient>
<rect x="1032.50" y="1030.00" width="17.70" height="211.40" fill="url(#cb7)" stroke="#555" stroke-width="1.00"/>
<text transform="translate(1054.72 1034.65) scale(1.0836 1.0000)" font-family="&quot;Liberation Sans&quot;,Arial,Helvetica,sans-serif" font-size="13.00" fill="#1a1a1a">1000</text>
<text transform="translate(1055.26 1077.25) scale(1.0771 1.0000)" font-family="&quot;Liberation Sans&quot;,Arial,Helvetica,sans-serif" font-size="13.00" fill="#1a1a1a">800</text>
<path d="M1050.2 1072.6h-2.5" stroke="#222" stroke-width="1"/>
<text transform="translate(1054.98 1119.65) scale(1.0902 1.0000)" font-family="&quot;Liberation Sans&quot;,Arial,Helvetica,sans-serif" font-size="13.00" fill="#1a1a1a">600</text>
<path d="M1050.2 1115.0h-2.5" stroke="#222" stroke-width="1"/>
<text transform="translate(1055.53 1161.85) scale(1.0643 1.0000)" font-family="&quot;Liberation Sans&quot;,Arial,Helvetica,sans-serif" font-size="13.00" fill="#1a1a1a">400</text>
<path d="M1050.2 1157.2h-2.5" stroke="#222" stroke-width="1"/>
<text transform="translate(1054.98 1203.85) scale(1.0902 1.0000)" font-family="&quot;Liberation Sans&quot;,Arial,Helvetica,sans-serif" font-size="13.00" fill="#1a1a1a">200</text>
<path d="M1050.2 1199.2h-2.5" stroke="#222" stroke-width="1"/>
<text transform="translate(1055.20 1246.05) scale(1.1920 1.0000)" font-family="&quot;Liberation Sans&quot;,Arial,Helvetica,sans-serif" font-size="13.00" fill="#1a1a1a">0</text>
<rect x="1153.2" y="910.4" width="211.4" height="91.9" fill="#fff" stroke="#000" stroke-width="1.6"/>
<path d="M1164 930.6H1204.2" stroke="#d93030" stroke-width="1.3"/>
<path d="M1164 948.5H1204.2" stroke="#3c5cb8" stroke-width="1.3"/>
<path d="M1164 965.9H1204.2" stroke="#f0e030" stroke-width="1.3"/>
<path d="M1164 983.6H1204.2" stroke="#7dc142" stroke-width="1.3"/>
<text transform="translate(1210.08 936.10) scale(1.0780 1.0000)" font-family="&quot;Liberation Sans&quot;,Arial,Helvetica,sans-serif" font-size="17.50" fill="#000">Ideal</text>
<text transform="translate(1210.88 953.50) scale(1.0875 1.0000)" font-family="&quot;Liberation Sans&quot;,Arial,Helvetica,sans-serif" font-size="17.50" fill="#000">GI</text>
<text transform="translate(1210.93 971.20) scale(1.0243 1.0000)" font-family="&quot;Liberation Sans&quot;,Arial,Helvetica,sans-serif" font-size="17.50" fill="#000">GCV</text>
<text transform="translate(1210.12 988.90) scale(1.0513 1.0000)" font-family="&quot;Liberation Sans&quot;,Arial,Helvetica,sans-serif" font-size="17.50" fill="#000">Bayesian sensing</text>
<clipPath id="pc"><rect x="1148.8" y="1028.1" width="215.5" height="209.3"/></clipPath>
<g clip-path="url(#pc)">
<path d="M1150.1 1101.0 L1150.6 1145.2 L1151.1 1092.8 L1151.7 1159.8 L1152.2 1125.1 L1152.7 1167.6 L1153.3 1063.9 L1153.8 1141.3 L1154.3 1167.6 L1154.9 1142.6 L1155.4 1107.9 L1155.9 1145.5 L1156.5 1107.0 L1157.0 1141.4 L1157.5 1115.6 L1158.1 1141.4 L1158.6 1089.6 L1159.1 1163.1 L1159.7 1099.2 L1160.2 1146.9 L1160.7 1075.3 L1161.3 1226.6 L1161.8 1093.3 L1162.3 1155.3 L1162.9 1116.3 L1163.4 1154.7 L1163.9 1134.5 L1164.5 1131.8 L1165.0 1128.1 L1165.5 1175.0 L1166.1 1172.6 L1166.6 1177.4 L1167.1 1116.0 L1167.7 1153.1 L1168.2 1123.4 L1168.7 1165.1 L1169.3 1114.4 L1169.8 1155.5 L1170.3 1123.8 L1170.9 1140.9 L1171.4 1123.9 L1172.0 1151.6 L1172.5 1120.4 L1173.0 1156.3 L1173.6 1122.3 L1174.1 1145.8 L1174.6 1108.5 L1175.2 1166.7 L1175.7 1105.9 L1176.2 1149.5 L1176.8 1108.1 L1177.3 1147.7 L1177.8 1101.1 L1178.4 1146.4 L1178.9 1184.6 L1179.4 1147.8 L1180.0 1115.8 L1180.5 1166.7 L1181.0 1116.1 L1181.6 1160.1 L1182.1 1123.4 L1182.6 1138.7 L1183.2 1110.4 L1183.7 1142.5 L1184.2 1120.7 L1184.8 1138.5 L1185.3 1115.6 L1185.8 1158.1 L1186.4 1115.1 L1186.9 1148.8 L1187.4 1119.8 L1188.0 1087.6 L1188.5 1098.3 L1189.0 1143.8 L1189.6 1117.4 L1190.1 1172.8 L1190.6 1108.0 L1191.2 1144.3 L1191.7 1121.4 L1192.2 1155.1 L1192.8 1113.5 L1193.3 1172.1 L1193.8 1124.6 L1194.4 1159.8 L1194.9 1117.3 L1195.4 1155.8 L1196.0 1125.3 L1196.5 1132.6 L1197.0 1101.0 L1197.6 1174.8 L1198.1 1120.6 L1198.6 1147.6 L1199.2 1122.7 L1199.7 1163.0 L1200.2 1087.8 L1200.8 1181.5 L1201.3 1118.7 L1201.8 1150.0 L1202.4 1110.8 L1202.9 1138.9 L1203.4 1113.1 L1204.0 1170.6 L1204.5 1117.9 L1205.0 1138.2 L1205.6 1107.2 L1206.1 1147.9 L1206.6 1110.9 L1207.2 1146.5 L1207.7 1114.9 L1208.2 1149.9 L1208.8 1077.6 L1209.3 1153.5 L1209.8 1093.1 L1210.4 1144.6 L1210.9 1110.4 L1211.4 1152.1 L1212.0 1128.3 L1212.5 1166.6 L1213.0 1117.2 L1213.6 1153.3 L1214.1 1096.4 L1214.7 1161.9 L1215.2 1117.8 L1215.7 1165.8 L1216.3 1102.6 L1216.8 1142.0 L1217.3 1102.2 L1217.9 1151.0 L1218.4 1115.4 L1218.9 1148.1 L1219.5 1113.5 L1220.0 1139.3 L1220.5 1105.6 L1221.1 1159.1 L1221.6 1117.0 L1222.1 1183.8 L1222.7 1094.3 L1223.2 1144.4 L1223.7 1118.3 L1224.3 1148.5 L1224.8 1124.6 L1225.3 1136.2 L1225.9 1130.9 L1226.4 1142.9 L1226.9 1079.6 L1227.5 1155.3 L1228.0 1107.1 L1228.5 1144.1 L1229.1 1130.5 L1229.6 1145.2 L1230.1 1176.6 L1230.7 1156.7 L1231.2 1110.1 L1231.7 1168.3 L1232.3 1111.3 L1232.8 1159.7 L1233.3 1129.1 L1233.9 1149.6 L1234.4 1096.1 L1234.9 1187.2 L1235.5 1108.1 L1236.0 1138.0 L1236.5 1120.0 L1237.1 1167.6 L1237.6 1116.8 L1238.1 1144.6 L1238.7 1108.3 L1239.2 1187.8 L1239.7 1098.1 L1240.3 1142.0 L1240.8 1096.6 L1241.3 1140.8 L1241.9 1115.2 L1242.4 1163.0 L1242.9 1123.0 L1243.5 1141.6 L1244.0 1107.2 L1244.5 1170.3 L1245.1 1113.8 L1245.6 1151.5 L1246.1 1112.5 L1246.7 1146.4 L1247.2 1121.5 L1247.7 1166.4 L1248.3 1162.4 L1248.8 1172.1 L1249.3 1161.9 L1249.9 1169.1 L1250.4 1155.3 L1250.9 1169.5 L1251.5 1155.3 L1252.0 1176.2 L1252.5 1165.0 L1253.1 1163.4 L1253.6 1155.6 L1254.1 1163.4 L1254.7 1161.9 L1255.2 1159.8 L1255.7 1114.9 L1256.3 1143.6 L1256.8 1109.0 L1257.4 1164.6 L1257.9 1113.2 L1258.4 1136.6 L1259.0 1119.7 L1259.5 1094.6 L1260.0 1122.3 L1260.6 1155.9 L1261.1 1117.7 L1261.6 1140.2 L1262.2 1120.0 L1262.7 1140.7 L1263.2 1124.8 L1263.8 1149.7 L1264.3 1095.1 L1264.8 1136.6 L1265.4 1114.7 L1265.9 1150.1 L1266.4 1110.6 L1267.0 1134.7 L1267.5 1113.2 L1268.0 1166.8 L1268.6 1123.6 L1269.1 1140.3 L1269.6 1121.9 L1270.2 1151.2 L1270.7 1123.6 L1271.2 1134.5 L1271.8 1116.7 L1272.3 1148.7 L1272.8 1110.0 L1273.4 1144.9 L1273.9 1116.8 L1274.4 1158.0 L1275.0 1107.7 L1275.5 1150.3 L1276.0 1101.3 L1276.6 1146.2 L1277.1 1118.1 L1277.6 1137.7 L1278.2 1103.2 L1278.7 1187.6 L1279.2 1106.9 L1279.8 1151.5 L1280.3 1121.9 L1280.8 1148.5 L1281.4 1121.7 L1281.9 1139.6 L1282.4 1110.5 L1283.0 1140.0 L1283.5 1123.0 L1284.0 1151.6 L1284.6 1190.6 L1285.1 1135.7 L1285.6 1115.5 L1286.2 1154.4 L1286.7 1085.6 L1287.2 1162.1 L1287.8 1119.2 L1288.3 1150.0 L1288.8 1124.7 L1289.4 1147.4 L1289.9 1122.1 L1290.4 1160.6 L1291.0 1128.2 L1291.5 1146.8 L1292.0 1123.3 L1292.6 1175.2 L1293.1 1086.1 L1293.6 1145.8 L1294.2 1115.6 L1294.7 1148.9 L1295.2 1123.8 L1295.8 1151.7 L1296.3 1120.8 L1296.8 1194.6 L1297.4 1132.8 L1297.9 1150.6 L1298.4 1124.0 L1299.0 1134.0 L1299.5 1122.7 L1300.1 1135.2 L1300.6 1124.1 L1301.1 1147.1 L1301.7 1128.0 L1302.2 1161.0 L1302.7 1115.0 L1303.3 1142.1 L1303.8 1109.0 L1304.3 1146.0 L1304.9 1098.7 L1305.4 1147.9 L1305.9 1110.5 L1306.5 1147.3 L1307.0 1089.4 L1307.5 1146.1 L1308.1 1119.9 L1308.6 1150.0 L1309.1 1126.2 L1309.7 1151.8 L1310.2 1110.7 L1310.7 1153.1 L1311.3 1117.1 L1311.8 1145.9 L1312.3 1135.5 L1312.9 1148.0 L1313.4 1101.1 L1313.9 1143.9 L1314.5 1119.5 L1315.0 1146.4 L1315.5 1105.3 L1316.1 1149.5 L1316.6 1117.2 L1317.1 1139.2 L1317.7 1112.4 L1318.2 1171.2 L1318.7 1111.0 L1319.3 1142.1 L1319.8 1121.2 L1320.3 1140.2 L1320.9 1099.9 L1321.4 1159.0 L1321.9 1117.6 L1322.5 1153.4 L1323.0 1121.0 L1323.5 1141.1 L1324.1 1122.8 L1324.6 1146.5 L1325.1 1125.3 L1325.7 1148.0 L1326.2 1130.8 L1326.7 1174.7 L1327.3 1092.6 L1327.8 1164.4 L1328.3 1101.2 L1328.9 1144.9 L1329.4 1119.8 L1329.9 1147.3 L1330.5 1096.2 L1331.0 1182.1 L1331.5 1125.8 L1332.1 1160.1 L1332.6 1123.5 L1333.1 1148.1 L1333.7 1122.4 L1334.2 1085.6 L1334.7 1118.2 L1335.3 1139.4 L1335.8 1113.0 L1336.3 1139.3 L1336.9 1118.1 L1337.4 1155.1 L1337.9 1122.3 L1338.5 1154.0 L1339.0 1104.4 L1339.5 1147.1 L1340.1 1114.4 L1340.6 1159.3 L1341.1 1107.1 L1341.7 1150.4 L1342.2 1112.4 L1342.8 1147.7 L1343.3 1118.8 L1343.8 1146.6 L1344.4 1124.1 L1344.9 1154.6 L1345.4 1118.3 L1346.0 1136.8 L1346.5 1117.2 L1347.0 1142.0 L1347.6 1080.5 L1348.1 1145.6 L1348.6 1113.3 L1349.2 1157.4 L1349.7 1108.2 L1350.2 1150.3 L1350.8 1111.5 L1351.3 1127.9 L1351.8 1118.6 L1352.4 1147.3 L1352.9 1109.1 L1353.4 1153.1 L1354.0 1118.9 L1354.5 1140.0 L1355.0 1076.6 L1355.6 1138.0 L1356.1 1116.9 L1356.6 1158.2 L1357.2 1117.0 L1357.7 1181.5 L1358.2 1118.3 L1358.8 1147.0 L1359.3 1108.0 L1359.8 1152.1 L1360.4 1118.1 L1360.9 1133.3 L1361.4 1172.6 L1362.0 1141.6 L1362.5 1178.6 L1363.0 1148.8" fill="none" stroke="#d7302e" stroke-width="1.45" stroke-linejoin="round"/>
<path d="M1150.1 1119.9 L1150.6 1139.4 L1151.1 1109.4 L1151.7 1137.4 L1152.2 1120.6 L1152.7 1143.2 L1153.3 1127.7 L1153.8 1145.0 L1154.3 1119.8 L1154.9 1147.5 L1155.4 1128.2 L1155.9 1138.9 L1156.5 1126.3 L1157.0 1141.1 L1157.5 1126.3 L1158.1 1134.2 L1158.6 1123.8 L1159.1 1141.3 L1159.7 1120.7 L1160.2 1144.1 L1160.7 1127.5 L1161.3 1139.0 L1161.8 1120.4 L1162.3 1140.9 L1162.9 1117.7 L1163.4 1138.9 L1163.9 1124.5 L1164.5 1148.4 L1165.0 1123.4 L1165.5 1144.8 L1166.1 1125.9 L1166.6 1143.4 L1167.1 1127.8 L1167.7 1146.4 L1168.2 1126.7 L1168.7 1143.3 L1169.3 1118.4 L1169.8 1149.7 L1170.3 1122.0 L1170.9 1143.3 L1171.4 1124.7 L1172.0 1138.7 L1172.5 1129.2 L1173.0 1147.5 L1173.6 1126.5 L1174.1 1141.1 L1174.6 1133.2 L1175.2 1145.8 L1175.7 1127.2 L1176.2 1144.6 L1176.8 1119.5 L1177.3 1139.1 L1177.8 1125.1 L1178.4 1140.1 L1178.9 1125.6 L1179.4 1143.9 L1180.0 1122.3 L1180.5 1152.8 L1181.0 1126.8 L1181.6 1143.5 L1182.1 1110.0 L1182.6 1148.1 L1183.2 1118.6 L1183.7 1136.9 L1184.2 1127.4 L1184.8 1143.8 L1185.3 1122.2 L1185.8 1136.5 L1186.4 1123.1 L1186.9 1136.8 L1187.4 1120.3 L1188.0 1156.8 L1188.5 1130.7 L1189.0 1147.8 L1189.6 1124.1 L1190.1 1141.0 L1190.6 1115.4 L1191.2 1141.8 L1191.7 1126.0 L1192.2 1158.9 L1192.8 1127.8 L1193.3 1143.4 L1193.8 1125.4 L1194.4 1149.6 L1194.9 1097.7 L1195.4 1148.1 L1196.0 1127.4 L1196.5 1157.6 L1197.0 1116.6 L1197.6 1142.8 L1198.1 1117.6 L1198.6 1144.8 L1199.2 1122.1 L1199.7 1157.2 L1200.2 1106.7 L1200.8 1157.0 L1201.3 1127.9 L1201.8 1144.5 L1202.4 1103.6 L1202.9 1150.6 L1203.4 1118.8 L1204.0 1154.8 L1204.5 1116.5 L1205.0 1144.9 L1205.6 1117.3 L1206.1 1149.6 L1206.6 1117.5 L1207.2 1146.1 L1207.7 1117.6 L1208.2 1142.2 L1208.8 1126.2 L1209.3 1144.4 L1209.8 1113.9 L1210.4 1143.5 L1210.9 1122.4 L1211.4 1142.9 L1212.0 1118.5 L1212.5 1145.3 L1213.0 1125.0 L1213.6 1137.1 L1214.1 1113.1 L1214.7 1146.5 L1215.2 1126.1 L1215.7 1144.8 L1216.3 1120.6 L1216.8 1140.7 L1217.3 1125.3 L1217.9 1140.7 L1218.4 1125.0 L1218.9 1150.7 L1219.5 1120.4 L1220.0 1150.3 L1220.5 1117.8 L1221.1 1144.1 L1221.6 1122.3 L1222.1 1142.0 L1222.7 1126.7 L1223.2 1152.7 L1223.7 1123.3 L1224.3 1141.9 L1224.8 1122.6 L1225.3 1142.2 L1225.9 1117.9 L1226.4 1149.5 L1226.9 1122.5 L1227.5 1138.1 L1228.0 1124.9 L1228.5 1140.2 L1229.1 1125.5 L1229.6 1143.5 L1230.1 1127.4 L1230.7 1143.0 L1231.2 1126.4 L1231.7 1141.3 L1232.3 1124.0 L1232.8 1141.0 L1233.3 1124.5 L1233.9 1140.5 L1234.4 1121.4 L1234.9 1140.7 L1235.5 1119.4 L1236.0 1139.5 L1236.5 1129.2 L1237.1 1140.4 L1237.6 1124.5 L1238.1 1142.1 L1238.7 1127.5 L1239.2 1142.4 L1239.7 1122.5 L1240.3 1146.3 L1240.8 1125.0 L1241.3 1141.7 L1241.9 1115.5 L1242.4 1139.8 L1242.9 1128.3 L1243.5 1133.3 L1244.0 1127.0 L1244.5 1149.4 L1245.1 1120.1 L1245.6 1138.7 L1246.1 1127.2 L1246.7 1145.4 L1247.2 1123.8 L1247.7 1135.1 L1248.3 1125.2 L1248.8 1139.7 L1249.3 1119.5 L1249.9 1136.5 L1250.4 1128.6 L1250.9 1145.2 L1251.5 1124.5 L1252.0 1153.7 L1252.5 1124.4 L1253.1 1142.6 L1253.6 1127.6 L1254.1 1145.4 L1254.7 1120.8 L1255.2 1138.8 L1255.7 1124.4 L1256.3 1147.2 L1256.8 1123.3 L1257.4 1142.3 L1257.9 1119.8 L1258.4 1152.2 L1259.0 1123.2 L1259.5 1141.5 L1260.0 1124.0 L1260.6 1145.7 L1261.1 1121.1 L1261.6 1091.6 L1262.2 1112.1 L1262.7 1138.8 L1263.2 1109.3 L1263.8 1148.0 L1264.3 1131.3 L1264.8 1136.5 L1265.4 1112.4 L1265.9 1141.5 L1266.4 1121.3 L1267.0 1151.8 L1267.5 1118.4 L1268.0 1133.9 L1268.6 1115.5 L1269.1 1147.9 L1269.6 1117.4 L1270.2 1152.4 L1270.7 1108.5 L1271.2 1152.1 L1271.8 1107.3 L1272.3 1147.2 L1272.8 1115.3 L1273.4 1086.6 L1273.9 1117.5 L1274.4 1141.0 L1275.0 1112.8 L1275.5 1149.1 L1276.0 1115.0 L1276.6 1150.7 L1277.1 1127.1 L1277.6 1159.4 L1278.2 1114.5 L1278.7 1182.6 L1279.2 1118.7 L1279.8 1144.8 L1280.3 1108.7 L1280.8 1153.8 L1281.4 1129.4 L1281.9 1137.9 L1282.4 1113.1 L1283.0 1150.3 L1283.5 1118.5 L1284.0 1137.8 L1284.6 1188.6 L1285.1 1160.7 L1285.6 1116.3 L1286.2 1144.3 L1286.7 1105.1 L1287.2 1142.6 L1287.8 1124.8 L1288.3 1154.9 L1288.8 1120.2 L1289.4 1154.1 L1289.9 1170.6 L1290.4 1150.1 L1291.0 1111.1 L1291.5 1143.6 L1292.0 1111.8 L1292.6 1150.6 L1293.1 1115.6 L1293.6 1158.8 L1294.2 1111.0 L1294.7 1162.0 L1295.2 1116.2 L1295.8 1141.8 L1296.3 1107.2 L1296.8 1161.7 L1297.4 1119.2 L1297.9 1162.8 L1298.4 1099.1 L1299.0 1166.7 L1299.5 1104.0 L1300.1 1147.3 L1300.6 1119.3 L1301.1 1146.1 L1301.7 1114.2 L1302.2 1141.1 L1302.7 1116.5 L1303.3 1149.1 L1303.8 1102.9 L1304.3 1148.3 L1304.9 1085.6 L1305.4 1152.8 L1305.9 1093.3 L1306.5 1154.2 L1307.0 1118.5 L1307.5 1141.3 L1308.1 1116.8 L1308.6 1149.3 L1309.1 1114.3 L1309.7 1082.6 L1310.2 1113.1 L1310.7 1149.3 L1311.3 1119.9 L1311.8 1145.3 L1312.3 1119.7 L1312.9 1150.3 L1313.4 1115.6 L1313.9 1145.7 L1314.5 1106.2 L1315.0 1157.1 L1315.5 1123.9 L1316.1 1182.6 L1316.6 1105.6 L1317.1 1142.6 L1317.7 1103.1 L1318.2 1146.0 L1318.7 1112.5 L1319.3 1158.3 L1319.8 1165.6 L1320.3 1144.2 L1320.9 1114.1 L1321.4 1157.1 L1321.9 1116.2 L1322.5 1145.7 L1323.0 1117.0 L1323.5 1154.9 L1324.1 1131.1 L1324.6 1147.3 L1325.1 1112.1 L1325.7 1147.2 L1326.2 1114.3 L1326.7 1153.3 L1327.3 1110.6 L1327.8 1148.3 L1328.3 1117.1 L1328.9 1153.5 L1329.4 1091.3 L1329.9 1146.6 L1330.5 1122.7 L1331.0 1153.7 L1331.5 1121.9 L1332.1 1153.6 L1332.6 1120.4 L1333.1 1164.3 L1333.7 1123.1 L1334.2 1154.9 L1334.7 1114.5 L1335.3 1150.0 L1335.8 1108.5 L1336.3 1152.0 L1336.9 1094.6 L1337.4 1147.1 L1337.9 1110.6 L1338.5 1141.1 L1339.0 1118.4 L1339.5 1145.1 L1340.1 1123.3 L1340.6 1148.0 L1341.1 1097.1 L1341.7 1156.9 L1342.2 1110.1 L1342.8 1137.6 L1343.3 1107.6 L1343.8 1164.7 L1344.4 1122.9 L1344.9 1150.6 L1345.4 1101.3 L1346.0 1152.3 L1346.5 1110.0 L1347.0 1145.4 L1347.6 1101.8 L1348.1 1168.6 L1348.6 1123.4 L1349.2 1166.9 L1349.7 1112.2 L1350.2 1144.7 L1350.8 1109.8 L1351.3 1137.0 L1351.8 1095.6 L1352.4 1139.2 L1352.9 1114.9 L1353.4 1156.7 L1354.0 1117.9 L1354.5 1145.6 L1355.0 1120.5 L1355.6 1143.2 L1356.1 1116.8 L1356.6 1155.2 L1357.2 1112.2 L1357.7 1147.9 L1358.2 1121.2 L1358.8 1154.7 L1359.3 1111.0 L1359.8 1163.8 L1360.4 1117.7 L1360.9 1152.5 L1361.4 1118.8 L1362.0 1156.4 L1362.5 1120.2 L1363.0 1143.7" fill="none" stroke="#8cc24a" stroke-width="1.45" stroke-linejoin="round"/>
</g>
<path d="M1148.8 1132.6H1364.3" stroke="#3a55a8" stroke-width="1.9"/>
<rect x="1148.8" y="1028.1" width="215.5" height="209.3" fill="none" stroke="#222" stroke-width="1.8"/>
<path d="M1202.6 1237.4v-3M1202.6 1028.1v3" stroke="#222" stroke-width="1"/>
<path d="M1256.4 1237.4v-3M1256.4 1028.1v3" stroke="#222" stroke-width="1"/>
<path d="M1310.2 1237.4v-3M1310.2 1028.1v3" stroke="#222" stroke-width="1"/>
<text transform="translate(1136.87 1259.80) scale(1.0625 1.0000)" font-family="&quot;Liberation Sans&quot;,Arial,Helvetica,sans-serif" font-size="16.60" fill="#000">0</text>
<text transform="translate(1185.60 1259.80) scale(1.0392 1.0000)" font-family="&quot;Liberation Sans&quot;,Arial,Helvetica,sans-serif" font-size="16.60" fill="#000">100</text>
<text transform="translate(1241.60 1259.80) scale(1.0692 1.0000)" font-family="&quot;Liberation Sans&quot;,Arial,Helvetica,sans-serif" font-size="16.60" fill="#000">200</text>
<text transform="translate(1297.90 1259.80) scale(1.0654 1.0000)" font-family="&quot;Liberation Sans&quot;,Arial,Helvetica,sans-serif" font-size="16.60" fill="#000">300</text>
<text transform="translate(1355.65 1259.80) scale(1.0189 1.0000)" font-family="&quot;Liberation Sans&quot;,Arial,Helvetica,sans-serif" font-size="16.60" fill="#000">400</text>
<text transform="translate(1220.70 1278.70) scale(1.1116 1.0000)" font-family="&quot;Liberation Sans&quot;,Arial,Helvetica,sans-serif" font-size="16.50" fill="#000"># of cells</text>
<text transform="translate(1129.10 1224.21) rotate(-90) scale(1.0461 1.0000)" font-family="&quot;Liberation Sans&quot;,Arial,Helvetica,sans-serif" font-size="17.50" fill="#000">residual of observation</text>
<text transform="translate(1381.82 1035.30) scale(1.1686 1.0000)" font-family="&quot;Liberation Sans&quot;,Arial,Helvetica,sans-serif" font-size="15.80" fill="#000">0.005</text>
<text transform="translate(1383.72 1138.40) scale(1.1613 1.0000)" font-family="&quot;Liberation Sans&quot;,Arial,Helvetica,sans-serif" font-size="15.80" fill="#000">0</text>
<text transform="translate(1381.53 1243.70) scale(1.1607 1.0000)" font-family="&quot;Liberation Sans&quot;,Arial,Helvetica,sans-serif" font-size="15.80" fill="#000">-0.005</text>
</svg></body></html>
